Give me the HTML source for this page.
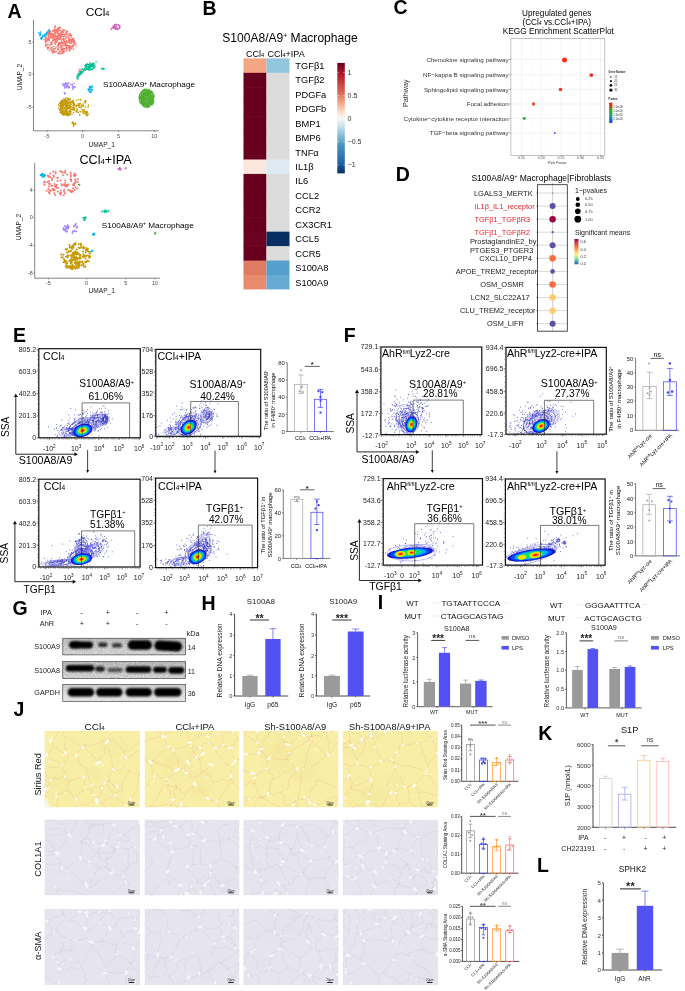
<!DOCTYPE html>
<html><head><meta charset="utf-8"><title>Figure</title>
<style>html,body{margin:0;padding:0;background:#fff;}svg{display:block;}
text{font-family:"Liberation Sans",Arial,"DejaVu Sans",sans-serif;}</style></head>
<body><svg width="685" height="991" viewBox="0 0 685 991">
<rect width="685" height="991" fill="#fff"/>
<text x="7.6" y="17.6" font-size="19.5" font-weight="bold">A</text>
<text x="97.5" y="15.5" font-size="11.8" text-anchor="middle">CCl<tspan font-size="0.62em">4</tspan></text>
<g stroke="#333" stroke-width="0.6">
<line x1="33.5" y1="19.9" x2="33.5" y2="130.8" stroke="#333" stroke-width="0.6"/>
<line x1="33.5" y1="130.8" x2="158.8" y2="130.8" stroke="#333" stroke-width="0.6"/>
<line x1="32.2" y1="42.2" x2="33.5" y2="42.2" stroke="#333" stroke-width="0.5"/>
<line x1="32.2" y1="74" x2="33.5" y2="74" stroke="#333" stroke-width="0.5"/>
<line x1="32.2" y1="107.2" x2="33.5" y2="107.2" stroke="#333" stroke-width="0.5"/>
<line x1="47.1" y1="130.8" x2="47.1" y2="132.1" stroke="#333" stroke-width="0.5"/>
<line x1="82.6" y1="130.8" x2="82.6" y2="132.1" stroke="#333" stroke-width="0.5"/>
<line x1="118.6" y1="130.8" x2="118.6" y2="132.1" stroke="#333" stroke-width="0.5"/>
<line x1="154.3" y1="130.8" x2="154.3" y2="132.1" stroke="#333" stroke-width="0.5"/>
</g>
<text x="31.5" y="44.1" font-size="5.4" text-anchor="end" fill="#4d4d4d">5</text>
<text x="31.5" y="75.9" font-size="5.4" text-anchor="end" fill="#4d4d4d">0</text>
<text x="31.5" y="109.1" font-size="5.4" text-anchor="end" fill="#4d4d4d">-5</text>
<text x="47.1" y="138" font-size="5.4" text-anchor="middle" fill="#4d4d4d">-5</text>
<text x="82.6" y="138" font-size="5.4" text-anchor="middle" fill="#4d4d4d">0</text>
<text x="118.6" y="138" font-size="5.4" text-anchor="middle" fill="#4d4d4d">5</text>
<text x="154.3" y="138" font-size="5.4" text-anchor="middle" fill="#4d4d4d">10</text>
<text x="101.7" y="147.3" font-size="6.6" text-anchor="middle" fill="#222">UMAP_1</text>
<text x="21.7" y="77" font-size="6.6" text-anchor="middle" fill="#222" transform="rotate(-90 21.7 77)">UMAP_2</text>
<path d="M47.9 44.3h0M68.4 37.6h0M47.1 41h0M63.4 49.7h0M49.5 33.4h0M66.1 45.3h0M70.7 47.6h0M57.9 39.1h0M74.1 40.1h0M52.1 33.4h0M60 42.8h0M55.3 41h0M61.8 47.2h0M69.4 43.1h0M45.8 45.7h0M46.7 40.3h0M46.4 41.5h0M51.1 43.2h0M74.5 41.3h0M66 32.6h0M56 47h0M58 44.7h0M60 33.6h0M64.5 35.1h0M72.8 38.5h0M66.1 41.5h0M68 36.9h0M68.7 40.5h0M70 45.9h0M60.4 35.1h0M66.6 45.3h0M72.2 39.1h0M64.7 45.7h0M62.1 43.3h0M60.9 36.5h0M49.3 38.5h0M63.8 51.5h0M67.5 48.9h0M66.5 46.9h0M60.9 47.8h0M72.7 39.5h0M54.1 52.6h0M61.4 49.1h0M66.6 33.6h0M71.5 48.8h0M60.8 47.7h0M60.3 34.4h0M57.8 44.7h0M69 46.6h0M59.5 51.2h0M51.8 47.6h0M69.4 39.3h0M46.1 36.2h0M61.5 46h0M70.8 35.3h0M59 46.9h0M58 29.4h0M64 53h0M67.9 35h0M54.6 43.4h0M73.8 44.5h0M59.9 52h0M58.4 52.8h0M52.1 37.6h0M64.9 51h0M65.7 44h0M45.7 37.3h0M52.8 37.1h0M65.1 38.7h0M67 42.2h0M55.4 42.5h0M63.2 48.3h0M53.9 39.5h0M49.5 50.5h0M71.5 40.3h0M54.7 32.6h0M60.8 43.3h0M73.7 42.8h0M54.4 29.8h0M71.3 42.8h0M45.8 42.7h0M52.5 52.8h0M69.2 45.7h0M57.8 29.7h0M57.9 31h0M63 30h0M51.3 49.8h0M70.7 34.7h0M47 47h0M66.7 34.3h0M52.2 36h0M48.5 36.7h0M69.9 46.3h0M73.5 41h0M57.7 33.8h0M57.9 32h0M45.8 45.7h0M70.6 46.9h0M70.8 43.3h0M51.6 42.2h0M55.5 33.1h0M47.8 33.6h0M58.9 42.8h0M55 51.3h0M60.9 46.4h0M69.4 35.8h0M45.3 45.7h0M53.1 50.5h0M62.2 49.3h0M64.1 30.3h0M66 36.2h0M51.4 38h0M66.2 48.1h0M66.4 31.7h0M55.4 29.7h0M57.9 46.6h0M51.3 43.5h0M61.2 49.3h0M51.3 35.3h0M53.3 52h0M69.4 40.6h0M61.5 42.5h0M61.2 39.7h0M56 32.4h0M54 51.9h0M64.7 42.1h0M56.7 42.1h0M62.6 36.2h0M61.1 43.6h0M51.9 35.4h0M50.4 34.1h0M64.4 30h0M56.2 36.4h0M52.5 42.3h0M69.6 42.1h0M57.5 36.3h0M57.7 48.8h0M55.4 33h0M48.9 34.3h0M48.2 48.4h0M62.8 39.4h0M71 37.1h0M66.1 47.6h0M48.6 33h0M50.6 48.1h0M69 33.8h0M68.9 38.6h0M54.9 36.9h0M56.5 30.4h0M50.7 33.3h0M62.4 53h0M74.2 40h0M45.6 38.9h0M52.7 52.3h0M64.6 35.7h0M67.9 45.6h0M46.1 38.1h0M56.4 41.7h0M60.4 38.6h0M61 36.6h0M52 51.1h0M62.8 45.2h0M45.9 40.4h0M65.9 32.7h0M69.3 38.6h0M63.3 40.3h0M61 50.4h0M55.7 51.8h0M51.8 34.6h0M65.4 33.7h0M55.4 48.6h0M67.3 31.7h0M62.7 52.6h0M70 39.7h0M52.8 39h0M48.3 39.5h0M57 40.2h0M69.9 39.8h0M47.7 48h0M49 38.1h0M57.6 38.5h0M49.3 39.6h0M73.4 38.3h0M57.7 50h0M66.1 47.4h0M64.9 30.6h0M50.4 42.5h0M63.4 50.7h0M64 39.5h0M59.4 39.6h0M61.5 47.1h0M55.6 35h0M51.5 49.3h0M69.5 48h0M66.9 47.7h0M59 47.1h0M48.9 39.9h0M51.9 47.2h0M52.9 40.6h0M62.5 51h0M51.7 34.5h0M66.2 33.6h0M63.6 36.8h0M58.2 30.3h0M66.1 37.5h0M53.1 52.5h0M62.1 53.7h0M63.3 38.5h0M59.9 52.1h0M58.7 45.4h0M64 34.4h0M60.4 37.2h0M48.5 47.4h0M65.9 42.1h0M52.9 30.6h0M64.2 40.7h0M45.5 41.1h0M46.2 41.3h0M60.5 44.6h0M61.4 43h0M48.5 38.6h0M53.6 39.5h0M61.8 46.7h0M67.3 31h0M63.3 39.8h0M73 46.1h0M45.8 44.1h0M54.1 49.1h0M48.9 40.7h0M57.6 40.6h0M54.7 30.6h0M63.4 49.1h0M58.3 33.6h0M61.1 46.3h0M57.1 41.4h0M69.9 34.5h0M55 30.4h0M52.2 35.7h0M50.1 36.3h0M72.8 40.3h0M58.2 53.4h0M58.5 30.5h0M62.9 34.2h0M70.6 34.4h0M54.4 31.2h0M59.9 33.6h0M58.3 38.2h0M53.2 48.7h0M68.2 42h0M51.1 33.9h0M60.7 53.6h0M54.5 35.2h0M52.7 33.5h0M49.5 39.9h0M71.4 41.5h0M54.9 31.1h0M61.3 41.3h0M49 34.4h0M58.6 49.4h0M65.5 43.2h0M55.5 44.3h0M58.9 53.4h0M48.5 38.7h0M70.4 39.6h0M71.4 41.2h0M60.6 38.3h0M48 35.2h0M73.4 44.9h0M64.7 48.7h0M64.3 49.2h0M56.1 39.6h0M68.5 38.8h0M47.2 39.9h0M53.5 46.5h0M52.5 33.8h0M56.3 51.8h0M58.5 42.9h0M59.1 44.1h0M66.5 50.5h0M47.7 49.1h0M59 38.7h0M74 40.6h0M72.2 46.8h0M49.3 45.2h0M66.5 40.5h0M44.2 39.7h0M57.2 33.1h0M72.9 40h0M54.8 38.9h0M51.6 35.6h0M60 44.2h0M53.6 40.7h0M47.1 45.1h0M51.4 43.3h0M50.3 37.5h0M61 32.5h0M74.1 41.3h0M58.3 35.4h0M70.1 49.2h0M61.6 31.8h0M53.9 46.5h0M54.4 32.9h0M48.7 36.1h0M59.1 36.1h0M59.1 53.9h0M71.5 35.6h0M62.7 42.3h0M57.7 49.6h0M55.5 38.7h0M55 40.6h0M69.9 46.8h0M47.3 38.4h0M51.5 47.7h0M61.2 48.6h0M58.5 30.1h0M63.8 43.4h0M63.4 32.3h0M59.8 35.8h0M52 44.4h0M62.5 34.4h0M50.2 31.3h0M53.8 49.7h0M58.6 29.5h0M50.5 44.8h0M70.9 48.2h0M62.9 43.2h0M49.1 38.1h0M55.7 35.2h0M59.7 38.1h0M61.9 51.4h0" stroke="#F8766D" stroke-width="1.64" stroke-linecap="round" fill="none"/>
<path d="M59.8 34.9h0M55 27.2h0M55.4 35.6h0M51.7 37.6h0M54.2 34.8h0M54.5 27.9h0M62.8 29.7h0M60.5 30.6h0M57.4 29.3h0M53.9 37h0M62.9 30.4h0M56.1 37.2h0M52.8 36.2h0M52.1 35.7h0M58 37.9h0M57.7 28.1h0M59.1 28.5h0M59.1 38.5h0M59.1 30.5h0M61.7 33.7h0M50.2 31.6h0M62.3 31.8h0M56.7 31.3h0M49.2 31.2h0M58 34h0M55.4 26.4h0M61.5 35.8h0M60.3 37.8h0M53.7 30.2h0M57.3 39h0M49.1 32.2h0M52.3 35.5h0M62.4 31.9h0M50.1 33.2h0M54.8 27.2h0M60.4 30.7h0M59 27.9h0M60.3 28h0M59.8 27.3h0M62.2 31.5h0M49.3 32.1h0M57.7 28.7h0M53.3 34.3h0M55.6 26h0M53.7 35h0M57.5 37.4h0M53.9 39.7h0M60.1 34.4h0M60.8 36.7h0M56.5 30.1h0M61 34.8h0M49.4 29.6h0M58.6 33.5h0M57.5 36h0M56.6 38.9h0M52.9 31.1h0M57.7 36.4h0M59.3 38.4h0M53.8 37.8h0M58.3 28.6h0" stroke="#F8766D" stroke-width="1.64" stroke-linecap="round" fill="none"/>
<path d="M69.6 50.6h0M73.3 41.9h0M63.9 42h0M67 44.4h0M76 46.1h0M71.3 39.9h0M65.4 43.1h0M69 50.9h0M68.3 41.1h0M74.5 44.3h0M66 48.5h0M68.8 38.7h0M71.4 46.3h0M68.6 47.2h0M73.2 40.3h0M65.8 38.7h0M69.5 49.1h0M73.3 49h0M75.9 44.1h0M73.3 38.8h0M72.9 45.8h0M69.6 41.9h0M65.6 44.6h0M74.8 42.5h0M72.2 41h0M71 39.6h0M71.7 42.9h0M71.4 41.2h0M65.5 42.6h0M73.3 49.3h0M68.6 47.6h0M73.2 45.8h0M64.6 45.2h0M66.6 48.5h0M73.2 46.7h0M63.8 45.6h0M72.5 39h0M74 44.3h0M69.2 40.7h0M66 42.1h0" stroke="#F8766D" stroke-width="1.64" stroke-linecap="round" fill="none"/>
<path d="M40.8 32.1h0M40.3 35.1h0M41.2 38.3h0M40.7 38.4h0M41.4 37.4h0M42.4 37.3h0M44.9 35.7h0M40.3 33.8h0M44.9 34.8h0M42.4 38h0M40.1 33.9h0M40 34.3h0M47.2 32.4h0M44.8 34.4h0M41.5 39.2h0M38.7 32.9h0M49 30.2h0M44.9 36.3h0M41.4 37.6h0M40.6 38.4h0M46.5 33h0M46.7 33.5h0M41.3 38h0M46.3 34.7h0M45.7 34.3h0M48 31.4h0M40 34.3h0M44.5 36.4h0M41.3 38.2h0M49.7 32.5h0M42.7 36.8h0M42.9 35.3h0M46.4 33.1h0M46.4 34.7h0M39.8 35.5h0M40.4 35.1h0M40.6 34.4h0M47.9 31.3h0M44.9 34.6h0M44.1 36.3h0" stroke="#00B6EB" stroke-width="1.64" stroke-linecap="round" fill="none"/>
<path d="M117.3 29.2h0M118 28.7h0M115.1 26.7h0M114.6 27h0M114.5 26.5h0M116 26.7h0M115.8 26.2h0M119.3 26.6h0M114.1 27.6h0M114.3 25.5h0M116.7 24.6h0M112.7 27.5h0M118.3 24.8h0M114.4 28.3h0M113.2 26.1h0M113.8 26.8h0M113.2 28.4h0M116.1 27.8h0M115.9 24.4h0M116.2 24.9h0M116.5 25.5h0M115.7 26.8h0M118.3 28.6h0M114.1 27.2h0M119.5 28h0M114.7 27h0M115.7 29h0M116.6 28h0M119.7 25.6h0M114.7 24.8h0M113.5 28.5h0M117.1 29.8h0M113.2 26h0M119.3 28.8h0M118.5 28.7h0M116.6 27.2h0M116.6 28.8h0M116.1 27.9h0M119.2 25.5h0M114.7 28.3h0M115.8 26.9h0M120 27.8h0M115.5 29.2h0M119.9 26h0M114.8 27.4h0" stroke="#D068C0" stroke-width="1.64" stroke-linecap="round" fill="none"/>
<path d="M110.9 29.5h0M111.4 28.4h0" stroke="#F8766D" stroke-width="1.64" stroke-linecap="round" fill="none"/>
<path d="M91.4 65.4h0M82.2 71.7h0M79.5 73h0M93.7 64.4h0M88.7 67.6h0M92.8 63.7h0M90 65.2h0M78.5 77h0M89.5 66.2h0M79.6 71.3h0M81.9 68.9h0M87 68.1h0M93.8 63.2h0M90.4 67.9h0M83 69.5h0M77.2 76.2h0M81 72.3h0M81.5 71.4h0M80.7 72.1h0M93.9 64.1h0M84.7 68.3h0M93.6 63.9h0M85.7 66.9h0M88.3 64.7h0M86.4 67.2h0M86.3 68.1h0M91.6 66.2h0M78.8 73.7h0M91.2 64.1h0M85.4 70.3h0M86.8 69h0M87.3 64.5h0M79.8 74.2h0M84.2 69.2h0M81.2 72.2h0M92.6 63.5h0M91.2 65.5h0M82.9 72.1h0M86.6 66.5h0M88.6 68.2h0M79.5 74.8h0M89.7 64h0M77.2 77h0M80.5 73.3h0M85.4 65.6h0M77.5 75.2h0M78 79.2h0M78.4 75.4h0M84.3 70.1h0M96.1 61.7h0M80.4 74.5h0M78.2 73.5h0M81.3 73.6h0M88.3 67h0M88.8 66.5h0M89.9 64.6h0M92.2 64.4h0M90.9 65.7h0M79.8 73.9h0M86.6 68.5h0M79.2 73.5h0M86.1 69.5h0M93.1 65.3h0M77.9 75.2h0M82 72.5h0M79.1 74.1h0M89.2 66.5h0M80.3 74.2h0M90.1 62.7h0M77.1 78.3h0M79.1 75.3h0M90.3 65h0M83.5 70.8h0M79.1 74.5h0M80.7 72.4h0M78.9 74.1h0M89.3 64.9h0M79.7 75.2h0M82 71.7h0M80.1 74.1h0" stroke="#00C094" stroke-width="1.64" stroke-linecap="round" fill="none"/>
<path d="M90.3 67.7h0M94.7 67.4h0M85.1 65.7h0M93.2 66.7h0M87.2 64.1h0M91 69.8h0M87.1 64h0M92 65.8h0M88.8 66.2h0M86.6 68h0M93.5 67.8h0M88 69.2h0M89.6 68.4h0M86.6 68.4h0M92.4 69.5h0M90.1 68.1h0M87.9 68.9h0M92.7 69.2h0M88.7 64.5h0M89.7 66.5h0M87.2 68.3h0M93.5 67.9h0M94 67.8h0M86.5 65.8h0M88.6 68.6h0M93.5 67.3h0M93.5 65.3h0M89.6 69.9h0M91.6 69.2h0M85.6 64.7h0M87 69h0M94.9 65.9h0M86.7 65h0M86.7 68.2h0M89.1 70.1h0M92.7 65.5h0M91 66.6h0M92.8 68.9h0M88.7 69h0M92.3 66.8h0" stroke="#00C094" stroke-width="1.64" stroke-linecap="round" fill="none"/>
<path d="M103.3 69.1h0M102.7 68.5h0M104.2 68.8h0M102.4 69h0M101.7 68.8h0M101.8 68.6h0M101.6 68.6h0M103.9 68.7h0" stroke="#00C094" stroke-width="1.64" stroke-linecap="round" fill="none"/>
<path d="M79 71.8h0M79.3 71.6h0M79.4 69.3h0M80.8 70.1h0" stroke="#F8766D" stroke-width="1.64" stroke-linecap="round" fill="none"/>
<path d="M68.4 87.6h0M63.1 85.6h0M64.9 86.8h0M66.5 83.2h0M66.7 87.1h0M65.6 86.7h0M64.9 85.4h0M67.6 85.8h0M69.5 87.1h0M68.8 86.9h0M66.9 83.3h0M68.7 88h0M67.2 85h0M66.4 87.8h0M67.3 83.6h0M66 83.9h0M66 83.7h0M64.5 87.9h0M68.8 83.1h0M63.8 84.6h0M65.6 83.1h0M68.5 83h0M68.5 86.9h0M65.5 84.2h0M66.7 85.8h0M62.8 83.9h0M68.1 85.3h0M65.4 83.6h0M64.6 84h0M70.6 84.2h0" stroke="#A58AFF" stroke-width="1.64" stroke-linecap="round" fill="none"/>
<path d="M75.1 87.4h0M73.8 87h0M73.1 89.4h0M74.2 86.5h0M73.3 87h0M72.2 85.9h0M72.7 87.9h0M74.1 83.5h0M73.2 88.6h0M72.2 84.4h0" stroke="#A58AFF" stroke-width="1.64" stroke-linecap="round" fill="none"/>
<path d="M65.2 93.4h0M64.2 92.5h0M64.6 93h0M64.7 93.9h0M65 93.2h0" stroke="#A58AFF" stroke-width="1.64" stroke-linecap="round" fill="none"/>
<path d="M89.7 89h0M90.4 89.4h0M89.7 88.3h0M89.6 87.5h0M90.9 91.5h0M89.7 90.3h0M91.2 89.2h0M91.7 87.6h0M91.6 89.7h0M88 89.3h0M91.3 92.3h0M88.9 89.1h0M91.2 86.7h0M92.4 89.9h0M89.5 86.4h0M90.2 92.5h0M92.3 86.1h0M88.4 90.1h0M90.4 87.3h0M91.7 89.2h0M91.1 89.6h0M89.2 91.5h0" stroke="#00B6EB" stroke-width="1.64" stroke-linecap="round" fill="none"/>
<path d="M144.7 104.3h0M150.2 98.5h0M147.5 98h0M140 96.8h0M148.4 90.6h0M141.2 103.1h0M149.8 91.1h0M149.1 97.9h0M151.3 96.4h0M145.6 93.8h0M147.7 97.4h0M143.5 96.2h0M143.2 101.8h0M142.9 91.3h0M142.7 103.7h0M144.3 102.1h0M150.3 95.3h0M150.4 101.2h0M146.5 94h0M146.5 91.4h0M145.3 94.7h0M149 100.3h0M143.8 103.1h0M152.1 98.6h0M143.2 101.2h0M139.5 96.1h0M148.7 106.5h0M143.9 105.4h0M152.6 104h0M140 102h0M147.6 104h0M145.8 94.5h0M145.8 105.7h0M150.8 96.5h0M148.5 103.2h0M149.6 98h0M143.6 94h0M144.5 94.9h0M141.4 92.4h0M150.4 92.5h0M141 98h0M151.9 103.7h0M144.8 92.4h0M144.2 93.1h0M144 101.1h0M142.1 94.1h0M145.3 98h0M143.2 93.8h0M141.8 94.3h0M149.4 96.7h0M139.3 100h0M146.4 93.1h0M146.1 89.1h0M140.9 103.1h0M152 104.7h0M143 98.4h0M150 91.9h0M153.1 95h0M148.3 91.9h0M148.6 98.1h0M151.1 92.5h0M146.7 106.5h0M141.4 100.1h0M148.9 95.2h0M145.6 105.5h0M151.8 101.3h0M147.9 91.9h0M147 106.4h0M150.8 91.8h0M139.8 95.5h0M147.6 94.8h0M145.1 100.4h0M151.1 99.4h0M151.3 91.9h0M149.1 100.8h0M141.3 103.7h0M141.3 92.3h0M153.5 102.2h0M148.3 105.2h0M151.3 92.7h0M148.7 105.3h0M145.8 98.7h0M144.4 102.6h0M143.9 94.7h0M141.6 93.6h0M147.8 101.2h0M144.9 92.3h0M148.5 100.5h0M152.2 95.6h0M144.6 101.4h0M153 98h0M146.3 92.7h0M144.9 103.7h0M150.4 104h0M140.6 102h0M142.4 101.6h0M139.3 97.8h0M143.1 104.5h0M147.2 105.2h0M145.2 106.6h0M145.1 106.5h0M144.4 92.6h0M151 95.9h0M146.5 91.1h0M144.9 98.9h0M143.2 100.6h0M139.8 101.5h0M145 105.6h0M144.9 94.2h0M144.4 100h0M149.7 95.4h0M142.8 100.8h0M149.7 90.5h0M142 94.5h0M152.5 103.3h0M150.6 101.1h0M142.1 103.7h0M144.5 93.5h0M152.6 92.8h0M152.7 99.3h0M142.2 99.3h0M142.5 99.3h0M143.9 91.9h0M154.1 96.5h0M151.5 97.9h0M149.6 91.7h0M144.4 89.4h0M151.4 100.7h0M141.7 102.5h0M148.2 107.2h0M147.9 103.6h0M149.7 102.7h0M146.6 95.5h0M149.8 104.6h0M142 92.7h0M146.6 106.5h0M145.9 90.2h0M150.5 102.5h0M153.7 99h0M153.5 95.2h0M151.2 99h0M141.3 96.7h0M151.9 103.5h0M145 104.4h0M150.8 103.1h0M148.2 100.2h0M142.6 97.8h0M147.3 93.7h0M145.2 99.3h0M147.7 104.3h0M141.9 96h0M148.2 95.8h0M148.5 95.3h0M152.1 97h0M141.8 102.2h0M151.6 91.4h0M146 98.7h0M150.6 105h0M146.1 90.5h0M149.8 103.8h0M149.2 98.7h0M144.4 106.8h0M142.3 91.6h0M151.4 99.9h0M150.1 100.4h0M152.3 103.9h0M144.2 103.9h0M142.6 91.1h0M152.1 95.9h0M139.5 98.1h0M143.4 101.3h0M146.4 93.5h0M143.3 102.6h0M142.2 99h0M142.1 100.8h0M153.3 100.8h0M151.8 100.7h0M142.1 96.5h0M147.1 101.1h0M143.7 101.9h0M143.1 98.6h0M146.7 91.8h0M151.5 98.5h0M147.3 98h0M140.5 93.2h0M142.8 103.5h0M143.9 101.9h0M142.2 93.7h0M144.6 104.2h0M140.1 97.4h0M148.9 99.1h0M146.7 103h0M148.1 92.4h0M149.8 93.7h0M145.3 105.6h0M153.2 102.9h0M148.8 93.6h0M143.9 105.8h0M148.2 91h0M152.9 101h0M152.4 100.4h0M139.8 95.4h0M146 97.1h0M152.7 95h0M146.2 97.9h0M146.3 92.3h0M143.5 90h0M148.5 96.9h0M147.7 92.2h0M146.7 92.5h0M141.9 100.2h0M149.9 101.7h0M146.5 95.8h0M151.9 103.8h0M143.9 92.3h0M148.7 100.3h0M144 106.6h0M139.9 94.9h0M147.9 103.9h0M139.9 96.3h0M151.8 104.2h0M145.4 98.5h0M142.5 100.5h0M143.3 90.3h0M140.4 98.5h0M141.6 103.5h0M151.9 103.1h0M149.6 104.3h0M148 103.4h0M149 102.9h0M142.1 94.6h0M142.3 102.7h0M149.2 93.6h0M142.1 95h0M151 97.6h0M145.5 94h0M146.2 106h0M143.3 96.1h0M153 101.5h0M142.1 103.6h0M141.3 101.2h0M139.7 94.9h0M151 94.9h0M143.1 98.6h0M146.7 95.3h0M144.3 106.1h0M152.9 99.9h0M141.6 95.4h0M145.2 101.3h0M153 95.8h0M147.5 95.5h0M147.5 94h0M148.4 104.6h0M144.7 96.2h0M147.2 91.2h0M152.6 93h0M145 93h0M152.8 95.8h0M144.9 106.4h0M146.1 93.5h0M146.7 99.5h0M143 97.1h0M145.7 102.7h0M150.3 102.9h0M146.1 103.1h0M145.8 104.7h0M148.8 95.6h0M151.2 91.6h0M142.4 93.9h0M146.1 91.5h0M142.8 90.8h0M147.3 93.6h0M153.6 101.2h0M142.3 104.4h0M147.2 104.4h0M142.2 103.9h0M151.8 95.9h0M142.6 96h0M147.5 107.1h0M152.4 103.9h0M145.6 96.1h0M148.7 96.5h0M144.3 96.9h0M150.9 97.8h0M148 96.6h0M145.7 96.1h0M152.3 99.5h0M153 97.4h0M150.8 91.8h0M144.6 97.9h0M143.5 97.5h0M142.2 97.3h0M143.3 98.2h0M145.3 92.5h0M144.6 98.4h0M141 98.8h0M152.3 97h0M149.5 102h0M143.4 104.8h0M153.7 94.8h0M153.7 95.5h0M151.3 91.3h0M152 99h0M141.4 94.1h0M142.2 93.5h0M148.7 97.1h0M139.3 97.1h0M149.2 98.8h0M151.8 91.6h0M148 98.4h0M149.7 91.5h0M141 97.3h0M147 89.9h0M148.7 98.2h0M148.8 89.5h0M149.1 93.1h0M144.4 102.9h0M153.3 99h0M146.3 105.2h0M142.4 97.3h0M144.4 92.7h0M147.4 106.8h0M148 101.4h0M146.6 104.6h0M147.6 93h0M147.2 105.6h0M146.3 104.8h0M146.5 106.8h0M148.2 102.3h0M145.3 103.2h0M145.8 90.7h0M148.1 91.7h0M152.5 102h0M146.8 102.5h0M140.2 102.9h0M143.6 102.2h0M153.1 93.3h0M144.6 100.4h0M148.4 90.3h0M143.1 105.2h0M143.7 101.6h0M141.2 93.8h0M139.9 99.5h0M152 98.8h0M145.3 99.8h0M149.2 96.4h0M148.7 106.5h0M153.8 96h0M142.7 105.6h0M150.7 104.2h0M149.8 96.8h0M150.8 103.9h0M151.5 92.9h0M151.6 96.3h0M144.9 100.5h0M145.6 107h0M149.6 99.9h0M145.7 99.9h0M145.6 101.9h0M150.7 102.9h0M141.2 96.5h0M147.1 91.5h0M148.8 97.3h0M147.1 100.7h0M144.3 105.7h0M151.5 95.2h0M149 102.7h0M143 96.1h0M148.7 89.5h0M141 100h0M149.6 93h0M149.4 106.5h0M147.9 98h0M147.1 92.4h0M149.6 99.4h0M149.7 105.2h0M147 99.5h0M148 106.3h0M140.6 98.2h0M143.5 99.1h0M150.9 98.7h0M150.4 99.4h0M143.3 94.4h0M140.8 99.4h0M144.8 103.2h0M151 93.5h0M141.9 101.6h0M142.5 99.5h0M149.8 95.9h0M153.2 94.9h0M149 95.7h0M139.2 97.7h0M145.9 101.9h0M146.1 93.8h0M144.1 96.4h0M150.5 96.6h0M151.9 102.6h0M143.4 103.8h0M139.4 98.4h0M142 97.7h0M152.1 98.3h0M146 105.1h0M143.2 93.6h0M151.2 101.7h0M140.7 99h0M150.7 97.3h0M144.6 99.1h0M147.8 94h0M149.9 91h0M146.5 106.9h0M141.7 98.1h0M139.7 95.2h0M141.4 98.6h0M144.9 106.4h0M142.3 98.1h0M147.9 102.2h0M150.1 91.1h0M153.9 97h0M144 90.7h0M145.1 90.2h0" stroke="#52B030" stroke-width="1.64" stroke-linecap="round" fill="none"/>
<path d="M68.1 103.4h0M68.9 102.4h0M67.3 115.6h0M73 107.9h0M62.8 113.7h0M60.8 101.5h0M73.2 104h0M73.4 109.9h0M73.5 112.7h0M70.3 103.4h0M69.8 113.9h0M67.4 98.1h0M64.8 104.8h0M66.7 104.8h0M72 101.2h0M68.8 98.8h0M59.5 103.3h0M63.2 102.2h0M63.2 110.6h0M70.4 107.5h0M68.2 102.9h0M62.7 100.5h0M64.9 100.9h0M65.2 111.3h0M69.6 113.7h0M63.8 99h0M63 114.6h0M70.9 104.4h0M73.4 104.9h0M74.3 105.2h0M64.8 111.1h0M61.1 106.1h0M74.7 108.8h0M61.3 105.6h0M66.9 102.5h0M69 113.5h0M67.3 112.1h0M68.8 107.9h0M63.2 112.2h0M73.5 104.7h0M62.3 109.9h0M67.5 113.2h0M69.9 106.2h0M60.6 110h0M67.5 100.3h0M61.8 100.2h0M70.5 104.4h0M58.8 104.7h0M63.4 106.3h0M67.2 104.9h0M70.7 112.4h0M66 114.6h0M66.3 102h0M67.7 99.8h0M65.4 101.1h0M64.5 108.2h0M58.8 108.4h0M68.5 105.6h0M71 109h0M65.1 101.4h0M70.9 111.2h0M60.4 103.6h0M61.4 111.2h0M64.2 100.6h0M73.9 109.2h0M68.4 108.5h0M65.9 107.2h0M71.8 109.5h0M64.3 107.6h0M74.5 104.6h0M60.5 107.6h0M63.6 115.2h0M70.4 110.4h0M68.4 115.2h0M61.6 106.7h0M60.6 112h0M66.6 115h0M65.5 101.2h0M63.3 111.4h0M62.4 108.5h0M63.1 102.9h0M64.5 114.5h0M61.4 108.7h0M71.2 102.8h0M61.3 113h0M74.5 105.8h0M61.3 111.3h0M66.7 102.1h0M65.7 98.3h0M63.1 100.9h0M60.7 109.9h0M68.1 114.8h0M58.8 104.8h0M63.1 113.4h0M72.5 107.6h0M67.4 102.4h0M64 104.2h0M60.2 112.3h0M69.7 115.1h0M73 109.5h0M70.4 99.6h0M61.9 111.4h0M65.3 99.4h0M66.9 100.2h0M66.9 114.6h0M61.2 104.5h0M70.1 106.7h0M67.9 102h0M65.8 98.3h0M66 113.7h0M61.1 105.9h0M70.3 113.2h0M72.4 102.5h0M65.1 114.8h0M64.2 108.7h0M62.5 103.2h0M58.7 105.3h0M59.5 103.3h0M62.5 113.3h0M71.1 109.2h0M64.5 100h0M69.5 102.1h0M66.2 112.3h0M65.7 106.7h0M62.1 112.2h0M69.8 111h0M72.7 100.8h0M67 110.8h0M68.8 108.8h0M69 99.6h0M66.5 113.3h0M66.5 105.6h0M70.3 99.4h0M68.7 114.3h0M65.5 102h0M69.9 104.1h0M62.3 107.8h0M59.8 109.9h0M61 104h0M71 106.7h0M68.1 114h0M71.9 114.2h0M63.9 112h0M60 110.4h0M73 103.2h0M69.4 111.7h0M65.9 103h0M72.9 101.4h0M67.8 112.4h0M68 114.6h0M73.8 109.2h0M74.2 110.2h0M60.7 105.2h0M68.5 108.1h0M61.9 114.1h0M60.6 102.1h0M69.5 108.1h0M74 108h0M69 111.2h0M63.5 100.5h0M64.4 112.5h0M65.5 113.5h0M63.9 111.2h0M67 111.9h0M66.9 108.1h0M64.6 113.4h0M66.7 110h0M70.3 101.9h0M62.3 106.6h0M72.6 101.9h0M62 101.9h0M64.9 101h0M62.5 109.9h0M61.2 106.8h0M60.9 105.8h0M68.9 98.7h0M67.2 108.3h0M66.5 108.5h0M68.9 100.2h0M66.2 110.8h0M72.3 101h0M64.1 100.2h0M66.8 100.9h0M61.9 111h0M73.2 100.9h0M73.7 102.9h0M70.8 109h0M73.2 105.8h0M62.3 106.5h0M71 102.1h0" stroke="#C49A00" stroke-width="1.64" stroke-linecap="round" fill="none"/>
<path d="M66.4 105.9h0M65.6 106h0M66.9 109h0M63.9 104.5h0M60.5 103.8h0M61 108.1h0M61.8 103.5h0M66.6 109.6h0M68.3 103.1h0M65.7 109.9h0M62.2 105.1h0M61.5 103.8h0M67.3 106.3h0M63.7 103.7h0M68.9 108.3h0M62.5 111.1h0M63.5 105.3h0M63.3 103.7h0M66.7 101.3h0M65.1 104.6h0M69.4 107.1h0M66.4 108.1h0M67 106.5h0M60.2 107h0M63.9 108.8h0M66 103.7h0M62.4 102.5h0M66 105.5h0M62.1 104.6h0M66.1 103.3h0M64.5 103.5h0M60.1 106.2h0M65.2 109.2h0M68.6 103.6h0M67 107h0M65.2 109.2h0M67.3 101.8h0M69.1 105.4h0M62.9 103.3h0M64.3 101.9h0M68.3 107.5h0M62.3 108.9h0M65.8 106.3h0M68 105.6h0M64.1 108h0M61 102.8h0M66.5 109.8h0M60.6 106h0M62.8 104.8h0M66.6 110.7h0M69.1 108.6h0M67.1 106.5h0M60.5 107.1h0M61.8 102.5h0M65.3 100.9h0M69.3 107.7h0M66.2 107.9h0M65.8 106.2h0M67.2 103.4h0M65.9 106.7h0" stroke="#C49A00" stroke-width="1.64" stroke-linecap="round" fill="none"/>
<path d="M84.5 101.9h0M82.3 106.2h0M84.3 109.8h0M82 109.5h0M83 113.1h0M82.6 109.9h0M76.2 105.9h0M84.6 111.9h0M76 106.8h0M79.4 107.3h0M78.4 104.7h0M80.6 107.7h0M85.7 103h0M76.4 110.7h0M83.7 105.9h0M76 111.5h0M76.3 111.8h0M82.4 106.1h0M80.1 111.2h0M81 99.9h0M78.6 99.7h0M83 111.6h0M85.2 101.4h0M87 112.1h0M80.6 99.6h0M77 111.7h0M88.3 105.1h0M74.3 103.5h0M88.3 107h0M76.6 100.5h0M84.1 111h0M78.3 105.9h0M81.4 105h0M78.1 103.9h0M78.2 112.6h0M82.9 112h0M86 100.8h0M80.6 111.8h0M79.8 103.7h0M83.1 104.1h0M76.6 105.4h0M81.3 107h0M85.6 107.1h0M79.7 114.9h0M79.7 105.4h0M80.2 103.2h0M74.2 107.8h0M85.8 100.9h0M77 109.1h0M77.4 109.7h0" stroke="#C49A00" stroke-width="1.64" stroke-linecap="round" fill="none"/>
<path d="M86.4 112.3h0M86.1 113.1h0M87 111.6h0M87.1 115.9h0M86.7 114.4h0M85.6 114.6h0M86.3 112.1h0M85.4 111.8h0M87.2 114.3h0M88.2 114.4h0M87.4 112.2h0M84.3 113.3h0" stroke="#C49A00" stroke-width="1.64" stroke-linecap="round" fill="none"/>
<path d="M73.4 124.8h0M73.8 123.9h0M74.1 124.6h0M74.3 124.7h0M73.2 124h0M72.3 122.9h0M73.5 124.9h0M73 122.4h0M75.3 123h0M72.1 123.1h0M73 122.1h0M73.5 126.3h0M72.9 123h0M75.7 124.3h0" stroke="#C49A00" stroke-width="1.64" stroke-linecap="round" fill="none"/>
<text x="103" y="87.2" font-size="7.4" textLength="92" lengthAdjust="spacingAndGlyphs">S100A8/A9<tspan font-size="4.5" dy="-2.6">+</tspan><tspan dy="2.6"> Macrophage</tspan></text>
<text x="105.5" y="164.4" font-size="12.6" text-anchor="middle">CCl<tspan font-size="0.62em">4</tspan>+IPA</text>
<g stroke="#333" stroke-width="0.6">
<line x1="34.7" y1="162.9" x2="34.7" y2="278.2" stroke="#333" stroke-width="0.6"/>
<line x1="34.7" y1="278.2" x2="160" y2="278.2" stroke="#333" stroke-width="0.6"/>
<line x1="33.4" y1="190" x2="34.7" y2="190" stroke="#333" stroke-width="0.5"/>
<line x1="33.4" y1="217.5" x2="34.7" y2="217.5" stroke="#333" stroke-width="0.5"/>
<line x1="33.4" y1="245.2" x2="34.7" y2="245.2" stroke="#333" stroke-width="0.5"/>
<line x1="33.4" y1="272.8" x2="34.7" y2="272.8" stroke="#333" stroke-width="0.5"/>
<line x1="48.4" y1="278.2" x2="48.4" y2="279.5" stroke="#333" stroke-width="0.5"/>
<line x1="86.4" y1="278.2" x2="86.4" y2="279.5" stroke="#333" stroke-width="0.5"/>
<line x1="125.8" y1="278.2" x2="125.8" y2="279.5" stroke="#333" stroke-width="0.5"/>
<line x1="155" y1="278.2" x2="155" y2="279.5" stroke="#333" stroke-width="0.5"/>
</g>
<text x="32.7" y="191.9" font-size="5.4" text-anchor="end" fill="#4d4d4d">4</text>
<text x="32.7" y="219.4" font-size="5.4" text-anchor="end" fill="#4d4d4d">0</text>
<text x="32.7" y="247.1" font-size="5.4" text-anchor="end" fill="#4d4d4d">-4</text>
<text x="32.7" y="274.7" font-size="5.4" text-anchor="end" fill="#4d4d4d">-8</text>
<text x="48.4" y="285.4" font-size="5.4" text-anchor="middle" fill="#4d4d4d">-5</text>
<text x="86.4" y="285.4" font-size="5.4" text-anchor="middle" fill="#4d4d4d">0</text>
<text x="125.8" y="285.4" font-size="5.4" text-anchor="middle" fill="#4d4d4d">5</text>
<text x="155" y="285.4" font-size="5.4" text-anchor="middle" fill="#4d4d4d">10</text>
<text x="101.7" y="292.5" font-size="6.6" text-anchor="middle" fill="#222">UMAP_1</text>
<text x="20.9" y="227" font-size="6.6" text-anchor="middle" fill="#222" transform="rotate(-90 20.9 227)">UMAP_2</text>
<path d="M59.8 193.2h0M47.4 182.2h0M67.4 184.6h0M48.7 175.9h0M77.9 182.1h0M57.8 191.6h0M44 182.4h0M46.6 190.8h0M49.1 183.7h0M49.7 183.8h0M65.1 182.8h0M56.7 185h0M57.8 178.1h0M68.3 189.9h0M47.7 175.7h0M51.3 185.3h0M48.9 192.2h0M61.5 184.2h0M70.9 176.6h0M65.7 186.5h0M73.7 175.4h0M75.4 187.2h0M63.9 191.6h0M57.6 180.9h0M71.1 179.7h0M71.4 192.2h0M63.8 184.4h0M53.5 175.2h0M74.7 175.8h0M62.1 185.6h0M50.6 177.2h0M55.3 195.1h0M64.9 193.3h0M77.3 188.6h0M75.2 179.4h0M54.1 193.2h0M74.9 175.9h0M74.1 185.2h0M70 190.5h0M77.8 178.9h0M61.1 192.8h0M57.8 187.9h0M60.3 171h0M54.6 190.3h0M55.7 171.9h0M54.6 183.9h0M67.5 185.9h0M67.2 174.4h0M53.9 176.4h0M55.6 187h0M75.6 181.1h0M72 191h0M48.8 176.7h0M62.8 172.4h0M74.4 173.5h0M48.3 188.8h0M52.4 188.9h0M50.8 190.9h0M54.2 189.2h0M70.7 172.9h0M53.2 171.7h0M49.5 189.9h0M60.9 190.4h0M74.7 189.9h0M70.2 179.3h0M56.3 186h0M70.5 191.2h0M65.3 180.3h0M60.5 194.6h0M63.7 195.3h0M53.1 190.2h0M64.1 189.7h0M52.1 186.1h0M60.6 180.5h0M50.1 173.5h0M57.2 188h0M64.9 185.4h0M64.9 172.7h0M73.7 183.7h0M52.3 178.4h0M73 184.7h0M49.6 193.4h0M49.4 192.8h0M70.7 175.3h0M73 191.4h0M73 188.2h0M65.7 185.2h0M54.6 185.6h0M75.4 182.3h0M75.8 174.8h0M61.8 172h0M44.5 184.8h0M57.3 178.1h0M49 181.2h0M45 181.7h0M55.6 173.3h0M65.2 170.9h0M67.1 185.6h0M68.3 184.4h0M71.2 180.9h0M49 186.2h0M51.8 180h0M63 175.2h0M70.6 172.8h0M75.1 182.9h0" stroke="#F8766D" stroke-width="2.0" stroke-linecap="round" fill="none"/>
<path d="M44.5 176.1h0M43.7 175.6h0M42.7 174.1h0M41.7 174.4h0M41.4 175.2h0M41.3 175.5h0M42.1 174.8h0M43.2 175.8h0M40.6 175h0M45 175.3h0M43.3 174.5h0M43.7 176.5h0M43.5 175.2h0M42.6 173.9h0M43.6 175h0M43.2 175.7h0M42.8 176.8h0M44 174.7h0" stroke="#00B6EB" stroke-width="2.0" stroke-linecap="round" fill="none"/>
<path d="M120.8 169.2h0M120.1 169.7h0M119.7 167.7h0M118.8 169h0M118.8 168.8h0M118.4 169h0" stroke="#D068C0" stroke-width="2.0" stroke-linecap="round" fill="none"/>
<path d="M125.9 168.1h0M125.7 168.4h0" stroke="#D068C0" stroke-width="2.0" stroke-linecap="round" fill="none"/>
<path d="M79.4 184.8h0M78.9 184.8h0" stroke="#52B030" stroke-width="2.0" stroke-linecap="round" fill="none"/>
<path d="M155 233.7h0M155.3 232.8h0M154.9 233.4h0" stroke="#52B030" stroke-width="2.0" stroke-linecap="round" fill="none"/>
<path d="M102.1 211.5h0M106.5 211.7h0M105.6 210.4h0M104.7 211.3h0M108.4 211.1h0M104.5 212h0M104.4 210.7h0M105.1 211.6h0" stroke="#00C094" stroke-width="2.0" stroke-linecap="round" fill="none"/>
<path d="M85.2 217.6h0M84.6 220h0M84.2 219.9h0M85.3 218.2h0M85.7 217.6h0M83.4 218.1h0" stroke="#00C094" stroke-width="2.0" stroke-linecap="round" fill="none"/>
<path d="M67.5 227.4h0M67.8 227.9h0M66.5 226.7h0M65.1 230.5h0M67.8 225.2h0M67.1 231.6h0M67.9 225.9h0M68 228.7h0M65.3 230.5h0M68.9 226.9h0M66.5 227h0M66.1 231.4h0M65 229.6h0M66.8 228.3h0M63.5 229.5h0M63.6 229.8h0M65.9 228.5h0M64.9 225.9h0M63.5 228.1h0M65.9 228.9h0M65.4 230.1h0M66.5 228.5h0" stroke="#A58AFF" stroke-width="2.0" stroke-linecap="round" fill="none"/>
<path d="M74.5 231.1h0M76.5 227.7h0M72.6 233h0M76.1 231.4h0M75.6 225.2h0M72.9 231.2h0M75 225.3h0M75.8 223.9h0M77.3 226.8h0M73.9 226.2h0" stroke="#A58AFF" stroke-width="2.0" stroke-linecap="round" fill="none"/>
<path d="M93.2 234.7h0M93 234.7h0M94.4 234.6h0M94.2 233.4h0M93.2 233.9h0" stroke="#00B6EB" stroke-width="2.0" stroke-linecap="round" fill="none"/>
<path d="M92.5 250.7h0M91.1 251.5h0" stroke="#00B6EB" stroke-width="2.0" stroke-linecap="round" fill="none"/>
<path d="M81.3 265.2h0M83.5 265.7h0M62.7 257.3h0M70.6 268.4h0M82.6 256.8h0M74 243.9h0M76.8 249.5h0M86.5 262h0M75.1 253.2h0M85.5 252.6h0M85.7 258.5h0M73 260.2h0M86.4 247.9h0M82.6 262.8h0M73.7 267.4h0M82.2 261.5h0M66.8 261.5h0M64.9 260.6h0M89 251.7h0M86.9 249.7h0M76.5 263.1h0M63.9 259.2h0M68.5 251.6h0M83.9 256.1h0M80 257h0M78.7 267.7h0M77.2 254.2h0M76.1 263.1h0M78.7 244h0M75.1 260.8h0M90 253.7h0M73.4 247.4h0M75.2 244.7h0M67.7 256.1h0M63.4 254.8h0M70.1 266.1h0M84.4 267.1h0M77.2 262.7h0M89.7 253.3h0M87.8 250.9h0M83.4 246.5h0M71.8 255h0M73.9 244.2h0M77.1 254.1h0M87.4 260.8h0M61.4 257.5h0M85.5 256h0M70 246.7h0M72.3 248.8h0M73 253.8h0M85.8 249.8h0M78.8 247.8h0M78.3 265.2h0M70.8 247.4h0M76.2 257h0M69.6 260.5h0M76.5 262.8h0M64.7 262.2h0M86 250.7h0M89.4 258.1h0M65.6 249.2h0M68.8 251.2h0M73.4 259.6h0M73.7 253.8h0M69.5 244.8h0M69.7 247.4h0M80.7 244.1h0M81.2 244.1h0M73.7 256.9h0M66.5 249.4h0M83.2 248.5h0M74.8 257.2h0M81.3 247.2h0M87 255.5h0M83.4 247h0M85.7 256h0M83 251.4h0M84 257h0M66.6 267.3h0M69.3 260.8h0M73.8 252.6h0M72.3 264.5h0M83.7 263.9h0M63.6 262.1h0M67.6 267.8h0M79.2 265.8h0M75.8 258.1h0M71 268.6h0M72.8 265.6h0M67.9 255.5h0M71.8 255.8h0M70.8 262.3h0M80.8 245.6h0M72 246.6h0M84.1 247.9h0M80.6 258.2h0M75.3 244.1h0M88.7 255.7h0M81.7 265h0M67.2 249.1h0M85.3 266.4h0M67.7 256h0M84.7 255.5h0M86.6 261.2h0M75.1 262.8h0M71.7 266.5h0M70.3 266.5h0M87.9 249h0M86.5 248.2h0M75.2 268.8h0M85.2 262h0M79.7 258.4h0M80.6 255h0M73.3 246.9h0M88.9 256.6h0M88.6 261.2h0M79.9 247.9h0M73.1 257.2h0M74.6 254h0M61.3 254.4h0M73.3 252.4h0M73.2 245.4h0M69.2 266.9h0M67 252.4h0M67.7 255.4h0M72.2 268.9h0M67.8 266.1h0M71.1 260.9h0M90.2 256.6h0M75.7 243.1h0M72.3 254.7h0M77.2 259.1h0M66.5 249.6h0M83.3 254.5h0M76.2 262.8h0M77 258.3h0M65.8 256.8h0M65.6 266.2h0M70.2 267.8h0M70.8 255.6h0" stroke="#C49A00" stroke-width="2.0" stroke-linecap="round" fill="none"/>
<path d="M79.1 261.4h0M74.3 258.4h0M71.9 255.4h0M70.2 251.6h0M72.4 255.1h0M77.4 268.2h0M79.6 255.1h0M71.2 259.4h0M67.8 267h0M77 262.2h0M80.2 262.5h0M71.6 262.3h0M70.8 263.5h0M67.3 263.2h0M71.6 257.4h0M71.1 259.5h0M66.3 263.2h0M72.4 269h0M73.2 266.3h0M73.1 259.4h0M67.5 257.6h0M71.3 250.5h0M71.7 255.6h0M74.7 266.6h0M71.8 267.3h0M78.6 264.4h0M71.5 261.1h0M78.6 266.6h0M77.4 252.4h0M66.9 266.3h0M76.3 267.5h0M76.4 258.4h0M75.8 260.1h0M79.2 264.5h0M68.7 255.7h0M77.8 265.3h0M74.9 262.8h0M67.7 255.5h0M75.3 251.4h0M75.9 264.2h0M76.5 265.5h0M80.3 261.7h0M70 251.8h0M65.4 260.7h0M76.7 252.2h0M74.3 255.6h0M71.9 262h0M73.5 253.1h0M77.3 259.5h0M66.2 263.9h0M79.8 258.3h0M78.7 253.5h0M72.1 267.8h0M79.1 263.2h0M78.4 257.9h0M76.7 266h0M78 262.7h0M77.5 263.1h0M75.8 252.2h0M76.3 254.6h0" stroke="#C49A00" stroke-width="2.0" stroke-linecap="round" fill="none"/>
<text x="101.7" y="227.5" font-size="7.4" textLength="92" lengthAdjust="spacingAndGlyphs">S100A8/A9<tspan font-size="4.5" dy="-2.6">+</tspan><tspan dy="2.6"> Macrophage</tspan></text>
<text x="202.6" y="14.8" font-size="19.5" font-weight="bold">B</text>
<text x="222.3" y="42.2" font-size="12.4" textLength="135.3" lengthAdjust="spacingAndGlyphs">S100A8/A9<tspan font-size="7" dy="-4.2">+</tspan><tspan dy="4.2"> Macrophage</tspan></text>
<text x="255" y="57.2" font-size="9" text-anchor="middle">CCl<tspan font-size="0.62em">4</tspan></text>
<text x="267.5" y="57.2" font-size="9">CCl<tspan font-size="0.62em">4</tspan>+IPA</text>
<rect x="243.5" y="58.4" width="23" height="15.04" fill="#F4A582"/>
<rect x="266.5" y="58.4" width="23" height="15.04" fill="#92C5DE"/>
<text x="295.3" y="68.92" font-size="9.3">TGFβ1</text>
<rect x="243.5" y="72.84" width="23" height="15.04" fill="#67001F"/>
<rect x="266.5" y="72.84" width="23" height="15.04" fill="#DCDCDC"/>
<text x="295.3" y="83.36" font-size="9.3">TGFβ2</text>
<rect x="243.5" y="87.28" width="23" height="15.04" fill="#67001F"/>
<rect x="266.5" y="87.28" width="23" height="15.04" fill="#DCDCDC"/>
<text x="295.3" y="97.8" font-size="9.3">PDGFa</text>
<rect x="243.5" y="101.72" width="23" height="15.04" fill="#67001F"/>
<rect x="266.5" y="101.72" width="23" height="15.04" fill="#DCDCDC"/>
<text x="295.3" y="112.24" font-size="9.3">PDGFb</text>
<rect x="243.5" y="116.16" width="23" height="15.04" fill="#67001F"/>
<rect x="266.5" y="116.16" width="23" height="15.04" fill="#DCDCDC"/>
<text x="295.3" y="126.68" font-size="9.3">BMP1</text>
<rect x="243.5" y="130.6" width="23" height="15.04" fill="#67001F"/>
<rect x="266.5" y="130.6" width="23" height="15.04" fill="#DCDCDC"/>
<text x="295.3" y="141.12" font-size="9.3">BMP6</text>
<rect x="243.5" y="145.04" width="23" height="15.04" fill="#67001F"/>
<rect x="266.5" y="145.04" width="23" height="15.04" fill="#DCDCDC"/>
<text x="295.3" y="155.56" font-size="9.3">TNFα</text>
<rect x="243.5" y="159.48" width="23" height="15.04" fill="#FBE7DC"/>
<rect x="266.5" y="159.48" width="23" height="15.04" fill="#DDEAF3"/>
<text x="295.3" y="170" font-size="9.3">IL1β</text>
<rect x="243.5" y="173.92" width="23" height="15.04" fill="#67001F"/>
<rect x="266.5" y="173.92" width="23" height="15.04" fill="#DCDCDC"/>
<text x="295.3" y="184.44" font-size="9.3">IL6</text>
<rect x="243.5" y="188.36" width="23" height="15.04" fill="#67001F"/>
<rect x="266.5" y="188.36" width="23" height="15.04" fill="#DCDCDC"/>
<text x="295.3" y="198.88" font-size="9.3">CCL2</text>
<rect x="243.5" y="202.8" width="23" height="15.04" fill="#67001F"/>
<rect x="266.5" y="202.8" width="23" height="15.04" fill="#DCDCDC"/>
<text x="295.3" y="213.32" font-size="9.3">CCR2</text>
<rect x="243.5" y="217.24" width="23" height="15.04" fill="#67001F"/>
<rect x="266.5" y="217.24" width="23" height="15.04" fill="#DCDCDC"/>
<text x="295.3" y="227.76" font-size="9.3">CX3CR1</text>
<rect x="243.5" y="231.68" width="23" height="15.04" fill="#6D0322"/>
<rect x="266.5" y="231.68" width="23" height="15.04" fill="#072F62"/>
<text x="295.3" y="242.2" font-size="9.3">CCL5</text>
<rect x="243.5" y="246.12" width="23" height="15.04" fill="#67001F"/>
<rect x="266.5" y="246.12" width="23" height="15.04" fill="#DCDCDC"/>
<text x="295.3" y="256.64" font-size="9.3">CCR5</text>
<rect x="243.5" y="260.56" width="23" height="15.04" fill="#E07B63"/>
<rect x="266.5" y="260.56" width="23" height="15.04" fill="#559FCC"/>
<text x="295.3" y="271.08" font-size="9.3">S100A8</text>
<rect x="243.5" y="275" width="23" height="14.44" fill="#E98B6F"/>
<rect x="266.5" y="275" width="23" height="14.44" fill="#67AAD4"/>
<text x="295.3" y="285.52" font-size="9.3">S100A9</text>
<defs><linearGradient id="rdbu" x1="0" y1="0" x2="0" y2="1"><stop offset="0" stop-color="#67001F"/><stop offset="0.1" stop-color="#B2182B"/><stop offset="0.25" stop-color="#D6604D"/><stop offset="0.36" stop-color="#F4A582"/><stop offset="0.44" stop-color="#FDDBC7"/><stop offset="0.5" stop-color="#F7F7F7"/><stop offset="0.56" stop-color="#D1E5F0"/><stop offset="0.64" stop-color="#92C5DE"/><stop offset="0.75" stop-color="#4393C3"/><stop offset="0.9" stop-color="#2166AC"/><stop offset="1" stop-color="#053061"/></linearGradient></defs>
<rect x="337.3" y="62.9" width="7.5" height="110.5" fill="url(#rdbu)"/>
<line x1="337.3" y1="72.6" x2="338.8" y2="72.6" stroke="#fff" stroke-width="0.5"/>
<line x1="343.3" y1="72.6" x2="344.8" y2="72.6" stroke="#fff" stroke-width="0.5"/>
<text x="347.6" y="75" font-size="7" fill="#333">1</text>
<line x1="337.3" y1="95.6" x2="338.8" y2="95.6" stroke="#fff" stroke-width="0.5"/>
<line x1="343.3" y1="95.6" x2="344.8" y2="95.6" stroke="#fff" stroke-width="0.5"/>
<text x="347.6" y="98" font-size="7" fill="#333">0.5</text>
<line x1="337.3" y1="118.6" x2="338.8" y2="118.6" stroke="#fff" stroke-width="0.5"/>
<line x1="343.3" y1="118.6" x2="344.8" y2="118.6" stroke="#fff" stroke-width="0.5"/>
<text x="347.6" y="121" font-size="7" fill="#333">0</text>
<line x1="337.3" y1="141.6" x2="338.8" y2="141.6" stroke="#fff" stroke-width="0.5"/>
<line x1="343.3" y1="141.6" x2="344.8" y2="141.6" stroke="#fff" stroke-width="0.5"/>
<text x="347.6" y="144" font-size="7" fill="#333">−0.5</text>
<line x1="337.3" y1="164.9" x2="338.8" y2="164.9" stroke="#fff" stroke-width="0.5"/>
<line x1="343.3" y1="164.9" x2="344.8" y2="164.9" stroke="#fff" stroke-width="0.5"/>
<text x="347.6" y="167.3" font-size="7" fill="#333">−1</text>
<text x="393.6" y="14.2" font-size="19.5" font-weight="bold">C</text>
<text x="556.7" y="15.6" font-size="8.2" text-anchor="middle">Upregulated genes</text>
<text x="556.7" y="25.1" font-size="8.2" text-anchor="middle">(CCl<tspan font-size="0.62em">4</tspan> vs.CCl<tspan font-size="0.62em">4</tspan>+IPA)</text>
<text x="558.3" y="34.2" font-size="8.2" text-anchor="middle" textLength="111.3" lengthAdjust="spacingAndGlyphs">KEGG Enrichment ScatterPlot</text>
<rect x="510.9" y="38.3" width="93.9" height="117" fill="#fff"/>
<g stroke="#F0F0F0" stroke-width="0.4">
<line x1="531.45" y1="38.3" x2="531.45" y2="155.3" stroke="#F3F3F3" stroke-width="0.35"/>
<line x1="551.15" y1="38.3" x2="551.15" y2="155.3" stroke="#F3F3F3" stroke-width="0.35"/>
<line x1="570.75" y1="38.3" x2="570.75" y2="155.3" stroke="#F3F3F3" stroke-width="0.35"/>
<line x1="590.5" y1="38.3" x2="590.5" y2="155.3" stroke="#F3F3F3" stroke-width="0.35"/>
</g>
<line x1="521.6" y1="38.3" x2="521.6" y2="155.3" stroke="#E6E6E6" stroke-width="0.5"/>
<line x1="541.3" y1="38.3" x2="541.3" y2="155.3" stroke="#E6E6E6" stroke-width="0.5"/>
<line x1="561" y1="38.3" x2="561" y2="155.3" stroke="#E6E6E6" stroke-width="0.5"/>
<line x1="580.5" y1="38.3" x2="580.5" y2="155.3" stroke="#E6E6E6" stroke-width="0.5"/>
<line x1="600.5" y1="38.3" x2="600.5" y2="155.3" stroke="#E6E6E6" stroke-width="0.5"/>
<line x1="510.9" y1="59.4" x2="604.8" y2="59.4" stroke="#E6E6E6" stroke-width="0.5"/>
<line x1="510.9" y1="74.9" x2="604.8" y2="74.9" stroke="#E6E6E6" stroke-width="0.5"/>
<line x1="510.9" y1="89.4" x2="604.8" y2="89.4" stroke="#E6E6E6" stroke-width="0.5"/>
<line x1="510.9" y1="104" x2="604.8" y2="104" stroke="#E6E6E6" stroke-width="0.5"/>
<line x1="510.9" y1="118.4" x2="604.8" y2="118.4" stroke="#E6E6E6" stroke-width="0.5"/>
<line x1="510.9" y1="133.1" x2="604.8" y2="133.1" stroke="#E6E6E6" stroke-width="0.5"/>
<rect x="510.9" y="38.3" width="93.9" height="117" fill="none" stroke="#9a9a9a" stroke-width="0.6"/>
<text x="508.6" y="61.6" font-size="6.2" text-anchor="end" fill="#333">Chemokine signaling pathway</text>
<line x1="509.3" y1="59.4" x2="510.9" y2="59.4" stroke="#333" stroke-width="0.4"/>
<text x="508.6" y="77.1" font-size="6.2" text-anchor="end" fill="#333">NF−kappa B signaling pathway</text>
<line x1="509.3" y1="74.9" x2="510.9" y2="74.9" stroke="#333" stroke-width="0.4"/>
<text x="508.6" y="91.6" font-size="6.2" text-anchor="end" fill="#333">Sphingolipid signaling pathway</text>
<line x1="509.3" y1="89.4" x2="510.9" y2="89.4" stroke="#333" stroke-width="0.4"/>
<text x="508.6" y="106.2" font-size="6.2" text-anchor="end" fill="#333">Focal adhesion</text>
<line x1="509.3" y1="104" x2="510.9" y2="104" stroke="#333" stroke-width="0.4"/>
<text x="508.6" y="120.6" font-size="6.2" text-anchor="end" fill="#333">Cytokine−cytokine receptor interaction</text>
<line x1="509.3" y1="118.4" x2="510.9" y2="118.4" stroke="#333" stroke-width="0.4"/>
<text x="508.6" y="135.3" font-size="6.2" text-anchor="end" fill="#333">TGF−beta signaling pathway</text>
<line x1="509.3" y1="133.1" x2="510.9" y2="133.1" stroke="#333" stroke-width="0.4"/>
<text x="521.6" y="159.4" font-size="3.6" text-anchor="middle" fill="#4d4d4d">0.15</text>
<line x1="521.6" y1="155.3" x2="521.6" y2="156.3" stroke="#333" stroke-width="0.4"/>
<text x="541.3" y="159.4" font-size="3.6" text-anchor="middle" fill="#4d4d4d">0.20</text>
<line x1="541.3" y1="155.3" x2="541.3" y2="156.3" stroke="#333" stroke-width="0.4"/>
<text x="561" y="159.4" font-size="3.6" text-anchor="middle" fill="#4d4d4d">0.25</text>
<line x1="561" y1="155.3" x2="561" y2="156.3" stroke="#333" stroke-width="0.4"/>
<text x="580.5" y="159.4" font-size="3.6" text-anchor="middle" fill="#4d4d4d">0.30</text>
<line x1="580.5" y1="155.3" x2="580.5" y2="156.3" stroke="#333" stroke-width="0.4"/>
<text x="600.5" y="159.4" font-size="3.6" text-anchor="middle" fill="#4d4d4d">0.35</text>
<line x1="600.5" y1="155.3" x2="600.5" y2="156.3" stroke="#333" stroke-width="0.4"/>
<text x="557.3" y="164.3" font-size="3.6" text-anchor="middle" fill="#333">Rich Factor</text>
<text x="408.4" y="93.3" font-size="7.2" text-anchor="middle" fill="#333" transform="rotate(-90 408.4 93.3)">Pathway</text>
<circle cx="564.5" cy="60" r="2.5" fill="#FF2A1A"/>
<circle cx="591.3" cy="75.1" r="1.9" fill="#FA2A1A"/>
<circle cx="560.5" cy="89.4" r="1.75" fill="#F5311C"/>
<circle cx="533.5" cy="104" r="1.65" fill="#E4511E"/>
<circle cx="524.3" cy="118.3" r="1.6" fill="#2FB44E"/>
<circle cx="554.8" cy="133.1" r="0.9" fill="#1F2FF0"/>
<text x="608.6" y="72.5" font-size="2.6" fill="#222" font-weight="bold">Gene Number</text>
<circle cx="610.9" cy="77" r="0.8" fill="#111"/>
<text x="614.2" y="78" font-size="2.8" fill="#333">15</text>
<circle cx="610.9" cy="81.1" r="1.05" fill="#111"/>
<text x="614.2" y="82.1" font-size="2.8" fill="#333">20</text>
<circle cx="610.9" cy="85.4" r="1.35" fill="#111"/>
<text x="614.2" y="86.4" font-size="2.8" fill="#333">25</text>
<circle cx="610.9" cy="90.1" r="1.7" fill="#111"/>
<text x="614.2" y="91.1" font-size="2.8" fill="#333">30</text>
<text x="608.6" y="99.8" font-size="2.6" fill="#222" font-weight="bold">P.value</text>
<defs><linearGradient id="pv" x1="0" y1="0" x2="0" y2="1"><stop offset="0" stop-color="#FF1010"/><stop offset="0.18" stop-color="#D04010"/><stop offset="0.4" stop-color="#20B020"/><stop offset="0.7" stop-color="#10A0A0"/><stop offset="1" stop-color="#1030FF"/></linearGradient></defs>
<rect x="609.2" y="102.6" width="3.2" height="20.3" fill="url(#pv)"/>
<text x="613.3" y="107.6" font-size="2.8" fill="#333">5.0e-06</text>
<text x="613.3" y="111.8" font-size="2.8" fill="#333">1.0e-05</text>
<text x="613.3" y="116" font-size="2.8" fill="#333">1.5e-05</text>
<text x="613.3" y="120.3" font-size="2.8" fill="#333">2.0e-05</text>
<text x="395.8" y="180.6" font-size="19.5" font-weight="bold">D</text>
<text x="471.4" y="180.7" font-size="8.6" textLength="139.6" lengthAdjust="spacingAndGlyphs">S100A8/A9<tspan font-size="5" dy="-3">+</tspan><tspan dy="3"> Macrophage|Fibroblasts</tspan></text>
<rect x="537.5" y="184.7" width="29.8" height="146.5" fill="#fff"/>
<line x1="552.6" y1="184.7" x2="552.6" y2="331.2" stroke="#BDBDBD" stroke-width="0.7"/>
<line x1="537.5" y1="193" x2="567.3" y2="193" stroke="#C8C8C8" stroke-width="0.7"/>
<line x1="536.2" y1="193" x2="537.5" y2="193" stroke="#333" stroke-width="0.5"/>
<line x1="537.5" y1="206.07" x2="567.3" y2="206.07" stroke="#C8C8C8" stroke-width="0.7"/>
<line x1="536.2" y1="206.07" x2="537.5" y2="206.07" stroke="#333" stroke-width="0.5"/>
<line x1="537.5" y1="219.14" x2="567.3" y2="219.14" stroke="#C8C8C8" stroke-width="0.7"/>
<line x1="536.2" y1="219.14" x2="537.5" y2="219.14" stroke="#333" stroke-width="0.5"/>
<line x1="537.5" y1="232.21" x2="567.3" y2="232.21" stroke="#C8C8C8" stroke-width="0.7"/>
<line x1="536.2" y1="232.21" x2="537.5" y2="232.21" stroke="#333" stroke-width="0.5"/>
<line x1="537.5" y1="245.28" x2="567.3" y2="245.28" stroke="#C8C8C8" stroke-width="0.7"/>
<line x1="536.2" y1="245.28" x2="537.5" y2="245.28" stroke="#333" stroke-width="0.5"/>
<line x1="537.5" y1="258.35" x2="567.3" y2="258.35" stroke="#C8C8C8" stroke-width="0.7"/>
<line x1="536.2" y1="258.35" x2="537.5" y2="258.35" stroke="#333" stroke-width="0.5"/>
<line x1="537.5" y1="271.42" x2="567.3" y2="271.42" stroke="#C8C8C8" stroke-width="0.7"/>
<line x1="536.2" y1="271.42" x2="537.5" y2="271.42" stroke="#333" stroke-width="0.5"/>
<line x1="537.5" y1="284.49" x2="567.3" y2="284.49" stroke="#C8C8C8" stroke-width="0.7"/>
<line x1="536.2" y1="284.49" x2="537.5" y2="284.49" stroke="#333" stroke-width="0.5"/>
<line x1="537.5" y1="297.56" x2="567.3" y2="297.56" stroke="#C8C8C8" stroke-width="0.7"/>
<line x1="536.2" y1="297.56" x2="537.5" y2="297.56" stroke="#333" stroke-width="0.5"/>
<line x1="537.5" y1="310.63" x2="567.3" y2="310.63" stroke="#C8C8C8" stroke-width="0.7"/>
<line x1="536.2" y1="310.63" x2="537.5" y2="310.63" stroke="#333" stroke-width="0.5"/>
<line x1="537.5" y1="323.7" x2="567.3" y2="323.7" stroke="#C8C8C8" stroke-width="0.7"/>
<line x1="536.2" y1="323.7" x2="537.5" y2="323.7" stroke="#333" stroke-width="0.5"/>
<line x1="552.6" y1="183.4" x2="552.6" y2="184.7" stroke="#333" stroke-width="0.5"/>
<text x="503.3" y="195.7" font-size="7.6" text-anchor="middle" fill="#1a1a1a" textLength="58.8" lengthAdjust="spacingAndGlyphs">LGALS3_MERTK</text>
<text x="504.5" y="208.77" font-size="7.6" text-anchor="middle" fill="#E8262B" textLength="60.3" lengthAdjust="spacingAndGlyphs">IL1β_IL1_receptor</text>
<text x="502.3" y="221.84" font-size="7.6" text-anchor="middle" fill="#E8262B" textLength="55.8" lengthAdjust="spacingAndGlyphs">TGFβ1_TGFβR3</text>
<text x="502.3" y="234.91" font-size="7.6" text-anchor="middle" fill="#E8262B" textLength="55.8" lengthAdjust="spacingAndGlyphs">TGFβ1_TGFβR2</text>
<text x="505.6" y="261.05" font-size="7.6" text-anchor="middle" fill="#1a1a1a" textLength="52.7" lengthAdjust="spacingAndGlyphs">CXCL10_DPP4</text>
<text x="496.4" y="274.12" font-size="7.6" text-anchor="middle" fill="#1a1a1a" textLength="81.2" lengthAdjust="spacingAndGlyphs">APOE_TREM2_receptor</text>
<text x="502" y="287.19" font-size="7.6" text-anchor="middle" fill="#1a1a1a" textLength="43.6" lengthAdjust="spacingAndGlyphs">OSM_OSMR</text>
<text x="500.2" y="300.26" font-size="7.6" text-anchor="middle" fill="#1a1a1a" textLength="59" lengthAdjust="spacingAndGlyphs">LCN2_SLC22A17</text>
<text x="497.8" y="313.33" font-size="7.6" text-anchor="middle" fill="#1a1a1a" textLength="75.6" lengthAdjust="spacingAndGlyphs">CLU_TREM2_receptor</text>
<text x="505.4" y="326.4" font-size="7.6" text-anchor="middle" fill="#1a1a1a" textLength="36.8" lengthAdjust="spacingAndGlyphs">OSM_LIFR</text>
<text x="469.9" y="243.6" font-size="7.6" fill="#1a1a1a" textLength="66.5" lengthAdjust="spacingAndGlyphs">ProstaglandinE2_by</text>
<text x="469.9" y="252.7" font-size="7.6" fill="#1a1a1a" textLength="63.5" lengthAdjust="spacingAndGlyphs">PTGES3_PTGER3</text>
<rect x="537.5" y="184.7" width="29.8" height="146.5" fill="none" stroke="#222" stroke-width="0.8"/>
<circle cx="552.6" cy="193" r="0.6" fill="#5E4FA2"/>
<circle cx="552.6" cy="206.07" r="3" fill="#5E4FA2"/>
<circle cx="552.6" cy="219.14" r="3.25" fill="#9E0142"/>
<circle cx="552.6" cy="232.21" r="1.1" fill="#5E4FA2"/>
<circle cx="552.6" cy="245.28" r="3" fill="#5E4FA2"/>
<circle cx="552.6" cy="258.35" r="3.3" fill="#F46D43"/>
<circle cx="552.6" cy="271.42" r="2.3" fill="#5E4FA2"/>
<circle cx="552.6" cy="284.49" r="3.3" fill="#F46D43"/>
<circle cx="552.6" cy="297.56" r="3.3" fill="#FDCB76"/>
<circle cx="552.6" cy="310.63" r="3.1" fill="#FDCB76"/>
<circle cx="552.6" cy="323.7" r="3" fill="#5E4FA2"/>
<text x="574.9" y="193.3" font-size="7" fill="#1a1a1a">1−pvalues</text>
<circle cx="577.8" cy="199" r="1.9" fill="#000"/>
<text x="585" y="200.3" font-size="3.9" fill="#333">0.25</text>
<circle cx="577.8" cy="204.8" r="2.3" fill="#000"/>
<text x="585" y="206.1" font-size="3.9" fill="#333">0.50</text>
<circle cx="577.8" cy="211.3" r="2.8" fill="#000"/>
<text x="585" y="212.6" font-size="3.9" fill="#333">0.75</text>
<circle cx="577.8" cy="219.2" r="3.4" fill="#000"/>
<text x="585" y="220.5" font-size="3.9" fill="#333">1.00</text>
<text x="574.9" y="235.2" font-size="7" fill="#1a1a1a">Significant means</text>
<defs><linearGradient id="spec" x1="0" y1="0" x2="0" y2="1"><stop offset="0" stop-color="#9E0142"/><stop offset="0.15" stop-color="#D53E4F"/><stop offset="0.3" stop-color="#F46D43"/><stop offset="0.45" stop-color="#FDAE61"/><stop offset="0.55" stop-color="#FEE08B"/><stop offset="0.65" stop-color="#E6F598"/><stop offset="0.75" stop-color="#ABDDA4"/><stop offset="0.85" stop-color="#66C2A5"/><stop offset="0.93" stop-color="#3288BD"/><stop offset="1" stop-color="#5E4FA2"/></linearGradient></defs>
<rect x="574.4" y="239" width="4.1" height="25.3" fill="url(#spec)"/>
<text x="580.6" y="243.2" font-size="3.9" fill="#333">0.6</text>
<text x="580.6" y="250.7" font-size="3.9" fill="#333">0.4</text>
<text x="580.6" y="258.1" font-size="3.9" fill="#333">0.2</text>
<text x="580.6" y="265.3" font-size="3.9" fill="#333">0.0</text>
<text x="13" y="341.6" font-size="19.5" font-weight="bold">E</text>
<defs><clipPath id="e1"><rect x="38.8" y="348.7" width="101.5" height="89.1"/></clipPath></defs>
<g clip-path="url(#e1)">
<path d="M94.6 430.1h0.75M73.9 422.6h0.75M91.4 434.2h0.75M85.5 416.6h0.75M76 427.6h0.75M93.6 421.5h0.75M79.8 425h0.75M84.1 420h0.75M84.6 426.7h0.75M100.5 418.7h0.75M91.6 415.3h0.75M93.1 422.9h0.75M78.5 426.9h0.75M92.5 419.8h0.75M97.7 430.4h0.75M104 428.8h0.75M71.9 431.8h0.75M79.2 433.3h0.75M85.3 426.2h0.75M87.4 419.8h0.75M83.5 420.4h0.75M104.2 414.7h0.75M80.4 414.5h0.75M67.3 425.5h0.75M93.8 426.8h0.75M85.5 420.2h0.75M100.6 412.1h0.75M76.5 431.2h0.75M74.6 430.4h0.75M93.8 421.1h0.75M88.3 423.8h0.75M70.3 408.5h0.75M71.7 429.6h0.75M66.2 427.8h0.75M89.1 432.3h0.75M69 427h0.75M87.5 427.4h0.75M74.1 441.4h0.75M78.1 434.7h0.75M82.9 428.3h0.75M102.6 423.2h0.75M83.2 418.5h0.75M74.3 418.9h0.75M101.2 408.2h0.75M61.4 444.6h0.75M96.3 418.2h0.75M90.8 417h0.75M79.3 430.3h0.75M87.1 420.9h0.75M102.3 423.5h0.75M82.9 417.4h0.75M84.8 422.7h0.75M85 430.2h0.75M78.8 428.8h0.75M93 424.2h0.75M103.7 406h0.75M80.8 418.1h0.75M88.9 440.6h0.75M66.6 429.4h0.75M90.9 423.2h0.75M90 412.2h0.75M91.9 415.6h0.75M72.7 433h0.75M87.3 418.9h0.75M75.1 426.9h0.75M83.5 424.1h0.75M68.4 414.8h0.75M97.8 421.2h0.75M67.7 420.2h0.75M75.9 425.1h0.75M65.1 441.5h0.75M87.5 421.5h0.75M88 425.1h0.75M95.1 422h0.75M100.2 429.7h0.75M79.7 423.5h0.75M74.3 426.9h0.75M76.4 427.8h0.75M88.2 427.2h0.75M74.4 435.9h0.75M80.4 425.5h0.75M74.1 414.8h0.75M82.5 413.3h0.75M95.3 421.1h0.75M101.3 423.1h0.75M94.1 430.9h0.75M86.8 434.5h0.75M83 427.1h0.75M78 430.9h0.75M89.6 419.5h0.75M70.5 429.6h0.75M87.8 422.5h0.75M72.1 424.3h0.75M75.2 410.1h0.75M80.9 436h0.75M70.1 428.5h0.75M102.7 423h0.75M92.9 420.7h0.75M76.5 447.5h0.75M87.4 425.4h0.75M102.4 423.8h0.75M81.9 418.1h0.75M81.8 424.7h0.75M74.9 422.3h0.75M73.2 428.1h0.75M78.5 429.7h0.75M94.9 423.1h0.75M87.4 434.4h0.75M87.2 413.6h0.75M76.8 428.9h0.75M76.3 432.9h0.75M61.5 420h0.75M95.1 424.9h0.75M67.4 431.5h0.75M95.1 413.2h0.75M68.8 422.1h0.75M69.7 418.1h0.75M75.5 418h0.75M89.3 438.4h0.75M74.9 434.5h0.75M90.6 406.6h0.75M84.8 424.5h0.75M82 431.1h0.75M79.9 428.8h0.75M79.4 425.6h0.75M80.6 441.8h0.75M80.6 418.4h0.75M107.2 427.3h0.75M80.2 421.8h0.75M78.8 435.3h0.75M78.7 421.9h0.75M91.7 420.2h0.75M87.4 437h0.75M95.3 429.3h0.75M90.8 431.3h0.75M84 431.5h0.75M93.5 418.6h0.75M71.6 433.1h0.75M83.8 429.2h0.75M78.6 430.5h0.75M98.8 435.8h0.75M102.9 420.7h0.75M97 415.8h0.75M96 421.5h0.75M98.1 422h0.75M79.7 421.5h0.75M96.7 420.7h0.75M92.1 425.3h0.75M64 436.3h0.75M80.7 428.8h0.75M84.6 412.2h0.75M80.3 425.8h0.75M89.7 429.3h0.75M76.1 426.1h0.75M86 411.5h0.75M100.6 412.3h0.75M97.5 421h0.75M105.3 424.3h0.75M79.5 414.8h0.75M85.7 426.5h0.75M86.5 415.3h0.75M73.4 423.4h0.75M84.6 418.7h0.75M84.5 431.1h0.75M82.3 434.8h0.75M86.1 422.4h0.75M96 423.9h0.75M79.4 422.5h0.75M83.9 427.3h0.75M96 422.4h0.75M74.4 419.2h0.75M87.1 426.4h0.75M94.1 417.6h0.75M72.2 434.9h0.75M79.2 418.3h0.75M102.7 424.2h0.75M84.9 426.5h0.75M78.2 433.8h0.75M78.2 423.9h0.75M78.1 419.2h0.75M97.9 431.3h0.75M86.9 409.7h0.75M79.1 422.3h0.75M82.8 410.6h0.75M60.5 430.3h0.75M93.3 420.2h0.75M104.4 411.6h0.75M83.7 424h0.75M77.6 434.9h0.75M67.7 423.5h0.75M78.9 423.5h0.75M94.1 417.6h0.75M87.8 420.3h0.75M96.7 420.1h0.75M82.7 414.1h0.75M89.5 418.5h0.75M93.9 424.8h0.75M91.7 429.8h0.75M85.6 418.3h0.75M85.7 425.4h0.75M72.9 433.1h0.75M99.3 421h0.75M85.8 427.4h0.75M93.7 417.6h0.75M91.8 416.9h0.75M90.3 426.2h0.75M71.9 433.8h0.75M82.2 414.1h0.75M77.6 422.9h0.75M75.4 430.8h0.75M75.6 428.3h0.75M71.9 427.5h0.75M103.3 420.7h0.75M65.6 425.1h0.75M78.6 415.7h0.75M93.6 421.1h0.75M83 425.6h0.75M74.1 420.6h0.75M48.2 426.8h0.75M87.6 428.3h0.75M77.7 414.6h0.75M80.3 426.5h0.75M73.4 438.1h0.75M72.1 429.2h0.75M74.5 434.6h0.75M68.7 424.3h0.75M92.3 413.2h0.75M79.3 430.3h0.75M83.4 413h0.75M89.2 421h0.75M102.6 405.9h0.75M105.6 416.5h0.75M97.6 416.3h0.75M100.9 412.9h0.75M96.9 414.7h0.75M103 419.5h0.75M92.5 421.8h0.75M105.9 422.5h0.75M99.9 424.6h0.75M99.5 420.4h0.75M102.4 417.5h0.75M96.4 413.8h0.75M111.9 418.8h0.75M99.6 416.6h0.75M96.2 411.9h0.75M95.9 422.1h0.75M104.9 413.2h0.75M93.1 415.1h0.75M99.2 421.8h0.75M97.3 410.7h0.75M95.4 421.9h0.75M106.5 423.7h0.75M108.5 413.5h0.75M97.6 419.9h0.75M93 417.4h0.75M107.3 416.6h0.75M109.2 420.9h0.75M100.4 421.7h0.75M101.7 418.1h0.75M103.1 418.6h0.75M90.1 415.2h0.75M102.3 418.8h0.75M97.8 418h0.75M95.7 425.3h0.75M106.7 422.1h0.75M98.2 417.8h0.75M104.3 422.7h0.75M104.5 417h0.75M90 418.2h0.75M92.5 420.6h0.75M105.2 414.7h0.75M100.9 428.5h0.75M98.3 426.2h0.75M107.2 414.6h0.75M104.8 408.3h0.75M97 417.4h0.75M102.1 415.1h0.75M108.4 410.3h0.75M96.4 412.5h0.75M105 419h0.75M93.6 413.8h0.75M96.3 426.1h0.75M105.3 415.8h0.75M105.7 416.8h0.75M98.9 408.7h0.75M105 418.5h0.75M108.8 417.8h0.75M97.7 420.1h0.75M96.9 427.4h0.75M95.3 424.1h0.75M94.5 415.8h0.75M95.2 418.2h0.75M105.3 420.7h0.75M101.2 421.6h0.75M110.2 423.3h0.75M98.3 420.1h0.75M104.5 415.6h0.75M102.1 412.3h0.75M97.2 415.4h0.75M95.1 415.1h0.75M64.2 426.9h0.75M62 433.7h0.75M54.2 429.3h0.75M62.1 427.8h0.75M59.9 438.6h0.75M67.5 429h0.75M59.6 426.5h0.75M56.2 424.5h0.75M69.1 428.6h0.75M71.8 429.9h0.75M53 439.9h0.75M69.6 433.4h0.75M61.4 429.7h0.75M65.4 437.3h0.75M56.3 428.8h0.75M67.9 423.6h0.75M75 425.2h0.75M73.6 429h0.75M62.4 427.5h0.75M75.3 428.3h0.75M56.8 434.8h0.75M64.9 432.9h0.75M63 432.7h0.75M68.7 430.5h0.75M54.7 434.6h0.75M75.2 430.8h0.75M72.4 432.5h0.75M64.1 435h0.75M63.3 427.8h0.75M57.6 436h0.75M70.8 432.3h0.75M60.6 425.4h0.75M70.8 429.7h0.75M61 429.6h0.75M60.5 425.3h0.75M70.2 432.6h0.75M71.3 428.7h0.75M56.2 427.8h0.75M64.5 437.3h0.75M71.9 430h0.75M69.3 433.2h0.75M66.1 431.7h0.75M66.7 428.7h0.75M57.4 430.4h0.75M72.5 424.2h0.75M62.3 430.1h0.75M65.6 429.4h0.75M70.7 428.8h0.75M66 433.4h0.75M56.6 436.4h0.75" stroke="#1E1EB4" stroke-width="0.75" fill="none"/>
<g fill="none" stroke="#2A2AD2" stroke-width="0.32"><ellipse cx="82.91" cy="426.83" rx="15" ry="8.5" transform="rotate(-20.39 82.91 426.83)" fill="none"/><ellipse cx="81.33" cy="427.31" rx="13.5" ry="7.65" transform="rotate(-16.93 81.33 427.31)" fill="none"/><ellipse cx="80.32" cy="427.92" rx="12" ry="6.8" transform="rotate(-18.33 80.32 427.92)" fill="none"/><ellipse cx="81.99" cy="428.61" rx="10.5" ry="5.95" transform="rotate(-21.98 81.99 428.61)" fill="none"/><ellipse cx="80.66" cy="427.69" rx="9" ry="5.1" transform="rotate(-19.45 80.66 427.69)" fill="none"/><ellipse cx="81.43" cy="426.42" rx="7.5" ry="4.25" transform="rotate(-27.53 81.43 426.42)" fill="none"/><ellipse cx="83.45" cy="426.73" rx="6" ry="3.4" transform="rotate(-14.54 83.45 426.73)" fill="none"/><ellipse cx="82.72" cy="426.39" rx="4.5" ry="2.55" transform="rotate(-19.26 82.72 426.39)" fill="none"/><ellipse cx="96.42" cy="421.43" rx="11" ry="6.5" transform="rotate(-22.75 96.42 421.43)" fill="none"/><ellipse cx="96.82" cy="420.98" rx="9.53" ry="5.63" transform="rotate(-28.99 96.82 420.98)" fill="none"/><ellipse cx="95.87" cy="421.2" rx="8.07" ry="4.77" transform="rotate(-31.72 95.87 421.2)" fill="none"/><ellipse cx="95.3" cy="421.88" rx="6.6" ry="3.9" transform="rotate(-24.23 95.3 421.88)" fill="none"/><ellipse cx="96.69" cy="420.91" rx="5.13" ry="3.03" transform="rotate(-31.4 96.69 420.91)" fill="none"/><ellipse cx="95.72" cy="420.69" rx="3.67" ry="2.17" transform="rotate(-30.49 95.72 420.69)" fill="none"/><ellipse cx="104.11" cy="419.71" rx="4.2" ry="5.8" transform="rotate(11.31 104.11 419.71)" fill="none"/><ellipse cx="104.7" cy="419.52" rx="3.36" ry="4.64" transform="rotate(7.15 104.7 419.52)" fill="none"/><ellipse cx="105" cy="419.82" rx="2.52" ry="3.48" transform="rotate(12.22 105 419.82)" fill="none"/><ellipse cx="104.72" cy="419.39" rx="1.68" ry="2.32" transform="rotate(12.87 104.72 419.39)" fill="none"/><ellipse cx="67.6" cy="432.27" rx="9" ry="4.5" transform="rotate(-4.32 67.6 432.27)" fill="none"/><ellipse cx="68.44" cy="432.1" rx="7.2" ry="3.6" transform="rotate(-7.49 68.44 432.1)" fill="none"/><ellipse cx="68.12" cy="432.19" rx="5.4" ry="2.7" transform="rotate(-9.81 68.12 432.19)" fill="none"/><ellipse cx="68.38" cy="432.21" rx="3.6" ry="1.8" transform="rotate(-13.01 68.38 432.21)" fill="none"/></g>
<g fill="none" stroke="#1E1EB4" stroke-width="0.45"><ellipse cx="105" cy="419.3" rx="2.6" ry="3.6" transform="rotate(10 105 419.3)" fill="none"/><ellipse cx="105" cy="419.3" rx="1.95" ry="2.7" transform="rotate(10 105 419.3)" fill="none"/><ellipse cx="105" cy="419.3" rx="1.3" ry="1.8" transform="rotate(10 105 419.3)" fill="none"/></g>
<ellipse cx="82.6" cy="430.5" rx="9.8" ry="6.4" transform="rotate(-18 82.6 430.5)" fill="#1414C8"/><ellipse cx="82.6" cy="430.5" rx="8.43" ry="5.5" transform="rotate(-18 82.6 430.5)" fill="#0050FF"/><ellipse cx="82.6" cy="430.5" rx="7.06" ry="4.61" transform="rotate(-18 82.6 430.5)" fill="#00B4FF"/><ellipse cx="82.6" cy="430.5" rx="5.68" ry="3.71" transform="rotate(-18 82.6 430.5)" fill="#10E070"/><ellipse cx="82.6" cy="430.5" rx="4.51" ry="2.94" transform="rotate(-18 82.6 430.5)" fill="#B8F000"/><ellipse cx="82.6" cy="430.5" rx="3.53" ry="2.3" transform="rotate(-18 82.6 430.5)" fill="#FFE000"/><ellipse cx="82.6" cy="430.5" rx="2.65" ry="1.73" transform="rotate(-18 82.6 430.5)" fill="#FF8C00"/><ellipse cx="82.6" cy="430.5" rx="1.67" ry="1.09" transform="rotate(-18 82.6 430.5)" fill="#FF1A00"/>
</g>
<polyline points="82.1,437.8 82.1,402.9 129.6,402.9 129.6,437.8" fill="none" stroke="#222" stroke-width="0.6"/>
<rect x="38.8" y="348.7" width="101.5" height="89.1" fill="none" stroke="#111" stroke-width="1.2"/>
<path d="M40.8 438.4v1.1 M43.8 438.4v1.1 M46 438.4v1.1 M47.6 438.4v1.1 M49.8 438.4v1.1 M52 438.4v1.1 M55 438.4v1.1 M58 438.4v1.1 M59.6 438.4v1.1 M61.8 438.4v1.1 M63.4 438.4v1.1 M65 438.4v1.1 M66.6 438.4v1.1 M67.8 438.4v1.1 M69.4 438.4v1.1 M71.6 438.4v1.1 M74.6 438.4v1.1 M77.6 438.4v1.1 M79.8 438.4v1.1 M81.4 438.4v1.1 M83.6 438.4v1.1 M84.8 438.4v1.1 M86 438.4v1.1 M88.2 438.4v1.1 M89.4 438.4v1.1 M91 438.4v1.1 M92.6 438.4v1.1 M93.8 438.4v1.1 M95.4 438.4v1.1 M98.4 438.4v1.1 M101.4 438.4v1.1 M104.4 438.4v1.1 M106.6 438.4v1.1 M108.2 438.4v1.1 M111.2 438.4v1.1 M112.8 438.4v1.1 M114 438.4v1.1 M116.2 438.4v1.1 M119.2 438.4v1.1 M122.2 438.4v1.1 M123.8 438.4v1.1 M126 438.4v1.1 M129 438.4v1.1 M132 438.4v1.1 M134.2 438.4v1.1 M135.8 438.4v1.1 M137 438.4v1.1 M139.2 438.4v1.1" stroke="#222" stroke-width="0.45"/>
<path d="M38.2 350.7h-1.0 M38.2 355.1h-1.0 M38.2 359.5h-1.0 M38.2 365h-1.0 M38.2 369.4h-1.0 M38.2 374.9h-1.0 M38.2 377.9h-1.0 M38.2 382.3h-1.0 M38.2 387.8h-1.0 M38.2 390.8h-1.0 M38.2 393.8h-1.0 M38.2 396.8h-1.0 M38.2 399.8h-1.0 M38.2 404.2h-1.0 M38.2 409.7h-1.0 M38.2 412.7h-1.0 M38.2 415.7h-1.0 M38.2 421.2h-1.0 M38.2 424.2h-1.0 M38.2 428.6h-1.0 M38.2 434.1h-1.0" stroke="#222" stroke-width="0.4"/>
<line x1="36.6" y1="349.7" x2="38.2" y2="349.7" stroke="#222" stroke-width="0.5"/>
<text x="36.2" y="352.1" font-size="7" text-anchor="end" fill="#222">805.2</text>
<line x1="36.6" y1="371.6" x2="38.2" y2="371.6" stroke="#222" stroke-width="0.5"/>
<text x="36.2" y="374" font-size="7" text-anchor="end" fill="#222">603.9</text>
<line x1="36.6" y1="393.5" x2="38.2" y2="393.5" stroke="#222" stroke-width="0.5"/>
<text x="36.2" y="395.9" font-size="7" text-anchor="end" fill="#222">402.6</text>
<line x1="36.6" y1="416" x2="38.2" y2="416" stroke="#222" stroke-width="0.5"/>
<text x="36.2" y="418.4" font-size="7" text-anchor="end" fill="#222">201.3</text>
<line x1="36.6" y1="437.8" x2="38.2" y2="437.8" stroke="#222" stroke-width="0.5"/>
<text x="36.2" y="440.2" font-size="7" text-anchor="end" fill="#222">0</text>
<line x1="49.3" y1="438.4" x2="49.3" y2="440" stroke="#222" stroke-width="0.5"/>
<text x="49.3" y="451.1" font-size="7" text-anchor="middle" fill="#222">-10<tspan font-size="4.7" dy="-3.4">2</tspan><tspan dy="3.4"></tspan></text>
<line x1="76.1" y1="438.4" x2="76.1" y2="440" stroke="#222" stroke-width="0.5"/>
<text x="76.1" y="451.1" font-size="7" text-anchor="middle" fill="#222">10<tspan font-size="4.7" dy="-3.4">3</tspan><tspan dy="3.4"></tspan></text>
<line x1="99.1" y1="438.4" x2="99.1" y2="440" stroke="#222" stroke-width="0.5"/>
<text x="99.1" y="451.1" font-size="7" text-anchor="middle" fill="#222">10<tspan font-size="4.7" dy="-3.4">4</tspan><tspan dy="3.4"></tspan></text>
<line x1="119" y1="438.4" x2="119" y2="440" stroke="#222" stroke-width="0.5"/>
<text x="119" y="451.1" font-size="7" text-anchor="middle" fill="#222">10<tspan font-size="4.7" dy="-3.4">5</tspan><tspan dy="3.4"></tspan></text>
<line x1="139.2" y1="438.4" x2="139.2" y2="440" stroke="#222" stroke-width="0.5"/>
<text x="139.2" y="451.1" font-size="7" text-anchor="middle" fill="#222">10<tspan font-size="4.7" dy="-3.4">6</tspan><tspan dy="3.4"></tspan></text>
<text x="43.1" y="360" font-size="10.6">CCl<tspan font-size="0.62em">4</tspan></text>
<text x="79.3" y="387.4" font-size="10.2" textLength="54.7" lengthAdjust="spacingAndGlyphs">S100A8/A9<tspan font-size="5.6" dy="-3.8">+</tspan></text>
<text x="105.8" y="399.7" font-size="10.2" text-anchor="middle">61.06%</text>
<defs><clipPath id="e2"><rect x="155.8" y="349.4" width="104.9" height="86.9"/></clipPath></defs>
<g clip-path="url(#e2)">
<path d="M179.1 415.5h0.75M210.8 418.4h0.75M189 413.5h0.75M190.2 411.6h0.75M195.4 425.6h0.75M187.2 414.1h0.75M193.1 420.6h0.75M197.1 427.5h0.75M178.4 421.6h0.75M176.6 444.1h0.75M186.2 435.4h0.75M195.4 428.1h0.75M191.3 424.5h0.75M187.3 427.1h0.75M183.1 435.2h0.75M171.4 429.4h0.75M184.5 425.7h0.75M182.1 417.7h0.75M176.1 406.1h0.75M181 426.6h0.75M185.5 432.8h0.75M187.8 426.7h0.75M181.8 435.1h0.75M186.5 409.6h0.75M193.5 408h0.75M180.9 434.7h0.75M203.9 417h0.75M182.7 419.5h0.75M181.8 428.3h0.75M185.7 415.1h0.75M181.6 406.8h0.75M184.9 416.1h0.75M185.5 443h0.75M190.4 417.7h0.75M184 437.8h0.75M184.4 417.8h0.75M171.5 442h0.75M195 421.8h0.75M170.4 417.9h0.75M194.8 414.6h0.75M182 403.2h0.75M187.5 428.8h0.75M194.3 434.3h0.75M198.4 424.3h0.75M191.4 417.8h0.75M176.9 422.4h0.75M196.2 414.7h0.75M170.5 436.1h0.75M185.3 419.5h0.75M186.3 415.2h0.75M206.1 405.5h0.75M179.3 429.2h0.75M192 427.2h0.75M191.5 425.6h0.75M185.9 421.3h0.75M175.3 424.5h0.75M181.1 415.8h0.75M192.1 416.6h0.75M199.8 421.2h0.75M197.4 443.2h0.75M195.5 410.9h0.75M187.9 416.9h0.75M180 429.2h0.75M186.6 431h0.75M176.7 432.5h0.75M198.5 417.2h0.75M210.7 424.2h0.75M175.4 427.6h0.75M188.7 435.4h0.75M174 413.1h0.75M180.3 424.6h0.75M184.8 422.8h0.75M183.7 417.9h0.75M184.5 420.4h0.75M182 423.7h0.75M194.6 419.7h0.75M188.9 414.7h0.75M172.2 431.5h0.75M193.5 418h0.75M175.7 416.4h0.75M185.9 416.1h0.75M174.7 434.6h0.75M192.5 430.1h0.75M170.7 421.6h0.75M194.5 431.8h0.75M191.1 425.8h0.75M176.8 432.5h0.75M166.9 420.4h0.75M197.3 425.9h0.75M181.8 428h0.75M190.4 418.5h0.75M188.7 424.9h0.75M175.2 421.1h0.75M200.3 434.5h0.75M181.8 422.5h0.75M199.6 408.2h0.75M189.2 438.8h0.75M195.7 423.5h0.75M175 442.9h0.75M189.2 430.5h0.75M199.3 431.1h0.75M201.7 429.4h0.75M186.6 433.4h0.75M189.9 416.4h0.75M175.1 429.5h0.75M178.2 425.2h0.75M180.3 421.8h0.75M188.7 423.2h0.75M175.7 423.9h0.75M186.7 418.6h0.75M179.2 420h0.75M171.1 431.9h0.75M178.4 428.3h0.75M182.9 422.2h0.75M190.8 412.9h0.75M198 418.5h0.75M205 402.3h0.75M183.4 429.2h0.75M192.4 416.7h0.75M194.1 419.2h0.75M176.8 433.1h0.75M196 420.5h0.75M182.7 418.1h0.75M199.5 427.6h0.75M178.6 434.8h0.75M173.5 434.6h0.75M164.6 437.3h0.75M186.3 410.4h0.75M176.8 431.4h0.75M186.5 426.3h0.75M193.6 407.8h0.75M180.9 409.7h0.75M158.2 434.3h0.75M167 441.8h0.75M196.6 421h0.75M170.5 427.7h0.75M172.3 431.6h0.75M183.6 435.6h0.75M185.2 412.8h0.75M200.3 415.9h0.75M194.6 418.1h0.75M202.9 422.6h0.75M200 427h0.75M193.9 421.3h0.75M172.1 414.3h0.75M200.4 419.6h0.75M182.1 434.5h0.75M189.3 422.6h0.75M207.1 418.5h0.75M176.7 431.4h0.75M200.8 424.1h0.75M190.4 417.5h0.75M182.5 409.2h0.75M197.9 415.2h0.75M179.9 421.8h0.75M185.3 416.8h0.75M175.2 422.7h0.75M201.5 412.2h0.75M193.4 422.2h0.75M185.9 431.4h0.75M183 419.3h0.75M177.5 426.4h0.75M189.4 434.1h0.75M171.5 444.5h0.75M206.4 424.1h0.75M178.1 422h0.75M201 419.9h0.75M186.4 415.9h0.75M180.1 417.3h0.75M205.9 420h0.75M188.6 432h0.75M180.1 409.6h0.75M189.1 415h0.75M188.3 418.2h0.75M177.9 426.7h0.75M191.2 409.5h0.75M172.9 419.2h0.75M186.3 432h0.75M196.1 422.2h0.75M198.4 429.6h0.75M207.1 424.2h0.75M177.7 424.1h0.75M197.3 423h0.75M182.5 424.6h0.75M194.7 416.8h0.75M182.9 429.3h0.75M185.5 429.8h0.75M188.2 419.8h0.75M184.7 434.3h0.75M180.9 428.7h0.75M184.8 425.3h0.75M188.8 431.3h0.75M184 415.9h0.75M180.5 434.7h0.75M191.3 431.9h0.75M197.1 428.3h0.75M174.5 428.9h0.75M192.5 408h0.75M193.4 418.5h0.75M194.8 415.1h0.75M185.1 432.3h0.75M200.5 403.2h0.75M186.5 416.5h0.75M193.7 423h0.75M175.7 418.7h0.75M188.4 422.8h0.75M194.9 417.6h0.75M197.7 418.6h0.75M204.5 420.9h0.75M175.5 429.2h0.75M190.4 418.9h0.75M198.1 431.4h0.75M177.9 423.7h0.75M185.3 434.6h0.75M202.8 404.8h0.75M201.4 400.8h0.75M189.7 423.2h0.75M187.7 416.9h0.75M177.8 428.4h0.75M195.6 415.8h0.75M193.5 423.5h0.75M195.5 407.9h0.75M209.6 425.7h0.75M183.5 436.5h0.75M169.4 428.6h0.75M185.7 424.5h0.75M169.7 429.2h0.75M178.9 438.2h0.75M181.7 430h0.75M186.3 429h0.75M195.2 411.7h0.75M201.5 407.3h0.75M208.8 419.5h0.75M203.9 410.4h0.75M217.4 416.4h0.75M211.5 421.2h0.75M211.8 414.1h0.75M206.2 419.2h0.75M195.1 407.3h0.75M209.3 417.9h0.75M211.3 411.7h0.75M205.1 405.1h0.75M208.8 414.2h0.75M210.6 400.9h0.75M206.8 407.4h0.75M211.7 419.1h0.75M210.4 417.9h0.75M213.1 416.6h0.75M203.5 414.3h0.75M207.6 416.2h0.75M210.1 415h0.75M208.9 414.1h0.75M207.6 407.4h0.75M204.5 410.7h0.75M216.7 414.3h0.75M202.7 416.8h0.75M210.4 412.7h0.75M213.5 409h0.75M202.6 410h0.75M206.1 412.3h0.75M206.7 419.5h0.75M207.6 416.5h0.75M207.5 407.8h0.75M208.4 408.1h0.75M211.3 413h0.75M202.6 412.6h0.75M208.8 411.1h0.75M202.8 411.2h0.75M205.6 410.5h0.75M194.7 407h0.75M216.4 425.4h0.75M213.1 413.6h0.75M212.1 418.3h0.75M207.9 414h0.75M209.6 403.7h0.75M211.7 420.2h0.75M208.6 416.4h0.75M203.6 412.6h0.75M205.4 407.3h0.75M206.7 427.4h0.75M216.4 416h0.75M203.3 426h0.75M204.1 409.2h0.75M207.7 425.7h0.75M217.5 403.7h0.75M199.4 405.2h0.75M214.3 409.6h0.75M202.9 420.2h0.75M201 422.1h0.75M199 408.5h0.75M175.9 424.3h0.75M170 433.1h0.75M173.3 430.9h0.75M171.3 432.2h0.75M168.2 427.9h0.75M180.4 423.2h0.75M167.8 427h0.75M166.4 434.6h0.75M155 425.9h0.75M170.6 429.7h0.75M168.1 429.1h0.75M170.8 427.8h0.75M175.2 428h0.75M156.7 427.2h0.75M170.2 425.8h0.75M156.2 433.8h0.75M168 433.4h0.75M176.4 422.4h0.75M170 426.3h0.75M166.1 431.9h0.75M168.5 428.7h0.75M168.4 430.7h0.75M146.3 437.3h0.75M172.6 430.4h0.75M167.5 436.3h0.75M165.3 432.4h0.75M160.9 423h0.75M169.1 431h0.75M155.1 437.4h0.75M171.3 430.2h0.75M159.6 426h0.75M165.7 430.7h0.75M164.5 430h0.75M169.8 430.2h0.75M170.5 428.8h0.75M155.2 433.4h0.75M170.4 433.4h0.75M169.2 424.7h0.75M171.4 434.1h0.75M180.3 427.5h0.75" stroke="#1E1EB4" stroke-width="0.75" fill="none"/>
<g fill="none" stroke="#2A2AD2" stroke-width="0.32"><ellipse cx="189.18" cy="423.97" rx="14" ry="10" transform="rotate(-30.59 189.18 423.97)" fill="none"/><ellipse cx="189.36" cy="425.53" rx="12.6" ry="9" transform="rotate(-34.19 189.36 425.53)" fill="none"/><ellipse cx="188.72" cy="424.73" rx="11.2" ry="8" transform="rotate(-31.98 188.72 424.73)" fill="none"/><ellipse cx="188.38" cy="424.03" rx="9.8" ry="7" transform="rotate(-37.31 188.38 424.03)" fill="none"/><ellipse cx="187.73" cy="424.33" rx="8.4" ry="6" transform="rotate(-37.51 187.73 424.33)" fill="none"/><ellipse cx="189.11" cy="424.36" rx="7" ry="5" transform="rotate(-37.92 189.11 424.36)" fill="none"/><ellipse cx="189.62" cy="423.73" rx="5.6" ry="4" transform="rotate(-34.04 189.62 423.73)" fill="none"/><ellipse cx="188.62" cy="423.33" rx="4.2" ry="3" transform="rotate(-43.77 188.62 423.33)" fill="none"/><ellipse cx="206.74" cy="415.64" rx="6" ry="8" transform="rotate(25.34 206.74 415.64)" fill="none"/><ellipse cx="206.89" cy="416.15" rx="5.04" ry="6.72" transform="rotate(12.45 206.89 416.15)" fill="none"/><ellipse cx="207.42" cy="416.35" rx="4.08" ry="5.44" transform="rotate(15.94 207.42 416.35)" fill="none"/><ellipse cx="207.09" cy="414.92" rx="3.12" ry="4.16" transform="rotate(11.73 207.09 414.92)" fill="none"/><ellipse cx="206.91" cy="416.88" rx="2.16" ry="2.88" transform="rotate(24.25 206.91 416.88)" fill="none"/><ellipse cx="171.72" cy="431.11" rx="8" ry="4" transform="rotate(-8.95 171.72 431.11)" fill="none"/><ellipse cx="173.2" cy="430.83" rx="5.87" ry="2.93" transform="rotate(-8.8 173.2 430.83)" fill="none"/><ellipse cx="172.27" cy="430.97" rx="3.73" ry="1.87" transform="rotate(-11.76 172.27 430.97)" fill="none"/></g>
<g fill="none" stroke="#1E1EB4" stroke-width="0.45"><ellipse cx="207.7" cy="415.5" rx="2.4" ry="3.4" transform="rotate(10 207.7 415.5)" fill="none"/><ellipse cx="207.7" cy="415.5" rx="1.8" ry="2.55" transform="rotate(10 207.7 415.5)" fill="none"/><ellipse cx="207.7" cy="415.5" rx="1.2" ry="1.7" transform="rotate(10 207.7 415.5)" fill="none"/></g>
<ellipse cx="188.6" cy="427.3" rx="9" ry="6.4" transform="rotate(-40 188.6 427.3)" fill="#1414C8"/><ellipse cx="188.6" cy="427.3" rx="7.74" ry="5.5" transform="rotate(-40 188.6 427.3)" fill="#0050FF"/><ellipse cx="188.6" cy="427.3" rx="6.48" ry="4.61" transform="rotate(-40 188.6 427.3)" fill="#00B4FF"/><ellipse cx="188.6" cy="427.3" rx="5.22" ry="3.71" transform="rotate(-40 188.6 427.3)" fill="#10E070"/><ellipse cx="188.6" cy="427.3" rx="4.14" ry="2.94" transform="rotate(-40 188.6 427.3)" fill="#B8F000"/><ellipse cx="188.6" cy="427.3" rx="3.24" ry="2.3" transform="rotate(-40 188.6 427.3)" fill="#FFE000"/><ellipse cx="188.6" cy="427.3" rx="2.43" ry="1.73" transform="rotate(-40 188.6 427.3)" fill="#FF8C00"/><ellipse cx="188.6" cy="427.3" rx="1.53" ry="1.09" transform="rotate(-40 188.6 427.3)" fill="#FF1A00"/>
</g>
<polyline points="190.7,436.3 190.7,401.5 238.4,401.5 238.4,436.3" fill="none" stroke="#222" stroke-width="0.6"/>
<rect x="155.8" y="349.4" width="104.9" height="86.9" fill="none" stroke="#111" stroke-width="1.2"/>
<path d="M157.8 436.9v1.1 M159 436.9v1.1 M160.6 436.9v1.1 M162.8 436.9v1.1 M164 436.9v1.1 M165.6 436.9v1.1 M166.8 436.9v1.1 M168 436.9v1.1 M170.2 436.9v1.1 M172.4 436.9v1.1 M173.6 436.9v1.1 M176.6 436.9v1.1 M179.6 436.9v1.1 M181.8 436.9v1.1 M183 436.9v1.1 M184.6 436.9v1.1 M186.8 436.9v1.1 M188 436.9v1.1 M189.6 436.9v1.1 M190.8 436.9v1.1 M192.4 436.9v1.1 M194 436.9v1.1 M196.2 436.9v1.1 M199.2 436.9v1.1 M200.8 436.9v1.1 M203.8 436.9v1.1 M205.4 436.9v1.1 M207.6 436.9v1.1 M209.2 436.9v1.1 M212.2 436.9v1.1 M215.2 436.9v1.1 M217.4 436.9v1.1 M220.4 436.9v1.1 M222.6 436.9v1.1 M224.2 436.9v1.1 M227.2 436.9v1.1 M228.8 436.9v1.1 M231 436.9v1.1 M232.2 436.9v1.1 M234.4 436.9v1.1 M236.6 436.9v1.1 M239.6 436.9v1.1 M242.6 436.9v1.1 M245.6 436.9v1.1 M247.8 436.9v1.1 M249.4 436.9v1.1 M251 436.9v1.1 M252.6 436.9v1.1 M253.8 436.9v1.1 M256 436.9v1.1 M257.6 436.9v1.1 M258.8 436.9v1.1" stroke="#222" stroke-width="0.45"/>
<path d="M155.2 351.4h-1.0 M155.2 355.8h-1.0 M155.2 361.3h-1.0 M155.2 364.3h-1.0 M155.2 369.8h-1.0 M155.2 372.8h-1.0 M155.2 375.8h-1.0 M155.2 380.2h-1.0 M155.2 385.7h-1.0 M155.2 391.2h-1.0 M155.2 396.7h-1.0 M155.2 399.7h-1.0 M155.2 405.2h-1.0 M155.2 410.7h-1.0 M155.2 416.2h-1.0 M155.2 421.7h-1.0 M155.2 424.7h-1.0 M155.2 427.7h-1.0 M155.2 430.7h-1.0 M155.2 435.1h-1.0" stroke="#222" stroke-width="0.4"/>
<line x1="153.6" y1="349.4" x2="155.2" y2="349.4" stroke="#222" stroke-width="0.5"/>
<text x="153.2" y="351.8" font-size="7" text-anchor="end" fill="#222">704</text>
<line x1="153.6" y1="371.7" x2="155.2" y2="371.7" stroke="#222" stroke-width="0.5"/>
<text x="153.2" y="374.1" font-size="7" text-anchor="end" fill="#222">528</text>
<line x1="153.6" y1="393.2" x2="155.2" y2="393.2" stroke="#222" stroke-width="0.5"/>
<text x="153.2" y="395.6" font-size="7" text-anchor="end" fill="#222">352</text>
<line x1="153.6" y1="415.5" x2="155.2" y2="415.5" stroke="#222" stroke-width="0.5"/>
<text x="153.2" y="417.9" font-size="7" text-anchor="end" fill="#222">176</text>
<line x1="153.6" y1="436.3" x2="155.2" y2="436.3" stroke="#222" stroke-width="0.5"/>
<text x="153.2" y="438.7" font-size="7" text-anchor="end" fill="#222">0</text>
<line x1="156.7" y1="436.9" x2="156.7" y2="438.5" stroke="#222" stroke-width="0.5"/>
<text x="156.7" y="449.6" font-size="7" text-anchor="middle" fill="#222">-10<tspan font-size="4.7" dy="-3.4">2</tspan><tspan dy="3.4"></tspan></text>
<line x1="169.4" y1="436.9" x2="169.4" y2="438.5" stroke="#222" stroke-width="0.5"/>
<text x="169.4" y="449.6" font-size="7" text-anchor="middle" fill="#222">10<tspan font-size="4.7" dy="-3.4">2</tspan><tspan dy="3.4"></tspan></text>
<line x1="187.4" y1="436.9" x2="187.4" y2="438.5" stroke="#222" stroke-width="0.5"/>
<text x="187.4" y="449.6" font-size="7" text-anchor="middle" fill="#222">10<tspan font-size="4.7" dy="-3.4">3</tspan><tspan dy="3.4"></tspan></text>
<line x1="205.5" y1="436.9" x2="205.5" y2="438.5" stroke="#222" stroke-width="0.5"/>
<text x="205.5" y="449.6" font-size="7" text-anchor="middle" fill="#222">10<tspan font-size="4.7" dy="-3.4">4</tspan><tspan dy="3.4"></tspan></text>
<line x1="223" y1="436.9" x2="223" y2="438.5" stroke="#222" stroke-width="0.5"/>
<text x="223" y="449.6" font-size="7" text-anchor="middle" fill="#222">10<tspan font-size="4.7" dy="-3.4">5</tspan><tspan dy="3.4"></tspan></text>
<line x1="241.7" y1="436.9" x2="241.7" y2="438.5" stroke="#222" stroke-width="0.5"/>
<text x="241.7" y="449.6" font-size="7" text-anchor="middle" fill="#222">10<tspan font-size="4.7" dy="-3.4">6</tspan><tspan dy="3.4"></tspan></text>
<line x1="259.2" y1="436.9" x2="259.2" y2="438.5" stroke="#222" stroke-width="0.5"/>
<text x="259.2" y="449.6" font-size="7" text-anchor="middle" fill="#222">10<tspan font-size="4.7" dy="-3.4">7</tspan><tspan dy="3.4"></tspan></text>
<text x="157.4" y="359.7" font-size="10.6">CCl<tspan font-size="0.62em">4</tspan>+IPA</text>
<text x="189.6" y="387.8" font-size="10.2" textLength="56.4" lengthAdjust="spacingAndGlyphs">S100A8/A9<tspan font-size="5.6" dy="-3.8">+</tspan></text>
<text x="217.6" y="399.9" font-size="10.2" text-anchor="middle">40.24%</text>
<line x1="87.6" y1="449.9" x2="87.6" y2="470.5" stroke="#111" stroke-width="0.8"/>
<path d="M86.1 470L87.6 473L89.1 470z" fill="#111"/>
<line x1="215" y1="450.6" x2="215" y2="471.1" stroke="#111" stroke-width="0.8"/>
<path d="M213.5 470.6L215 473.6L216.5 470.6z" fill="#111"/>
<line x1="15.8" y1="396.5" x2="15.8" y2="454.2" stroke="#111" stroke-width="0.9"/>
<line x1="15.8" y1="454.2" x2="74.9" y2="454.2" stroke="#111" stroke-width="0.9"/>
<path d="M13.8 397L15.8 393.5L17.8 397z" fill="#111"/>
<path d="M74.4 452.2L77.9 454.2L74.4 456.2z" fill="#111"/>
<text x="9.2" y="426.9" font-size="10.2" text-anchor="middle" transform="rotate(-90 9.2 426.9)">SSA</text>
<text x="18.7" y="464.2" font-size="10.2" textLength="53.6" lengthAdjust="spacingAndGlyphs">S100A8/A9</text>
<defs><clipPath id="e3"><rect x="38.8" y="479.2" width="101.3" height="87.8"/></clipPath></defs>
<g clip-path="url(#e3)">
<path d="M87.7 553.7h0.75M84.6 546.5h0.75M81.9 554h0.75M88 547.7h0.75M69 549.9h0.75M75.3 549.2h0.75M84.4 560.9h0.75M83.5 565.6h0.75M81.3 548.6h0.75M66 565.1h0.75M104.5 553.5h0.75M86 536h0.75M93.7 557.7h0.75M80.3 554.6h0.75M84 550.3h0.75M70.7 553.9h0.75M87 561.5h0.75M60.4 564.5h0.75M89.7 548.5h0.75M90.4 543.9h0.75M80.4 559.6h0.75M67 557.3h0.75M69.7 541h0.75M77.3 550.1h0.75M78.6 541.9h0.75M75.4 551.4h0.75M82.8 552.5h0.75M70.9 557.6h0.75M85.4 549.2h0.75M76.3 544h0.75M90.6 539.7h0.75M81.4 543.8h0.75M76 557.7h0.75M85.6 561.9h0.75M74.2 547.9h0.75M107.8 556.8h0.75M76 543.4h0.75M67 557.6h0.75M81.9 537.6h0.75M75.1 561.2h0.75M81.5 555.5h0.75M89.5 549.1h0.75M88.1 555.9h0.75M87.9 545.8h0.75M82.2 545.4h0.75M74.7 546.8h0.75M88.6 546.5h0.75M106.7 550.6h0.75M69.9 557h0.75M64.1 558.8h0.75M89.2 554h0.75M83.7 545.9h0.75M111.8 551.8h0.75M80.2 562.8h0.75M91.1 550.5h0.75M90.2 545.8h0.75M75.3 552.5h0.75M85 562.2h0.75M81.5 549h0.75M90.4 556.5h0.75M89.3 553.7h0.75M93.1 548h0.75M81.3 542.8h0.75M84.4 549.2h0.75M80.5 545.1h0.75M76.4 554.1h0.75M86.9 566.5h0.75M78.4 553.8h0.75M76.8 554.5h0.75M82.1 559.1h0.75M85.9 546.6h0.75M80.2 549.6h0.75M85.5 555.5h0.75M75.4 558.7h0.75M88.7 555.4h0.75M86.2 552.3h0.75M67.9 553.5h0.75M78.5 539.9h0.75M84 557.2h0.75M62.2 544.1h0.75M77.7 548.4h0.75M99.1 556h0.75M74.3 557.8h0.75M91.8 553.3h0.75M79 558.5h0.75M91.2 554.6h0.75M72.7 565.2h0.75M74.9 561.8h0.75M75.2 541.2h0.75M72.7 563.7h0.75M79.1 539.6h0.75M51.5 545.4h0.75M80.2 547.4h0.75M79 552.2h0.75M82.4 568.7h0.75M77.1 564.3h0.75M79.8 563.2h0.75M85 548.7h0.75M83.2 554.5h0.75M76.8 555.4h0.75M65.8 559.6h0.75M93.4 530.9h0.75M100.4 547.6h0.75M76.1 552.2h0.75M88.1 538.9h0.75M83 553.8h0.75M89.7 547.1h0.75M84.8 554.7h0.75M95.9 537.9h0.75M93 553.2h0.75M79.6 557.8h0.75M80.8 548.5h0.75M100.2 552.6h0.75M89.3 545.2h0.75M95.9 543.1h0.75M87.7 545.7h0.75M81.7 544.5h0.75M80.8 537h0.75M92 551.6h0.75M80.3 563.2h0.75M104.1 536.4h0.75M83.4 544.6h0.75M103.3 556.7h0.75M94.3 548.5h0.75M68.5 553.9h0.75M103.8 540h0.75M80 553.5h0.75M88.3 560.3h0.75M86.2 546.8h0.75M83.2 554.7h0.75M72.2 567.3h0.75M84.4 560.8h0.75M97.9 549.3h0.75M77.8 555.2h0.75M73.2 553h0.75M71.2 552.8h0.75M86.8 564.3h0.75M92.6 548.6h0.75M92 547.5h0.75M94.6 547.6h0.75M71.8 550.1h0.75M94.1 543.8h0.75M96.7 557h0.75M89.7 551.2h0.75M79.7 555.2h0.75M91.1 545.7h0.75M75.8 552h0.75M84.7 552h0.75M75.2 541.7h0.75M83.6 537.2h0.75M83.7 553.4h0.75M96.1 569.5h0.75M90.1 544.3h0.75M80.9 552.4h0.75M75.7 551.2h0.75M79 548.6h0.75M74.3 566.4h0.75M99 550.6h0.75M75.1 553.7h0.75M65.9 551.4h0.75M76.3 560.2h0.75M82.3 551.1h0.75M71.4 552.7h0.75M88.5 553.7h0.75M86.5 568.7h0.75M76.6 541.1h0.75M76.9 553.9h0.75M70.2 554.7h0.75M88.7 555.7h0.75M68.8 555.9h0.75M90.2 561.2h0.75M74.8 553.9h0.75M62.6 560.3h0.75M71.8 553.6h0.75M84.7 546.5h0.75M74.8 541.4h0.75M95 541.7h0.75M78 545.6h0.75M70.6 555.6h0.75M77.6 560h0.75M77.7 561h0.75M89.8 546.4h0.75M84.5 537.7h0.75M86.1 557h0.75M84.9 556.9h0.75M74 549.8h0.75M69 562.1h0.75M80.8 546h0.75M90 551.3h0.75M77.3 546.7h0.75M92.1 558h0.75M89.3 562.3h0.75M80.9 544.5h0.75M81.2 567.9h0.75M89.1 555.3h0.75M77.4 550.7h0.75M89.5 565.2h0.75M70.7 565.6h0.75M83.4 542.4h0.75M82.8 540.7h0.75M57.2 562.2h0.75M60.4 568.2h0.75M71.7 560.2h0.75M51.4 558.7h0.75M44.1 558.4h0.75M29 565.3h0.75M48.9 562.8h0.75M54.3 563.7h0.75M41.5 562.2h0.75M58.6 562.1h0.75M69.8 562.9h0.75M55.9 562.9h0.75M45.2 569.1h0.75M45.3 564.7h0.75M59.5 562.9h0.75M66.1 560.7h0.75M62.7 566.9h0.75M62.8 562.1h0.75M70 559.6h0.75M26.6 564.5h0.75M66.5 560.9h0.75M52.8 564.5h0.75M52 562.6h0.75M70.6 564.8h0.75M71.3 560.8h0.75M71.3 557.6h0.75M64 561.8h0.75M50.6 563.1h0.75M49.8 560.3h0.75M57.3 560.9h0.75M68 561.5h0.75M32 560.9h0.75M39.4 565h0.75M37.3 563.5h0.75M55.5 561.7h0.75M59.6 561.3h0.75M74.7 561h0.75M52.8 562.2h0.75M60.7 560.9h0.75M50.6 565h0.75M72.4 561.1h0.75M82.7 562.9h0.75M50.6 560.6h0.75M67.1 565.6h0.75M52.4 564.9h0.75M60.6 561.8h0.75M49.7 562.6h0.75M74.3 563.9h0.75M64.7 561.5h0.75M62 559.7h0.75M47.4 560.1h0.75M72 559.5h0.75M68.6 564.8h0.75M52 562.5h0.75M75.2 560.7h0.75M59.2 558.1h0.75M54.5 567.2h0.75M63.7 562.4h0.75M59.9 564h0.75M58.8 563.8h0.75M62.1 561.3h0.75M60.8 561.7h0.75M61.3 559.5h0.75M51.4 563.1h0.75M57.8 563.7h0.75M62.3 562h0.75M75.1 559.2h0.75M54.2 561h0.75M74.4 561.3h0.75M68.2 562.5h0.75M54.6 563.2h0.75M40.6 563.3h0.75M63.2 562.9h0.75M57.8 560h0.75M61.5 562.1h0.75M63.3 567.3h0.75M60.5 561.4h0.75M45.6 563.8h0.75M59.6 561.2h0.75M61.1 562.8h0.75M33.1 563.9h0.75M66.3 560.6h0.75M32.8 565.6h0.75M74.3 559.8h0.75M57 562h0.75M33.2 566.1h0.75M61.1 563.5h0.75M67.3 559.3h0.75M46.9 562.6h0.75M48.4 563.9h0.75M101.9 541.5h0.75M108.1 546.2h0.75M96.3 551.5h0.75M101.1 546h0.75M100.2 535h0.75M104.4 544.6h0.75M96.8 556.3h0.75M98 548.5h0.75M96.6 539.3h0.75M97.8 539.9h0.75M103.4 540.8h0.75M98 546.8h0.75M102.6 556.6h0.75M87.3 545h0.75M106.8 547.2h0.75M101.7 537.1h0.75M99.6 538.4h0.75M103.4 539.3h0.75M106.6 543.4h0.75M91 539.5h0.75M102.9 540.1h0.75M91 542.8h0.75M100.8 544.3h0.75M105.9 541.4h0.75M98.3 545.7h0.75M95.1 538.4h0.75M104.9 541.2h0.75M99.9 544.2h0.75M86.6 548.2h0.75M88.9 552.7h0.75M111.4 540.3h0.75M103.5 548.2h0.75M98.4 548.6h0.75M106.4 544.6h0.75M82.1 548.2h0.75M100.4 542.9h0.75M90.3 542.9h0.75M98.5 551.2h0.75M95.4 535.8h0.75M92.2 546.3h0.75M93.8 541.7h0.75M94.9 547.3h0.75M107.5 542.5h0.75M92.5 541.1h0.75M86.7 538.1h0.75M98.7 548.2h0.75M93.8 547.8h0.75M101.2 546.6h0.75M96.6 544.5h0.75M95.6 539.6h0.75M95.5 548.4h0.75M91.3 544.6h0.75M96.6 543.7h0.75M102.7 540.4h0.75M105.4 541.6h0.75M106 552h0.75M80.5 545.3h0.75M102.5 541.8h0.75M92.1 550.3h0.75M97.2 543h0.75M93.5 532.5h0.75M92 544.7h0.75M102 540.7h0.75M106.2 538.4h0.75M94.7 551.1h0.75M100.9 534.4h0.75M105.2 540.1h0.75M97.7 542h0.75M96.8 546.2h0.75M95 550.8h0.75M86.7 548h0.75M80.2 548.5h0.75M86.8 546.9h0.75M88.2 546.3h0.75M79.5 545.4h0.75M83.3 538h0.75M76 541.2h0.75M80.2 544.5h0.75M81.6 536.8h0.75M81.9 549.3h0.75M79.7 540.4h0.75M84.5 542.3h0.75M79.4 540h0.75M76.6 540.7h0.75M77.6 534h0.75M79 534h0.75M83.1 545.3h0.75M81.9 538.3h0.75M85.7 545.5h0.75M79.2 533.5h0.75M82.7 541.3h0.75M85 553.6h0.75M79.9 542.6h0.75M81.1 537.2h0.75M81.6 549.8h0.75M78.4 543.6h0.75M82.9 535.1h0.75M85 543.8h0.75M83.4 538.9h0.75M79 541.4h0.75" stroke="#1E1EB4" stroke-width="0.75" fill="none"/>
<g fill="none" stroke="#2A2AD2" stroke-width="0.32"><ellipse cx="80.86" cy="556.49" rx="13" ry="7.5" transform="rotate(-16.18 80.86 556.49)" fill="none"/><ellipse cx="80.55" cy="556.32" rx="11.7" ry="6.75" transform="rotate(-20.13 80.55 556.32)" fill="none"/><ellipse cx="81.67" cy="556.83" rx="10.4" ry="6" transform="rotate(-18.9 81.67 556.83)" fill="none"/><ellipse cx="78.64" cy="556" rx="9.1" ry="5.25" transform="rotate(-15.27 78.64 556)" fill="none"/><ellipse cx="81.35" cy="556.26" rx="7.8" ry="4.5" transform="rotate(-22.89 81.35 556.26)" fill="none"/><ellipse cx="80.81" cy="555.81" rx="6.5" ry="3.75" transform="rotate(-21.77 80.81 555.81)" fill="none"/><ellipse cx="81.49" cy="556.46" rx="5.2" ry="3" transform="rotate(-25.27 81.49 556.46)" fill="none"/><ellipse cx="79.28" cy="555.31" rx="3.9" ry="2.25" transform="rotate(-12.76 79.28 555.31)" fill="none"/><ellipse cx="81.7" cy="547.31" rx="6" ry="9" transform="rotate(5.23 81.7 547.31)" fill="none"/><ellipse cx="82.26" cy="546.08" rx="5.2" ry="7.8" transform="rotate(15.57 82.26 546.08)" fill="none"/><ellipse cx="81.66" cy="546.45" rx="4.4" ry="6.6" transform="rotate(8.73 81.66 546.45)" fill="none"/><ellipse cx="82.21" cy="546.91" rx="3.6" ry="5.4" transform="rotate(11.19 82.21 546.91)" fill="none"/><ellipse cx="81.55" cy="546.36" rx="2.8" ry="4.2" transform="rotate(11.56 81.55 546.36)" fill="none"/><ellipse cx="81.26" cy="547.06" rx="2" ry="3" transform="rotate(5.95 81.26 547.06)" fill="none"/><ellipse cx="94.96" cy="549.66" rx="9" ry="6" transform="rotate(-29.76 94.96 549.66)" fill="none"/><ellipse cx="94.78" cy="549.93" rx="7.56" ry="5.04" transform="rotate(-30.72 94.78 549.93)" fill="none"/><ellipse cx="94.08" cy="549.84" rx="6.12" ry="4.08" transform="rotate(-29.78 94.08 549.84)" fill="none"/><ellipse cx="95.14" cy="549.9" rx="4.68" ry="3.12" transform="rotate(-26.5 95.14 549.9)" fill="none"/><ellipse cx="93.92" cy="549.98" rx="3.24" ry="2.16" transform="rotate(-32.97 93.92 549.98)" fill="none"/><ellipse cx="58.1" cy="562.94" rx="16" ry="3" transform="rotate(-6.77 58.1 562.94)" fill="none"/><ellipse cx="58.29" cy="563.01" rx="13.44" ry="2.52" transform="rotate(-5.08 58.29 563.01)" fill="none"/><ellipse cx="59.52" cy="563.07" rx="10.88" ry="2.04" transform="rotate(-4.56 59.52 563.07)" fill="none"/><ellipse cx="57.04" cy="562.9" rx="8.32" ry="1.56" transform="rotate(-9.46 57.04 562.9)" fill="none"/><ellipse cx="58.03" cy="563.03" rx="5.76" ry="1.08" transform="rotate(-3.82 58.03 563.03)" fill="none"/></g>
<g fill="none" stroke="#1E1EB4" stroke-width="0.45"></g>
<ellipse cx="81.4" cy="559.2" rx="10.8" ry="5.6" transform="rotate(-10 81.4 559.2)" fill="#1414C8"/><ellipse cx="81.4" cy="559.2" rx="9.29" ry="4.82" transform="rotate(-10 81.4 559.2)" fill="#0050FF"/><ellipse cx="81.4" cy="559.2" rx="7.78" ry="4.03" transform="rotate(-10 81.4 559.2)" fill="#00B4FF"/><ellipse cx="81.4" cy="559.2" rx="6.26" ry="3.25" transform="rotate(-10 81.4 559.2)" fill="#10E070"/><ellipse cx="81.4" cy="559.2" rx="4.97" ry="2.58" transform="rotate(-10 81.4 559.2)" fill="#B8F000"/><ellipse cx="81.4" cy="559.2" rx="3.89" ry="2.02" transform="rotate(-10 81.4 559.2)" fill="#FFE000"/><ellipse cx="81.4" cy="559.2" rx="2.92" ry="1.51" transform="rotate(-10 81.4 559.2)" fill="#FF8C00"/><ellipse cx="81.4" cy="559.2" rx="1.84" ry="0.95" transform="rotate(-10 81.4 559.2)" fill="#FF1A00"/>
</g>
<polyline points="81.5,567 81.5,530.9 134.7,530.9 134.7,567" fill="none" stroke="#222" stroke-width="0.6"/>
<rect x="38.8" y="479.2" width="101.3" height="87.8" fill="none" stroke="#111" stroke-width="1.2"/>
<path d="M40.8 567.6v1.1 M43.8 567.6v1.1 M45.4 567.6v1.1 M48.4 567.6v1.1 M50.6 567.6v1.1 M53.6 567.6v1.1 M55.2 567.6v1.1 M58.2 567.6v1.1 M59.8 567.6v1.1 M61.4 567.6v1.1 M63 567.6v1.1 M64.2 567.6v1.1 M65.8 567.6v1.1 M67 567.6v1.1 M70 567.6v1.1 M71.6 567.6v1.1 M74.6 567.6v1.1 M76.2 567.6v1.1 M78.4 567.6v1.1 M79.6 567.6v1.1 M81.2 567.6v1.1 M84.2 567.6v1.1 M85.8 567.6v1.1 M87 567.6v1.1 M90 567.6v1.1 M91.2 567.6v1.1 M92.4 567.6v1.1 M95.4 567.6v1.1 M97.6 567.6v1.1 M99.8 567.6v1.1 M102.8 567.6v1.1 M105 567.6v1.1 M106.6 567.6v1.1 M108.2 567.6v1.1 M111.2 567.6v1.1 M113.4 567.6v1.1 M116.4 567.6v1.1 M119.4 567.6v1.1 M122.4 567.6v1.1 M125.4 567.6v1.1 M127.6 567.6v1.1 M130.6 567.6v1.1 M132.8 567.6v1.1 M135 567.6v1.1 M136.2 567.6v1.1 M137.8 567.6v1.1" stroke="#222" stroke-width="0.45"/>
<path d="M38.2 481.2h-1.0 M38.2 485.6h-1.0 M38.2 490h-1.0 M38.2 495.5h-1.0 M38.2 499.9h-1.0 M38.2 502.9h-1.0 M38.2 507.3h-1.0 M38.2 510.3h-1.0 M38.2 515.8h-1.0 M38.2 518.8h-1.0 M38.2 521.8h-1.0 M38.2 526.2h-1.0 M38.2 530.6h-1.0 M38.2 536.1h-1.0 M38.2 539.1h-1.0 M38.2 544.6h-1.0 M38.2 549h-1.0 M38.2 554.5h-1.0 M38.2 557.5h-1.0 M38.2 561.9h-1.0" stroke="#222" stroke-width="0.4"/>
<line x1="36.6" y1="479.2" x2="38.2" y2="479.2" stroke="#222" stroke-width="0.5"/>
<text x="36.2" y="481.6" font-size="7" text-anchor="end" fill="#222">805.2</text>
<line x1="36.6" y1="501.3" x2="38.2" y2="501.3" stroke="#222" stroke-width="0.5"/>
<text x="36.2" y="503.7" font-size="7" text-anchor="end" fill="#222">603.9</text>
<line x1="36.6" y1="523.2" x2="38.2" y2="523.2" stroke="#222" stroke-width="0.5"/>
<text x="36.2" y="525.6" font-size="7" text-anchor="end" fill="#222">402.6</text>
<line x1="36.6" y1="545.5" x2="38.2" y2="545.5" stroke="#222" stroke-width="0.5"/>
<text x="36.2" y="547.9" font-size="7" text-anchor="end" fill="#222">201.3</text>
<line x1="36.6" y1="567" x2="38.2" y2="567" stroke="#222" stroke-width="0.5"/>
<text x="36.2" y="569.4" font-size="7" text-anchor="end" fill="#222">0</text>
<line x1="46" y1="567.6" x2="46" y2="569.2" stroke="#222" stroke-width="0.5"/>
<text x="46" y="580.3" font-size="7" text-anchor="middle" fill="#222">-10<tspan font-size="4.7" dy="-3.4">2</tspan><tspan dy="3.4"></tspan></text>
<line x1="68.5" y1="567.6" x2="68.5" y2="569.2" stroke="#222" stroke-width="0.5"/>
<text x="68.5" y="580.3" font-size="7" text-anchor="middle" fill="#222">10<tspan font-size="4.7" dy="-3.4">3</tspan><tspan dy="3.4"></tspan></text>
<line x1="86.9" y1="567.6" x2="86.9" y2="569.2" stroke="#222" stroke-width="0.5"/>
<text x="86.9" y="580.3" font-size="7" text-anchor="middle" fill="#222">10<tspan font-size="4.7" dy="-3.4">4</tspan><tspan dy="3.4"></tspan></text>
<line x1="104.7" y1="567.6" x2="104.7" y2="569.2" stroke="#222" stroke-width="0.5"/>
<text x="104.7" y="580.3" font-size="7" text-anchor="middle" fill="#222">10<tspan font-size="4.7" dy="-3.4">5</tspan><tspan dy="3.4"></tspan></text>
<line x1="122" y1="567.6" x2="122" y2="569.2" stroke="#222" stroke-width="0.5"/>
<text x="122" y="580.3" font-size="7" text-anchor="middle" fill="#222">10<tspan font-size="4.7" dy="-3.4">6</tspan><tspan dy="3.4"></tspan></text>
<line x1="139" y1="567.6" x2="139" y2="569.2" stroke="#222" stroke-width="0.5"/>
<text x="139" y="580.3" font-size="7" text-anchor="middle" fill="#222">10<tspan font-size="4.7" dy="-3.4">7</tspan><tspan dy="3.4"></tspan></text>
<text x="43.8" y="490.3" font-size="10.6">CCl<tspan font-size="0.62em">4</tspan></text>
<text x="90.1" y="518.2" font-size="10.2" textLength="35.4" lengthAdjust="spacingAndGlyphs">TGFβ1<tspan font-size="5.6" dy="-3.8">+</tspan></text>
<text x="107.3" y="528.2" font-size="10.2" text-anchor="middle">51.38%</text>
<defs><clipPath id="e4"><rect x="155.6" y="478.1" width="102" height="89.5"/></clipPath></defs>
<g clip-path="url(#e4)">
<path d="M199.1 543.7h0.75M185.1 556.9h0.75M201.4 534.6h0.75M195.6 543.8h0.75M186.3 538.3h0.75M213.9 546.8h0.75M190 558.5h0.75M180.9 548.9h0.75M206.3 535.1h0.75M210.2 534.2h0.75M183.4 560h0.75M204.8 539.3h0.75M207.8 548.1h0.75M196 550.3h0.75M216.6 549.8h0.75M196.1 550.3h0.75M193.8 540.5h0.75M192.6 564.1h0.75M203.1 550.1h0.75M185.9 545.6h0.75M187.2 551.3h0.75M201.5 553.2h0.75M203 544.1h0.75M191 561.5h0.75M205.6 545.6h0.75M201 553h0.75M201.5 545.7h0.75M199.2 557.4h0.75M192.7 535.3h0.75M184.4 549.8h0.75M195.2 551.3h0.75M176.4 545h0.75M205.3 530.9h0.75M212.8 551.5h0.75M204.2 546h0.75M203.8 572.8h0.75M200.5 554.6h0.75M190.5 548.2h0.75M190.2 551h0.75M205.2 558.6h0.75M188.1 563.5h0.75M190.2 553.7h0.75M200.4 552.9h0.75M213.6 547.1h0.75M197.6 551.7h0.75M216.8 541.3h0.75M191 550.8h0.75M192.9 534.3h0.75M204 548.6h0.75M183.5 545.9h0.75M201.8 559.2h0.75M197 559.7h0.75M198.5 539.4h0.75M177 549.6h0.75M205.7 538h0.75M207 546.4h0.75M206.7 542.6h0.75M212.1 543.7h0.75M181.5 557h0.75M189.4 554h0.75M195.9 555.8h0.75M191 561.4h0.75M200.7 551.2h0.75M184.1 550.2h0.75M194 542.7h0.75M209.9 548.6h0.75M201.6 568.6h0.75M209.2 560.3h0.75M189.9 550h0.75M193.9 551.5h0.75M202.8 562.5h0.75M210.2 545.3h0.75M210.1 528.1h0.75M191.2 537.3h0.75M198.2 559.1h0.75M199.1 553.5h0.75M201 550.3h0.75M203.3 555.6h0.75M193.9 561.4h0.75M198.2 542.5h0.75M183.3 564.5h0.75M186.3 563.9h0.75M214.6 535.1h0.75M203.2 565.5h0.75M202 544.7h0.75M212.4 553.2h0.75M191.8 549.4h0.75M207 543.1h0.75M207.5 542.7h0.75M194.3 548.1h0.75M196.6 541.9h0.75M204.2 556.5h0.75M179.4 546.5h0.75M188.9 535.4h0.75M193.8 544.3h0.75M215.7 557.2h0.75M181.4 572h0.75M183.1 545.8h0.75M190.9 552.4h0.75M184.9 561.1h0.75M207.1 550.4h0.75M196.4 545.3h0.75M204.3 546.9h0.75M192.4 557.8h0.75M190 555.2h0.75M183.4 569.9h0.75M198.3 536.2h0.75M189.1 561.5h0.75M196.6 545.4h0.75M196.5 555.9h0.75M191.3 557.8h0.75M189.8 548.3h0.75M185.9 548.8h0.75M187 552.9h0.75M194.7 555.5h0.75M189.6 549.8h0.75M203.1 567.5h0.75M195 555.2h0.75M187.9 551h0.75M192.5 563.3h0.75M178.2 564.2h0.75M200.6 566h0.75M198.6 544.1h0.75M203.1 547.7h0.75M178.1 560.9h0.75M191.8 556.6h0.75M179.8 554.3h0.75M205.2 540.1h0.75M207.2 555.9h0.75M191.4 555.3h0.75M218 548.4h0.75M203 566.6h0.75M196.9 551.2h0.75M211.1 525.9h0.75M209.8 556.2h0.75M218.6 541.8h0.75M210.5 552.5h0.75M191.4 542.4h0.75M199.9 545.3h0.75M209.4 540.4h0.75M200.4 550.8h0.75M201 553.4h0.75M195.8 555.7h0.75M201.4 566.8h0.75M191.8 547.5h0.75M201.9 550.9h0.75M197.9 554.1h0.75M226.8 554.2h0.75M197.4 567.5h0.75M203.5 548.9h0.75M210 546.2h0.75M203.6 533.2h0.75M193.1 567.2h0.75M192.7 562h0.75M199.8 558h0.75M188.5 549.9h0.75M204.2 554.8h0.75M207.2 546.6h0.75M204.8 539.9h0.75M201.6 559.2h0.75M192.2 553.7h0.75M189.7 554.4h0.75M204.7 550.5h0.75M196.1 565.2h0.75M209.1 546.4h0.75M178 555.7h0.75M213.7 552.9h0.75M197.2 555.6h0.75M184.5 546.5h0.75M204.4 545.9h0.75M181.1 540.4h0.75M182.7 558.5h0.75M205.6 551.1h0.75M194.8 556.8h0.75M207 550.8h0.75M186.7 549.7h0.75M186.2 557.6h0.75M190.1 540.3h0.75M197.4 555.1h0.75M206.4 551.8h0.75M188.9 564.5h0.75M204.6 550.1h0.75M187.9 538.8h0.75M202.4 560h0.75M189.9 554h0.75M194.6 553.2h0.75M202.6 544.8h0.75M208 532.3h0.75M194.5 556.3h0.75M203 569h0.75M205.5 548.1h0.75M201.1 557.7h0.75M206.7 543.5h0.75M205.7 538.3h0.75M206.3 545.4h0.75M197.3 556.7h0.75M201.5 555.1h0.75M202.5 539.4h0.75M191.8 557.8h0.75M188.8 550.7h0.75M203.4 547.9h0.75M196 538.2h0.75M189.8 546.7h0.75M195.6 551h0.75M179.6 549.8h0.75M185.8 551.3h0.75M184.6 544.2h0.75M195.1 555.3h0.75M184.1 549.9h0.75M199.2 549.1h0.75M175.6 556.6h0.75M212.6 544.6h0.75M180.5 548.5h0.75M182.7 557.7h0.75M196 545.5h0.75M212.3 541.9h0.75M201.9 552.2h0.75M218.5 549.5h0.75M201.8 540.7h0.75M192.9 546.3h0.75M211.1 550.6h0.75M198.6 553.4h0.75M197.1 550.6h0.75M192 549.7h0.75M199.9 558.4h0.75M190.5 542h0.75M206.4 548.9h0.75M172.7 562.2h0.75M185.7 566.3h0.75M197.1 536.5h0.75M175.9 563.7h0.75M177.3 559.8h0.75M165.2 563h0.75M156.6 559.1h0.75M176.4 563.1h0.75M176.5 559.8h0.75M168.2 561.8h0.75M184.5 558h0.75M179.2 559.1h0.75M180.5 565.8h0.75M177.1 562.9h0.75M194.9 559.9h0.75M184.3 563h0.75M178.8 562.2h0.75M160.8 560.2h0.75M196.3 558.6h0.75M173.7 562.7h0.75M169.4 559.6h0.75M181 563.1h0.75M188 566.9h0.75M164.4 570.4h0.75M161.1 561.2h0.75M176.6 559.8h0.75M188.2 555.2h0.75M183 562.8h0.75M174.8 566.1h0.75M179.4 555.7h0.75M145.1 565.9h0.75M165.5 559.1h0.75M162.7 564.6h0.75M160.1 560.5h0.75M166.8 562.5h0.75M174.3 564.9h0.75M174.3 565.9h0.75M206.7 558.5h0.75M175.1 565.1h0.75M167.3 561.6h0.75M181.9 562.3h0.75M182.8 558.9h0.75M188.5 562.1h0.75M177.2 568.3h0.75M175.3 561.3h0.75M174 563.4h0.75M171.1 567.6h0.75M185.2 555.7h0.75M162.9 563.9h0.75M168.5 561.6h0.75M181.5 561h0.75M181.9 560.6h0.75M177.5 558.4h0.75M192.5 562.1h0.75M171.2 561.8h0.75M195.4 560.3h0.75M172.6 561.3h0.75M177.7 561.2h0.75M192 559.1h0.75M180.7 555.1h0.75M169.6 560.2h0.75M166.6 564.1h0.75M160.5 562.9h0.75M168 560h0.75M175.7 561.4h0.75M181.8 560.2h0.75M170.4 567h0.75M166.3 562.9h0.75M189.1 563.4h0.75M167.2 563.2h0.75M165 565.1h0.75M189.4 560h0.75M173.5 563.6h0.75M203.2 544.2h0.75M205.6 551.2h0.75M200.7 543.5h0.75M207.1 550.3h0.75M211.8 534.5h0.75M203 547.5h0.75M207 544.3h0.75M207.6 546.5h0.75M203.2 532h0.75M207.4 526.5h0.75M206.9 533.1h0.75M201.6 532.1h0.75M203.7 528.4h0.75M208.6 534h0.75M207.3 533h0.75M208.8 534.4h0.75M206.7 537.4h0.75M206.3 539.5h0.75M212.9 540.6h0.75M207.4 543.9h0.75M202.7 547.2h0.75M204.3 544.2h0.75M197 537.2h0.75M203.3 541.9h0.75M205.4 540.5h0.75M212.4 539.8h0.75M203 554.7h0.75M216.3 543.5h0.75M207.7 541.3h0.75M211.4 546.4h0.75M204.4 547h0.75M198.9 545.6h0.75M208.8 532.1h0.75M205.5 542.1h0.75M203.5 532.9h0.75M202.2 539.6h0.75M202.1 555.3h0.75M209.2 539.3h0.75M194.2 545.2h0.75M206.8 534.3h0.75" stroke="#1E1EB4" stroke-width="0.75" fill="none"/>
<g fill="none" stroke="#2A2AD2" stroke-width="0.32"><ellipse cx="197.82" cy="552.52" rx="14" ry="10" transform="rotate(-34.04 197.82 552.52)" fill="none"/><ellipse cx="199.36" cy="551.91" rx="12.76" ry="9.11" transform="rotate(-32.74 199.36 551.91)" fill="none"/><ellipse cx="198.73" cy="552.46" rx="11.51" ry="8.22" transform="rotate(-36.4 198.73 552.46)" fill="none"/><ellipse cx="197.56" cy="552.65" rx="10.27" ry="7.33" transform="rotate(-40.03 197.56 552.65)" fill="none"/><ellipse cx="198.88" cy="553.03" rx="9.02" ry="6.44" transform="rotate(-37.49 198.88 553.03)" fill="none"/><ellipse cx="198.62" cy="552.45" rx="7.78" ry="5.56" transform="rotate(-39.68 198.62 552.45)" fill="none"/><ellipse cx="198.06" cy="551.95" rx="6.53" ry="4.67" transform="rotate(-44.94 198.06 551.95)" fill="none"/><ellipse cx="198.13" cy="553.7" rx="5.29" ry="3.78" transform="rotate(-40.41 198.13 553.7)" fill="none"/><ellipse cx="196.71" cy="553.27" rx="4.04" ry="2.89" transform="rotate(-36.92 196.71 553.27)" fill="none"/><ellipse cx="203.07" cy="543.22" rx="7" ry="10" transform="rotate(19.54 203.07 543.22)" fill="none"/><ellipse cx="203.71" cy="543.14" rx="5.88" ry="8.4" transform="rotate(15.45 203.71 543.14)" fill="none"/><ellipse cx="202.53" cy="543.59" rx="4.76" ry="6.8" transform="rotate(12.65 202.53 543.59)" fill="none"/><ellipse cx="202.86" cy="543.19" rx="3.64" ry="5.2" transform="rotate(11.88 202.86 543.19)" fill="none"/><ellipse cx="203.22" cy="542.77" rx="2.52" ry="3.6" transform="rotate(7.65 203.22 542.77)" fill="none"/><ellipse cx="180.68" cy="562.2" rx="12" ry="4.5" transform="rotate(-13.92 180.68 562.2)" fill="none"/><ellipse cx="179.86" cy="561.33" rx="9.6" ry="3.6" transform="rotate(-6.77 179.86 561.33)" fill="none"/><ellipse cx="179.42" cy="562.17" rx="7.2" ry="2.7" transform="rotate(-17.92 179.42 562.17)" fill="none"/><ellipse cx="179.41" cy="561.43" rx="4.8" ry="1.8" transform="rotate(-17.43 179.41 561.43)" fill="none"/></g>
<g fill="none" stroke="#1E1EB4" stroke-width="0.45"></g>
<ellipse cx="197.6" cy="556.8" rx="9.5" ry="6.6" transform="rotate(-30 197.6 556.8)" fill="#1414C8"/><ellipse cx="197.6" cy="556.8" rx="8.17" ry="5.68" transform="rotate(-30 197.6 556.8)" fill="#0050FF"/><ellipse cx="197.6" cy="556.8" rx="6.84" ry="4.75" transform="rotate(-30 197.6 556.8)" fill="#00B4FF"/><ellipse cx="197.6" cy="556.8" rx="5.51" ry="3.83" transform="rotate(-30 197.6 556.8)" fill="#10E070"/><ellipse cx="197.6" cy="556.8" rx="4.37" ry="3.04" transform="rotate(-30 197.6 556.8)" fill="#B8F000"/><ellipse cx="197.6" cy="556.8" rx="3.42" ry="2.38" transform="rotate(-30 197.6 556.8)" fill="#FFE000"/><ellipse cx="197.6" cy="556.8" rx="2.57" ry="1.78" transform="rotate(-30 197.6 556.8)" fill="#FF8C00"/><ellipse cx="197.6" cy="556.8" rx="1.62" ry="1.12" transform="rotate(-30 197.6 556.8)" fill="#FF1A00"/>
</g>
<polyline points="198.4,567.6 198.4,525.1 252.2,525.1 252.2,567.6" fill="none" stroke="#222" stroke-width="0.6"/>
<rect x="155.6" y="478.1" width="102" height="89.5" fill="none" stroke="#111" stroke-width="1.2"/>
<path d="M157.6 568.2v1.1 M159.8 568.2v1.1 M161.4 568.2v1.1 M163.6 568.2v1.1 M165.8 568.2v1.1 M168.8 568.2v1.1 M171.8 568.2v1.1 M173 568.2v1.1 M176 568.2v1.1 M178.2 568.2v1.1 M180.4 568.2v1.1 M182.6 568.2v1.1 M183.8 568.2v1.1 M185.4 568.2v1.1 M187 568.2v1.1 M189.2 568.2v1.1 M192.2 568.2v1.1 M194.4 568.2v1.1 M196 568.2v1.1 M197.6 568.2v1.1 M199.8 568.2v1.1 M201 568.2v1.1 M202.2 568.2v1.1 M203.4 568.2v1.1 M205.6 568.2v1.1 M206.8 568.2v1.1 M208 568.2v1.1 M209.6 568.2v1.1 M211.8 568.2v1.1 M213 568.2v1.1 M214.2 568.2v1.1 M217.2 568.2v1.1 M220.2 568.2v1.1 M223.2 568.2v1.1 M224.4 568.2v1.1 M226.6 568.2v1.1 M228.2 568.2v1.1 M230.4 568.2v1.1 M231.6 568.2v1.1 M233.8 568.2v1.1 M236.8 568.2v1.1 M239.8 568.2v1.1 M241.4 568.2v1.1 M243.6 568.2v1.1 M245.2 568.2v1.1 M247.4 568.2v1.1 M249 568.2v1.1 M251.2 568.2v1.1 M252.4 568.2v1.1 M254 568.2v1.1" stroke="#222" stroke-width="0.45"/>
<path d="M155 480.1h-1.0 M155 483.1h-1.0 M155 486.1h-1.0 M155 491.6h-1.0 M155 494.6h-1.0 M155 497.6h-1.0 M155 500.6h-1.0 M155 505h-1.0 M155 509.4h-1.0 M155 512.4h-1.0 M155 515.4h-1.0 M155 520.9h-1.0 M155 523.9h-1.0 M155 529.4h-1.0 M155 532.4h-1.0 M155 535.4h-1.0 M155 539.8h-1.0 M155 545.3h-1.0 M155 548.3h-1.0 M155 552.7h-1.0 M155 555.7h-1.0 M155 561.2h-1.0" stroke="#222" stroke-width="0.4"/>
<line x1="153.4" y1="478.1" x2="155" y2="478.1" stroke="#222" stroke-width="0.5"/>
<text x="153" y="480.5" font-size="7" text-anchor="end" fill="#222">704</text>
<line x1="153.4" y1="500.2" x2="155" y2="500.2" stroke="#222" stroke-width="0.5"/>
<text x="153" y="502.6" font-size="7" text-anchor="end" fill="#222">528</text>
<line x1="153.4" y1="523" x2="155" y2="523" stroke="#222" stroke-width="0.5"/>
<text x="153" y="525.4" font-size="7" text-anchor="end" fill="#222">352</text>
<line x1="153.4" y1="545.7" x2="155" y2="545.7" stroke="#222" stroke-width="0.5"/>
<text x="153" y="548.1" font-size="7" text-anchor="end" fill="#222">176</text>
<line x1="153.4" y1="567.6" x2="155" y2="567.6" stroke="#222" stroke-width="0.5"/>
<text x="153" y="570" font-size="7" text-anchor="end" fill="#222">0</text>
<line x1="166.3" y1="568.2" x2="166.3" y2="569.8" stroke="#222" stroke-width="0.5"/>
<text x="166.3" y="580.9" font-size="7" text-anchor="middle" fill="#222">-10<tspan font-size="4.7" dy="-3.4">2</tspan><tspan dy="3.4"></tspan></text>
<line x1="184.3" y1="568.2" x2="184.3" y2="569.8" stroke="#222" stroke-width="0.5"/>
<text x="184.3" y="580.9" font-size="7" text-anchor="middle" fill="#222">10<tspan font-size="4.7" dy="-3.4">3</tspan><tspan dy="3.4"></tspan></text>
<line x1="203.5" y1="568.2" x2="203.5" y2="569.8" stroke="#222" stroke-width="0.5"/>
<text x="203.5" y="580.9" font-size="7" text-anchor="middle" fill="#222">10<tspan font-size="4.7" dy="-3.4">4</tspan><tspan dy="3.4"></tspan></text>
<line x1="222.3" y1="568.2" x2="222.3" y2="569.8" stroke="#222" stroke-width="0.5"/>
<text x="222.3" y="580.9" font-size="7" text-anchor="middle" fill="#222">10<tspan font-size="4.7" dy="-3.4">5</tspan><tspan dy="3.4"></tspan></text>
<line x1="240.3" y1="568.2" x2="240.3" y2="569.8" stroke="#222" stroke-width="0.5"/>
<text x="240.3" y="580.9" font-size="7" text-anchor="middle" fill="#222">10<tspan font-size="4.7" dy="-3.4">6</tspan><tspan dy="3.4"></tspan></text>
<line x1="257.6" y1="568.2" x2="257.6" y2="569.8" stroke="#222" stroke-width="0.5"/>
<text x="257.6" y="580.9" font-size="7" text-anchor="middle" fill="#222">10<tspan font-size="4.7" dy="-3.4">7</tspan><tspan dy="3.4"></tspan></text>
<text x="158" y="490" font-size="10.6">CCl<tspan font-size="0.62em">4</tspan>+IPA</text>
<text x="205.8" y="512.3" font-size="10.2" textLength="37.5" lengthAdjust="spacingAndGlyphs">TGFβ1<tspan font-size="5.6" dy="-3.8">+</tspan></text>
<text x="226.2" y="522.8" font-size="10.2" text-anchor="middle">42.07%</text>
<line x1="14.9" y1="523.8" x2="14.9" y2="581.7" stroke="#111" stroke-width="0.9"/>
<line x1="14.9" y1="581.7" x2="73.2" y2="581.7" stroke="#111" stroke-width="0.9"/>
<path d="M12.9 524.3L14.9 520.8L16.9 524.3z" fill="#111"/>
<path d="M72.7 579.7L76.2 581.7L72.7 583.7z" fill="#111"/>
<text x="8.4" y="553.2" font-size="10.2" text-anchor="middle" transform="rotate(-90 8.4 553.2)">SSA</text>
<text x="23.6" y="592.9" font-size="10.2" textLength="32.2" lengthAdjust="spacingAndGlyphs">TGFβ1</text>
<line x1="287.2" y1="362.7" x2="287.2" y2="431.5" stroke="#222" stroke-width="0.6"/>
<line x1="287.2" y1="431.5" x2="333.8" y2="431.5" stroke="#222" stroke-width="0.6"/>
<line x1="285.9" y1="362.7" x2="287.2" y2="362.7" stroke="#222" stroke-width="0.54"/>
<text x="284.9" y="364.82" font-size="5.9" text-anchor="end" fill="#222">80</text>
<line x1="285.9" y1="380.2" x2="287.2" y2="380.2" stroke="#222" stroke-width="0.54"/>
<text x="284.9" y="382.32" font-size="5.9" text-anchor="end" fill="#222">60</text>
<line x1="285.9" y1="397.3" x2="287.2" y2="397.3" stroke="#222" stroke-width="0.54"/>
<text x="284.9" y="399.42" font-size="5.9" text-anchor="end" fill="#222">40</text>
<line x1="285.9" y1="414.4" x2="287.2" y2="414.4" stroke="#222" stroke-width="0.54"/>
<text x="284.9" y="416.52" font-size="5.9" text-anchor="end" fill="#222">20</text>
<line x1="285.9" y1="431.5" x2="287.2" y2="431.5" stroke="#222" stroke-width="0.54"/>
<text x="284.9" y="433.62" font-size="5.9" text-anchor="end" fill="#222">0</text>
<rect x="294.55" y="384.55" width="12.7" height="46.95" fill="none" stroke="#A6A6A6" stroke-width="0.7"/>
<line x1="300.9" y1="375" x2="300.9" y2="393.4" stroke="#A6A6A6" stroke-width="0.7"/>
<line x1="297.95" y1="375" x2="303.85" y2="375" stroke="#A6A6A6" stroke-width="0.7"/>
<line x1="297.95" y1="393.4" x2="303.85" y2="393.4" stroke="#A6A6A6" stroke-width="0.7"/>
<circle cx="300.9" cy="370.3" r="1" fill="#A6A6A6"/>
<circle cx="302.2" cy="386.6" r="1" fill="#A6A6A6"/>
<circle cx="300.9" cy="387.5" r="1" fill="#A6A6A6"/>
<circle cx="299.7" cy="391.2" r="1" fill="#A6A6A6"/>
<circle cx="302.9" cy="392" r="1" fill="#A6A6A6"/>
<rect x="314.45" y="399.25" width="12.1" height="32.25" fill="none" stroke="#3F3FF5" stroke-width="0.7"/>
<line x1="320.5" y1="389.4" x2="320.5" y2="407.4" stroke="#3F3FF5" stroke-width="0.7"/>
<line x1="317.68" y1="389.4" x2="323.32" y2="389.4" stroke="#3F3FF5" stroke-width="0.7"/>
<line x1="317.68" y1="407.4" x2="323.32" y2="407.4" stroke="#3F3FF5" stroke-width="0.7"/>
<rect x="317.5" y="390.2" width="2" height="2" fill="#3F3FF5"/>
<rect x="321.3" y="391.2" width="2" height="2" fill="#3F3FF5"/>
<rect x="319.5" y="395.9" width="2" height="2" fill="#3F3FF5"/>
<rect x="319.5" y="399.5" width="2" height="2" fill="#3F3FF5"/>
<rect x="319.5" y="411.6" width="2" height="2" fill="#3F3FF5"/>
<line x1="300.9" y1="431.5" x2="300.9" y2="433" stroke="#222" stroke-width="0.5"/>
<line x1="320.5" y1="431.5" x2="320.5" y2="433" stroke="#222" stroke-width="0.5"/>
<line x1="304.7" y1="366.4" x2="319.8" y2="366.4" stroke="#222" stroke-width="0.7"/>
<text x="312.25" y="367.4" font-size="7.5" text-anchor="middle" fill="#222" font-weight="bold">*</text>
<text x="300.3" y="440" font-size="5.3" text-anchor="middle">CCl<tspan font-size="0.62em">4</tspan></text>
<text x="320.2" y="440" font-size="5.3" text-anchor="middle">CCl<tspan font-size="0.62em">4</tspan>+IPA</text>
<text x="267.5" y="400" font-size="5.6" text-anchor="middle" transform="rotate(-90 267.5 400)">The ratio of S100A8/A9<tspan font-size="3.4" dy="-1.9">+</tspan><tspan dy="1.9"></tspan></text>
<text x="274.7" y="400" font-size="5.6" text-anchor="middle" transform="rotate(-90 274.7 400)">in F4/80<tspan font-size="3.4" dy="-1.9">+</tspan><tspan dy="1.9"> macrophage</tspan></text>
<line x1="283.3" y1="489.8" x2="283.3" y2="558.4" stroke="#222" stroke-width="0.6"/>
<line x1="283.3" y1="558.4" x2="330.5" y2="558.4" stroke="#222" stroke-width="0.6"/>
<line x1="282" y1="490" x2="283.3" y2="490" stroke="#222" stroke-width="0.54"/>
<text x="281" y="492.12" font-size="5.9" text-anchor="end" fill="#222">60</text>
<line x1="282" y1="512.8" x2="283.3" y2="512.8" stroke="#222" stroke-width="0.54"/>
<text x="281" y="514.92" font-size="5.9" text-anchor="end" fill="#222">40</text>
<line x1="282" y1="535.8" x2="283.3" y2="535.8" stroke="#222" stroke-width="0.54"/>
<text x="281" y="537.92" font-size="5.9" text-anchor="end" fill="#222">20</text>
<line x1="282" y1="558.6" x2="283.3" y2="558.6" stroke="#222" stroke-width="0.54"/>
<text x="281" y="560.72" font-size="5.9" text-anchor="end" fill="#222">0</text>
<rect x="290.85" y="499.35" width="11.9" height="59.25" fill="none" stroke="#A6A6A6" stroke-width="0.7"/>
<line x1="296.8" y1="496.5" x2="296.8" y2="501.5" stroke="#A6A6A6" stroke-width="0.7"/>
<line x1="294.03" y1="496.5" x2="299.57" y2="496.5" stroke="#A6A6A6" stroke-width="0.7"/>
<line x1="294.03" y1="501.5" x2="299.57" y2="501.5" stroke="#A6A6A6" stroke-width="0.7"/>
<circle cx="294.8" cy="497.2" r="1" fill="#A6A6A6"/>
<circle cx="298.8" cy="497.8" r="1" fill="#A6A6A6"/>
<circle cx="296.8" cy="500" r="1" fill="#A6A6A6"/>
<circle cx="296.8" cy="501.3" r="1" fill="#A6A6A6"/>
<rect x="310.95" y="512.25" width="11.9" height="46.35" fill="none" stroke="#3F3FF5" stroke-width="0.7"/>
<line x1="316.9" y1="499.2" x2="316.9" y2="524.5" stroke="#3F3FF5" stroke-width="0.7"/>
<line x1="314.13" y1="499.2" x2="319.67" y2="499.2" stroke="#3F3FF5" stroke-width="0.7"/>
<line x1="314.13" y1="524.5" x2="319.67" y2="524.5" stroke="#3F3FF5" stroke-width="0.7"/>
<circle cx="316.9" cy="501.5" r="1.1" fill="#3F3FF5"/>
<circle cx="315.4" cy="508.6" r="1.1" fill="#3F3FF5"/>
<circle cx="318.7" cy="505.2" r="1.1" fill="#3F3FF5"/>
<circle cx="316.9" cy="530.2" r="1.1" fill="#3F3FF5"/>
<line x1="296.8" y1="558.6" x2="296.8" y2="560" stroke="#222" stroke-width="0.5"/>
<line x1="316.9" y1="558.6" x2="316.9" y2="560" stroke="#222" stroke-width="0.5"/>
<line x1="300" y1="489.8" x2="314.5" y2="489.8" stroke="#222" stroke-width="0.7"/>
<text x="307.25" y="491.2" font-size="7.5" text-anchor="middle" fill="#222" font-weight="bold">*</text>
<text x="296" y="567.6" font-size="5.3" text-anchor="middle">CCl<tspan font-size="0.62em">4</tspan></text>
<text x="316.1" y="567.6" font-size="5.3" text-anchor="middle">CCl<tspan font-size="0.62em">4</tspan>+IPA</text>
<text x="264.9" y="525" font-size="5.8" text-anchor="middle" transform="rotate(-90 264.9 525)">The ratio of TGFβ1<tspan font-size="3.4" dy="-1.9">+</tspan><tspan dy="1.9"> in</tspan></text>
<text x="272.1" y="525" font-size="5.8" text-anchor="middle" transform="rotate(-90 272.1 525)">S100A8/A9<tspan font-size="3.4" dy="-1.9">+</tspan><tspan dy="1.9"> macrophage</tspan></text>
<text x="343.8" y="341.8" font-size="19.5" font-weight="bold">F</text>
<defs><clipPath id="f1"><rect x="380.9" y="347" width="100.9" height="87.6"/></clipPath></defs>
<g clip-path="url(#f1)">
<path d="M394.3 410h0.75M408.8 411.3h0.75M396.8 399.2h0.75M410 415.4h0.75M399.5 405.6h0.75M381.7 413.4h0.75M395.5 414.4h0.75M417.3 415.2h0.75M400.8 425.6h0.75M401.7 417.6h0.75M395.1 406h0.75M387.8 423.8h0.75M415.7 414.3h0.75M403.6 413.2h0.75M426.2 431.6h0.75M402.1 424.4h0.75M418.1 410.2h0.75M409.1 425h0.75M403.6 425.9h0.75M415.3 420.4h0.75M400 426.8h0.75M405.5 422.7h0.75M421.5 425.2h0.75M406.7 405.4h0.75M407.5 422.6h0.75M409.2 424.9h0.75M410.8 422h0.75M405.2 424.5h0.75M400.6 408.1h0.75M396.1 418.1h0.75M390.3 411.1h0.75M402.8 421.3h0.75M395.8 417.6h0.75M406.3 413.5h0.75M405.9 417h0.75M395.9 413.6h0.75M393.9 435.6h0.75M404 412.1h0.75M392.4 416.3h0.75M408.2 419.5h0.75M394.8 406.5h0.75M395.2 418.8h0.75M397.8 416.5h0.75M423.9 403.2h0.75M402.8 417.9h0.75M390 426.4h0.75M402 421.8h0.75M407.6 433.2h0.75M400.4 411.5h0.75M396 404.4h0.75M421.7 417h0.75M388.6 422.6h0.75M422.1 411.8h0.75M407 404.9h0.75M387.6 413.6h0.75M396.6 405.1h0.75M404.4 422.4h0.75M400.8 430.7h0.75M399.8 414.2h0.75M408.9 441.8h0.75M421.1 431h0.75M408.5 405.5h0.75M418.1 419.9h0.75M425.4 422.7h0.75M385.7 426.4h0.75M407.4 413.4h0.75M406.3 418.8h0.75M410.6 401.4h0.75M404.4 422.9h0.75M391.7 429.3h0.75M407.1 398.1h0.75M419.8 417.3h0.75M405.7 416.6h0.75M422.1 421.9h0.75M399.9 411h0.75M409 425.4h0.75M397.4 426.8h0.75M398.6 419.1h0.75M409.2 422.2h0.75M406.9 421.8h0.75M400.1 420h0.75M410.1 406.9h0.75M391.8 419.3h0.75M404.4 420.2h0.75M411 423.5h0.75M399.3 423h0.75M395.7 434.5h0.75M414.2 420.3h0.75M398.3 422.4h0.75M404.9 410.9h0.75M409.4 420.4h0.75M412.9 418.2h0.75M419 438.7h0.75M394.5 396.1h0.75M394 432.3h0.75M410.6 421h0.75M409.6 407.1h0.75M408.4 409h0.75M407.7 415.7h0.75M401.3 412.8h0.75M406.9 438.4h0.75M388.6 423.1h0.75M398.8 433h0.75M416.4 412.2h0.75M403.3 432.8h0.75M420.8 415.3h0.75M395.6 419.9h0.75M415.2 430h0.75M407 424.4h0.75M409.6 420.1h0.75M395.8 424.2h0.75M407.2 428h0.75M405.6 413.6h0.75M410.1 428.3h0.75M423.1 408.4h0.75M401.4 415.6h0.75M428 399.4h0.75M414.7 412.4h0.75M394.3 425.3h0.75M417.2 388.6h0.75M394 416.6h0.75M398.5 428.7h0.75M398 414.6h0.75M384.6 420.3h0.75M403.9 425.6h0.75M395.5 435.3h0.75M396.1 434.5h0.75M422.5 412.2h0.75M407.7 412.2h0.75M387.9 420.9h0.75M402.6 431.4h0.75M421.8 403.9h0.75M401.3 421.5h0.75M411.9 421h0.75M398.2 414.5h0.75M412.6 406.3h0.75M394.9 403.2h0.75M396.3 429.5h0.75M399.1 423.8h0.75M414.3 431.5h0.75M406.7 416.9h0.75M404.6 414.4h0.75M397.2 421.1h0.75M413.4 413.3h0.75M396.4 415.9h0.75M403.1 425.3h0.75M405.9 418.9h0.75M391.7 410.6h0.75M402.5 410.7h0.75M408.3 418.3h0.75M396.7 420.4h0.75M410.3 442.4h0.75M404.5 412.7h0.75M408.9 435.4h0.75M398.3 423.1h0.75M400.9 426h0.75M398.9 412.3h0.75M402.3 415.6h0.75M393.7 413.1h0.75M393.9 434.6h0.75M417.4 413.8h0.75M399.5 420.3h0.75M400.5 411.3h0.75M408.3 429.4h0.75M406.2 432.1h0.75M405 416.5h0.75M401.6 412.6h0.75M394.9 430.2h0.75M412.5 417.5h0.75M406.5 409h0.75M410.1 416.7h0.75M403.4 414.1h0.75M392.1 409.6h0.75M419.1 411.6h0.75M396.6 413.4h0.75M397.7 406.1h0.75M395.7 406.1h0.75M408.1 394.7h0.75M393.9 401.8h0.75M405.8 408.3h0.75M408.9 409.6h0.75M416.4 401.7h0.75M422.4 407.7h0.75M402.8 406.5h0.75M399.2 431.1h0.75M412.2 413.4h0.75M405.5 434.7h0.75M410.3 415.3h0.75M406.8 422.2h0.75M389.8 409.2h0.75M401.8 435.5h0.75M410.1 421h0.75M391.2 410.7h0.75M391 416.2h0.75M397.8 424.4h0.75M404.1 417.8h0.75M405.6 427.2h0.75M402.3 412h0.75M400.4 448.2h0.75M400.8 408.8h0.75M410.2 403.2h0.75M411.3 407.3h0.75M402.1 414.5h0.75M395.9 420.9h0.75M402.7 427.3h0.75M410.2 414.2h0.75M409.6 424.9h0.75M405.2 420h0.75M415.3 413.2h0.75M415 421.9h0.75M407.5 428.9h0.75M429.3 412.8h0.75M390.4 426.1h0.75M401 417.5h0.75M389.7 426.2h0.75M409.8 402.9h0.75M413.4 418.8h0.75M402.9 399.8h0.75M422.2 411.7h0.75M411.4 412.6h0.75M394.1 425.9h0.75M409.2 424.8h0.75M399.6 422.1h0.75M407.4 432.1h0.75M403 420.9h0.75M415 396.4h0.75M404.2 433.2h0.75M409.4 422.4h0.75M409 431.3h0.75M390.4 408.7h0.75M399.1 402.7h0.75M414.5 410.2h0.75M404.4 423.9h0.75M417.3 405.5h0.75M394.7 396.4h0.75M409.5 409.3h0.75M406.6 428.2h0.75M422.6 410.6h0.75M405.7 418.2h0.75M385 421.9h0.75M419.1 407.2h0.75M409.6 421.8h0.75M407.9 407.8h0.75M391.1 439h0.75M414.6 421.1h0.75M416.6 409.5h0.75M410.9 413.9h0.75M383.6 403.8h0.75M409.6 426.8h0.75M409.9 418.6h0.75M409.7 402.2h0.75M398.1 447.6h0.75M406.4 413h0.75M423.2 419.9h0.75M402.4 417.9h0.75M409.4 405.7h0.75M405.2 414h0.75M388.3 417.5h0.75M404.9 411.9h0.75M398.3 426.7h0.75M377.4 421h0.75M405.1 417.9h0.75M401.7 413.8h0.75M413.4 410.2h0.75M422.4 407.8h0.75M410 416.5h0.75M417.5 427.1h0.75M389 419h0.75M395.4 420.1h0.75M405.4 408.5h0.75M395.7 416.7h0.75M403.7 414.4h0.75M392.7 419h0.75M400.5 397.2h0.75M385.8 433.4h0.75M403.7 408.3h0.75M397.5 413.1h0.75M403.8 416h0.75M412.3 413.6h0.75M408.3 419h0.75M399.8 423.9h0.75M410.6 410.6h0.75M411.5 415.1h0.75M388.8 435.9h0.75M420.9 402.4h0.75M406.7 420.9h0.75M403.4 409.1h0.75M407.2 421.2h0.75M399.9 425h0.75M395.4 390.1h0.75M409.6 434.6h0.75M391.8 404.4h0.75M424.5 420.4h0.75M412.3 431.6h0.75M407.6 408.7h0.75M418.7 423.9h0.75M396.3 404.2h0.75M408 402.1h0.75M423.8 427.9h0.75M413 416.9h0.75M413.3 396.2h0.75M396.7 420.4h0.75M394.1 405.6h0.75M391.5 423.9h0.75M413.3 416.8h0.75M409.2 415.8h0.75M392.5 405.2h0.75M397.8 421.5h0.75M401.5 427h0.75M396.4 423.2h0.75M402.7 431.3h0.75M404.5 425.8h0.75M384.8 419.3h0.75M402.7 424h0.75M408.7 405.4h0.75M418.7 439.2h0.75M406.1 432h0.75M402.6 436.6h0.75M394.3 426.6h0.75M411.1 404h0.75M415.7 417.1h0.75M411.3 404.5h0.75M417.1 406.7h0.75M418 410.3h0.75M418.9 404.8h0.75M417.7 400.1h0.75M425.8 406.4h0.75M419.2 406.6h0.75M422.2 404.5h0.75M429.1 414.7h0.75M418.5 423h0.75M424 411h0.75M411.2 412.1h0.75M419.9 403.4h0.75M420.6 407.2h0.75M422.4 408.5h0.75M411.6 391.3h0.75M412.6 394h0.75M431 422.3h0.75M426.3 413.4h0.75M422.2 396.3h0.75M416.5 397.8h0.75M421.9 409.5h0.75M426.8 401.3h0.75M420 419.4h0.75M414.5 412h0.75M424.7 395.9h0.75M417.6 407.6h0.75M415.9 389.5h0.75M414.9 389.6h0.75M426.7 406.5h0.75M417.4 402.4h0.75M418.3 402.3h0.75M417.1 418h0.75M417 412.3h0.75M420.5 415.9h0.75M417.9 411.8h0.75M416.6 393.3h0.75M412.9 422.4h0.75M418.6 408.4h0.75M410.4 404.7h0.75M423.7 427.1h0.75M420.1 399.5h0.75M406.6 406.1h0.75M429.1 416.4h0.75M412.6 408.8h0.75M417.2 421.2h0.75M426.7 420h0.75M406.9 420.4h0.75M427.8 405.3h0.75M421.1 414.2h0.75M407.9 394.4h0.75M413.6 404h0.75M420 400.6h0.75M412 404.7h0.75M425.5 406.2h0.75M424.3 418.1h0.75M414.6 413.1h0.75M412.9 410.2h0.75M421.6 408h0.75" stroke="#1E1EB4" stroke-width="0.75" fill="none"/>
<g fill="none" stroke="#2A2AD2" stroke-width="0.32"><ellipse cx="409.95" cy="422.98" rx="9" ry="11" transform="rotate(18.08 409.95 422.98)" fill="none"/><ellipse cx="410.74" cy="422.03" rx="7.97" ry="9.74" transform="rotate(20 410.74 422.03)" fill="none"/><ellipse cx="409.33" cy="422.59" rx="6.94" ry="8.49" transform="rotate(19.62 409.33 422.59)" fill="none"/><ellipse cx="411.22" cy="422.91" rx="5.91" ry="7.23" transform="rotate(19.23 411.22 422.91)" fill="none"/><ellipse cx="410.17" cy="422.65" rx="4.89" ry="5.97" transform="rotate(15 410.17 422.65)" fill="none"/><ellipse cx="410.39" cy="423.32" rx="3.86" ry="4.71" transform="rotate(18.53 410.39 423.32)" fill="none"/><ellipse cx="409.81" cy="423.76" rx="2.83" ry="3.46" transform="rotate(18.14 409.81 423.76)" fill="none"/><ellipse cx="404.51" cy="417.36" rx="8" ry="13" transform="rotate(-1.78 404.51 417.36)" fill="none"/><ellipse cx="405.45" cy="418.32" rx="6.4" ry="10.4" transform="rotate(11.94 405.45 418.32)" fill="none"/><ellipse cx="404.16" cy="418.68" rx="4.8" ry="7.8" transform="rotate(8.99 404.16 418.68)" fill="none"/><ellipse cx="405" cy="419.16" rx="3.2" ry="5.2" transform="rotate(13.37 405 419.16)" fill="none"/></g>
<g fill="none" stroke="#1E1EB4" stroke-width="0.45"></g>
<ellipse cx="411.3" cy="424.5" rx="5.8" ry="8.2" transform="rotate(15 411.3 424.5)" fill="#1414C8"/><ellipse cx="411.3" cy="424.5" rx="4.99" ry="7.05" transform="rotate(15 411.3 424.5)" fill="#0050FF"/><ellipse cx="411.3" cy="424.5" rx="4.18" ry="5.9" transform="rotate(15 411.3 424.5)" fill="#00B4FF"/><ellipse cx="411.3" cy="424.5" rx="3.36" ry="4.76" transform="rotate(15 411.3 424.5)" fill="#10E070"/><ellipse cx="411.3" cy="424.5" rx="2.67" ry="3.77" transform="rotate(15 411.3 424.5)" fill="#B8F000"/><ellipse cx="411.3" cy="424.5" rx="2.09" ry="2.95" transform="rotate(15 411.3 424.5)" fill="#FFE000"/><ellipse cx="411.3" cy="424.5" rx="1.57" ry="2.21" transform="rotate(15 411.3 424.5)" fill="#FF8C00"/><ellipse cx="411.3" cy="424.5" rx="0.99" ry="1.39" transform="rotate(15 411.3 424.5)" fill="#FF1A00"/>
</g>
<polyline points="413.1,434.6 413.1,400.1 463.3,400.1 463.3,434.6" fill="none" stroke="#222" stroke-width="0.6"/>
<rect x="380.9" y="347" width="100.9" height="87.6" fill="none" stroke="#111" stroke-width="1.2"/>
<path d="M382.9 435.2v1.1 M385.1 435.2v1.1 M386.7 435.2v1.1 M388.9 435.2v1.1 M391.1 435.2v1.1 M392.3 435.2v1.1 M393.5 435.2v1.1 M395.1 435.2v1.1 M396.3 435.2v1.1 M398.5 435.2v1.1 M399.7 435.2v1.1 M401.9 435.2v1.1 M404.9 435.2v1.1 M407.9 435.2v1.1 M409.5 435.2v1.1 M411.1 435.2v1.1 M414.1 435.2v1.1 M416.3 435.2v1.1 M419.3 435.2v1.1 M420.9 435.2v1.1 M423.1 435.2v1.1 M425.3 435.2v1.1 M426.9 435.2v1.1 M429.1 435.2v1.1 M430.7 435.2v1.1 M433.7 435.2v1.1 M435.3 435.2v1.1 M437.5 435.2v1.1 M438.7 435.2v1.1 M440.3 435.2v1.1 M442.5 435.2v1.1 M445.5 435.2v1.1 M447.7 435.2v1.1 M448.9 435.2v1.1 M451.1 435.2v1.1 M452.3 435.2v1.1 M453.9 435.2v1.1 M455.5 435.2v1.1 M456.7 435.2v1.1 M458.3 435.2v1.1 M459.9 435.2v1.1 M462.9 435.2v1.1 M465.1 435.2v1.1 M468.1 435.2v1.1 M470.3 435.2v1.1 M472.5 435.2v1.1 M474.7 435.2v1.1 M477.7 435.2v1.1 M479.9 435.2v1.1" stroke="#222" stroke-width="0.45"/>
<path d="M380.3 349h-1.0 M380.3 352h-1.0 M380.3 357.5h-1.0 M380.3 363h-1.0 M380.3 366h-1.0 M380.3 369h-1.0 M380.3 373.4h-1.0 M380.3 378.9h-1.0 M380.3 383.3h-1.0 M380.3 386.3h-1.0 M380.3 391.8h-1.0 M380.3 397.3h-1.0 M380.3 401.7h-1.0 M380.3 407.2h-1.0 M380.3 411.6h-1.0 M380.3 417.1h-1.0 M380.3 420.1h-1.0 M380.3 425.6h-1.0 M380.3 430h-1.0" stroke="#222" stroke-width="0.4"/>
<line x1="378.7" y1="347" x2="380.3" y2="347" stroke="#222" stroke-width="0.5"/>
<text x="378.3" y="349.4" font-size="7" text-anchor="end" fill="#222">729.1</text>
<line x1="378.7" y1="369.7" x2="380.3" y2="369.7" stroke="#222" stroke-width="0.5"/>
<text x="378.3" y="372.1" font-size="7" text-anchor="end" fill="#222">543.6</text>
<line x1="378.7" y1="391.9" x2="380.3" y2="391.9" stroke="#222" stroke-width="0.5"/>
<text x="378.3" y="394.3" font-size="7" text-anchor="end" fill="#222">358.2</text>
<line x1="378.7" y1="413.6" x2="380.3" y2="413.6" stroke="#222" stroke-width="0.5"/>
<text x="378.3" y="416" font-size="7" text-anchor="end" fill="#222">172.7</text>
<line x1="378.7" y1="435.6" x2="380.3" y2="435.6" stroke="#222" stroke-width="0.5"/>
<text x="378.3" y="438" font-size="7" text-anchor="end" fill="#222">-12.7</text>
<line x1="381.6" y1="435.2" x2="381.6" y2="436.8" stroke="#222" stroke-width="0.5"/>
<text x="381.6" y="447.9" font-size="7" text-anchor="middle" fill="#222">-10<tspan font-size="4.7" dy="-3.4">2</tspan><tspan dy="3.4"></tspan></text>
<line x1="411.2" y1="435.2" x2="411.2" y2="436.8" stroke="#222" stroke-width="0.5"/>
<text x="411.2" y="447.9" font-size="7" text-anchor="middle" fill="#222">10<tspan font-size="4.7" dy="-3.4">3</tspan><tspan dy="3.4"></tspan></text>
<line x1="429.2" y1="435.2" x2="429.2" y2="436.8" stroke="#222" stroke-width="0.5"/>
<text x="429.2" y="447.9" font-size="7" text-anchor="middle" fill="#222">10<tspan font-size="4.7" dy="-3.4">4</tspan><tspan dy="3.4"></tspan></text>
<line x1="446.3" y1="435.2" x2="446.3" y2="436.8" stroke="#222" stroke-width="0.5"/>
<text x="446.3" y="447.9" font-size="7" text-anchor="middle" fill="#222">10<tspan font-size="4.7" dy="-3.4">5</tspan><tspan dy="3.4"></tspan></text>
<line x1="463.3" y1="435.2" x2="463.3" y2="436.8" stroke="#222" stroke-width="0.5"/>
<text x="463.3" y="447.9" font-size="7" text-anchor="middle" fill="#222">10<tspan font-size="4.7" dy="-3.4">6</tspan><tspan dy="3.4"></tspan></text>
<line x1="480.2" y1="435.2" x2="480.2" y2="436.8" stroke="#222" stroke-width="0.5"/>
<text x="480.2" y="447.9" font-size="7" text-anchor="middle" fill="#222">10<tspan font-size="4.7" dy="-3.4">7</tspan><tspan dy="3.4"></tspan></text>
<text x="382" y="357.3" font-size="10.6">AhR<tspan font-size="5.6" dy="-3.6">fl/fl</tspan><tspan dy="3.6">Lyz2-cre</tspan></text>
<text x="408.9" y="387.8" font-size="10.2" textLength="57.2" lengthAdjust="spacingAndGlyphs">S100A8/A9<tspan font-size="5.6" dy="-3.8">+</tspan></text>
<text x="440.4" y="396.9" font-size="10.2" text-anchor="middle">28.81%</text>
<defs><clipPath id="f2"><rect x="506" y="347.4" width="100.3" height="86.8"/></clipPath></defs>
<g clip-path="url(#f2)">
<path d="M514 429.1h0.75M525.1 406h0.75M520.8 437.9h0.75M533.6 424h0.75M542.8 429.4h0.75M529.5 408h0.75M515.1 431h0.75M546.9 407.4h0.75M530.5 423.6h0.75M547.8 418.7h0.75M518.4 424.4h0.75M557.9 402.2h0.75M521.7 433.5h0.75M535.9 413.7h0.75M566 397.4h0.75M525.2 430.5h0.75M540.5 414.6h0.75M520.7 432.7h0.75M530.7 435.8h0.75M522.7 410.8h0.75M525.9 420.4h0.75M510.6 422.8h0.75M535.3 426.6h0.75M521.1 432.1h0.75M513.8 421.3h0.75M570.5 402.4h0.75M565 412.4h0.75M522.8 437.3h0.75M540 417.3h0.75M535.4 425.7h0.75M524.5 432.7h0.75M532.5 435.3h0.75M543.6 413.8h0.75M532.6 433.6h0.75M532.8 432.7h0.75M562.4 414.4h0.75M543.2 428.3h0.75M533.7 411.4h0.75M540 421.5h0.75M533.1 407.2h0.75M525.9 431.7h0.75M546.9 427.2h0.75M540 415.8h0.75M553.4 411h0.75M544.3 429.4h0.75M554.9 398.5h0.75M506.6 429.6h0.75M536 425.8h0.75M542 426h0.75M528.8 433.5h0.75M517.4 437h0.75M527.2 416.7h0.75M543.7 412.7h0.75M518.9 410.2h0.75M536.4 431.4h0.75M553.5 405.3h0.75M535.1 420.9h0.75M532.3 423h0.75M524.1 422.8h0.75M516.6 425.4h0.75M528 426.2h0.75M533.3 416.1h0.75M551.1 426.9h0.75M533.5 434.4h0.75M530.6 407.5h0.75M529.6 433h0.75M549.3 401.4h0.75M537.8 427.4h0.75M531.4 422.3h0.75M525.2 417.8h0.75M523.7 428.2h0.75M494.8 436.6h0.75M522.5 430.8h0.75M541.8 411.7h0.75M552.6 420.1h0.75M553.8 413.1h0.75M551.1 419.3h0.75M565.4 431.2h0.75M551.1 416.6h0.75M532.5 414.6h0.75M536.2 415.7h0.75M532.4 417.8h0.75M536.1 426h0.75M532.4 421.5h0.75M545.2 427.7h0.75M523.1 428.6h0.75M521.9 441.8h0.75M531.5 427.4h0.75M540.6 416.5h0.75M530.9 428.3h0.75M538.4 419.7h0.75M554.8 404.6h0.75M538 430.8h0.75M517.3 420.6h0.75M537 412.2h0.75M524.3 430.5h0.75M528.7 436.7h0.75M543.9 411.7h0.75M543.7 410.9h0.75M527.9 402.2h0.75M534.9 427.1h0.75M538 423.6h0.75M527.7 426.9h0.75M531.8 420h0.75M535.7 410.7h0.75M513.1 414.5h0.75M517.4 417.3h0.75M537.4 416.7h0.75M530.1 431.7h0.75M546.6 428.3h0.75M524.2 437.1h0.75M547.8 434.6h0.75M538.2 414.8h0.75M553 407.3h0.75M523.1 428.9h0.75M522.3 412.1h0.75M536.5 413.3h0.75M537.7 428.9h0.75M540.7 436.5h0.75M536.2 428h0.75M529.2 414.3h0.75M562.8 406.5h0.75M537.7 424.4h0.75M534 424.4h0.75M555 423.7h0.75M535.9 410.6h0.75M526.9 427.3h0.75M522.7 420.8h0.75M531.8 440.2h0.75M541.3 408h0.75M535.3 415.1h0.75M548.6 418.4h0.75M549 408.2h0.75M539.9 396.4h0.75M538 423.8h0.75M510.5 447h0.75M550.1 405.2h0.75M520.6 412.4h0.75M543.8 410.6h0.75M543.9 426.4h0.75M511.2 429.4h0.75M536.4 417h0.75M549.4 424.1h0.75M546.9 407.4h0.75M535.5 422.4h0.75M517.8 435.3h0.75M523.9 427h0.75M543.6 424.8h0.75M529.6 420.6h0.75M531.9 421.2h0.75M549.9 415.8h0.75M516.8 433.3h0.75M543.1 412h0.75M539 424.3h0.75M556 405.7h0.75M509.9 423.1h0.75M536.8 411.1h0.75M532.3 414.7h0.75M525.4 412.4h0.75M535.5 411.4h0.75M545.9 426.8h0.75M546.9 401h0.75M554.8 426.7h0.75M527.8 420.6h0.75M543.1 420.3h0.75M530.5 424.2h0.75M546 416.8h0.75M540.7 428.1h0.75M555.7 415.8h0.75M532.2 433.7h0.75M520 436.5h0.75M516 437.3h0.75M535.4 416.6h0.75M540.9 421.4h0.75M538.2 438.4h0.75M506.2 424.3h0.75M541.4 420.4h0.75M547.6 416.5h0.75M548.1 410.1h0.75M542.4 394h0.75M530.7 418.7h0.75M532.1 416.3h0.75M529.6 434.7h0.75M533.7 440h0.75M539.8 414.6h0.75M530.9 418.3h0.75M544.8 409.7h0.75M531 436.1h0.75M522.6 433.9h0.75M519.4 427.8h0.75M521 425.6h0.75M536.6 434.4h0.75M547.7 417.9h0.75M542.9 427.1h0.75M521.4 434.3h0.75M528.8 425.1h0.75M540.3 426.4h0.75M523.6 421.5h0.75M526.6 424h0.75M546.9 411.4h0.75M544 432.9h0.75M531.6 427.2h0.75M529.9 438.8h0.75M539.3 410.5h0.75M514.5 415.6h0.75M524.4 445.1h0.75M549.6 429.1h0.75M548 411.3h0.75M572.5 416.2h0.75M531.6 431.8h0.75M527 419.9h0.75M548.7 421.3h0.75M537 412.4h0.75M523.5 421.7h0.75M547.1 425.6h0.75M549 412.9h0.75M536.7 431.3h0.75M549.2 424.8h0.75M547.9 438.9h0.75M534.5 417.9h0.75M532.7 418.6h0.75M532.2 420.6h0.75M530.6 423.2h0.75M529.3 422.5h0.75M524 414.4h0.75M534.6 422.4h0.75M544.9 417.9h0.75M529.2 422.4h0.75M532.7 423.5h0.75M543.9 420h0.75M539.2 432.1h0.75M537 410.3h0.75M561.1 406.2h0.75M532.4 414.8h0.75M520.3 419.4h0.75M521.8 429.8h0.75M530.1 415.7h0.75M520.4 420.8h0.75M539.3 434h0.75M534.3 419.9h0.75M534.3 434.3h0.75M518.5 431.7h0.75M548.5 416h0.75M544.8 429.9h0.75M530.2 429h0.75M511.1 436.8h0.75M514.9 428.1h0.75M529.2 420.5h0.75M540.8 420.7h0.75M515.7 421.2h0.75M546.7 405.4h0.75M529.4 414.2h0.75M558.6 410.8h0.75M534.9 416.5h0.75M542 408.7h0.75M538.3 422.2h0.75M513.8 433.2h0.75M510 425.2h0.75M513.4 439.1h0.75M532 414h0.75M531.8 432.6h0.75M529.3 436.1h0.75M530 408.2h0.75M509.1 441h0.75M531.5 405.9h0.75M524.9 437.9h0.75M575.2 414.1h0.75M524 421.8h0.75M520.1 432.5h0.75M532.1 415.2h0.75M529 423.5h0.75M550 424.5h0.75M533.1 424.9h0.75M525.4 417.6h0.75M548.6 407.8h0.75M555.1 416.6h0.75M530.2 418.9h0.75M527.7 415h0.75M521.4 442.4h0.75M530.5 427.8h0.75M510.4 427.4h0.75M525.7 424.2h0.75M541.8 419.7h0.75M525.7 418.7h0.75M525.4 419.9h0.75M534.3 411.7h0.75M544.6 421.4h0.75M565.8 427.8h0.75M538 431.3h0.75M552.1 407.2h0.75M536.9 404.7h0.75M537.4 428.5h0.75M530.4 413.2h0.75M506.9 435.9h0.75M546.3 415.7h0.75M537.1 438.9h0.75M534.8 427.5h0.75M529.1 412.3h0.75M518 426.2h0.75M553.1 422.9h0.75M534.4 418.6h0.75M535.4 414.6h0.75M534.3 415.8h0.75M533.5 430.2h0.75M543.2 436.3h0.75M525.6 419.9h0.75M562.1 409.5h0.75M520.7 417.6h0.75M532.1 427.9h0.75M538.8 413.7h0.75M528.2 408.3h0.75M546.4 419.7h0.75M540.7 406.3h0.75M535.8 405.3h0.75M520.2 427.4h0.75M523.4 428.6h0.75M538.8 410.4h0.75M534.4 422.3h0.75M526.9 423h0.75M546.9 413.9h0.75M531 435.4h0.75M523.8 420.2h0.75M557.4 435h0.75M533 430h0.75M544.1 423.3h0.75M525.9 432.2h0.75M525.4 419.6h0.75M533.5 426h0.75M548.7 409h0.75M526.6 432.5h0.75M542.3 414.3h0.75M539.2 421.2h0.75M523.5 428.6h0.75M529.7 419.7h0.75M547.1 417.9h0.75M561.4 418.4h0.75M531.6 417.2h0.75M540.5 418.8h0.75M540.4 428.2h0.75M518.6 422.1h0.75M551.7 409.4h0.75M499.5 438.9h0.75M551.4 421h0.75M543.6 433h0.75M535.3 423h0.75M533.7 413h0.75M560.1 419.7h0.75M528.7 431.9h0.75M526.9 402.4h0.75M542.9 425.4h0.75M509.7 431.8h0.75M565 424.7h0.75M550.8 410.6h0.75M528.7 423.7h0.75M517.6 433.5h0.75M536.5 433.5h0.75M541 436.5h0.75M550.6 418.2h0.75M523.2 426.3h0.75M531.2 427.6h0.75M520.1 407.2h0.75M516.9 425.7h0.75M521.4 428.4h0.75M522.2 414.4h0.75M541.3 421.3h0.75M527 414.7h0.75M551.5 417.1h0.75M535.8 415.9h0.75M509.3 426.1h0.75M534.7 424.5h0.75M522.6 417.5h0.75M532.2 428.5h0.75M537.8 420.2h0.75M524.3 430.7h0.75M550.1 426.5h0.75M535.7 433.5h0.75M524.2 436.3h0.75M523.1 418.7h0.75M539.4 418.3h0.75M538.1 413.2h0.75" stroke="#1E1EB4" stroke-width="0.75" fill="none"/>
<g fill="none" stroke="#2A2AD2" stroke-width="0.32"><ellipse cx="539.21" cy="421.78" rx="17" ry="10" transform="rotate(-24.23 539.21 421.78)" fill="none"/><ellipse cx="537.58" cy="422.8" rx="15.3" ry="9" transform="rotate(-26.32 537.58 422.8)" fill="none"/><ellipse cx="538.07" cy="422.07" rx="13.6" ry="8" transform="rotate(-29.96 538.07 422.07)" fill="none"/><ellipse cx="537.81" cy="422.14" rx="11.9" ry="7" transform="rotate(-23.67 537.81 422.14)" fill="none"/><ellipse cx="538.15" cy="421.53" rx="10.2" ry="6" transform="rotate(-26.94 538.15 421.53)" fill="none"/><ellipse cx="537.46" cy="421.4" rx="8.5" ry="5" transform="rotate(-28.76 537.46 421.4)" fill="none"/><ellipse cx="538.55" cy="422.01" rx="6.8" ry="4" transform="rotate(-27.84 538.55 422.01)" fill="none"/><ellipse cx="537.33" cy="422.85" rx="5.1" ry="3" transform="rotate(-19.56 537.33 422.85)" fill="none"/><ellipse cx="550.49" cy="416.94" rx="9" ry="8" transform="rotate(-27.52 550.49 416.94)" fill="none"/><ellipse cx="550.82" cy="416.9" rx="7.2" ry="6.4" transform="rotate(-24.42 550.82 416.9)" fill="none"/><ellipse cx="549.97" cy="416.75" rx="5.4" ry="4.8" transform="rotate(-22.24 549.97 416.75)" fill="none"/><ellipse cx="549.49" cy="417.3" rx="3.6" ry="3.2" transform="rotate(-27.96 549.49 417.3)" fill="none"/></g>
<g fill="none" stroke="#1E1EB4" stroke-width="0.45"></g>
<ellipse cx="541" cy="426" rx="9.2" ry="6.3" transform="rotate(-25 541 426)" fill="#1414C8"/><ellipse cx="541" cy="426" rx="7.91" ry="5.42" transform="rotate(-25 541 426)" fill="#0050FF"/><ellipse cx="541" cy="426" rx="6.62" ry="4.54" transform="rotate(-25 541 426)" fill="#00B4FF"/><ellipse cx="541" cy="426" rx="5.34" ry="3.65" transform="rotate(-25 541 426)" fill="#10E070"/><ellipse cx="541" cy="426" rx="4.23" ry="2.9" transform="rotate(-25 541 426)" fill="#B8F000"/><ellipse cx="541" cy="426" rx="3.31" ry="2.27" transform="rotate(-25 541 426)" fill="#FFE000"/><ellipse cx="541" cy="426" rx="2.48" ry="1.7" transform="rotate(-25 541 426)" fill="#FF8C00"/><ellipse cx="541" cy="426" rx="1.56" ry="1.07" transform="rotate(-25 541 426)" fill="#FF1A00"/>
</g>
<polyline points="544.4,434.2 544.4,400.3 593.7,400.3 593.7,434.2" fill="none" stroke="#222" stroke-width="0.6"/>
<rect x="506" y="347.4" width="100.3" height="86.8" fill="none" stroke="#111" stroke-width="1.2"/>
<path d="M508 434.8v1.1 M510.2 434.8v1.1 M512.4 434.8v1.1 M514.6 434.8v1.1 M516.2 434.8v1.1 M518.4 434.8v1.1 M521.4 434.8v1.1 M523.6 434.8v1.1 M525.2 434.8v1.1 M528.2 434.8v1.1 M530.4 434.8v1.1 M532 434.8v1.1 M533.2 434.8v1.1 M536.2 434.8v1.1 M538.4 434.8v1.1 M541.4 434.8v1.1 M543.6 434.8v1.1 M544.8 434.8v1.1 M547 434.8v1.1 M549.2 434.8v1.1 M550.8 434.8v1.1 M553 434.8v1.1 M556 434.8v1.1 M558.2 434.8v1.1 M560.4 434.8v1.1 M562.6 434.8v1.1 M563.8 434.8v1.1 M565 434.8v1.1 M566.2 434.8v1.1 M569.2 434.8v1.1 M571.4 434.8v1.1 M572.6 434.8v1.1 M575.6 434.8v1.1 M577.8 434.8v1.1 M579 434.8v1.1 M580.2 434.8v1.1 M583.2 434.8v1.1 M584.8 434.8v1.1 M586.4 434.8v1.1 M588.6 434.8v1.1 M590.8 434.8v1.1 M593 434.8v1.1 M594.2 434.8v1.1 M596.4 434.8v1.1 M598 434.8v1.1 M599.6 434.8v1.1 M602.6 434.8v1.1 M604.2 434.8v1.1" stroke="#222" stroke-width="0.45"/>
<path d="M505.4 349.4h-1.0 M505.4 353.8h-1.0 M505.4 359.3h-1.0 M505.4 364.8h-1.0 M505.4 369.2h-1.0 M505.4 372.2h-1.0 M505.4 376.6h-1.0 M505.4 382.1h-1.0 M505.4 386.5h-1.0 M505.4 392h-1.0 M505.4 397.5h-1.0 M505.4 401.9h-1.0 M505.4 406.3h-1.0 M505.4 411.8h-1.0 M505.4 414.8h-1.0 M505.4 417.8h-1.0 M505.4 423.3h-1.0 M505.4 426.3h-1.0 M505.4 430.7h-1.0" stroke="#222" stroke-width="0.4"/>
<line x1="503.8" y1="347.4" x2="505.4" y2="347.4" stroke="#222" stroke-width="0.5"/>
<text x="503.4" y="349.8" font-size="7" text-anchor="end" fill="#222">934.4</text>
<line x1="503.8" y1="368.9" x2="505.4" y2="368.9" stroke="#222" stroke-width="0.5"/>
<text x="503.4" y="371.3" font-size="7" text-anchor="end" fill="#222">696.5</text>
<line x1="503.8" y1="391.4" x2="505.4" y2="391.4" stroke="#222" stroke-width="0.5"/>
<text x="503.4" y="393.8" font-size="7" text-anchor="end" fill="#222">458.5</text>
<line x1="503.8" y1="413.2" x2="505.4" y2="413.2" stroke="#222" stroke-width="0.5"/>
<text x="503.4" y="415.6" font-size="7" text-anchor="end" fill="#222">220.6</text>
<line x1="503.8" y1="434.8" x2="505.4" y2="434.8" stroke="#222" stroke-width="0.5"/>
<text x="503.4" y="437.2" font-size="7" text-anchor="end" fill="#222">-17.3</text>
<line x1="515.3" y1="434.8" x2="515.3" y2="436.4" stroke="#222" stroke-width="0.5"/>
<text x="515.3" y="447.5" font-size="7" text-anchor="middle" fill="#222">-10<tspan font-size="4.7" dy="-3.4">2</tspan><tspan dy="3.4"></tspan></text>
<line x1="541.4" y1="434.8" x2="541.4" y2="436.4" stroke="#222" stroke-width="0.5"/>
<text x="541.4" y="447.5" font-size="7" text-anchor="middle" fill="#222">10<tspan font-size="4.7" dy="-3.4">3</tspan><tspan dy="3.4"></tspan></text>
<line x1="562.3" y1="434.8" x2="562.3" y2="436.4" stroke="#222" stroke-width="0.5"/>
<text x="562.3" y="447.5" font-size="7" text-anchor="middle" fill="#222">10<tspan font-size="4.7" dy="-3.4">4</tspan><tspan dy="3.4"></tspan></text>
<line x1="581.8" y1="434.8" x2="581.8" y2="436.4" stroke="#222" stroke-width="0.5"/>
<text x="581.8" y="447.5" font-size="7" text-anchor="middle" fill="#222">10<tspan font-size="4.7" dy="-3.4">5</tspan><tspan dy="3.4"></tspan></text>
<line x1="602.1" y1="434.8" x2="602.1" y2="436.4" stroke="#222" stroke-width="0.5"/>
<text x="602.1" y="447.5" font-size="7" text-anchor="middle" fill="#222">10<tspan font-size="4.7" dy="-3.4">6</tspan><tspan dy="3.4"></tspan></text>
<text x="506.9" y="356.9" font-size="10.6">AhR<tspan font-size="5.6" dy="-3.6">fl/fl</tspan><tspan dy="3.6">Lyz2-cre+IPA</tspan></text>
<text x="540.8" y="387.3" font-size="10.2" textLength="56.8" lengthAdjust="spacingAndGlyphs">S100A8/A9<tspan font-size="5.6" dy="-3.8">+</tspan></text>
<text x="572.2" y="397.2" font-size="10.2" text-anchor="middle">27.37%</text>
<line x1="432.3" y1="450.3" x2="432.3" y2="470.5" stroke="#111" stroke-width="0.8"/>
<path d="M430.8 470L432.3 473L433.8 470z" fill="#111"/>
<line x1="556.9" y1="451.2" x2="556.9" y2="471.5" stroke="#111" stroke-width="0.8"/>
<path d="M555.4 471L556.9 474L558.4 471z" fill="#111"/>
<line x1="357" y1="392.6" x2="357" y2="451.9" stroke="#111" stroke-width="0.9"/>
<line x1="357" y1="451.9" x2="416.4" y2="451.9" stroke="#111" stroke-width="0.9"/>
<path d="M355 393.1L357 389.6L359 393.1z" fill="#111"/>
<path d="M415.9 449.9L419.4 451.9L415.9 453.9z" fill="#111"/>
<text x="354.1" y="423.4" font-size="10.2" text-anchor="middle" transform="rotate(-90 354.1 423.4)">SSA</text>
<text x="361.5" y="462.5" font-size="10.2" textLength="53.2" lengthAdjust="spacingAndGlyphs">S100A8/A9</text>
<defs><clipPath id="f3"><rect x="383.2" y="478.6" width="99.3" height="86.5"/></clipPath></defs>
<g clip-path="url(#f3)">
<path d="M425.1 554.3h0.75M422.3 555.3h0.75M416.9 544.5h0.75M414.2 550.2h0.75M413.3 556.3h0.75M400.6 553.4h0.75M413.4 554.4h0.75M406.7 558.5h0.75M413.7 552.4h0.75M431.6 551.7h0.75M416 549.1h0.75M428.7 549.2h0.75M389.1 556.4h0.75M404.9 543.4h0.75M411.5 554.3h0.75M446 549.7h0.75M400.6 562.9h0.75M393 556.2h0.75M401.9 561.2h0.75M403.8 550.1h0.75M416.2 546.6h0.75M412.5 546.6h0.75M418.7 549h0.75M399.9 561.8h0.75M411.7 549.1h0.75M399.3 544.9h0.75M415 554.7h0.75M421.2 553.3h0.75M391.9 557.2h0.75M385 553h0.75M389.8 551h0.75M403.1 552.7h0.75M438.7 552h0.75M389.4 557h0.75M396.7 553.9h0.75M397.9 547.6h0.75M427.6 542.2h0.75M434.7 548.6h0.75M419.3 548.5h0.75M395.2 558h0.75M427.2 548.9h0.75M416.1 550.9h0.75M399.4 553h0.75M425.8 543.3h0.75M405.3 543.4h0.75M414.2 550.7h0.75M423.7 547.9h0.75M412.8 554.6h0.75M406.5 557.7h0.75M407.6 556.6h0.75M423.1 547.9h0.75M405.7 551.9h0.75M399 556.3h0.75M402.9 539.1h0.75M418.3 547.8h0.75M382.6 552.2h0.75M404.8 551.9h0.75M422.3 550.9h0.75M414.2 553.7h0.75M409.7 551.6h0.75M388.9 556.2h0.75M403.9 553.9h0.75M404.4 547h0.75M428.4 548.7h0.75M402.8 554.2h0.75M422.9 552.4h0.75M396.4 557.3h0.75M399.3 551.8h0.75M408.5 556.1h0.75M406.1 540.2h0.75M405 550.3h0.75M407.7 552.2h0.75M406.4 548.2h0.75M423.9 546.7h0.75M410.7 545.8h0.75M422.8 551.2h0.75M389.2 549.7h0.75M414.6 554.5h0.75M420 538.2h0.75M399 548.3h0.75M414 553h0.75M389.6 548.8h0.75M396.1 556h0.75M407.6 550.6h0.75M396.8 548.3h0.75M413.7 549.2h0.75M433 533.8h0.75M423.4 553h0.75M393 554.9h0.75M395 545.6h0.75M415.1 560.7h0.75M380.5 546.9h0.75M413 550.1h0.75M434.5 555h0.75M399.8 553.3h0.75M415.2 551.1h0.75M426.5 550.3h0.75M419.3 555.8h0.75M422.1 550.1h0.75M400.1 549.4h0.75M405.8 545.8h0.75M414.5 552.8h0.75M409.5 548.1h0.75M398 558.8h0.75M396.3 556.6h0.75M408.3 550.8h0.75M426.5 543.9h0.75M414.1 548.9h0.75M411.4 554.3h0.75M410.2 549.7h0.75M425.1 541.2h0.75M420.1 538.7h0.75M439.1 523.1h0.75M443.6 542.3h0.75M435.3 537.9h0.75M434.6 531.4h0.75M431.3 529.8h0.75M443.2 541.9h0.75M430.4 535.5h0.75M426 536.7h0.75M431.1 540.8h0.75M417.1 554.1h0.75M433.2 538.2h0.75M437.1 539.4h0.75M422.9 563.8h0.75M440.3 532.6h0.75M425.6 526.8h0.75M433.2 516.8h0.75M421.3 529.4h0.75M433.1 542.1h0.75M429.7 530.1h0.75M416.7 545.8h0.75M429.4 536.6h0.75M432.5 543.8h0.75M417.3 531.8h0.75M429.2 547.8h0.75M428.9 538h0.75M430.8 523.6h0.75M415.4 533.3h0.75M429.4 557.7h0.75M431.5 558.9h0.75M452.6 545.9h0.75M447.9 523.5h0.75M430.1 550.1h0.75M436.1 550.8h0.75M427.5 524.9h0.75M419.8 538.2h0.75M434.3 555h0.75M436.1 543.1h0.75M432.1 545.5h0.75M424.4 535h0.75M431 538h0.75M429.8 544.6h0.75M452.7 536.5h0.75M433.1 549.4h0.75M425.4 533.2h0.75M414 552.4h0.75M437.3 528.8h0.75M432.8 550.7h0.75M445.4 552.9h0.75M423.2 554.7h0.75M443.5 543.3h0.75M434.2 515.8h0.75M432.7 531.8h0.75M431.1 535h0.75M437.3 546h0.75M435 543.8h0.75M430.1 539.5h0.75M418 542.5h0.75M417.3 534.5h0.75" stroke="#1E1EB4" stroke-width="0.75" fill="none"/>
<g fill="none" stroke="#2A2AD2" stroke-width="0.32"><ellipse cx="411.05" cy="552.89" rx="24" ry="8" transform="rotate(-0.51 411.05 552.89)" fill="none"/><ellipse cx="412.69" cy="551.77" rx="19.2" ry="6.4" transform="rotate(-11.85 412.69 551.77)" fill="none"/><ellipse cx="412.02" cy="551.88" rx="14.4" ry="4.8" transform="rotate(-12.84 412.02 551.88)" fill="none"/><ellipse cx="413.53" cy="552.62" rx="9.6" ry="3.2" transform="rotate(-9.91 413.53 552.62)" fill="none"/><ellipse cx="429.93" cy="549.9" rx="4" ry="3" transform="rotate(-4.49 429.93 549.9)" fill="none"/><ellipse cx="429.96" cy="550.14" rx="2.93" ry="2.2" transform="rotate(-0.46 429.96 550.14)" fill="none"/><ellipse cx="429.59" cy="550.02" rx="1.87" ry="1.4" transform="rotate(1.59 429.59 550.02)" fill="none"/></g>
<g fill="none" stroke="#1E1EB4" stroke-width="0.45"></g>
<ellipse cx="410" cy="553" rx="23" ry="5.2" transform="rotate(-6 410 553)" fill="#1414C8"/><ellipse cx="410" cy="553" rx="19.78" ry="4.47" transform="rotate(-6 410 553)" fill="#0050FF"/><ellipse cx="410" cy="553" rx="16.1" ry="3.64" transform="rotate(-6 410 553)" fill="#00B4FF"/><ellipse cx="410" cy="553" rx="11.96" ry="2.7" transform="rotate(-6 410 553)" fill="#10E070"/>
<ellipse cx="400.5" cy="554" rx="5.5" ry="2.9" transform="rotate(-6 400.5 554)" fill="#B8F000"/><ellipse cx="400.5" cy="554" rx="4.29" ry="2.26" transform="rotate(-6 400.5 554)" fill="#FFE000"/><ellipse cx="400.5" cy="554" rx="3.03" ry="1.59" transform="rotate(-6 400.5 554)" fill="#FF8C00"/><ellipse cx="400.5" cy="554" rx="1.76" ry="0.93" transform="rotate(-6 400.5 554)" fill="#FF1A00"/>
<ellipse cx="411.5" cy="552.6" rx="4.5" ry="2.6" transform="rotate(-6 411.5 552.6)" fill="#B8F000"/><ellipse cx="411.5" cy="552.6" rx="3.51" ry="2.03" transform="rotate(-6 411.5 552.6)" fill="#FFE000"/><ellipse cx="411.5" cy="552.6" rx="2.48" ry="1.43" transform="rotate(-6 411.5 552.6)" fill="#FF8C00"/><ellipse cx="411.5" cy="552.6" rx="1.44" ry="0.83" transform="rotate(-6 411.5 552.6)" fill="#FF1A00"/>
</g>
<polyline points="414.7,565.1 414.7,523.7 473.8,523.7 473.8,565.1" fill="none" stroke="#222" stroke-width="0.6"/>
<rect x="383.2" y="478.6" width="99.3" height="86.5" fill="none" stroke="#111" stroke-width="1.2"/>
<path d="M385.2 565.7v1.1 M387.4 565.7v1.1 M389.6 565.7v1.1 M392.6 565.7v1.1 M394.8 565.7v1.1 M397 565.7v1.1 M399.2 565.7v1.1 M400.8 565.7v1.1 M402.4 565.7v1.1 M405.4 565.7v1.1 M407.6 565.7v1.1 M408.8 565.7v1.1 M411.8 565.7v1.1 M414 565.7v1.1 M415.6 565.7v1.1 M416.8 565.7v1.1 M418 565.7v1.1 M419.2 565.7v1.1 M422.2 565.7v1.1 M423.4 565.7v1.1 M424.6 565.7v1.1 M426.2 565.7v1.1 M427.4 565.7v1.1 M428.6 565.7v1.1 M429.8 565.7v1.1 M432.8 565.7v1.1 M435.8 565.7v1.1 M438 565.7v1.1 M439.6 565.7v1.1 M440.8 565.7v1.1 M443 565.7v1.1 M444.2 565.7v1.1 M446.4 565.7v1.1 M447.6 565.7v1.1 M449.8 565.7v1.1 M451 565.7v1.1 M453.2 565.7v1.1 M454.4 565.7v1.1 M456 565.7v1.1 M458.2 565.7v1.1 M459.4 565.7v1.1 M461.6 565.7v1.1 M464.6 565.7v1.1 M466.8 565.7v1.1 M469.8 565.7v1.1 M472.8 565.7v1.1 M474 565.7v1.1 M477 565.7v1.1 M478.6 565.7v1.1" stroke="#222" stroke-width="0.45"/>
<path d="M382.6 480.6h-1.0 M382.6 485h-1.0 M382.6 490.5h-1.0 M382.6 496h-1.0 M382.6 500.4h-1.0 M382.6 504.8h-1.0 M382.6 509.2h-1.0 M382.6 513.6h-1.0 M382.6 516.6h-1.0 M382.6 522.1h-1.0 M382.6 527.6h-1.0 M382.6 533.1h-1.0 M382.6 537.5h-1.0 M382.6 543h-1.0 M382.6 547.4h-1.0 M382.6 552.9h-1.0 M382.6 555.9h-1.0 M382.6 558.9h-1.0 M382.6 563.3h-1.0" stroke="#222" stroke-width="0.4"/>
<line x1="381" y1="478.6" x2="382.6" y2="478.6" stroke="#222" stroke-width="0.5"/>
<text x="380.6" y="481" font-size="7" text-anchor="end" fill="#222">729.1</text>
<line x1="381" y1="500.4" x2="382.6" y2="500.4" stroke="#222" stroke-width="0.5"/>
<text x="380.6" y="502.8" font-size="7" text-anchor="end" fill="#222">543.6</text>
<line x1="381" y1="522.6" x2="382.6" y2="522.6" stroke="#222" stroke-width="0.5"/>
<text x="380.6" y="525" font-size="7" text-anchor="end" fill="#222">358.2</text>
<line x1="381" y1="543.6" x2="382.6" y2="543.6" stroke="#222" stroke-width="0.5"/>
<text x="380.6" y="546" font-size="7" text-anchor="end" fill="#222">172.7</text>
<line x1="381" y1="565.1" x2="382.6" y2="565.1" stroke="#222" stroke-width="0.5"/>
<text x="380.6" y="567.5" font-size="7" text-anchor="end" fill="#222">-12.7</text>
<line x1="390.2" y1="565.7" x2="390.2" y2="567.3" stroke="#222" stroke-width="0.5"/>
<text x="390.2" y="578.4" font-size="7" text-anchor="middle" fill="#222">-10<tspan font-size="4.7" dy="-3.4">3</tspan><tspan dy="3.4"></tspan></text>
<line x1="401.9" y1="565.7" x2="401.9" y2="567.3" stroke="#222" stroke-width="0.5"/>
<text x="401.9" y="578.4" font-size="7" text-anchor="middle" fill="#222">0</text>
<line x1="414.3" y1="565.7" x2="414.3" y2="567.3" stroke="#222" stroke-width="0.5"/>
<text x="414.3" y="578.4" font-size="7" text-anchor="middle" fill="#222">10<tspan font-size="4.7" dy="-3.4">3</tspan><tspan dy="3.4"></tspan></text>
<line x1="436.9" y1="565.7" x2="436.9" y2="567.3" stroke="#222" stroke-width="0.5"/>
<text x="436.9" y="578.4" font-size="7" text-anchor="middle" fill="#222">10<tspan font-size="4.7" dy="-3.4">4</tspan><tspan dy="3.4"></tspan></text>
<line x1="457.5" y1="565.7" x2="457.5" y2="567.3" stroke="#222" stroke-width="0.5"/>
<text x="457.5" y="578.4" font-size="7" text-anchor="middle" fill="#222">10<tspan font-size="4.7" dy="-3.4">5</tspan><tspan dy="3.4"></tspan></text>
<line x1="476.7" y1="565.7" x2="476.7" y2="567.3" stroke="#222" stroke-width="0.5"/>
<text x="476.7" y="578.4" font-size="7" text-anchor="middle" fill="#222">10<tspan font-size="4.7" dy="-3.4">6</tspan><tspan dy="3.4"></tspan></text>
<text x="386.7" y="489.8" font-size="10.6">AhR<tspan font-size="5.6" dy="-3.6">fl/fl</tspan><tspan dy="3.6">Lyz2-cre</tspan></text>
<text x="426.4" y="512" font-size="10.2" textLength="36.2" lengthAdjust="spacingAndGlyphs">TGFβ1<tspan font-size="5.6" dy="-3.8">+</tspan></text>
<text x="444.6" y="522.1" font-size="10.2" text-anchor="middle">36.66%</text>
<defs><clipPath id="f4"><rect x="505.4" y="479" width="99.7" height="86.2"/></clipPath></defs>
<g clip-path="url(#f4)">
<path d="M519 549.8h0.75M537.9 548.9h0.75M513.1 545.9h0.75M516.4 556.7h0.75M503.2 563.6h0.75M505.3 553.2h0.75M516.4 552.4h0.75M545.2 540h0.75M547 550.1h0.75M514.9 551.2h0.75M534.7 544.3h0.75M514.2 560.7h0.75M543.1 552.8h0.75M517.6 551.3h0.75M545.3 544.1h0.75M561.4 543.1h0.75M535.2 551.7h0.75M533.8 556.7h0.75M542.1 552.1h0.75M539 546.4h0.75M551.1 554h0.75M518.4 549h0.75M540.5 547h0.75M546.5 549.8h0.75M552.1 547.6h0.75M544.2 548h0.75M572.6 535.7h0.75M519.9 555.9h0.75M517.8 553.1h0.75M510.7 552h0.75M522 548.1h0.75M510.1 559.3h0.75M529.7 557.5h0.75M552.5 552.2h0.75M525.6 557.4h0.75M550 549.5h0.75M515.8 561.2h0.75M540 542.6h0.75M536 554.9h0.75M540.3 549.9h0.75M529.1 559.1h0.75M536.1 550.6h0.75M559.8 546.8h0.75M565.7 546.2h0.75M545 556h0.75M529.1 549.6h0.75M539.2 549.4h0.75M526 551.9h0.75M543 540.8h0.75M522.4 560h0.75M542.3 555.1h0.75M533.9 547.8h0.75M518.1 554.6h0.75M513.4 552.6h0.75M553.2 550.7h0.75M516.3 554h0.75M512 551.7h0.75M513.5 557.2h0.75M548.5 543.8h0.75M527.4 550.9h0.75M521.6 559h0.75M524.1 552.6h0.75M502.6 562.9h0.75M522.3 557.4h0.75M525.3 558.1h0.75M538.2 552.1h0.75M524.6 559.2h0.75M506.1 557h0.75M551 553h0.75M538.8 548.1h0.75M540.9 547.9h0.75M525.3 558.3h0.75M577.3 533.7h0.75M523 552.3h0.75M553.7 560.9h0.75M525.7 555h0.75M565.8 537.5h0.75M552.5 540.5h0.75M510.1 547.7h0.75M540.3 543.4h0.75M530.1 545.2h0.75M546.4 551.4h0.75M539.6 551.4h0.75M539.4 549.7h0.75M511.4 554.2h0.75M545.8 551.4h0.75M544.4 549.2h0.75M525.1 564.4h0.75M534.7 552.7h0.75M509.4 559.1h0.75M539.6 549.2h0.75M502.9 571.7h0.75M539.7 551.3h0.75M530.2 561.1h0.75M522.3 559.1h0.75M524.1 559.6h0.75M538.3 557h0.75M517.9 559.1h0.75M515.8 559.2h0.75M541.7 550.3h0.75M533 548h0.75M549.3 544.3h0.75M521.4 559.3h0.75M527.1 547h0.75M555.1 552.2h0.75M544.5 547.9h0.75M534.4 543.9h0.75M532 560.1h0.75M515.9 554.9h0.75M559.1 544.9h0.75M537.5 553.2h0.75M535.7 538.5h0.75M526.9 558.3h0.75M534.5 551.2h0.75M536.4 554.2h0.75M542.1 553.4h0.75M517.8 547.3h0.75M524.6 563.6h0.75M535.2 553.5h0.75M520.8 554h0.75M501.8 552.8h0.75M566 547h0.75M545.2 549.4h0.75M541.5 543.7h0.75M537.3 542.7h0.75M531.3 552.4h0.75M515.5 560.7h0.75M539.3 550.1h0.75M527.3 538.1h0.75M523 558.1h0.75M518.8 553.6h0.75M536.2 549h0.75M513 548.4h0.75M523.4 554.7h0.75M526.7 545.1h0.75M521.4 550.8h0.75M560.3 551.6h0.75M525.7 556.2h0.75M516.1 560.1h0.75M546.3 552.4h0.75M533 555.1h0.75M564.2 542.9h0.75M512 559.2h0.75M517.6 560.2h0.75M531.8 544.2h0.75M515.8 547.3h0.75M535.1 550.9h0.75M530.1 559.7h0.75M550.3 544.7h0.75M514.7 560h0.75M541.6 544.2h0.75M551.3 539.7h0.75M556.3 537.7h0.75M548.8 544.1h0.75M539.1 551.9h0.75M549.8 543.9h0.75M546.1 548.2h0.75M547.8 534.8h0.75M549.9 546.4h0.75M548.6 548.3h0.75M555.1 543.4h0.75M538.3 555.1h0.75M547.2 550.3h0.75M553.1 541.7h0.75M560.6 535h0.75M548.4 546.4h0.75M542.6 548.3h0.75M548.6 543.3h0.75M558.7 539.7h0.75M548.9 549h0.75M550.5 548.5h0.75M562.9 548.1h0.75M540.8 544.3h0.75M558.6 537.8h0.75M545 551.8h0.75M547.6 547.2h0.75M553.3 552.4h0.75M544.5 531.3h0.75M549.4 550.6h0.75M554.4 539h0.75M556.2 542h0.75M543.6 547h0.75M556 539.7h0.75M550.7 541h0.75M553.1 539.7h0.75M551.3 544.1h0.75M552.3 542.5h0.75M543.5 546.6h0.75M540.7 547.7h0.75M554.5 546.9h0.75" stroke="#1E1EB4" stroke-width="0.75" fill="none"/>
<g fill="none" stroke="#2A2AD2" stroke-width="0.32"><ellipse cx="530.22" cy="554.79" rx="27" ry="8" transform="rotate(-14.97 530.22 554.79)" fill="none"/><ellipse cx="532.3" cy="554" rx="21.6" ry="6.4" transform="rotate(-10.66 532.3 554)" fill="none"/><ellipse cx="531.34" cy="553.66" rx="16.2" ry="4.8" transform="rotate(-5.1 531.34 553.66)" fill="none"/><ellipse cx="527.89" cy="553.98" rx="10.8" ry="3.2" transform="rotate(-19.13 527.89 553.98)" fill="none"/><ellipse cx="552.13" cy="546.93" rx="8" ry="4" transform="rotate(-23.34 552.13 546.93)" fill="none"/><ellipse cx="551.77" cy="546.85" rx="5.87" ry="2.93" transform="rotate(-24.43 551.77 546.85)" fill="none"/><ellipse cx="551.9" cy="546.91" rx="3.73" ry="1.87" transform="rotate(-21.95 551.9 546.91)" fill="none"/></g>
<g fill="none" stroke="#1E1EB4" stroke-width="0.45"><ellipse cx="558.4" cy="540.3" rx="1.6" ry="1.6" transform="rotate(0 558.4 540.3)" fill="none"/><ellipse cx="558.4" cy="540.3" rx="1.2" ry="1.2" transform="rotate(0 558.4 540.3)" fill="none"/><ellipse cx="558.4" cy="540.3" rx="0.8" ry="0.8" transform="rotate(0 558.4 540.3)" fill="none"/><ellipse cx="564.4" cy="542.7" rx="1.6" ry="1.6" transform="rotate(0 564.4 542.7)" fill="none"/><ellipse cx="564.4" cy="542.7" rx="1.2" ry="1.2" transform="rotate(0 564.4 542.7)" fill="none"/><ellipse cx="564.4" cy="542.7" rx="0.8" ry="0.8" transform="rotate(0 564.4 542.7)" fill="none"/></g>
<ellipse cx="531.5" cy="555" rx="24.5" ry="5.4" transform="rotate(-9 531.5 555)" fill="#1414C8"/><ellipse cx="531.5" cy="555" rx="21.07" ry="4.64" transform="rotate(-9 531.5 555)" fill="#0050FF"/><ellipse cx="531.5" cy="555" rx="17.15" ry="3.78" transform="rotate(-9 531.5 555)" fill="#00B4FF"/><ellipse cx="531.5" cy="555" rx="12.74" ry="2.81" transform="rotate(-9 531.5 555)" fill="#10E070"/>
<ellipse cx="535.5" cy="555" rx="6.5" ry="3.1" transform="rotate(-9 535.5 555)" fill="#B8F000"/><ellipse cx="535.5" cy="555" rx="5.07" ry="2.42" transform="rotate(-9 535.5 555)" fill="#FFE000"/><ellipse cx="535.5" cy="555" rx="3.58" ry="1.71" transform="rotate(-9 535.5 555)" fill="#FF8C00"/><ellipse cx="535.5" cy="555" rx="2.08" ry="0.99" transform="rotate(-9 535.5 555)" fill="#FF1A00"/>
<ellipse cx="522" cy="557.3" rx="4.5" ry="2.4" transform="rotate(-9 522 557.3)" fill="#B8F000"/><ellipse cx="522" cy="557.3" rx="3.51" ry="1.87" transform="rotate(-9 522 557.3)" fill="#FFE000"/>
</g>
<polyline points="540.5,565.2 540.5,525.4 598.8,525.4 598.8,565.2" fill="none" stroke="#222" stroke-width="0.6"/>
<rect x="505.4" y="479" width="99.7" height="86.2" fill="none" stroke="#111" stroke-width="1.2"/>
<path d="M507.4 565.8v1.1 M508.6 565.8v1.1 M511.6 565.8v1.1 M513.2 565.8v1.1 M515.4 565.8v1.1 M517 565.8v1.1 M520 565.8v1.1 M521.6 565.8v1.1 M522.8 565.8v1.1 M524.4 565.8v1.1 M526.6 565.8v1.1 M528.2 565.8v1.1 M531.2 565.8v1.1 M533.4 565.8v1.1 M536.4 565.8v1.1 M537.6 565.8v1.1 M539.2 565.8v1.1 M541.4 565.8v1.1 M543 565.8v1.1 M544.2 565.8v1.1 M545.8 565.8v1.1 M547 565.8v1.1 M550 565.8v1.1 M551.6 565.8v1.1 M553.8 565.8v1.1 M555 565.8v1.1 M556.6 565.8v1.1 M559.6 565.8v1.1 M560.8 565.8v1.1 M563.8 565.8v1.1 M565 565.8v1.1 M567.2 565.8v1.1 M570.2 565.8v1.1 M572.4 565.8v1.1 M574 565.8v1.1 M576.2 565.8v1.1 M578.4 565.8v1.1 M580 565.8v1.1 M581.2 565.8v1.1 M583.4 565.8v1.1 M586.4 565.8v1.1 M589.4 565.8v1.1 M591.6 565.8v1.1 M594.6 565.8v1.1 M596.2 565.8v1.1 M597.4 565.8v1.1 M598.6 565.8v1.1 M600.8 565.8v1.1 M603.8 565.8v1.1" stroke="#222" stroke-width="0.45"/>
<path d="M504.8 481h-1.0 M504.8 485.4h-1.0 M504.8 489.8h-1.0 M504.8 494.2h-1.0 M504.8 498.6h-1.0 M504.8 503h-1.0 M504.8 508.5h-1.0 M504.8 512.9h-1.0 M504.8 515.9h-1.0 M504.8 518.9h-1.0 M504.8 524.4h-1.0 M504.8 528.8h-1.0 M504.8 533.2h-1.0 M504.8 537.6h-1.0 M504.8 540.6h-1.0 M504.8 546.1h-1.0 M504.8 551.6h-1.0 M504.8 554.6h-1.0 M504.8 560.1h-1.0" stroke="#222" stroke-width="0.4"/>
<line x1="503.2" y1="479" x2="504.8" y2="479" stroke="#222" stroke-width="0.5"/>
<text x="502.8" y="481.4" font-size="7" text-anchor="end" fill="#222">934.4</text>
<line x1="503.2" y1="500.5" x2="504.8" y2="500.5" stroke="#222" stroke-width="0.5"/>
<text x="502.8" y="502.9" font-size="7" text-anchor="end" fill="#222">696.5</text>
<line x1="503.2" y1="522.4" x2="504.8" y2="522.4" stroke="#222" stroke-width="0.5"/>
<text x="502.8" y="524.8" font-size="7" text-anchor="end" fill="#222">458.5</text>
<line x1="503.2" y1="544.2" x2="504.8" y2="544.2" stroke="#222" stroke-width="0.5"/>
<text x="502.8" y="546.6" font-size="7" text-anchor="end" fill="#222">220.6</text>
<line x1="503.2" y1="565.8" x2="504.8" y2="565.8" stroke="#222" stroke-width="0.5"/>
<text x="502.8" y="568.2" font-size="7" text-anchor="end" fill="#222">-17.3</text>
<line x1="520.4" y1="565.8" x2="520.4" y2="567.4" stroke="#222" stroke-width="0.5"/>
<text x="520.4" y="578.5" font-size="7" text-anchor="middle" fill="#222">-10<tspan font-size="4.7" dy="-3.4">2</tspan><tspan dy="3.4"></tspan></text>
<line x1="539.9" y1="565.8" x2="539.9" y2="567.4" stroke="#222" stroke-width="0.5"/>
<text x="539.9" y="578.5" font-size="7" text-anchor="middle" fill="#222">10<tspan font-size="4.7" dy="-3.4">3</tspan><tspan dy="3.4"></tspan></text>
<line x1="561.4" y1="565.8" x2="561.4" y2="567.4" stroke="#222" stroke-width="0.5"/>
<text x="561.4" y="578.5" font-size="7" text-anchor="middle" fill="#222">10<tspan font-size="4.7" dy="-3.4">4</tspan><tspan dy="3.4"></tspan></text>
<line x1="581.8" y1="565.8" x2="581.8" y2="567.4" stroke="#222" stroke-width="0.5"/>
<text x="581.8" y="578.5" font-size="7" text-anchor="middle" fill="#222">10<tspan font-size="4.7" dy="-3.4">5</tspan><tspan dy="3.4"></tspan></text>
<line x1="601.2" y1="565.8" x2="601.2" y2="567.4" stroke="#222" stroke-width="0.5"/>
<text x="601.2" y="578.5" font-size="7" text-anchor="middle" fill="#222">10<tspan font-size="4.7" dy="-3.4">6</tspan><tspan dy="3.4"></tspan></text>
<text x="506.9" y="490" font-size="10.6">AhR<tspan font-size="5.6" dy="-3.6">fl/fl</tspan><tspan dy="3.6">Lyz2-cre+IPA</tspan></text>
<text x="549.4" y="515.3" font-size="10.2" textLength="36.9" lengthAdjust="spacingAndGlyphs">TGFβ1<tspan font-size="5.6" dy="-3.8">+</tspan></text>
<text x="569.2" y="524.3" font-size="10.2" text-anchor="middle">38.01%</text>
<line x1="359.4" y1="522" x2="359.4" y2="580.5" stroke="#111" stroke-width="0.9"/>
<line x1="359.4" y1="580.5" x2="418.8" y2="580.5" stroke="#111" stroke-width="0.9"/>
<path d="M357.4 522.5L359.4 519L361.4 522.5z" fill="#111"/>
<path d="M418.3 578.5L421.8 580.5L418.3 582.5z" fill="#111"/>
<text x="357.6" y="550.6" font-size="10.2" text-anchor="middle" transform="rotate(-90 357.6 550.6)">SSA</text>
<text x="369.2" y="589.9" font-size="10.2" textLength="32.7" lengthAdjust="spacingAndGlyphs">TGFβ1</text>
<line x1="635.6" y1="358.4" x2="635.6" y2="430.3" stroke="#222" stroke-width="0.6"/>
<line x1="635.6" y1="430.3" x2="679" y2="430.3" stroke="#222" stroke-width="0.6"/>
<line x1="634.3" y1="358.4" x2="635.6" y2="358.4" stroke="#222" stroke-width="0.54"/>
<text x="633.3" y="360.52" font-size="5.9" text-anchor="end" fill="#222">50</text>
<line x1="634.3" y1="372.8" x2="635.6" y2="372.8" stroke="#222" stroke-width="0.54"/>
<text x="633.3" y="374.92" font-size="5.9" text-anchor="end" fill="#222">40</text>
<line x1="634.3" y1="386.9" x2="635.6" y2="386.9" stroke="#222" stroke-width="0.54"/>
<text x="633.3" y="389.02" font-size="5.9" text-anchor="end" fill="#222">30</text>
<line x1="634.3" y1="401.2" x2="635.6" y2="401.2" stroke="#222" stroke-width="0.54"/>
<text x="633.3" y="403.32" font-size="5.9" text-anchor="end" fill="#222">20</text>
<line x1="634.3" y1="415.9" x2="635.6" y2="415.9" stroke="#222" stroke-width="0.54"/>
<text x="633.3" y="418.02" font-size="5.9" text-anchor="end" fill="#222">10</text>
<line x1="634.3" y1="430.3" x2="635.6" y2="430.3" stroke="#222" stroke-width="0.54"/>
<text x="633.3" y="432.42" font-size="5.9" text-anchor="end" fill="#222">0</text>
<rect x="642.85" y="386.35" width="13.4" height="43.95" fill="none" stroke="#A6A6A6" stroke-width="0.7"/>
<line x1="649.55" y1="372.2" x2="649.55" y2="398.6" stroke="#A6A6A6" stroke-width="0.7"/>
<line x1="646.45" y1="372.2" x2="652.65" y2="372.2" stroke="#A6A6A6" stroke-width="0.7"/>
<line x1="646.45" y1="398.6" x2="652.65" y2="398.6" stroke="#A6A6A6" stroke-width="0.7"/>
<circle cx="649.05" cy="363.6" r="1" fill="#A6A6A6"/>
<circle cx="647.55" cy="393.2" r="1" fill="#A6A6A6"/>
<circle cx="651.05" cy="391.5" r="1" fill="#A6A6A6"/>
<circle cx="649.55" cy="394.8" r="1" fill="#A6A6A6"/>
<circle cx="649.55" cy="388" r="1" fill="#A6A6A6"/>
<rect x="663.55" y="381.85" width="12.7" height="48.45" fill="none" stroke="#3F3FF5" stroke-width="0.7"/>
<line x1="669.9" y1="368.4" x2="669.9" y2="395.4" stroke="#3F3FF5" stroke-width="0.7"/>
<line x1="666.95" y1="368.4" x2="672.85" y2="368.4" stroke="#3F3FF5" stroke-width="0.7"/>
<line x1="666.95" y1="395.4" x2="672.85" y2="395.4" stroke="#3F3FF5" stroke-width="0.7"/>
<rect x="668.8" y="362.3" width="2.2" height="2.2" fill="#3F3FF5"/>
<rect x="666.8" y="391.4" width="2.2" height="2.2" fill="#3F3FF5"/>
<rect x="671.1" y="390.5" width="2.2" height="2.2" fill="#3F3FF5"/>
<rect x="668.8" y="378.9" width="2.2" height="2.2" fill="#3F3FF5"/>
<line x1="650.6" y1="358.4" x2="664" y2="358.4" stroke="#222" stroke-width="0.7"/>
<text x="657.3" y="356.6" font-size="7" text-anchor="middle" fill="#222">ns</text>
<text x="613.1" y="399" font-size="6.1" text-anchor="middle" transform="rotate(-90 613.1 399)">The ratio of S100A8/A9<tspan font-size="3.6" dy="-2">+</tspan><tspan dy="2"></tspan></text>
<text x="621" y="399" font-size="6.1" text-anchor="middle" transform="rotate(-90 621 399)">in F4/80<tspan font-size="3.6" dy="-2">+</tspan><tspan dy="2"> macrophage</tspan></text>
<text x="652.5" y="436" font-size="5.4" text-anchor="end" transform="rotate(-45 652.5 436)">AhR<tspan font-size="3.3" dy="-1.8">fl/fl</tspan><tspan dy="1.8">Lyz-cre</tspan></text>
<text x="672.5" y="436" font-size="5.4" text-anchor="end" transform="rotate(-45 672.5 436)">AhR<tspan font-size="3.3" dy="-1.8">fl/fl</tspan><tspan dy="1.8">Lyz-cre+IPA</tspan></text>
<line x1="635.6" y1="483.5" x2="635.6" y2="555.9" stroke="#222" stroke-width="0.6"/>
<line x1="635.6" y1="555.9" x2="680" y2="555.9" stroke="#222" stroke-width="0.6"/>
<line x1="634.3" y1="483.5" x2="635.6" y2="483.5" stroke="#222" stroke-width="0.54"/>
<text x="633.3" y="485.62" font-size="5.9" text-anchor="end" fill="#222">50</text>
<line x1="634.3" y1="498.4" x2="635.6" y2="498.4" stroke="#222" stroke-width="0.54"/>
<text x="633.3" y="500.52" font-size="5.9" text-anchor="end" fill="#222">40</text>
<line x1="634.3" y1="512.8" x2="635.6" y2="512.8" stroke="#222" stroke-width="0.54"/>
<text x="633.3" y="514.92" font-size="5.9" text-anchor="end" fill="#222">30</text>
<line x1="634.3" y1="526.9" x2="635.6" y2="526.9" stroke="#222" stroke-width="0.54"/>
<text x="633.3" y="529.02" font-size="5.9" text-anchor="end" fill="#222">20</text>
<line x1="634.3" y1="541.8" x2="635.6" y2="541.8" stroke="#222" stroke-width="0.54"/>
<text x="633.3" y="543.92" font-size="5.9" text-anchor="end" fill="#222">10</text>
<line x1="634.3" y1="555.9" x2="635.6" y2="555.9" stroke="#222" stroke-width="0.54"/>
<text x="633.3" y="558.02" font-size="5.9" text-anchor="end" fill="#222">0</text>
<rect x="642.85" y="504.75" width="12.8" height="51.15" fill="none" stroke="#A6A6A6" stroke-width="0.7"/>
<line x1="649.25" y1="494.3" x2="649.25" y2="514.6" stroke="#A6A6A6" stroke-width="0.7"/>
<line x1="646.28" y1="494.3" x2="652.22" y2="494.3" stroke="#A6A6A6" stroke-width="0.7"/>
<line x1="646.28" y1="514.6" x2="652.22" y2="514.6" stroke="#A6A6A6" stroke-width="0.7"/>
<circle cx="647.25" cy="500.5" r="1" fill="#A6A6A6"/>
<circle cx="651.75" cy="501.2" r="1" fill="#A6A6A6"/>
<circle cx="649.25" cy="520.5" r="1" fill="#A6A6A6"/>
<circle cx="649.25" cy="510" r="1" fill="#A6A6A6"/>
<rect x="663.55" y="508.65" width="12.7" height="47.25" fill="none" stroke="#3F3FF5" stroke-width="0.7"/>
<line x1="669.9" y1="496.3" x2="669.9" y2="521" stroke="#3F3FF5" stroke-width="0.7"/>
<line x1="666.95" y1="496.3" x2="672.85" y2="496.3" stroke="#3F3FF5" stroke-width="0.7"/>
<line x1="666.95" y1="521" x2="672.85" y2="521" stroke="#3F3FF5" stroke-width="0.7"/>
<circle cx="668.4" cy="500.2" r="1.1" fill="#3F3FF5"/>
<circle cx="671.4" cy="501.5" r="1.1" fill="#3F3FF5"/>
<circle cx="669.9" cy="508.5" r="1.1" fill="#3F3FF5"/>
<circle cx="669.9" cy="522.4" r="1.1" fill="#3F3FF5"/>
<line x1="652.7" y1="488.6" x2="665.6" y2="488.6" stroke="#222" stroke-width="0.7"/>
<text x="659.15" y="487" font-size="7" text-anchor="middle" fill="#222">ns</text>
<text x="612.7" y="520.5" font-size="6.2" text-anchor="middle" transform="rotate(-90 612.7 520.5)">The ratio of TGFβ1<tspan font-size="3.6" dy="-2">+</tspan><tspan dy="2"> in</tspan></text>
<text x="620" y="520.5" font-size="6.2" text-anchor="middle" transform="rotate(-90 620 520.5)">S100A8/A9<tspan font-size="3.6" dy="-2">+</tspan><tspan dy="2"> macrophage</tspan></text>
<text x="652.5" y="561.5" font-size="5.4" text-anchor="end" transform="rotate(-45 652.5 561.5)">AhR<tspan font-size="3.3" dy="-1.8">fl/fl</tspan><tspan dy="1.8">Lyz-cre</tspan></text>
<text x="672.5" y="561.5" font-size="5.4" text-anchor="end" transform="rotate(-45 672.5 561.5)">AhR<tspan font-size="3.3" dy="-1.8">fl/fl</tspan><tspan dy="1.8">Lyz-cre+IPA</tspan></text>
<text x="12.6" y="615.4" font-size="19.5" font-weight="bold">G</text>
<text x="40.6" y="614.9" font-size="7.3" fill="#222">IPA</text>
<text x="39.8" y="626.1" font-size="7.3" fill="#222">AhR</text>
<text x="81.8" y="614.9" font-size="7.3" text-anchor="middle" fill="#222">-</text>
<text x="81.8" y="626.1" font-size="7.3" text-anchor="middle" fill="#222">+</text>
<text x="108" y="614.9" font-size="7.3" text-anchor="middle" fill="#222">+</text>
<text x="108" y="626.1" font-size="7.3" text-anchor="middle" fill="#222">+</text>
<text x="137.2" y="614.9" font-size="7.3" text-anchor="middle" fill="#222">-</text>
<text x="137.2" y="626.1" font-size="7.3" text-anchor="middle" fill="#222">-</text>
<text x="166.4" y="614.9" font-size="7.3" text-anchor="middle" fill="#222">+</text>
<text x="166.4" y="626.1" font-size="7.3" text-anchor="middle" fill="#222">-</text>
<text x="186.6" y="635.5" font-size="7.3" fill="#222">kDa</text>
<defs><filter id="bl" x="-30%" y="-80%" width="160%" height="260%"><feGaussianBlur stdDeviation="1.1"/></filter><filter id="noise" x="0" y="0" width="100%" height="100%"><feTurbulence type="fractalNoise" baseFrequency="0.9" numOctaves="2" seed="3"/><feColorMatrix type="matrix" values="0 0 0 0 0  0 0 0 0 0  0 0 0 0 0  0 0 0 -1.6 1.05"/></filter><linearGradient id="blotbg" x1="0" y1="0" x2="0" y2="1"><stop offset="0" stop-color="#C4C4C4"/><stop offset="0.5" stop-color="#D6D6D6"/><stop offset="1" stop-color="#E0E0E0"/></linearGradient><linearGradient id="blotbg3" x1="0" y1="0" x2="0" y2="1"><stop offset="0" stop-color="#D0D0D0"/><stop offset="0.5" stop-color="#E4E4E4"/><stop offset="1" stop-color="#EAEAEA"/></linearGradient></defs>
<rect x="62.8" y="638.2" width="122.8" height="16.7" fill="url(#blotbg)"/>
<rect x="62.8" y="638.2" width="122.8" height="16.7" fill="#000" filter="url(#noise)" opacity="0.25"/>
<text x="59.9" y="649.15" font-size="7.2" text-anchor="end" fill="#222">S100A9</text>
<text x="187.7" y="649.95" font-size="7" fill="#222">14</text>
<rect x="62.8" y="661.6" width="122.8" height="17.1" fill="url(#blotbg)"/>
<rect x="62.8" y="661.6" width="122.8" height="17.1" fill="#000" filter="url(#noise)" opacity="0.25"/>
<text x="59.9" y="672.75" font-size="7.2" text-anchor="end" fill="#222">S100A8</text>
<text x="187.7" y="673.55" font-size="7" fill="#222">11</text>
<rect x="62.8" y="684.3" width="122.8" height="17.1" fill="url(#blotbg3)"/>
<rect x="62.8" y="684.3" width="122.8" height="17.1" fill="#000" filter="url(#noise)" opacity="0.1"/>
<text x="59.9" y="695.45" font-size="7.2" text-anchor="end" fill="#222">GAPDH</text>
<text x="187.7" y="696.25" font-size="7" fill="#222">36</text>
<g filter="url(#bl)">
<rect x="69" y="641.6" width="24" height="6.8" rx="3.4" fill="#050505" opacity="1.0" transform="rotate(0 81 645)"/>
<rect x="70" y="641.1" width="11" height="7.4" rx="3.7" fill="#050505" opacity="1.0" transform="rotate(0 75.5 644.8)"/>
<rect x="98" y="642.6" width="9.5" height="4.4" rx="2.2" fill="#050505" opacity="0.8" transform="rotate(0 102.75 644.8)"/>
<rect x="112" y="643.2" width="10" height="4.4" rx="2.2" fill="#050505" opacity="0.75" transform="rotate(0 117 645.4)"/>
<rect x="127.6" y="640.3" width="24.4" height="9.4" rx="4.7" fill="#050505" opacity="1.0" transform="rotate(0 139.8 645)"/>
<rect x="154.3" y="641" width="27.9" height="10" rx="5" fill="#050505" opacity="1" transform="rotate(3 168.25 646)"/>
<rect x="65.8" y="665" width="28.4" height="6.6" rx="3.3" fill="#050505" opacity="1.0" transform="rotate(0 80 668.3)"/>
<rect x="95.3" y="666.2" width="9.5" height="5.6" rx="2.8" fill="#050505" opacity="0.85" transform="rotate(0 100.05 669)"/>
<rect x="107.4" y="667.8" width="15.2" height="4.4" rx="2.2" fill="#050505" opacity="0.6" transform="rotate(0 115 670)"/>
<rect x="125.6" y="666.2" width="25.6" height="6.6" rx="3.3" fill="#050505" opacity="1.0" transform="rotate(0 138.4 669.5)"/>
<rect x="153.2" y="666.8" width="13.6" height="6" rx="3" fill="#050505" opacity="1.0" transform="rotate(0 160 669.8)"/>
<rect x="168.3" y="666.9" width="15.9" height="6.8" rx="3.4" fill="#050505" opacity="1.0" transform="rotate(0 176.25 670.3)"/>
<rect x="67.6" y="687.9" width="26.6" height="8.6" rx="4.3" fill="#050505" opacity="1.0" transform="rotate(0 80.9 692.2)"/>
<rect x="96" y="687.9" width="26.6" height="8.6" rx="4.3" fill="#050505" opacity="1.0" transform="rotate(0 109.3 692.2)"/>
<rect x="125.5" y="687.9" width="26.5" height="8.6" rx="4.3" fill="#050505" opacity="1.0" transform="rotate(0 138.75 692.2)"/>
<rect x="154" y="688" width="27.5" height="8.4" rx="4.2" fill="#050505" opacity="1.0" transform="rotate(0 167.75 692.2)"/>
</g>
<rect x="62.8" y="638.2" width="122.8" height="16.7" fill="none" stroke="#333" stroke-width="0.6"/>
<rect x="62.8" y="661.6" width="122.8" height="17.1" fill="none" stroke="#333" stroke-width="0.6"/>
<rect x="62.8" y="684.3" width="122.8" height="17.1" fill="none" stroke="#333" stroke-width="0.6"/>
<text x="201.6" y="610.4" font-size="19.5" font-weight="bold">H</text>
<text x="260.9" y="604.2" font-size="7.9" text-anchor="middle" fill="#222">S100A8</text>
<line x1="234.6" y1="614.2" x2="234.6" y2="696" stroke="#333" stroke-width="0.9"/>
<line x1="234.6" y1="696" x2="288.3" y2="696" stroke="#333" stroke-width="0.9"/>
<line x1="233.3" y1="614.2" x2="234.6" y2="614.2" stroke="#333" stroke-width="0.81"/>
<text x="232.3" y="616.22" font-size="5.6" text-anchor="end" fill="#333">4</text>
<line x1="233.3" y1="635.1" x2="234.6" y2="635.1" stroke="#333" stroke-width="0.81"/>
<text x="232.3" y="637.12" font-size="5.6" text-anchor="end" fill="#333">3</text>
<line x1="233.3" y1="655.6" x2="234.6" y2="655.6" stroke="#333" stroke-width="0.81"/>
<text x="232.3" y="657.62" font-size="5.6" text-anchor="end" fill="#333">2</text>
<line x1="233.3" y1="675.7" x2="234.6" y2="675.7" stroke="#333" stroke-width="0.81"/>
<text x="232.3" y="677.72" font-size="5.6" text-anchor="end" fill="#333">1</text>
<line x1="233.3" y1="696" x2="234.6" y2="696" stroke="#333" stroke-width="0.81"/>
<text x="232.3" y="698.02" font-size="5.6" text-anchor="end" fill="#333">0</text>
<rect x="242.3" y="676" width="15.3" height="20" fill="#9A9A9A"/>
<line x1="249.95" y1="675.2" x2="249.95" y2="676" stroke="#9A9A9A" stroke-width="0.7"/>
<line x1="246.58" y1="675.2" x2="253.32" y2="675.2" stroke="#9A9A9A" stroke-width="0.7"/>
<rect x="265.3" y="639" width="15.3" height="57" fill="#5252F2"/>
<line x1="272.95" y1="628.7" x2="272.95" y2="639" stroke="#5252F2" stroke-width="0.7"/>
<line x1="269.58" y1="628.7" x2="276.32" y2="628.7" stroke="#5252F2" stroke-width="0.7"/>
<line x1="249.95" y1="696" x2="249.95" y2="697.6" stroke="#222" stroke-width="0.5"/>
<line x1="272.95" y1="696" x2="272.95" y2="697.6" stroke="#222" stroke-width="0.5"/>
<line x1="249.9" y1="620" x2="269.1" y2="620" stroke="#222" stroke-width="0.9"/>
<text x="259.5" y="621.6" font-size="10.5" text-anchor="middle" fill="#222" font-weight="bold">**</text>
<text x="249.95" y="706.6" font-size="6.7" text-anchor="middle" fill="#222">IgG</text>
<text x="272.95" y="706.6" font-size="6.7" text-anchor="middle" fill="#222">p65</text>
<text x="222.2" y="660.4" font-size="6.7" text-anchor="middle" fill="#222" transform="rotate(-90 222.2 660.4)">Relative DNA expression</text>
<text x="343.2" y="604.2" font-size="7.9" text-anchor="middle" fill="#222">S100A9</text>
<line x1="316.4" y1="614.2" x2="316.4" y2="696" stroke="#333" stroke-width="0.9"/>
<line x1="316.4" y1="696" x2="370.1" y2="696" stroke="#333" stroke-width="0.9"/>
<line x1="315.1" y1="614.2" x2="316.4" y2="614.2" stroke="#333" stroke-width="0.81"/>
<text x="314.1" y="616.22" font-size="5.6" text-anchor="end" fill="#333">4</text>
<line x1="315.1" y1="635.1" x2="316.4" y2="635.1" stroke="#333" stroke-width="0.81"/>
<text x="314.1" y="637.12" font-size="5.6" text-anchor="end" fill="#333">3</text>
<line x1="315.1" y1="655.6" x2="316.4" y2="655.6" stroke="#333" stroke-width="0.81"/>
<text x="314.1" y="657.62" font-size="5.6" text-anchor="end" fill="#333">2</text>
<line x1="315.1" y1="675.7" x2="316.4" y2="675.7" stroke="#333" stroke-width="0.81"/>
<text x="314.1" y="677.72" font-size="5.6" text-anchor="end" fill="#333">1</text>
<line x1="315.1" y1="696" x2="316.4" y2="696" stroke="#333" stroke-width="0.81"/>
<text x="314.1" y="698.02" font-size="5.6" text-anchor="end" fill="#333">0</text>
<rect x="324" y="676" width="15.9" height="20" fill="#9A9A9A"/>
<line x1="331.95" y1="675.2" x2="331.95" y2="676" stroke="#9A9A9A" stroke-width="0.7"/>
<line x1="328.45" y1="675.2" x2="335.45" y2="675.2" stroke="#9A9A9A" stroke-width="0.7"/>
<rect x="347.8" y="631.5" width="15.8" height="64.5" fill="#5252F2"/>
<line x1="355.7" y1="629" x2="355.7" y2="631.5" stroke="#5252F2" stroke-width="0.7"/>
<line x1="352.22" y1="629" x2="359.18" y2="629" stroke="#5252F2" stroke-width="0.7"/>
<line x1="331.95" y1="696" x2="331.95" y2="697.6" stroke="#222" stroke-width="0.5"/>
<line x1="355.7" y1="696" x2="355.7" y2="697.6" stroke="#222" stroke-width="0.5"/>
<line x1="332.2" y1="620" x2="351.6" y2="620" stroke="#222" stroke-width="0.9"/>
<text x="341.9" y="621.6" font-size="10.5" text-anchor="middle" fill="#222" font-weight="bold">***</text>
<text x="331.95" y="706.6" font-size="6.7" text-anchor="middle" fill="#222">IgG</text>
<text x="355.7" y="706.6" font-size="6.7" text-anchor="middle" fill="#222">p65</text>
<text x="304.2" y="660.4" font-size="6.7" text-anchor="middle" fill="#222" transform="rotate(-90 304.2 660.4)">Relative DNA expression</text>
<text x="377.8" y="608.7" font-size="19.5" font-weight="bold">I</text>
<text x="406.3" y="605.6" font-size="8" fill="#111">WT</text>
<text x="404.2" y="618.8" font-size="8" fill="#111">MUT</text>
<text x="441.4" y="605.6" font-size="8" fill="#111" textLength="58.8" lengthAdjust="spacingAndGlyphs">TGTAATTCCCA</text>
<text x="440.7" y="618.8" font-size="8" fill="#111" textLength="62.8" lengthAdjust="spacingAndGlyphs">CTAGGCAGTAG</text>
<line x1="432" y1="602.8" x2="440.4" y2="602.8" stroke="#BBBBBB" stroke-width="0.4" stroke-dasharray="0.8 0.6"/>
<line x1="501.2" y1="602.8" x2="508.9" y2="602.8" stroke="#BBBBBB" stroke-width="0.4" stroke-dasharray="0.8 0.6"/>
<line x1="432" y1="616" x2="440.4" y2="616" stroke="#BBBBBB" stroke-width="0.4" stroke-dasharray="0.8 0.6"/>
<line x1="505.2" y1="616" x2="508.9" y2="616" stroke="#BBBBBB" stroke-width="0.4" stroke-dasharray="0.8 0.6"/>
<text x="550.1" y="607.6" font-size="8" fill="#111">WT</text>
<text x="548" y="620.5" font-size="8" fill="#111">MUT</text>
<text x="585" y="607.6" font-size="8" fill="#111" textLength="55.3" lengthAdjust="spacingAndGlyphs">GGGAATTTCA</text>
<text x="584.3" y="620.5" font-size="8" fill="#111" textLength="57.6" lengthAdjust="spacingAndGlyphs">ACTGCAGCTG</text>
<line x1="576" y1="604.8" x2="584" y2="604.8" stroke="#BBBBBB" stroke-width="0.4" stroke-dasharray="0.8 0.6"/>
<line x1="641.3" y1="604.8" x2="648" y2="604.8" stroke="#BBBBBB" stroke-width="0.4" stroke-dasharray="0.8 0.6"/>
<line x1="576" y1="617.7" x2="584" y2="617.7" stroke="#BBBBBB" stroke-width="0.4" stroke-dasharray="0.8 0.6"/>
<line x1="643.6" y1="617.7" x2="648" y2="617.7" stroke="#BBBBBB" stroke-width="0.4" stroke-dasharray="0.8 0.6"/>
<text x="456.8" y="630.5" font-size="7.2" text-anchor="middle" fill="#222">S100A8</text>
<line x1="417.6" y1="632.7" x2="417.6" y2="706.7" stroke="#333" stroke-width="0.8"/>
<line x1="417.6" y1="706.7" x2="492.5" y2="706.7" stroke="#333" stroke-width="0.8"/>
<line x1="416.3" y1="632.7" x2="417.6" y2="632.7" stroke="#333" stroke-width="0.72"/>
<text x="415.3" y="634.72" font-size="5.6" text-anchor="end" fill="#333">3</text>
<line x1="416.3" y1="657.5" x2="417.6" y2="657.5" stroke="#333" stroke-width="0.72"/>
<text x="415.3" y="659.52" font-size="5.6" text-anchor="end" fill="#333">2</text>
<line x1="416.3" y1="681.9" x2="417.6" y2="681.9" stroke="#333" stroke-width="0.72"/>
<text x="415.3" y="683.92" font-size="5.6" text-anchor="end" fill="#333">1</text>
<line x1="416.3" y1="706.7" x2="417.6" y2="706.7" stroke="#333" stroke-width="0.72"/>
<text x="415.3" y="708.72" font-size="5.6" text-anchor="end" fill="#333">0</text>
<rect x="423.8" y="681.9" width="11.2" height="24.8" fill="#9A9A9A"/>
<line x1="429.4" y1="679.3" x2="429.4" y2="681.9" stroke="#9A9A9A" stroke-width="0.7"/>
<line x1="426.94" y1="679.3" x2="431.86" y2="679.3" stroke="#9A9A9A" stroke-width="0.7"/>
<rect x="438.9" y="652.8" width="11.2" height="53.9" fill="#5252F2"/>
<line x1="444.5" y1="647.6" x2="444.5" y2="652.8" stroke="#5252F2" stroke-width="0.7"/>
<line x1="442.04" y1="647.6" x2="446.96" y2="647.6" stroke="#5252F2" stroke-width="0.7"/>
<rect x="460" y="683.6" width="11.2" height="23.1" fill="#9A9A9A"/>
<line x1="465.6" y1="680.1" x2="465.6" y2="683.6" stroke="#9A9A9A" stroke-width="0.7"/>
<line x1="463.14" y1="680.1" x2="468.06" y2="680.1" stroke="#9A9A9A" stroke-width="0.7"/>
<rect x="475.2" y="680.9" width="11.4" height="25.8" fill="#5252F2"/>
<line x1="480.9" y1="680" x2="480.9" y2="680.9" stroke="#5252F2" stroke-width="0.7"/>
<line x1="478.39" y1="680" x2="483.41" y2="680" stroke="#5252F2" stroke-width="0.7"/>
<line x1="437" y1="706.7" x2="437" y2="708.3" stroke="#222" stroke-width="0.5"/>
<line x1="473.4" y1="706.7" x2="473.4" y2="708.3" stroke="#222" stroke-width="0.5"/>
<line x1="431.2" y1="640.4" x2="445.1" y2="640.4" stroke="#222" stroke-width="0.9"/>
<text x="438.15" y="642" font-size="10" text-anchor="middle" fill="#222" font-weight="bold">***</text>
<line x1="465.5" y1="640.4" x2="479.1" y2="640.4" stroke="#444" stroke-width="0.9"/>
<text x="472.3" y="638.3" font-size="6.2" text-anchor="middle" fill="#444">ns</text>
<text x="434.2" y="714.4" font-size="5.4" text-anchor="middle" fill="#222">WT</text>
<text x="471.9" y="714.4" font-size="5.4" text-anchor="middle" fill="#222">MUT</text>
<text x="407.6" y="671.3" font-size="6.3" text-anchor="middle" fill="#222" transform="rotate(-90 407.6 671.3)">Relative luciferase activity</text>
<rect x="501.5" y="636" width="7.4" height="3.7" fill="#9A9A9A"/>
<text x="511.9" y="639.8" font-size="5.8" fill="#222">DMSO</text>
<rect x="501.5" y="645.9" width="7.4" height="3.7" fill="#5252F2"/>
<text x="511.9" y="649.7" font-size="5.8" fill="#222">LPS</text>
<text x="603.9" y="629.8" font-size="7.2" text-anchor="middle" fill="#222">S100A9</text>
<line x1="566.4" y1="632.7" x2="566.4" y2="707.9" stroke="#333" stroke-width="0.8"/>
<line x1="566.4" y1="707.9" x2="641.6" y2="707.9" stroke="#333" stroke-width="0.8"/>
<line x1="565.1" y1="632.7" x2="566.4" y2="632.7" stroke="#333" stroke-width="0.72"/>
<text x="564.1" y="634.72" font-size="5.6" text-anchor="end" fill="#333">2.0</text>
<line x1="565.1" y1="651.6" x2="566.4" y2="651.6" stroke="#333" stroke-width="0.72"/>
<text x="564.1" y="653.62" font-size="5.6" text-anchor="end" fill="#333">1.5</text>
<line x1="565.1" y1="670.2" x2="566.4" y2="670.2" stroke="#333" stroke-width="0.72"/>
<text x="564.1" y="672.22" font-size="5.6" text-anchor="end" fill="#333">1.0</text>
<line x1="565.1" y1="689.3" x2="566.4" y2="689.3" stroke="#333" stroke-width="0.72"/>
<text x="564.1" y="691.32" font-size="5.6" text-anchor="end" fill="#333">0.5</text>
<line x1="565.1" y1="707.9" x2="566.4" y2="707.9" stroke="#333" stroke-width="0.72"/>
<text x="564.1" y="709.92" font-size="5.6" text-anchor="end" fill="#333">0.0</text>
<rect x="572.1" y="670" width="10.7" height="37.9" fill="#9A9A9A"/>
<line x1="577.45" y1="666.5" x2="577.45" y2="670" stroke="#9A9A9A" stroke-width="0.7"/>
<line x1="575.1" y1="666.5" x2="579.8" y2="666.5" stroke="#9A9A9A" stroke-width="0.7"/>
<rect x="587.5" y="649.1" width="10.6" height="58.8" fill="#5252F2"/>
<line x1="592.8" y1="648.5" x2="592.8" y2="649.1" stroke="#5252F2" stroke-width="0.7"/>
<line x1="590.47" y1="648.5" x2="595.13" y2="648.5" stroke="#5252F2" stroke-width="0.7"/>
<rect x="609.3" y="669" width="10.7" height="38.9" fill="#9A9A9A"/>
<line x1="614.65" y1="667.5" x2="614.65" y2="669" stroke="#9A9A9A" stroke-width="0.7"/>
<line x1="612.3" y1="667.5" x2="617" y2="667.5" stroke="#9A9A9A" stroke-width="0.7"/>
<rect x="624.7" y="667" width="10.7" height="40.9" fill="#5252F2"/>
<line x1="630.05" y1="666" x2="630.05" y2="667" stroke="#5252F2" stroke-width="0.7"/>
<line x1="627.7" y1="666" x2="632.4" y2="666" stroke="#5252F2" stroke-width="0.7"/>
<line x1="584.9" y1="707.9" x2="584.9" y2="709.5" stroke="#222" stroke-width="0.5"/>
<line x1="622.3" y1="707.9" x2="622.3" y2="709.5" stroke="#222" stroke-width="0.5"/>
<line x1="579.5" y1="640.9" x2="593.2" y2="640.9" stroke="#222" stroke-width="0.9"/>
<text x="586.35" y="642.4" font-size="10" text-anchor="middle" fill="#222" font-weight="bold">***</text>
<line x1="614.3" y1="640.9" x2="627.9" y2="640.9" stroke="#777" stroke-width="0.9"/>
<text x="621.1" y="638.7" font-size="6.2" text-anchor="middle" fill="#777">ns</text>
<text x="584.5" y="717.2" font-size="5.4" text-anchor="middle" fill="#222">WT</text>
<text x="622.2" y="717.2" font-size="5.4" text-anchor="middle" fill="#222">MUT</text>
<text x="549.5" y="671.3" font-size="6.3" text-anchor="middle" fill="#222" transform="rotate(-90 549.5 671.3)">Relative luciferase activity</text>
<rect x="651" y="636" width="7.9" height="3.7" fill="#9A9A9A"/>
<text x="662.7" y="639.8" font-size="5.8" fill="#222">DMSO</text>
<rect x="651" y="645.9" width="7.9" height="3.7" fill="#5252F2"/>
<text x="662.7" y="649.7" font-size="5.8" fill="#222">LPS</text>
<text x="13.4" y="716" font-size="19.5" font-weight="bold">J</text>
<text x="94.6" y="729.5" font-size="9.2" text-anchor="middle" fill="#111" textLength="20" lengthAdjust="spacingAndGlyphs">CCl<tspan font-size="0.62em">4</tspan></text>
<text x="194.9" y="729.5" font-size="9.2" text-anchor="middle" fill="#111" textLength="39" lengthAdjust="spacingAndGlyphs">CCl<tspan font-size="0.62em">4</tspan>+IPA</text>
<text x="295.2" y="729.5" font-size="9.2" text-anchor="middle" fill="#111" textLength="62" lengthAdjust="spacingAndGlyphs">Sh-S100A8/A9</text>
<text x="389.7" y="729.5" font-size="9.2" text-anchor="middle" fill="#111" textLength="81.3" lengthAdjust="spacingAndGlyphs">Sh-S100A8/A9+IPA</text>
<text x="40.7" y="774.4" font-size="9.2" text-anchor="middle" fill="#111" transform="rotate(-90 40.7 774.4)">Sirius Red</text>
<text x="40.7" y="859" font-size="9.2" text-anchor="middle" fill="#111" transform="rotate(-90 40.7 859)">COL1A1</text>
<text x="40.7" y="945.8" font-size="9.2" text-anchor="middle" fill="#111" transform="rotate(-90 40.7 945.8)">α-SMA</text>
<defs><clipPath id="tj101"><rect x="44.4" y="730.8" width="95.6" height="76.7"/></clipPath></defs>
<g clip-path="url(#tj101)">
<rect x="44.4" y="730.8" width="95.6" height="76.7" fill="#F8EEA6"/>
<ellipse cx="93.8" cy="774.6" rx="8.4" ry="7.7" fill="#F5E596" opacity="0.18"/>
<ellipse cx="109.9" cy="794.8" rx="12.3" ry="14.9" fill="#F5E596" opacity="0.18"/>
<ellipse cx="113.4" cy="745.4" rx="15.8" ry="9.5" fill="#F5E596" opacity="0.18"/>
<ellipse cx="61.8" cy="791.1" rx="21.5" ry="8.3" fill="#F5E596" opacity="0.18"/>
<ellipse cx="52.4" cy="777.1" rx="18.2" ry="8.8" fill="#F5E596" opacity="0.18"/>
<path d="M46.3 789.7L46.1 790.6L46.7 791L48.2 790.9L47.8 791.9M47.8 791.9L46.7 796.2L42.2 797.9L41 802.2L37.6 804.6M46.3 789.7L45.2 789.6L47.6 789.5L45.3 789.4L46.3 789.3M46.3 789.3L43 785.4L40.6 780.9L37.3 776.9L34.7 772.5M46.3 789.3L47.7 787.2L47.9 784.5L49.9 782.7L50.8 780.3M50.8 780.3L48.4 778L46 775.7L45.5 772L42.8 769.8M34.7 772.5L36.1 770.2L38.8 772L40.3 770L42.3 769.7M42.3 769.7L42.3 770.3L42.4 770.3L43 768.4L42.8 769.8M64.8 776.7L64.1 773.8L64.1 770.7L62.8 768L62 765.1M64.8 776.7L61.2 777L57.9 779L53.8 777.6L50.8 780.3M42.8 769.8L47.3 767.3L52.4 767.5L57.4 767L62 765.1M170.7 767L162.5 768.2L154.5 769.7L147 773.6L138.7 773.9M138.7 773.9L138.1 778L137.8 782.1L137.4 786.2L137.3 790.3M160.4 802.1L154.9 798.6L148.4 797.1L143 793.5L137.3 790.3M42.3 769.7L43 766.2L43.2 762.5L42.6 758.8L43.9 755.3M62 765.1L64 765.6L63.4 765.4L61 764.7L62.1 764.9M62.1 764.9L58.4 762.1L54.1 760.4L49.9 758.4L46.7 754.9M43.9 755.3L44.5 755L45 753.1L46.1 755.4L46.7 754.9M43.9 755.3L38.6 751.8L32.8 749L27.1 746L23.5 740.3M23.5 740.3L27.1 741.2L30.3 739L34 740.5L37.2 738.4M75.9 799.3L73.3 797.4L71.9 794.5L70 791.9L67.2 790.2M78.6 804L74.5 812.3L72.6 821.7L68.5 830L63.2 837.8M56.5 796.3L57.2 801.2L57.1 806L54.4 810.6L54.6 815.5M56.5 796.3L58.5 793.4L62 793.5L64.2 791.2L67.2 790.2M54.6 815.5L57 821L56.8 827.5L61.5 832.1L63.2 837.8M68.5 781.4L72.4 780.8L75.8 778.6L79.6 777.6L83.6 777.2M68.5 781.4L68.2 783.6L67.2 785.7L67.4 788L67.2 790.2M85.6 787.5L84.7 785L84.2 782.5L84.1 779.8L83.6 777.2M85.6 787.5L83.4 790.6L80 792.8L77.1 795.3L75.9 799.3M96.9 802.1L97.3 801.7L97.2 801.8L97.3 801.7L96.8 802.1M96.8 802.1L92.2 801.7L87.8 803.5L83.3 804.9L78.6 804M37.6 804.6L41.7 807.7L45.5 811L50.6 812.5L54.6 815.5M64.8 776.7L65.2 778.3L65.8 779.7L67.3 780.4L68.5 781.4M138.9 804.1L136.5 804L134.4 802.9L132.3 801.9L130.1 801.2M126 805.4L125.6 809.2L122.7 811.9L121.7 815.5L120.1 818.7M120.1 818.7L120.7 824.3L122.3 829.7L121.5 835.4L123.4 840.7M123.4 840.7L127.2 833.9L133 828.6L137.7 822.4L141 815.2M130.4 799.2L131.5 796.5L134 794.9L134.9 792L137.3 790.3M130.4 799.2L129.7 799.6L130.3 800.2L128.3 800.4L130.1 801.2M160.4 802.1L155.1 803.4L149.5 801.7L144.2 802.8L138.9 804.1M165.3 802.9L159.7 806.9L153.5 809.8L147.2 812.5L141 815.2M96.9 802.1L98.7 801L99.8 802.3L100.9 803.2L102.2 803.8M102.2 803.8L105.6 808.7L111 811.4L114.8 816L120.1 818.7M46.7 754.9L49.3 753.7L49.3 750.2L52.1 749.2L53.7 747.2M50.9 740.2L52.3 741.8L52.9 743.5L53.3 745.4L53.7 747.2M62.1 764.9L65.1 763.9L64.9 760.8L67.7 759.7L67.8 756.6M65.3 752.9L62.3 751.7L59 751.2L57 747.8L53.7 747.2M88.3 771.2L85.5 767.1L80.3 764.8L78.6 759.9L76.3 755.4M67.8 756.6L69.8 755.3L71.7 753.7L74.3 756.3L76.3 755.4M96.9 799.5L97.9 796.5L100.4 794.3L100.6 790.9L102.1 788.2M96.9 799.5L96.3 798.2L95.7 796.9L93 797.2L93.7 795M93.7 795L93.2 792.5L93.1 790L91.1 787.8L92.3 785.1M102.1 788.2L100 786.3L96.8 787.9L94.8 785.7L92.3 785.1M85.6 787.5L87.8 789.2L90.5 790.3L91.5 793.3L93.7 795M87.8 773.6L88.6 776.6L89.5 779.6L90 782.6L92.3 785.1M105.1 782.4L104.1 782.4L105.8 782.9L105.2 783L104.9 783.1M104.9 783.1L105.4 785.1L102.7 785.2L101.4 786.1L102.1 788.2M117.1 786.3L118.4 786.8L119.6 786.8L120.9 786.9L122.1 786.4M122.4 787.9L122.3 791.4L118.8 791.7L116.1 792.7L115.2 795.5M115.2 795.5L114.8 795.3L114.3 795.8L113.8 796.8L113.6 795.2M113.6 795.2L114.7 794.2L113.4 794L113.5 793.3L112.9 792.9M105.7 781.9L109.3 781.2L111.7 783.5L113.9 786.2L117.1 786.3M105.7 781.9L106.2 783L104.7 781.2L104.9 781.8L105.1 782.4M104.9 783.1L107.1 785.4L108.8 788.1L110.9 790.5L112.9 792.9M129 770.9L127.1 774.6L125.2 778.4L123.1 782.1L122.1 786.4M129 770.9L128.8 769.7L127.5 769.7L126.4 769.5L126.2 768.3M105.7 781.9L109.7 780.3L109.4 775.7L110.6 772.1L114 770M126.2 768.3L122.9 767.5L120.2 770.1L117.1 770.3L114 770M138.7 773.9L136.8 771.6L133.5 773.5L131.5 771.6L129 770.9M126 805.4L123.2 803.1L120.1 801L117.6 798.3L115.2 795.5M102.2 803.8L104.2 800.6L107.3 798.6L111.1 797.8L113.6 795.2M114 770L113.8 769.9L114 769.5L112.7 771L113.5 769.7M98.5 762.6L98.9 763.2L98.3 760.8L98.9 761.8L99.3 762.3M113.5 769.7L112 762.7L111 755.7L108 749.1L107 742.1M99.3 762.3L100.4 756.9L105.1 752.9L104.7 747L107 742.1M125.9 757.3L124.5 756.1L124.3 754.4L124.2 752.7L123.6 751.2M125.9 757.3L131.3 756L135.7 752L141.2 750.9L146.5 749.4M123.6 751.2L129.2 750.5L133.1 747L137.2 743.7L141.5 740.8M146.5 749.4L144.5 747.7L143.2 745.6L143.5 742.6L141.5 740.8M170.7 767L164.6 762.7L160.1 756.1L152.7 753.6L146.5 749.4M113 738.6L111.9 740.1L109.7 739.6L109 741.9L107 741.8M118.8 723.8L111.7 725.3L104.6 726.3L97.2 725.2L90.1 726.6M106.4 741.8L106.5 742.5L106.7 742.2L106.8 742.9L107 741.8M107 742.1L108.9 742.5L106.5 741.8L108.3 742.2L107 741.8M123.6 751.2L121.5 747.7L117.3 745.8L115.5 742L113 738.6M136.6 689.4L130.4 697.1L126.9 706.2L122.7 714.9L118.8 723.8M85.3 744.5L85.7 745.5L84 745.1L85.1 746.5L84 746.5M82.6 747.7L77.8 745.5L74 741.8L69.7 738.9L65.1 736.4M82.6 747.7L82.8 747.2L83.5 747.3L83.1 746.1L84 746.5M65.1 736.4L63.6 734.8L64 732.7L62.2 731.2L63.2 728.9M74.6 715.8L74.1 718.1L76.6 718.4L76.3 720.6L78.3 721.2M74.6 715.8L72.8 719.9L69 722.4L65.9 725.4L63.2 728.9M98.5 762.6L95.1 758.3L91.2 754.5L87.6 750.6L84 746.5M106.4 741.8L101 741.9L95.9 743.9L90.9 746.3L85.3 744.5M90.1 726.6L87.5 724.5L84.3 723.7L81.2 722.6L78.3 721.2M76.3 755.4L78.1 753.6L78.8 751L81.5 750L82.6 747.7M65.3 752.9L65.1 748.8L64.5 744.6L65.7 740.5L65.1 736.4M50.9 740.2L54.7 738.1L57.3 734.8L59.4 730.9L63.2 728.9M49.9 725.9L53.4 725.8L56.9 726L60.3 726.2L63.2 728.9" fill="none" stroke="#EC8C80" stroke-width="0.45" stroke-opacity="0.6" stroke-dasharray="1.1 0.5 0.5 0.5"/>
<g fill="#FFFCF2"><ellipse cx="64.8" cy="776.7" rx="1.7" ry="1" transform="rotate(63 64.8 776.7)"/><ellipse cx="46.3" cy="789.7" rx="1.8" ry="1" transform="rotate(78 46.3 789.7)"/><ellipse cx="46.3" cy="789.3" rx="2.9" ry="1.5" transform="rotate(151 46.3 789.3)"/><ellipse cx="50.8" cy="780.3" rx="1.5" ry="0.8" transform="rotate(115 50.8 780.3)"/><ellipse cx="62" cy="765.1" rx="1.6" ry="0.9" transform="rotate(143 62 765.1)"/><ellipse cx="96.9" cy="802.1" rx="2.5" ry="1.3" transform="rotate(66 96.9 802.1)"/><ellipse cx="96.8" cy="802.1" rx="1.5" ry="0.8" transform="rotate(137 96.8 802.1)"/><ellipse cx="76.3" cy="755.4" rx="2.2" ry="1.2" transform="rotate(139 76.3 755.4)"/><ellipse cx="130.4" cy="799.2" rx="2.1" ry="1.2" transform="rotate(95 130.4 799.2)"/><ellipse cx="137.3" cy="790.3" rx="0.7" ry="0.5" transform="rotate(113 137.3 790.3)"/><ellipse cx="46.7" cy="754.9" rx="2.4" ry="1.3" transform="rotate(69 46.7 754.9)"/><ellipse cx="85.6" cy="787.5" rx="1.3" ry="0.8" transform="rotate(155 85.6 787.5)"/><ellipse cx="83.6" cy="777.2" rx="2.1" ry="1.2" transform="rotate(48 83.6 777.2)"/><ellipse cx="75.9" cy="799.3" rx="1.9" ry="1.1" transform="rotate(102 75.9 799.3)"/><ellipse cx="78.6" cy="804" rx="0.9" ry="0.6" transform="rotate(21 78.6 804)"/><ellipse cx="56.5" cy="796.3" rx="2" ry="1.1" transform="rotate(71 56.5 796.3)"/><ellipse cx="126.2" cy="768.3" rx="1" ry="0.7" transform="rotate(91 126.2 768.3)"/><ellipse cx="113.5" cy="769.7" rx="2" ry="1.1" transform="rotate(41 113.5 769.7)"/><ellipse cx="138.9" cy="804.1" rx="1.1" ry="0.7" transform="rotate(47 138.9 804.1)"/><ellipse cx="130.1" cy="801.2" rx="1.2" ry="0.7" transform="rotate(109 130.1 801.2)"/><ellipse cx="126" cy="805.4" rx="1.5" ry="0.9" transform="rotate(32 126 805.4)"/><ellipse cx="50.9" cy="740.2" rx="2.8" ry="1.5" transform="rotate(114 50.9 740.2)"/><ellipse cx="65.3" cy="752.9" rx="2.2" ry="1.2" transform="rotate(69 65.3 752.9)"/><ellipse cx="104.9" cy="783.1" rx="2.3" ry="1.2" transform="rotate(125 104.9 783.1)"/><ellipse cx="96.9" cy="799.5" rx="2.3" ry="1.2" transform="rotate(49 96.9 799.5)"/><ellipse cx="93.7" cy="795" rx="1.5" ry="0.9" transform="rotate(43 93.7 795)"/><ellipse cx="102.1" cy="788.2" rx="2" ry="1.1" transform="rotate(74 102.1 788.2)"/><ellipse cx="92.3" cy="785.1" rx="1.7" ry="0.9" transform="rotate(93 92.3 785.1)"/><ellipse cx="117.1" cy="786.3" rx="2.2" ry="1.2" transform="rotate(53 117.1 786.3)"/><ellipse cx="115.2" cy="795.5" rx="1.8" ry="1" transform="rotate(157 115.2 795.5)"/><ellipse cx="98.5" cy="762.6" rx="2.9" ry="1.5" transform="rotate(158 98.5 762.6)"/><ellipse cx="99.3" cy="762.3" rx="1.4" ry="0.8" transform="rotate(143 99.3 762.3)"/><ellipse cx="107" cy="742.1" rx="2.8" ry="1.5" transform="rotate(130 107 742.1)"/><ellipse cx="125.9" cy="757.3" rx="2" ry="1.1" transform="rotate(30 125.9 757.3)"/><ellipse cx="107" cy="741.8" rx="1.2" ry="0.7" transform="rotate(7 107 741.8)"/><ellipse cx="82.6" cy="747.7" rx="2.1" ry="1.1" transform="rotate(99 82.6 747.7)"/><ellipse cx="84" cy="746.5" rx="0.8" ry="0.5" transform="rotate(111 84 746.5)"/><circle cx="63.4" cy="755.3" r="0.8"/><circle cx="102.9" cy="764.7" r="0.9"/><circle cx="120.6" cy="758.3" r="0.5"/><circle cx="95.2" cy="764.2" r="0.7"/><circle cx="59.1" cy="734.2" r="0.8"/><circle cx="135.9" cy="754.5" r="0.5"/><circle cx="65.3" cy="793.4" r="0.8"/><circle cx="49.8" cy="767.6" r="0.4"/><circle cx="47.7" cy="794.1" r="0.5"/><circle cx="48.7" cy="761.7" r="0.8"/><circle cx="127.7" cy="743.4" r="0.7"/><circle cx="107.3" cy="746.7" r="0.5"/><circle cx="119.3" cy="747.5" r="0.5"/><circle cx="51.7" cy="783.4" r="0.6"/><circle cx="89" cy="754.4" r="0.8"/><circle cx="56.2" cy="792.1" r="0.8"/><circle cx="133.5" cy="771" r="0.5"/><circle cx="128.8" cy="778" r="0.5"/></g>
</g>
<text x="131.5" y="803.9" font-size="2.9" text-anchor="middle" fill="#222">20μm</text>
<rect x="128.7" y="804.5" width="5.6" height="0.9" fill="#111"/>
<defs><clipPath id="tj102"><rect x="144.5" y="730.8" width="95" height="76.7"/></clipPath></defs>
<g clip-path="url(#tj102)">
<rect x="144.5" y="730.8" width="95" height="76.7" fill="#F8EEA6"/>
<ellipse cx="201.3" cy="782.6" rx="12.2" ry="13.3" fill="#F5E596" opacity="0.18"/>
<ellipse cx="199.5" cy="792.9" rx="10.3" ry="9.1" fill="#F5E596" opacity="0.18"/>
<ellipse cx="178.5" cy="768.5" rx="14.9" ry="14.9" fill="#F5E596" opacity="0.18"/>
<ellipse cx="161.8" cy="758.5" rx="19.3" ry="9.3" fill="#F5E596" opacity="0.18"/>
<ellipse cx="193.8" cy="750.9" rx="9.8" ry="7.2" fill="#F5E596" opacity="0.18"/>
<path d="M194.9 784.6L192.7 787.1L189.2 788.4L187.1 791L185.9 794.4M194.4 777.2L191.7 777.7L190.8 774.5L188.3 774.4L186.5 773.1M185.9 794.4L183.1 793.4L180.5 792.1L179.6 788.6L176.7 787.7M359.3 770.7L347.3 769.6L335.2 769L323.1 769.4L311.1 767.9M242.9 795.5L241.2 791.6L238.4 788.6L236.2 785.1L233.4 782M207.6 798.5L204.7 794.7L201.7 791.1L198.4 787.7L194.9 784.6M185.9 794.4L185 796.9L182.6 798.7L180.9 800.8L181.3 804M181.3 804L183.5 805.3L186.4 805.7L187.6 808.3L189.4 810.1M207.6 798.5L209.8 799.4L211.7 801.1L214.3 800.8L216.6 801.6M230.4 833.2L224.2 826.5L223.6 817.4L220.6 809.2L216.6 801.6M230.4 833.2L234.8 824.2L237.6 814.7L241.3 805.4L242.9 795.5M168.3 784.6L167.4 789L170.9 792.1L170.2 796.4L172.7 799.8M168.3 784.6L170 786.2L172 786.9L174.9 785.5L176.3 787.8M176.3 787.8L174.4 790.4L173.7 793.5L175.2 797.3L172.7 799.8M167 783.2L167.6 781.9L165.5 781.1L165.2 780L166.4 778.7M167 783.2L166.7 784L167.9 783.7L167.7 784.6L168.3 784.6M186.5 773.1L185.7 772.3L185.2 771.1L183.1 772L183 770.4M176.7 787.7L176.7 787.9L176.5 787.2L176.1 784.8L176.3 787.8M183 770.4L181.8 770.3L181.2 768.8L180.1 768.6L178.8 768.9M178.8 768.9L177.8 768.7L177.8 770.7L176.5 769.9L175.8 770.4M166.4 778.7L168.7 776.6L172.1 775.7L174 773.1L175.8 770.4M166.4 778.7L163.5 777.7L160.2 778.1L157.6 775.5L154.3 776.3M175.8 770.4L170.3 767.6L164.8 765L158.6 763.9L153.2 760.8M154.3 776.3L151.9 773.1L152.2 769.2L151 765.7L150.3 762.1M153.2 760.8L152.2 760.4L151.9 761.7L151 761.6L150.3 762.1M233.7 732.2L235.2 733.9L236 735.9L237.4 737.6L237.5 740M237.5 740L238.7 741.1L239.7 739.2L240.8 739.8L241.9 739.7M260.1 719.9L256.2 725.4L249.7 728.6L246.6 734.8L241.9 739.7M232.9 731.6L233 731.9L233.5 731.6L233.5 732.1L233.7 732.2M255.3 758.3L250.2 757.6L245.4 759.7L240.3 758.9L235.4 760.7M255.3 758.3L252 753.6L248.5 749.1L244.9 744.6L241.9 739.7M235.4 760.7L233.5 757.8L232.5 754.4L231.9 750.9L230 748M230 748L231 745.2L234.6 744.9L234.9 741.4L237.5 740M311.1 767.9L297.1 766.2L283.4 761.8L268.9 762.8L255.3 758.3M216.6 801.6L216.9 801.6L215.8 801L216.7 801.3L216.7 801.2M233.4 782L233.2 782.1L233 782L232.7 782.1L232.7 781.7M232.7 781.7L228.1 786L225 791.7L220.6 796.2L216.7 801.2M232.9 731.6L230.3 731.6L227.8 733L225.1 732.4L222.5 732.9M217.5 726.8L219.5 727.7L219.6 730.2L221.4 731.2L222.5 732.9M230 748L227.8 748.3L226.6 746.5L224.6 746.4L223.2 745M222.5 732.9L222.2 735.9L222.2 739L223.1 742L223.2 745M175.7 855L177.2 842.4L176.5 829.7L175.5 817L177.5 804.4M175.7 855L175.6 842.3L173.9 829.7L173.1 817L171.2 804.5M177.5 804.4L176.4 804.4L175.2 804.6L174.1 805.1L173.1 803.9M181.3 804L180.4 804.4L179.4 804L178.4 804L177.5 804.4M171 804.5L171.2 805.3L171.1 804.4L171.3 805L171.2 804.5M172.7 799.8L173 800.8L172.2 801.9L173.3 802.8L173.1 803.9M171 804.5L165.9 804.5L160.9 805.7L155.9 806.1L150.8 806.2M167 783.2L161.3 787.7L159.2 794.9L155.1 800.6L150.8 806.2M196.3 757L193.7 757.6L192 759.5L190 760.9L187.9 762.3M196.3 757L196.4 754.4L194.4 753.3L194.5 750.7L191.7 750M191.7 750L192.2 753.5L189 755.9L188.8 759.2L187.9 762.3M194.4 777.2L196.8 776.8L198.4 775.1L200.3 773.9L202.1 772.5M183 770.4L184.5 768.6L185.2 766.2L186 763.9L187.9 762.3M199.2 758.8L200 762.2L200.9 765.6L200.8 769.2L202.1 772.5M199.2 758.8L198.5 758.3L198.2 757.2L197.3 757L196.3 757M178.8 768.9L178.3 763.8L178 758.8L174.3 754.7L173.2 749.9M191.2 745.9L190.8 747L192.5 747.8L192 748.9L191.7 750M189.5 744.2L185.6 746.2L181.5 747.5L177.3 748.5L173.2 749.9M153.2 760.8L156.6 756.8L160.5 753.4L164.5 750.1L168.6 747M173.2 749.9L171.9 749.4L171.3 747.9L169.3 748.5L168.6 747M121.7 816L125.3 811.2L128.5 806L132.6 801.5L136.5 796.8M150.8 806.2L143.7 809.3L135.9 810.1L129.1 814L121.7 816M154.3 776.3L149.4 780.9L146.1 787.1L140.3 791.1L136.5 796.8M147.3 760.9L147.9 761.4L148.8 761.6L149.6 761.7L150.3 762.1M147.3 760.9L142.8 757.1L138.2 753.4L135.4 747.8L130.1 745M129.5 744.8L129.4 745.6L129.8 744.7L129.9 745L130.1 745M230.8 775.9L231.1 776.8L231.9 777.5L230.4 778.8L231.7 779.3M231.7 779.3L227.3 781L222.4 779.3L218.2 781.5L213.6 782.1M213.6 782.1L212.1 779.3L210.8 776.3L207.2 774.8L206.1 771.7M206.1 771.7L206 771.3L206.8 772.2L207.2 772.4L206.8 771.3M233.1 763.7L232.9 766.8L231 769.6L230.8 772.8L230.8 775.9M232.7 781.7L231.3 781.6L230.4 781.3L232.6 779.6L231.7 779.3M202.1 772.5L203 771.8L204.2 772.7L204.8 770.7L206.1 771.7M233.1 763.7L230.5 763.9L227.8 764.8L225.6 762.6L223.1 762M206.8 771.3L206.3 768.6L208.8 767.9L210.2 766.4L211 764.6M211.8 730.6L209.4 731L210.5 734.2L208.3 734.8L207.3 736.3M211.8 730.6L208.2 727.1L203.4 725.4L198.7 723.6L195 720.1M207.3 736.3L205.6 735.9L204 735.3L202.1 735.6L200.5 734.7M195 720.1L195.7 724L198 727.3L199.2 731L200.5 734.7M191.8 715L192.6 716.3L193.4 717.6L195 718.3L195 720.1M217.5 726.8L216 727.6L214.7 728.8L212.8 729.1L211.8 730.6M191.8 715L190.5 718.4L187.4 720.7L186.4 724.2L184.7 727.3M184.7 727.3L186.3 731L187.8 734.7L188.6 738.7L189.8 742.5M189.8 742.5L192.6 740.6L195.5 739L197.7 736.4L200.5 734.7M209.1 743.3L211.6 743.1L212.9 744.6L213.6 746.8L215.2 747.9M209.1 743.3L205.9 742.6L203.7 743.8L202 745.9L200.1 747.8M200.1 747.8L201.1 749.3L202.5 750.5L201.5 752.6L202.5 754M215.2 747.9L215.6 748.3L213.5 748L214.1 748.5L214.9 749M223.2 745L221.4 746.1L219.1 746.2L217.6 748.4L215.2 747.9M191.2 745.9L193.3 746.7L195.4 747.9L197.7 748.4L200.1 747.8M189.8 742.5L189.6 742.9L189.4 743.3L189.2 743.7L189.5 744.2M199.2 758.8L201.9 758.9L201 756.5L201.9 755.4L202.5 754M211 764.6L210.1 762.4L209.9 760.2L210 757.9L211 755.7M223.1 762L222 758.2L218.1 756.1L217.1 752.2L214.9 749M145.9 719.5L149.9 723.7L154.4 727.4L157.6 732.4L161.9 736.5M166.2 733L165.6 733.9L164.4 734.4L164.3 735.6L164 736.7M184.7 727.3L180.1 728.8L175.3 729.5L170.9 731.8L166.2 733M130.1 745L138.3 744.1L145.9 740.7L153.8 738.1L161.9 736.5M168.6 747L168.2 744.1L165.5 742.2L165.1 739.3L164 736.7" fill="none" stroke="#EC8C80" stroke-width="0.45" stroke-opacity="0.6" stroke-dasharray="1.1 0.5 0.5 0.5"/>
<g fill="#FFFCF2"><ellipse cx="207.6" cy="798.5" rx="2.4" ry="1.3" transform="rotate(33 207.6 798.5)"/><ellipse cx="167" cy="783.2" rx="1" ry="0.6" transform="rotate(6 167 783.2)"/><ellipse cx="194.9" cy="784.6" rx="2.7" ry="1.4" transform="rotate(48 194.9 784.6)"/><ellipse cx="186.5" cy="773.1" rx="2.1" ry="1.1" transform="rotate(14 186.5 773.1)"/><ellipse cx="216.6" cy="801.6" rx="1" ry="0.6" transform="rotate(131 216.6 801.6)"/><ellipse cx="235.4" cy="760.7" rx="1.8" ry="1" transform="rotate(29 235.4 760.7)"/><ellipse cx="230" cy="748" rx="2.3" ry="1.2" transform="rotate(169 230 748)"/><ellipse cx="233.1" cy="763.7" rx="2.4" ry="1.3" transform="rotate(134 233.1 763.7)"/><ellipse cx="181.3" cy="804" rx="2.4" ry="1.3" transform="rotate(75 181.3 804)"/><ellipse cx="172.7" cy="799.8" rx="2.3" ry="1.2" transform="rotate(170 172.7 799.8)"/><ellipse cx="183" cy="770.4" rx="1.4" ry="0.8" transform="rotate(47 183 770.4)"/><ellipse cx="178.8" cy="768.9" rx="1.7" ry="1" transform="rotate(131 178.8 768.9)"/><ellipse cx="191.2" cy="745.9" rx="1.3" ry="0.8" transform="rotate(52 191.2 745.9)"/><ellipse cx="166.4" cy="778.7" rx="1.5" ry="0.8" transform="rotate(141 166.4 778.7)"/><ellipse cx="175.8" cy="770.4" rx="2.4" ry="1.3" transform="rotate(139 175.8 770.4)"/><ellipse cx="154.3" cy="776.3" rx="1.9" ry="1" transform="rotate(121 154.3 776.3)"/><ellipse cx="150.3" cy="762.1" rx="2.7" ry="1.4" transform="rotate(51 150.3 762.1)"/><ellipse cx="232.9" cy="731.6" rx="1.6" ry="0.9" transform="rotate(86 232.9 731.6)"/><ellipse cx="233.7" cy="732.2" rx="0.7" ry="0.5" transform="rotate(153 233.7 732.2)"/><ellipse cx="216.7" cy="801.2" rx="1.6" ry="0.9" transform="rotate(48 216.7 801.2)"/><ellipse cx="222.5" cy="732.9" rx="0.9" ry="0.6" transform="rotate(36 222.5 732.9)"/><ellipse cx="223.2" cy="745" rx="1.5" ry="0.9" transform="rotate(123 223.2 745)"/><ellipse cx="177.5" cy="804.4" rx="0.7" ry="0.5" transform="rotate(83 177.5 804.4)"/><ellipse cx="173.1" cy="803.9" rx="0.8" ry="0.5" transform="rotate(43 173.1 803.9)"/><ellipse cx="196.3" cy="757" rx="2.2" ry="1.2" transform="rotate(116 196.3 757)"/><ellipse cx="191.7" cy="750" rx="0.9" ry="0.6" transform="rotate(59 191.7 750)"/><ellipse cx="187.9" cy="762.3" rx="2.8" ry="1.4" transform="rotate(75 187.9 762.3)"/><ellipse cx="189.8" cy="742.5" rx="2.4" ry="1.3" transform="rotate(0 189.8 742.5)"/><ellipse cx="173.2" cy="749.9" rx="2" ry="1.1" transform="rotate(78 173.2 749.9)"/><ellipse cx="168.6" cy="747" rx="1.9" ry="1.1" transform="rotate(113 168.6 747)"/><ellipse cx="230.8" cy="775.9" rx="2.4" ry="1.3" transform="rotate(71 230.8 775.9)"/><ellipse cx="206.8" cy="771.3" rx="0.7" ry="0.5" transform="rotate(142 206.8 771.3)"/><ellipse cx="223.1" cy="762" rx="0.8" ry="0.6" transform="rotate(163 223.1 762)"/><ellipse cx="211" cy="764.6" rx="2.6" ry="1.4" transform="rotate(24 211 764.6)"/><ellipse cx="207.3" cy="736.3" rx="2" ry="1.1" transform="rotate(25 207.3 736.3)"/><ellipse cx="209.1" cy="743.3" rx="1" ry="0.6" transform="rotate(36 209.1 743.3)"/><ellipse cx="200.1" cy="747.8" rx="2.2" ry="1.2" transform="rotate(41 200.1 747.8)"/><ellipse cx="202.5" cy="754" rx="2.8" ry="1.5" transform="rotate(139 202.5 754)"/><ellipse cx="215.2" cy="747.9" rx="2.4" ry="1.3" transform="rotate(163 215.2 747.9)"/><ellipse cx="164" cy="736.7" rx="2.8" ry="1.5" transform="rotate(15 164 736.7)"/><ellipse cx="161.9" cy="736.5" rx="0.7" ry="0.5" transform="rotate(42 161.9 736.5)"/><circle cx="218.1" cy="734.4" r="0.8"/><circle cx="181.9" cy="779.6" r="0.6"/><circle cx="209.4" cy="756.9" r="0.6"/><circle cx="216.4" cy="799.9" r="0.6"/><circle cx="164.4" cy="791.3" r="0.6"/><circle cx="170.8" cy="800" r="0.4"/><circle cx="234.1" cy="754" r="0.8"/><circle cx="208.3" cy="798.7" r="0.7"/><circle cx="144.7" cy="755.7" r="0.6"/><circle cx="153.6" cy="780.9" r="0.8"/><circle cx="231.9" cy="769.3" r="0.6"/><circle cx="217.8" cy="766.8" r="0.6"/><circle cx="184.7" cy="777.5" r="0.6"/><circle cx="193.2" cy="768.9" r="0.6"/><circle cx="159.5" cy="748.7" r="0.5"/><circle cx="232.5" cy="748.4" r="0.6"/><circle cx="226.4" cy="736.6" r="0.5"/><circle cx="206.2" cy="777" r="0.8"/></g>
</g>
<text x="231" y="803.9" font-size="2.9" text-anchor="middle" fill="#222">20μm</text>
<rect x="228.2" y="804.5" width="5.6" height="0.9" fill="#111"/>
<defs><clipPath id="tj103"><rect x="243.3" y="730.8" width="95.2" height="76.7"/></clipPath></defs>
<g clip-path="url(#tj103)">
<rect x="243.3" y="730.8" width="95.2" height="76.7" fill="#F8EEA6"/>
<ellipse cx="284.4" cy="744.2" rx="10.4" ry="14.3" fill="#F5E596" opacity="0.18"/>
<ellipse cx="299.2" cy="766" rx="19.5" ry="14.2" fill="#F5E596" opacity="0.18"/>
<ellipse cx="272.5" cy="746.2" rx="13.6" ry="15.5" fill="#F5E596" opacity="0.18"/>
<ellipse cx="307.8" cy="777.5" rx="17.4" ry="6.1" fill="#F5E596" opacity="0.18"/>
<ellipse cx="275.3" cy="758.2" rx="14.8" ry="14.8" fill="#F5E596" opacity="0.18"/>
<path d="M259.1 797.6L256.5 797.7L253.8 796.9L251.4 798.3L248.9 799.1M259.1 797.6L255.1 803.3L254 810.2L251.4 816.6L248.1 822.6M248.9 799.1L246.8 801.2L244.8 803.5L242.8 805.7L240.7 807.8M248.1 822.6L246.8 818.6L244.2 815.3L241.1 812.2L240.7 807.8M248.9 799.1L243.2 796.7L238 793.1L231.5 792.4L226.1 789.4M235 772L236.6 768.5L238.4 765.2L239.7 761.5L241.3 758.1M361.8 717.8L353.1 720.4L345.3 725.4L337.1 729.3L328.4 732.2M293.5 665.2L296 672.4L297.4 680L299.3 687.5L302.6 694.5M328.4 732.2L321.7 723L315.2 713.5L310 703.2L302.6 694.5M339.9 796.4L333.2 797.2L326.9 799.3L321.5 804L314.7 804.6M339.9 796.4L335.5 801.1L330.8 805.8L327 811.2L321.4 814.9M314.7 804.6L316.4 807.1L316.6 810.7L318.5 813.2L321.4 814.9M339.9 796.4L341.8 794.5L343.7 792.6L347.5 793.6L348.6 790.5M308.1 799.6L309.7 794.5L310.8 789.3L315.7 785.7L316.8 780.4M316.8 780.4L324.9 782.3L332.5 786L340.7 787.8L348.6 790.5M314.7 804.6L313.5 803.7L312 803.8L310.5 804L309.6 802.7M396.7 790L384.7 790.8L372.7 789.5L360.6 790.2L348.6 790.5M318.9 825.9L318.8 823L320.4 820.5L319.8 817.4L321.4 814.9M234.8 784.1L235 781.4L237 780.1L238.1 778.1L240.3 776.9M234.8 784.1L239.8 783.7L244.8 785L249.8 782.8L254.7 784.4M240.3 776.9L243.6 779.3L246.9 781.7L251.8 780.9L254.7 784.2M254.7 784.4L254.7 784.4L256.4 784L254.5 784.3L254.7 784.2M226.1 789.4L227.6 787L229.6 785.4L232.5 785.3L234.8 784.1M235 772L236.3 772.6L238.4 771.7L239.1 773.5L240.3 774.4M240.3 774.4L239.6 775L240.6 775.6L241.3 776.3L240.3 776.9M260.3 797L259 793.8L257.2 790.8L256.6 787.4L254.7 784.4M288.1 759.7L283.3 759.8L278.6 759.2L273.9 758.1L269.1 758.4M288.1 759.7L289.8 761.4L290.8 763.7L293.2 764.9L294.5 767M294.5 767L289.2 770.2L283.4 772.4L278.8 776.8L272.9 778.8M272.9 778.8L272.8 775.3L269.3 773.8L268.4 770.8L266.4 768.4M266.4 768.4L266.1 765.6L268.1 763.5L267.2 760.6L269.1 758.4M269.5 732.3L267.8 736.6L264.1 740L263 744.7L261.2 749M261.4 751.9L261.6 751.2L261.1 750.5L263 749.6L261.2 749M287.4 744.5L287.1 742.2L283 741.9L284 738.9L283.6 736.8M287.4 744.5L291.5 742.3L295.1 739.4L298.6 736.2L303.3 735.1M303.3 735.1L299.1 732.4L294.6 730.3L289.6 728.8L286.3 724.6M286.3 724.6L286.1 726.8L283.5 727.7L283.3 729.9L282.6 731.7M293.5 665.2L291.1 680L289.9 694.9L287.8 709.7L286.3 724.6M261.8 724.3L264.5 725.6L266 728L266.7 731.2L269.5 732.3M288.1 759.7L285.9 757.7L287.6 756.1L288.8 754.5L288.7 752.8M269.1 758.4L266.7 757.4L264.9 755.6L264 752.8L261.4 752M261.4 752L261.1 751.9L261.6 752L260.9 751.9L261.4 751.9M289.6 821.8L292.5 819.3L295.2 816.6L296.8 812.9L300.1 810.8M300.1 810.8L300 808L296.4 806.8L297.8 803.2L295.5 801.4M293.2 804.7L292.7 803.1L294.5 803.1L293.9 801.5L295.5 801.4M309.6 802.7L308.4 804.3L308.1 806.2L307.8 808.1L307.3 810M318.9 825.9L314.5 823.4L313.8 818L308.2 816.4L307.6 810.9M307.6 810.9L307.1 810.8L307.9 810.3L307.5 810.2L307.3 810M285.3 791.2L288.9 785.9L288.5 778.6L294 774.4L297.1 768.8M302.2 769.5L301 776.9L300.2 784.3L299.3 791.8L298.1 799.2M298.1 799.2L297.8 799.8L297 798.9L296.9 800.7L296.2 799.6M308.1 799.6L305.6 799.7L303.1 799.4L300.6 799.6L298.1 799.2M303.5 769.5L304.4 771L306.1 769.9L307.4 770.1L308.4 771.2M303.5 769.5L303.2 769L302.9 769.4L302.6 769.3L302.2 769.5M300.1 810.8L301.7 809.3L303.8 811L305.5 810L307.3 810M295.5 801.4L296.4 801.2L295.1 800.3L297.1 800.5L296.2 799.6M307.3 810L307.6 811.2L307.2 809.5L307.4 810.4L307.3 810M272.9 778.8L270.8 782.3L270 786.3L269.2 790.3L268.2 794.2M285.3 791.2L284.1 791.3L283.1 792.1L281.6 791.7L280.8 792.9M268.2 794.2L271.3 793.4L274.6 794.9L277.6 792.9L280.8 792.9M266.4 768.4L266.6 768.7L266.3 768.5L265.8 768L266.3 768.6M268.2 794.2L267.7 795.4L266.7 795.7L265.6 795.9L264.6 796.2M293.2 804.7L291.3 806.2L289.1 803.9L287.2 805.8L285.1 805.3M280.8 792.9L283.4 795.5L284.3 798.6L284.1 802.2L285.1 805.3M260.3 797L260.8 797.2L261.6 796L261.7 798.7L262.5 797.4M254.7 784.2L255.1 782.5L255.1 780.9L256.1 779.3L255 777.6M266.3 768.6L263.7 771.1L260 772.2L256.9 774.2L255 777.6M262.5 797.4L263.2 797.4L264.2 797.9L264.4 797L264.6 796.2M245.8 754.3L244.9 755.3L244.2 756.6L242.1 756.4L241.7 758M245.8 754.3L249.1 754.7L252.3 753.6L255.6 754.4L258.8 752.9M245.2 769.2L246.2 771.7L248.3 772.2L250.4 772.7L252.4 773.4M241.3 758.1L241.4 757.9L241.8 759.8L241.6 757.7L241.7 758M235.6 731.1L238.3 736.8L239.8 743.1L242.1 749L245.8 754.3M261.4 752L260.6 751.9L260.1 752.6L259.5 752.8L258.8 752.9M255 777.6L253.9 776.8L253.8 775.4L253.8 774L252.4 773.4M240.3 774.4L241.1 772.8L241.8 770.9L244.2 770.6L245.2 769.2M257.5 742.8L257.6 739.9L256.4 737L258.5 734L256.9 731.2M257.5 742.8L253.8 740.4L250.1 738L247.1 734.6L242.8 733.1M242.8 733.1L246.1 731.1L250 732.9L253.3 731.1L256.9 731.2M261.8 724.3L260.6 726.1L259 727.5L258.3 729.5L256.9 731.2M261.2 749L260 747.6L259.2 746L258.5 744.3L257.5 742.8M235.6 731.1L237.7 730.5L238.8 733.6L241.2 731.9L242.8 733.1M325.7 755.5L322.7 750.9L318.9 746.9L313.8 744L311.5 738.8M325.7 755.5L326.3 755.2L327.3 756.3L327.8 755.8L328.3 754.8M328.3 754.8L328.7 749.1L329.6 743.5L327 737.8L328.4 732.2M328.3 754.8L328.7 754.9L328.5 754.9L329.2 755.1L328.3 754.8M328.4 732.2L324.3 732.6L320.8 736.2L316.4 735.5L312.2 735.2M312.2 735.2L311.6 735.2L311 735.2L312.6 736.7L311.4 736.2M311.4 736.2L312.6 736.7L312.7 737L310.9 737.2L311.3 737.5M303.5 769.5L305.8 761.9L306.8 754L309.5 746.5L311.5 738.8M308.4 771.2L311.9 766.3L317.4 763.7L321.5 759.5L325.7 755.5M361.8 717.8L352.8 726.4L344.8 736.1L335.8 744.8L328.3 754.8M328.4 732.2L328.1 731.7L329.2 733.3L328 731.6L328.4 732.2M302.6 694.5L304 704.9L308.1 714.7L309.6 725.1L312.2 735.2M303.3 735.1L305.2 736L307.3 736.3L309.3 736.8L311.4 736.2M288.7 752.8L294.1 748.5L300.2 745.5L305.8 741.5L311.3 737.5M262.6 797.7L267.7 800.9L272.9 803.8L278.9 805.5L283 810.1M283 810.1L284 813.8L285.5 817.4L286.5 821.1L288.4 824.5M281.7 865.1L282.8 861.6L282.2 857.7L284.2 854.4L284.6 850.7M284.6 850.7L284.8 844.6L285.9 838.7L289.2 833.1L288.1 826.8M288.4 824.5L288.3 825.1L289.3 825.8L288.1 826.2L288.1 826.8M262.5 797.4L261.8 797.9L261.3 798.2L262.2 797.8L262.6 797.7M289.6 821.8L288.6 822.2L288.7 823L289.1 824L288.4 824.5M307.6 810.9L300.6 820.1L296.2 830.9L290.1 840.6L284.6 850.7M307.3 810L301.8 813.4L297.6 818.3L292.7 822.4L288.1 826.8" fill="none" stroke="#EC8C80" stroke-width="0.45" stroke-opacity="0.6" stroke-dasharray="1.1 0.5 0.5 0.5"/>
<g fill="#FFFCF2"><ellipse cx="288.7" cy="752.8" rx="1" ry="0.7" transform="rotate(144 288.7 752.8)"/><ellipse cx="308.1" cy="799.6" rx="1.2" ry="0.7" transform="rotate(7 308.1 799.6)"/><ellipse cx="248.9" cy="799.1" rx="1.4" ry="0.8" transform="rotate(114 248.9 799.1)"/><ellipse cx="328.4" cy="732.2" rx="1.3" ry="0.8" transform="rotate(44 328.4 732.2)"/><ellipse cx="287.4" cy="744.5" rx="2.2" ry="1.2" transform="rotate(11 287.4 744.5)"/><ellipse cx="303.3" cy="735.1" rx="2.7" ry="1.4" transform="rotate(44 303.3 735.1)"/><ellipse cx="314.7" cy="804.6" rx="2.1" ry="1.1" transform="rotate(19 314.7 804.6)"/><ellipse cx="309.6" cy="802.7" rx="2.3" ry="1.2" transform="rotate(60 309.6 802.7)"/><ellipse cx="254.7" cy="784.4" rx="0.7" ry="0.5" transform="rotate(160 254.7 784.4)"/><ellipse cx="266.3" cy="768.6" rx="1.9" ry="1" transform="rotate(6 266.3 768.6)"/><ellipse cx="269.1" cy="758.4" rx="2" ry="1.1" transform="rotate(138 269.1 758.4)"/><ellipse cx="255" cy="777.6" rx="1.8" ry="1" transform="rotate(151 255 777.6)"/><ellipse cx="303.5" cy="769.5" rx="1.2" ry="0.7" transform="rotate(30 303.5 769.5)"/><ellipse cx="282.6" cy="731.7" rx="0.9" ry="0.6" transform="rotate(93 282.6 731.7)"/><ellipse cx="283.6" cy="736.8" rx="1.7" ry="0.9" transform="rotate(64 283.6 736.8)"/><ellipse cx="261.2" cy="749" rx="2.5" ry="1.3" transform="rotate(177 261.2 749)"/><ellipse cx="293.2" cy="804.7" rx="1.9" ry="1" transform="rotate(171 293.2 804.7)"/><ellipse cx="285.3" cy="791.2" rx="0.9" ry="0.6" transform="rotate(144 285.3 791.2)"/><ellipse cx="297.1" cy="768.8" rx="2.2" ry="1.2" transform="rotate(72 297.1 768.8)"/><ellipse cx="296.2" cy="799.6" rx="1.4" ry="0.8" transform="rotate(36 296.2 799.6)"/><ellipse cx="268.2" cy="794.2" rx="2.5" ry="1.3" transform="rotate(71 268.2 794.2)"/><ellipse cx="245.8" cy="754.3" rx="2.3" ry="1.2" transform="rotate(179 245.8 754.3)"/><ellipse cx="258.8" cy="752.9" rx="2.4" ry="1.3" transform="rotate(152 258.8 752.9)"/><ellipse cx="252.4" cy="773.4" rx="2.7" ry="1.4" transform="rotate(14 252.4 773.4)"/><ellipse cx="257.5" cy="742.8" rx="1.6" ry="0.9" transform="rotate(174 257.5 742.8)"/><ellipse cx="256.9" cy="731.2" rx="2.3" ry="1.2" transform="rotate(50 256.9 731.2)"/><ellipse cx="328.3" cy="754.8" rx="1.2" ry="0.7" transform="rotate(55 328.3 754.8)"/><ellipse cx="328.3" cy="754.8" rx="2.2" ry="1.2" transform="rotate(67 328.3 754.8)"/><ellipse cx="311.5" cy="738.8" rx="1.2" ry="0.7" transform="rotate(105 311.5 738.8)"/><circle cx="320.6" cy="786.3" r="0.6"/><circle cx="315.8" cy="749.9" r="0.9"/><circle cx="321.9" cy="742" r="0.5"/><circle cx="282.6" cy="734" r="0.4"/><circle cx="333.2" cy="754.1" r="0.9"/><circle cx="291.6" cy="762.1" r="0.8"/><circle cx="309.1" cy="743.1" r="0.6"/><circle cx="334.5" cy="757.7" r="0.4"/><circle cx="276.9" cy="755.4" r="0.5"/><circle cx="252.9" cy="736.2" r="0.6"/><circle cx="243.6" cy="774.2" r="0.5"/><circle cx="264.5" cy="788.9" r="0.7"/><circle cx="300.5" cy="790.6" r="0.5"/><circle cx="330.5" cy="783.5" r="0.5"/><circle cx="275.2" cy="772.1" r="0.7"/><circle cx="277" cy="776.1" r="0.5"/><circle cx="304.6" cy="797.4" r="0.9"/><circle cx="299.5" cy="737.6" r="0.8"/></g>
</g>
<text x="330" y="803.9" font-size="2.9" text-anchor="middle" fill="#222">20μm</text>
<rect x="327.2" y="804.5" width="5.6" height="0.9" fill="#111"/>
<defs><clipPath id="tj104"><rect x="342.5" y="730.8" width="95.7" height="76.7"/></clipPath></defs>
<g clip-path="url(#tj104)">
<rect x="342.5" y="730.8" width="95.7" height="76.7" fill="#F8EEA6"/>
<ellipse cx="356.7" cy="748.3" rx="19.3" ry="9" fill="#F5E596" opacity="0.18"/>
<ellipse cx="360.3" cy="790" rx="13.7" ry="16" fill="#F5E596" opacity="0.18"/>
<ellipse cx="389" cy="780.8" rx="16.4" ry="6.2" fill="#F5E596" opacity="0.18"/>
<ellipse cx="373.9" cy="793.7" rx="14.2" ry="8.4" fill="#F5E596" opacity="0.18"/>
<ellipse cx="382.5" cy="802.2" rx="10.3" ry="13.6" fill="#F5E596" opacity="0.18"/>
<path d="M367 802.8L363.8 804.6L360.6 806.2L356.4 804.5L353.5 807.1M353.5 807.1L350.8 815L347.3 822.5L344.8 830.4L342.5 838.4M443.4 795.8L439.7 789.8L434.4 785L431.7 778.2L426.1 773.6M426.1 773.6L426.6 772.9L426.4 772.2L425.8 771.5L426 770.8M426 770.8L425.3 769.7L426.7 769.7L426.9 769.1L427.4 768.6M432.1 738.3L433.6 742L435.7 745.5L434.9 749.9L437 753.4M427.4 768.6L427.4 767.9L427.4 767.3L428.5 766.7L427.6 765.9M427.6 765.9L429 762L432.9 760.1L434.3 756.3L437 753.4M425 713L424.4 716.8L424.4 720.7L424.7 724.6L424 728.4M424 728.4L425.8 730L426.5 732.3L426.9 734.6L428 736.6M428 736.6L428.8 737.6L429.9 737.7L431.6 736.7L432.1 738.3M345.6 798.5L346 797.5L344.5 798L344.7 797.1L344.3 796.9M344.3 796.9L340.6 796.7L337.2 795.6L334.1 793.6L330.6 793M329.3 792.9L329.6 794L329.9 793L330.2 793.6L330.6 793M353.5 807.1L351.3 805.2L348.5 803.8L346.7 801.4L345.6 798.5M342.5 838.4L342.2 831.6L338.1 825.7L339.1 818.6L336.1 812.5M208.9 766.8L218.3 766.7L227.7 767.6L237 768.7L246.2 770.7M348.6 775.8L344.3 780.3L340.3 785.1L336 789.6L330.6 793M348.6 775.8L349.8 773.4L348.4 770.6L350.2 768.4L350.3 765.8M350.3 765.8L348.1 765L345.9 764.2L343.5 764.1L341.3 763.7M389.4 822.7L391.7 817.8L395.5 813.7L397.3 808.6L399.3 803.5M389.4 822.7L386.3 819.8L385.2 815.6L381.4 813.1L380.6 808.7M380.6 808.7L383.2 804.8L385.1 800.3L388 796.6L391 792.9M399.3 803.5L397.7 801.1L396.3 798.6L397.3 795.3L395.7 792.9M391 792.9L392.2 793.6L393.3 791.8L394.5 792L395.7 792.9M367 802.8L366.4 800.7L368.5 803.8L368.2 802.1L368.6 802M368.6 802L371.4 804L374.9 804.7L377.6 807L380.6 808.7M403 872.1L399 859.9L395.9 847.5L392.1 835.2L389.4 822.7M395.1 767.1L393.3 772.6L391.2 778L387.7 782.9L387 788.7M395.1 767.1L396.4 772.5L399.9 776.9L401.9 782L404.4 786.8M387 788.7L388.3 789.5L388.8 791L390.4 791.5L391 792.9M404.4 786.8L401.6 787.5L399.7 789.4L397.5 790.8L395.7 792.9M370.8 780.2L371.1 781.3L372.8 782L371.6 783.4L371.8 784.5M370.8 780.2L365.7 780.9L361.4 783.9L356.4 784.8L351.5 786.2M371.8 784.5L372.5 787.3L370.5 789.3L369.8 791.8L369 794.1M369 794.1L364.2 793.5L360.2 790.7L355.4 790.2L350.9 788.6M351.5 786.2L350.2 786.5L351.8 787.6L351.8 788.1L350.9 788.6M392.2 760.1L389.3 760.9L386.1 758.8L383.5 761.8L380.5 761.4M392.2 760.1L392.4 760.9L394.1 760.5L392.7 762.5L394.1 762.4M395.1 767.1L394.9 765.9L393.4 765L394.4 763.5L394.1 762.4M370.6 767.3L373.1 765.8L375.6 764.5L378.9 764.4L380.5 761.4M370.6 767.3L369.4 770.6L370.5 773.8L370.4 777L370.8 780.2M348.6 775.8L350.3 778.1L350.2 781L352.5 783.2L351.5 786.2M350.3 765.8L352.3 766.1L354 765.2L355.7 764.3L357.5 763.7M370.6 767.3L367.2 766.8L363.9 766L360.7 764.9L357.5 763.7M368.6 802L369.5 800.1L368.4 798L368.8 796.1L369 794.1M344.3 796.9L346.1 794.9L347.9 792.9L348.2 789.8L350.9 788.6M425 713L419 716.5L413 719.9L406.7 723L401.1 727.1M416.5 730.6L412.8 729.1L409.3 726.6L404.9 728.5L401.1 727.1M443.4 795.8L443.3 796.1L442.5 795.8L443.3 797.4L442.4 796.7M442.4 796.7L441.1 796.4L441.6 797.7L440.1 797.1L440.7 798.6M414.2 785.6L412.5 785.8L410.7 785.7L408.9 785.9L407.8 787.8M414.2 785.6L415.7 787.1L416.7 788.9L417.6 790.8L419 792.2M407.8 787.8L408.6 791.4L408.6 795.2L409.6 798.8L410.5 802.4M419 792.2L418.8 796.5L419.8 800.7L421.5 804.8L420.5 809.1M410.5 802.4L412.1 804.9L415 806.2L415.9 809.3L418.6 810.8M418.6 810.8L419.6 811L419.1 809.5L420.2 809.7L420.5 809.1M394.1 762.4L401.8 765.4L410.1 766.2L418.1 768.4L426 770.8M404.4 786.8L405.1 787.3L406.1 787.3L406.8 787.9L407.8 787.8M426.1 773.6L422.7 776.2L419.8 779.2L416.9 782.4L414.2 785.6M442.4 796.7L436.7 794.7L430.7 794.2L425.1 791.9L419 792.2M399.3 803.5L402.1 803.3L405 804L407.7 803.1L410.5 802.4M440.7 798.6L436.1 801.9L430.5 803.7L425.4 806.2L420.5 809.1M421.6 754.5L423.4 751.9L422.1 749.2L420.6 746.4L422 743.8M422 743.8L417.2 742.3L412.5 743.9L407.8 745.2L403 744.5M396.7 752.1L397.7 749.9L399.7 748.5L399.2 745.2L402.3 744.7M403 744.5L403.2 745.7L402.8 745L402.3 743.9L402.3 744.7M427.6 765.9L426.4 762.9L425.6 759.7L425.4 756.2L421.6 754.5M428 736.6L426.3 738.3L425.5 740.6L423.6 742.1L422 743.8M392.2 760.1L393.7 758.5L393.7 756.1L395.2 754.6L396.1 752.6M396.1 752.6L396.6 752.9L396.4 752.4L396.5 752.1L396.7 752.1M401.1 727.1L401 726L401 726.9L401 727L401 727.2M401 727.2L400.6 731.6L402.6 735.9L401.9 740.3L402.3 744.7M401 727.2L398.4 725.1L396.6 722.1L394.2 719.8L391.2 718.2M341.3 763.7L340.6 760.6L342.5 757.6L342 754.6L341.9 751.5M334.3 739.5L334.3 741.6L336.6 741L336.7 743L338.3 743.3M341.9 751.5L341 749.5L341.5 746.8L338.8 745.5L338.3 743.3M351.7 713.8L350.6 715.1L351.8 716.4L352.3 717.7L351.8 719M351.8 719L352 722L348.5 723.2L348.3 726L347.3 728.4M380.5 761.4L380.1 757.4L377.8 754.3L376.9 750.5L374.7 747.4M374.7 747.4L373.6 745.4L374.6 743.6L374.9 741.7L375.1 739.8M375.1 739.8L377.3 737.6L380 736L382 733.6L384.6 731.9M345.5 747.2L345.4 745.7L344.4 745.2L342.6 745.4L342.3 744.1M345.5 747.2L347.3 747.7L348.9 747.4L350.1 746.2L351.3 745.1M342.3 744.1L344.3 743.9L346.3 743.6L347.7 741.5L349.8 741.6M351.3 745.1L350.4 744.5L351.2 743.1L351 742.1L349.8 741.6M341.9 751.5L343 750.6L343.5 749.1L345.3 748.8L345.5 747.2M338.3 743.3L339.5 742.7L340.3 743.9L341.4 743.7L342.3 744.1M347.3 728.4L347.9 731.7L349.5 734.9L350 738.2L349.8 741.6M357.3 762.2L358.1 756.9L362.4 753.2L363.9 748.2L365.4 743.3M357.3 762.2L357.1 758.5L355.1 755.2L352.3 752.1L354.4 748M354.4 748L356.2 745.8L358.4 744L360.3 741.9L362 739.6M365.4 743.3L364.3 742.5L364.6 740.6L362.6 740.7L362 739.6M357.5 763.7L357.8 763.3L358.4 762.8L358.8 762.4L357.3 762.2M351.3 745.1L352.7 745.2L352.9 746.6L352.8 748.2L354.4 748M351.8 719L350.7 720L352.1 719.2L352.3 719.2L352.2 719.5M362 739.6L361.6 739.4L362.3 739.2L361.9 739L362 738.8M352.2 719.5L354.3 724.5L357.4 729L360 733.7L362 738.8M375.1 739.8L373.9 739.1L373.1 738L371.9 737.5L371.2 736.2M362 738.8L364.3 738L366.8 738.2L368.9 736.7L371.2 736.2M370.7 733L369.6 733.7L369 734.4L371 734.5L371.1 735M370.7 733L372.9 732L372.5 728.8L375.1 728.1L376.2 726.2M371.1 735L375.3 734.3L377.8 730.8L381.6 729.4L384.8 727M376.2 726.2L378.4 725.8L380.5 725.8L382.6 727.2L384.8 726.7M384.8 726.7L386.2 726.9L387 727.1L385 727L384.8 727M371.2 736.2L371.9 735.9L371.2 735.6L370.8 735.3L371.1 735M351.7 713.8L357.6 717.3L364.6 718.6L370.8 721.5L376.2 726.2M384.6 731.9L385.7 730.7L384 729.4L384.7 728.3L384.8 727M391.2 718.2L389.7 720.4L388.5 722.8L385.8 724.1L384.8 726.7" fill="none" stroke="#EC8C80" stroke-width="0.45" stroke-opacity="0.6" stroke-dasharray="1.1 0.5 0.5 0.5"/>
<g fill="#FFFCF2"><ellipse cx="392.2" cy="760.1" rx="1.4" ry="0.8" transform="rotate(28 392.2 760.1)"/><ellipse cx="395.1" cy="767.1" rx="1.6" ry="0.9" transform="rotate(149 395.1 767.1)"/><ellipse cx="367" cy="802.8" rx="2.7" ry="1.4" transform="rotate(96 367 802.8)"/><ellipse cx="348.6" cy="775.8" rx="2.6" ry="1.4" transform="rotate(138 348.6 775.8)"/><ellipse cx="387" cy="788.7" rx="0.8" ry="0.5" transform="rotate(149 387 788.7)"/><ellipse cx="368.6" cy="802" rx="2.4" ry="1.3" transform="rotate(127 368.6 802)"/><ellipse cx="396.1" cy="752.6" rx="1.2" ry="0.7" transform="rotate(36 396.1 752.6)"/><ellipse cx="404.4" cy="786.8" rx="1.7" ry="0.9" transform="rotate(39 404.4 786.8)"/><ellipse cx="426.1" cy="773.6" rx="1.5" ry="0.8" transform="rotate(177 426.1 773.6)"/><ellipse cx="426" cy="770.8" rx="1.7" ry="0.9" transform="rotate(26 426 770.8)"/><ellipse cx="427.4" cy="768.6" rx="1.1" ry="0.7" transform="rotate(134 427.4 768.6)"/><ellipse cx="437" cy="753.4" rx="1.6" ry="0.9" transform="rotate(96 437 753.4)"/><ellipse cx="370.6" cy="767.3" rx="1.6" ry="0.9" transform="rotate(102 370.6 767.3)"/><ellipse cx="380.5" cy="761.4" rx="2.1" ry="1.1" transform="rotate(80 380.5 761.4)"/><ellipse cx="357.5" cy="763.7" rx="1.4" ry="0.8" transform="rotate(47 357.5 763.7)"/><ellipse cx="345.6" cy="798.5" rx="1.3" ry="0.8" transform="rotate(146 345.6 798.5)"/><ellipse cx="344.3" cy="796.9" rx="1.2" ry="0.7" transform="rotate(17 344.3 796.9)"/><ellipse cx="391" cy="792.9" rx="2.2" ry="1.2" transform="rotate(139 391 792.9)"/><ellipse cx="395.7" cy="792.9" rx="1.6" ry="0.9" transform="rotate(172 395.7 792.9)"/><ellipse cx="370.8" cy="780.2" rx="2.7" ry="1.4" transform="rotate(88 370.8 780.2)"/><ellipse cx="369" cy="794.1" rx="2.1" ry="1.1" transform="rotate(26 369 794.1)"/><ellipse cx="414.2" cy="785.6" rx="2.7" ry="1.4" transform="rotate(127 414.2 785.6)"/><ellipse cx="422" cy="743.8" rx="0.9" ry="0.6" transform="rotate(153 422 743.8)"/><ellipse cx="396.7" cy="752.1" rx="1.4" ry="0.8" transform="rotate(86 396.7 752.1)"/><ellipse cx="403" cy="744.5" rx="1.8" ry="1" transform="rotate(166 403 744.5)"/><ellipse cx="402.3" cy="744.7" rx="0.9" ry="0.6" transform="rotate(175 402.3 744.7)"/><ellipse cx="374.7" cy="747.4" rx="1.3" ry="0.8" transform="rotate(133 374.7 747.4)"/><ellipse cx="375.1" cy="739.8" rx="0.7" ry="0.5" transform="rotate(157 375.1 739.8)"/><ellipse cx="384.6" cy="731.9" rx="2" ry="1.1" transform="rotate(153 384.6 731.9)"/><ellipse cx="351.3" cy="745.1" rx="2.1" ry="1.1" transform="rotate(150 351.3 745.1)"/><ellipse cx="357.3" cy="762.2" rx="1.6" ry="0.9" transform="rotate(72 357.3 762.2)"/><ellipse cx="354.4" cy="748" rx="2.5" ry="1.3" transform="rotate(34 354.4 748)"/><ellipse cx="362" cy="739.6" rx="2.5" ry="1.3" transform="rotate(99 362 739.6)"/><ellipse cx="362" cy="738.8" rx="1.7" ry="0.9" transform="rotate(146 362 738.8)"/><ellipse cx="371.2" cy="736.2" rx="1.2" ry="0.7" transform="rotate(37 371.2 736.2)"/><ellipse cx="370.7" cy="733" rx="1.7" ry="1" transform="rotate(9 370.7 733)"/><ellipse cx="371.1" cy="735" rx="2.8" ry="1.4" transform="rotate(90 371.1 735)"/><circle cx="357" cy="783.3" r="0.8"/><circle cx="344" cy="741.3" r="0.7"/><circle cx="431.9" cy="738.6" r="0.6"/><circle cx="404.2" cy="730.8" r="0.5"/><circle cx="358.3" cy="746.6" r="0.8"/><circle cx="390.5" cy="785.5" r="0.6"/><circle cx="417.2" cy="743.2" r="0.9"/><circle cx="413.2" cy="795.7" r="0.8"/><circle cx="398.1" cy="755.4" r="0.6"/><circle cx="384.9" cy="783.1" r="0.7"/><circle cx="431.6" cy="774.2" r="0.8"/><circle cx="427.6" cy="737.9" r="0.6"/><circle cx="367.2" cy="803" r="0.8"/><circle cx="432.7" cy="739" r="0.8"/><circle cx="361.5" cy="763.4" r="0.5"/><circle cx="397.2" cy="784.6" r="0.9"/><circle cx="391.9" cy="798.3" r="0.8"/><circle cx="418.5" cy="807.4" r="0.6"/></g>
</g>
<text x="429.7" y="803.9" font-size="2.9" text-anchor="middle" fill="#222">20μm</text>
<rect x="426.9" y="804.5" width="5.6" height="0.9" fill="#111"/>
<defs><clipPath id="tj105"><rect x="44.4" y="819.6" width="95.6" height="75.8"/></clipPath></defs>
<g clip-path="url(#tj105)">
<rect x="44.4" y="819.6" width="95.6" height="75.8" fill="#E6E4EF"/>
<ellipse cx="52.4" cy="844.9" rx="20" ry="7.1" fill="#E0DCEA" opacity="0.18"/>
<ellipse cx="95.6" cy="824.4" rx="12.2" ry="6" fill="#E0DCEA" opacity="0.18"/>
<ellipse cx="87.5" cy="886.6" rx="16.1" ry="8.5" fill="#E0DCEA" opacity="0.18"/>
<ellipse cx="77.1" cy="824.9" rx="15.5" ry="11.3" fill="#E0DCEA" opacity="0.18"/>
<ellipse cx="122.7" cy="871.6" rx="16.8" ry="9.7" fill="#E0DCEA" opacity="0.18"/>
<path d="M97.4 971.7L97.1 957.6L94.8 943.6L94.6 929.5L92.6 915.5M92.6 915.5L94.7 914.2L92.3 912.7L92 911.3L93 910M93 910L102 904L109.8 896.5L117.8 889.3L126 882.3M131.2 885.3L128.8 886.5L129.3 882.6L127.6 882.5L126 882.3M57 875.5L58.7 873.9L60.2 872.2L60 869.3L62 867.8M15.1 862.7L5.7 862.9L-3.7 865.1L-13.1 863.6L-22.5 864.3M15.1 862.7L26.3 862.3L37.4 864L48.6 864.3L59.8 863.9M59.8 863.9L61.3 864.4L60.6 866L60.8 867.2L62 867.8M-54 871.9L-45.8 871.1L-38.4 867.5L-30.4 866.2L-22.5 864.3M55.7 887.6L55.7 887.4L55.8 887.4L57 888.1L55.9 887.3M57.5 854.4L46.7 855.4L36.4 858.9L25.6 860.2L15.1 862.7M57.5 854.4L57 857.1L58.7 859.2L60.1 861.3L59.8 863.9M57.5 854.4L56.5 854.1L58.3 853.6L58.4 853.1L57.4 852.8M-22.5 864.3L-10 859.1L3.3 856.3L15.7 850.8L28.6 846.5M28.6 846.5L35.6 849.1L42.9 850.2L50.1 851.7L57.4 852.8M113.3 824.6L113.6 824.6L112.8 825.7L113.5 825.4L114 825.3M113.3 824.6L111.4 824.1L109.6 823L107.6 822.9L105.6 822.7M105.6 840.9L109 838.3L109.5 833.7L112.5 830.8L114.5 827.2M100.6 835.9L102.1 833.2L103.1 830.3L103.3 827.3L103.2 824.2M114.5 827.2L113.8 826.9L113.6 826.4L113.4 826L114 825.3M105.6 822.7L105.1 823.2L104.1 823L103.9 824L103.2 824.2M58.2 902.8L59.2 900.9L60.1 898.9L59.1 896.9L58.6 894.8M58.2 902.8L61.8 904.1L65.5 904.8L69.2 905.8L73.1 905.7M55.7 887.6L55.4 889.8L57.4 891.1L57.1 893.3L58.6 894.8M92.6 915.5L87.1 914.2L82.5 911.4L78.2 907.6L73.1 905.7M93 910L90.6 907L90 903.4L88.4 900.2L88.7 896.3M88.7 896.3L80.6 893.4L72.4 891.4L63.6 891.3L55.9 887.3M126 882.3L126.6 880.3L124.4 879.5L123.9 878L123.5 876.4M123.5 876.4L120.4 876.1L117.4 875.5L114.5 874.5L111.7 873.1M111.7 873.1L106.5 878L99.7 880.7L94 884.9L88.4 889.2M69.2 834.6L70.1 834.5L69.3 835.2L70.4 835L69.7 835.6M69.2 834.6L68.5 834.7L68.1 834.3L67.4 834.4L67.7 833.3M69.7 835.6L66.3 839.5L63.4 843.9L59.9 847.7L57.5 852.4M57.5 852.4L53.8 848.6L51.6 843.6L47.2 840.4L44.6 835.8M67.7 833.3L61.9 833.6L56.2 835.2L50.3 834.8L44.6 835.8M28.6 846.5L32 843.3L36.1 841L40.1 838.6L43.4 835.2M57.4 852.8L57.9 852.9L55.3 852L57 852.3L57.5 852.4M43.4 835.2L43.2 836.4L44.3 834.7L44.7 834.8L44.6 835.8M90.5 826.5L90.8 825L93 826.3L93.8 825.5L94.3 824.1M90.5 826.5L87.6 824.4L85.6 821.3L83.1 818.8L80.3 816.6M94.3 824.1L89.7 813.4L87.9 801.9L84.9 790.8L82.6 779.4M80.3 816.6L80.8 807.3L80.7 798L81.6 788.7L82.6 779.4M103.2 824.2L101 824.9L98.8 825.3L96.5 825L94.3 824.1M107.2 859.7L106.1 857.2L103.7 860L102.1 859.6L100.6 858.3M107.2 859.7L108.4 857.9L111 857.1L111.9 855.1L112.3 852.7M112.3 852.7L108.6 852.8L104.8 852.8L101.1 852.9L97.4 853.4M100.6 858.3L98.4 858L99.2 855.7L99.2 853.9L97.4 853.4M123.5 876.4L124.4 874.8L124.9 873.1L123.9 871L125.5 869.6M114.6 850.5L115.2 852.3L113.3 851.4L112.3 851.5L112.3 852.7M111.7 873.1L110.7 871.8L110 870.3L108.8 869.2L107.3 868.3M107.3 868.3L106 866.2L107.7 864L105.3 861.9L107.2 859.7M80.4 857.8L82.1 860L84.4 860.7L86.1 862.7L89.2 861.8M80.4 857.8L81 854L80.9 850.2L81.9 846.4L81.7 842.6M89.2 861.8L91.7 860.1L92.9 857.5L94.9 855.4L96.2 852.8M96.2 852.8L93 849.5L89.9 846.3L86.4 843.6L81.7 842.6M80.4 857.8L77.4 860.8L73.7 862.8L70 864.9L67.4 868.2M67.4 868.2L66.1 867.3L64.7 868.2L63.5 866.7L62 867.8M81.7 842.6L82.2 841.9L79.8 841.9L81.8 840.9L81.1 840.4M69.2 834.6L72.3 830.3L74.9 825.7L76.8 820.7L80.3 816.6M90.5 826.5L88.8 829.2L88.8 832.6L87.4 835.4L85.5 838M81.1 840.4L82.4 840L83.1 838.9L84.8 839.4L85.5 838M86.1 838L86 837.5L85.8 838.4L85.6 838.3L85.5 838M139.9 820.3L138.2 820.7L138.5 821.5L141.1 822.6L139.4 823.1M139.4 823.1L138.7 827.7L140 832.1L142.2 836.3L141.8 840.9M164.7 852.7L158 853.6L152.3 857.1L145.9 858.9L139.9 861.8M125.5 869.6L127.4 869.8L126.8 867.4L128.3 867.3L128.9 866.2M128.9 866.2L130.6 864.6L132.5 863.4L134.9 862.9L136.8 861.5M136.8 861.5L137.6 861.2L138.3 861.5L139.2 861.1L139.9 861.8M114.9 849L115.2 849.5L113.4 849.5L114.9 850.2L114.6 850.5M114.9 849L115.5 848.3L116.2 847.8L117.1 847.6L117.8 846.9M128.9 866.2L127.7 862L128.9 857.6L128.6 853.3L127.9 849.1M117.8 846.9L120.3 847.2L122.7 848.6L125.3 848.5L127.9 849.1M136.8 861.5L136.8 858L137 854.4L135 851L135.3 847.4M127.9 849.1L129.6 848.1L131.3 846.9L133.4 847.7L135.3 847.4M141.8 840.9L141.5 841.3L141.3 841.7L140.8 841.9L140.3 841.9M89.6 862.4L91 863.8L93 863.3L94.6 864.2L96.3 864.5M86.2 884.4L87.1 884.5L86.9 885.5L87 886.1L87.5 886.5M87.5 886.5L90.8 882.1L93.6 877.4L95.6 872.1L99.3 867.9M96.3 864.5L95.9 866.3L98.4 865.7L98.3 867.2L99.3 867.9M89.2 861.8L89.3 861.9L90.2 861.6L88.3 863L89.6 862.4M97.4 853.4L97.4 852.9L97 853L95.7 854.2L96.6 852.7M67.4 868.2L71.8 872.6L77.3 875.7L81.2 880.7L86.2 884.4M88.4 889.2L88.4 888.5L89.3 887.4L87.3 887.4L87.5 886.5M107.3 868.3L105.4 866.9L103.4 866.6L101.2 869L99.3 867.9M62.1 823.8L56.6 822.2L51.4 819.8L45.1 821.6L40 818.5M62.1 823.8L61.7 824.6L62.9 824.7L63.1 825.3L62.8 826M62.8 826L58.5 829.4L53.2 828.2L48.5 829.5L43.5 829.7M40 818.5L41 821.3L40.7 824.4L43.9 826.5L43.5 829.7M67.7 833.3L66 831.8L64.1 830.4L64.8 827.3L62.8 826M43.4 835.2L43.2 833.8L43.6 832.4L42.4 831L43.5 829.7M102.9 845.3L101.2 845.8L100 846.8L100.4 849.4L98.5 849.7M102.9 845.3L100.9 843.6L98.4 843.4L96 842.9L93.6 842.3M106.4 843.6L105.1 843.1L104.8 844.7L103.6 844.4L102.9 845.3M106.4 843.6L108.7 844.7L110.4 846.7L113 847.4L114.9 849M96.6 852.7L96.2 851.4L98.5 851.8L97.8 850.3L98.5 849.7M105.6 840.9L105.4 841.7L106 842.2L107.3 842.5L106.4 843.6M86.1 838L87.7 839.6L90.3 839.4L91 842.5L93.6 842.3M119.2 842.6L122.3 841.2L125.7 841.3L129 840.6L132.2 839.8M119.2 842.6L118.4 840.6L121.4 839.2L119.9 837.1L120.2 835.3M132.2 839.8L130 838.7L127.2 838.4L125.2 837.1L124.2 834.2M120.2 835.3L121.1 834.6L122.3 835.2L123.4 835.4L124.2 834.2M114.5 827.2L115.7 829.4L117.2 831.3L119 833.1L120.2 835.3M139.4 823.1L135.9 826.3L131.3 828L128.4 832L124.2 834.2" fill="none" stroke="#B79BB8" stroke-width="0.45" stroke-opacity="0.5" stroke-dasharray="1.1 0.5 0.5 0.5"/>
<g fill="#F7F5F3"><ellipse cx="57.5" cy="854.4" rx="2.5" ry="1.3" transform="rotate(124 57.5 854.4)"/><ellipse cx="139.9" cy="820.3" rx="2.5" ry="1.3" transform="rotate(119 139.9 820.3)"/><ellipse cx="69.2" cy="834.6" rx="2.2" ry="1.2" transform="rotate(56 69.2 834.6)"/><ellipse cx="69.7" cy="835.6" rx="2.6" ry="1.4" transform="rotate(42 69.7 835.6)"/><ellipse cx="55.7" cy="887.6" rx="0.8" ry="0.5" transform="rotate(157 55.7 887.6)"/><ellipse cx="55.9" cy="887.3" rx="1.6" ry="0.9" transform="rotate(41 55.9 887.3)"/><ellipse cx="126" cy="882.3" rx="1.9" ry="1.1" transform="rotate(60 126 882.3)"/><ellipse cx="123.5" cy="876.4" rx="1.9" ry="1.1" transform="rotate(118 123.5 876.4)"/><ellipse cx="80.4" cy="857.8" rx="2.6" ry="1.4" transform="rotate(87 80.4 857.8)"/><ellipse cx="62" cy="867.8" rx="2.3" ry="1.2" transform="rotate(93 62 867.8)"/><ellipse cx="57.4" cy="852.8" rx="2.9" ry="1.5" transform="rotate(4 57.4 852.8)"/><ellipse cx="57.5" cy="852.4" rx="1.8" ry="1" transform="rotate(123 57.5 852.4)"/><ellipse cx="105.6" cy="840.9" rx="1.8" ry="1" transform="rotate(151 105.6 840.9)"/><ellipse cx="113.3" cy="824.6" rx="1.6" ry="0.9" transform="rotate(50 113.3 824.6)"/><ellipse cx="114.5" cy="827.2" rx="0.8" ry="0.5" transform="rotate(105 114.5 827.2)"/><ellipse cx="114" cy="825.3" rx="2.1" ry="1.1" transform="rotate(178 114 825.3)"/><ellipse cx="105.6" cy="822.7" rx="0.9" ry="0.6" transform="rotate(26 105.6 822.7)"/><ellipse cx="139.4" cy="823.1" rx="2.3" ry="1.2" transform="rotate(75 139.4 823.1)"/><ellipse cx="89.2" cy="861.8" rx="1.8" ry="1" transform="rotate(29 89.2 861.8)"/><ellipse cx="111.7" cy="873.1" rx="2.4" ry="1.3" transform="rotate(160 111.7 873.1)"/><ellipse cx="88.4" cy="889.2" rx="1" ry="0.6" transform="rotate(112 88.4 889.2)"/><ellipse cx="44.6" cy="835.8" rx="2.1" ry="1.1" transform="rotate(81 44.6 835.8)"/><ellipse cx="96.2" cy="852.8" rx="0.9" ry="0.6" transform="rotate(121 96.2 852.8)"/><ellipse cx="117.8" cy="846.9" rx="2" ry="1.1" transform="rotate(174 117.8 846.9)"/><ellipse cx="135.3" cy="847.4" rx="1.5" ry="0.8" transform="rotate(121 135.3 847.4)"/><ellipse cx="89.6" cy="862.4" rx="1" ry="0.6" transform="rotate(79 89.6 862.4)"/><ellipse cx="86.2" cy="884.4" rx="2.9" ry="1.5" transform="rotate(73 86.2 884.4)"/><ellipse cx="87.5" cy="886.5" rx="2.2" ry="1.2" transform="rotate(118 87.5 886.5)"/><ellipse cx="62.8" cy="826" rx="1.2" ry="0.7" transform="rotate(19 62.8 826)"/><ellipse cx="102.9" cy="845.3" rx="2.6" ry="1.4" transform="rotate(145 102.9 845.3)"/><ellipse cx="93.6" cy="842.3" rx="1.7" ry="1" transform="rotate(17 93.6 842.3)"/><ellipse cx="119.2" cy="842.6" rx="1.4" ry="0.8" transform="rotate(8 119.2 842.6)"/><ellipse cx="132.2" cy="839.8" rx="1.4" ry="0.8" transform="rotate(87 132.2 839.8)"/><ellipse cx="120.2" cy="835.3" rx="1.8" ry="1" transform="rotate(15 120.2 835.3)"/><circle cx="98.7" cy="846.4" r="0.6"/><circle cx="137.3" cy="885.6" r="0.8"/><circle cx="131.5" cy="890" r="0.6"/><circle cx="92.9" cy="876.8" r="0.8"/><circle cx="45.1" cy="882" r="0.7"/><circle cx="68.9" cy="871.3" r="0.7"/><circle cx="49.9" cy="837.5" r="0.6"/><circle cx="139.3" cy="848" r="0.7"/><circle cx="69.5" cy="878.6" r="0.6"/><circle cx="66.8" cy="876.7" r="0.8"/><circle cx="74.7" cy="843.1" r="0.5"/><circle cx="133.5" cy="825.2" r="0.6"/><circle cx="51.4" cy="826.5" r="0.8"/><circle cx="113.3" cy="869.2" r="0.9"/><circle cx="99.5" cy="875" r="0.5"/><circle cx="125.3" cy="860.4" r="0.6"/><circle cx="123.5" cy="849.6" r="0.7"/><circle cx="108.7" cy="872.6" r="0.5"/></g>
</g>
<text x="131.5" y="891.8" font-size="2.9" text-anchor="middle" fill="#222">20μm</text>
<rect x="128.7" y="892.4" width="5.6" height="0.9" fill="#111"/>
<defs><clipPath id="tj106"><rect x="144.5" y="819.6" width="95" height="75.8"/></clipPath></defs>
<g clip-path="url(#tj106)">
<rect x="144.5" y="819.6" width="95" height="75.8" fill="#E6E4EF"/>
<ellipse cx="145.3" cy="891.9" rx="14.3" ry="12.1" fill="#E0DCEA" opacity="0.18"/>
<ellipse cx="225.4" cy="875.6" rx="21.6" ry="14.6" fill="#E0DCEA" opacity="0.18"/>
<ellipse cx="225.8" cy="884.8" rx="12.9" ry="8.1" fill="#E0DCEA" opacity="0.18"/>
<ellipse cx="218.6" cy="887.8" rx="8.7" ry="7.4" fill="#E0DCEA" opacity="0.18"/>
<ellipse cx="161.3" cy="822.4" rx="15.1" ry="13.7" fill="#E0DCEA" opacity="0.18"/>
<path d="M143.1 825.7L140.5 829L137.2 831.7L133.5 833.8L130.9 837.1M138.7 878.6L142.1 882.2L144.2 886.9L147.6 890.4L151.5 893.6M151.8 896.1L152.5 895.4L150.4 895L151.8 894.2L151.5 893.6M138.7 878.6L142.3 874.5L145.6 870.1L148.8 865.5L153.7 862.6M166.3 878L162.3 881.6L158.7 885.6L155.7 890.2L151.5 893.6M166.3 878L167.6 876.7L167.8 875.1L168.1 873.6L167.8 871.9M168.2 864.1L168.6 866.1L168.2 868L166.8 869.9L167.8 871.9M160.6 831.1L153.2 831.5L146.2 833.7L139.6 837.6L132.1 837.9M160.6 831.1L159.6 833.2L158.1 835L156.9 837L155.6 838.9M155.6 838.9L154.3 837.3L155.2 840.4L154 838.9L153.8 839.7M153.8 839.7L149 839.5L144.1 839.8L139.2 838.2L134.3 839.4M134.3 839.4L134.3 838.3L133.5 838.3L132.2 839L132.1 837.9M162.6 829.9L162.1 831.7L161.9 833.5L161.7 835.4L163.3 837M163.3 837L161.1 836.2L158.9 835.7L157.7 839.3L155.6 838.9M153.7 862.6L148.6 857L144.5 850.6L139.5 844.9L134.3 839.4M130.9 837.1L131.1 837.4L131.3 837.8L132 837.4L132.1 837.9M143.1 825.7L143.9 826.2L143 824.2L143.7 824.6L144.3 824.9M163.3 828.1L158.6 826.7L154 825.4L148.9 826.3L144.3 824.9M236.2 866.6L236.6 868.9L236.2 871.3L237.2 873.5L236.9 875.9M236.2 866.6L237.8 868L238 866.8L238.6 866.1L239 865.3M241 821.6L235.2 823.4L229.1 824.3L222.9 824.6L217.6 828.3M228.2 838.9L229.1 838.5L229.5 837.3L230.8 837.8L231.6 837.3M228.2 838.9L232.2 840.1L235.4 842.5L237.6 845.9L240.4 848.7M231.6 837.3L236.2 837.2L240.5 838.6L244.4 841.8L249.1 841M240.4 848.7L242.3 846.6L243.6 843.6L247.2 843.3L249.1 841M241 821.6L238.5 825.4L235.6 829.1L234.7 833.9L231.6 837.3M217.6 828.3L217.3 831.8L218.7 834.9L218.6 838.3L220.6 841.2M220.6 841.2L222.1 839.2L224.7 840.8L226.5 840L228.2 838.9M236.2 866.6L232.5 864.5L229.5 860.9L224.5 861.2L220.8 858.9M220.8 858.9L221.9 854.6L219.9 850.3L220.2 846L220.4 841.7M220.6 841.2L221 841.6L220.9 841.7L221.3 842L220.4 841.7M166.3 878L167.5 880.2L169.7 882L169.7 884.7L170.5 887.2M151.8 896.1L157.2 895.7L162.6 896.7L167.8 898.8L173.3 897.8M173.3 897.8L172.9 898.7L173.5 898.2L174.2 897.7L174 898.3M236.9 875.9L234.1 879.4L229.3 880.1L226.3 883.4L222.5 885.6M220.8 858.9L218.4 860.9L215 861.6L212.8 864L210.4 866.1M222.5 885.6L219.6 882.3L215.8 879.8L214.8 874.7L210.4 872.9M210.4 866.1L210.6 867.8L210.5 869.5L212.1 871.2L210.4 872.9M204 840.5L208.1 840.2L212.2 841.1L216.3 841.7L220.4 841.7M204 840.5L202 841.2L201.1 842.7L200.5 844.5L199.5 846M210.4 866.1L208.1 865.9L206 865L203.9 864.1L201.5 864.3M199.5 846L200.9 850.4L200.9 855.1L199.9 859.8L201.5 864.3M199.5 846L197.6 845.9L195.5 845.1L194 847.1L192.1 847.4M201.5 864.3L199.3 862.8L197.3 864.8L195.2 865L193.1 864.6M193.1 864.6L193 860.3L193.5 856L192 851.7L192.1 847.4M174 898.3L175.2 896.4L177.4 896.2L178.2 893.7L180.8 894.2M180.8 894.2L180.1 892.1L180.6 889.9L180.3 887.8L180 885.7M167.8 871.9L171 875.1L173.8 878.5L177.6 881.1L180.2 884.8M207.8 898.1L209.7 897.1L211.6 896.3L213.2 894.7L215.6 894.9M207.8 898.1L211.5 905.3L213.4 913.2L216.6 920.6L221.1 927.4M215.6 894.9L217 895L218.2 896.7L219.8 894.9L221.1 895.3M221.1 927.4L220.8 919.7L221.1 912.1L221 904.4L222.8 896.9M222.8 896.9L222.5 896.3L221.2 896.9L222.1 895.1L221.1 895.3M222.5 885.6L222.1 888L222.2 890.5L222.8 893.1L221.1 895.3M208.1 881.3L210.3 884.5L211.7 888.1L213.2 891.7L215.6 894.9M208.1 881.3L206 879.2L208.8 878.2L208.9 876.7L209.4 875.2M209.4 875.2L209.7 874.6L209.6 873.9L210.3 873.5L210.4 872.9M246.9 894.9L241 896.6L234.7 894.4L228.8 896.3L222.8 896.9M196.7 883.2L197.9 883L197.1 881.9L198.2 881.6L197.9 880.7M197.9 880.7L195.9 877.6L193.1 875.2L190.8 872.3L187.9 870M191.6 887.1L188.9 886.5L190.2 883.7L189 882.3L188.2 880.6M205.1 884.6L203.3 882.7L200.9 884L198.9 882.7L196.7 883.2M205.1 884.6L206.6 884.4L207.3 883.6L205.7 880.6L208.1 881.3M209.4 875.2L205.7 874.7L203.9 878.3L200.5 878.8L197.9 880.7M187.4 866.6L189 866.6L190.3 866L191.7 865.2L193.1 864.6M168.2 864.1L168.5 863.3L169.5 863.5L169.3 861.8L170.6 862.5M172.2 852.1L173.1 852.2L172.5 852.1L173.5 852.2L172.2 852M172.2 852.1L172.6 852.1L172 852.1L172.2 852.2L172.2 852.2M172.2 852.2L175.9 848.1L181.5 849.6L185.7 846.8L190.6 846.1M190.6 846.1L190.1 843.3L189.9 840.5L188.3 837.8L189.7 834.9M189.7 834.9L188.9 836.2L188.4 836.4L188.2 835.2L187.9 834.5M153.8 839.7L158.5 842.8L163.3 845.6L167.3 849.5L172.2 852.1M170.6 862.5L170.9 859.9L171.5 857.3L172.1 854.8L172.2 852.2M192.1 847.4L193.2 845.3L191.5 846.5L191 846.4L190.6 846.1M215 819L211.5 818.4L208.6 820.1L205.9 822.4L202.5 822.3M204 840.5L202.4 838.2L200.6 836.3L198.2 835.1L195.9 833.7M202.5 822.3L199.8 824.5L198.7 827.7L196.7 830.3L195.9 833.7M195.9 833.7L195.3 833.6L194.7 833.5L194.1 834.6L193.4 833.9M165.6 793.7L166.2 800.8L168.7 807.5L169.1 814.6L170.7 821.5M191.5 816L191.6 816.5L191.4 816.9L191.8 817.7L190.5 817.2M190.5 817.2L187.8 819.7L185.7 823L182.2 824.5L179.2 826.6M170.7 821.5L170.4 821.7L170.6 821.7L171.4 821.6L170.8 821.9M170.8 821.9L171.9 823L173.8 823.3L175.4 823.8L175.5 826.1M175.5 826.1L176.4 826.3L177.3 826.6L178.1 827.2L179.2 826.6M146.2 822.8L152.3 821.9L158.5 823L164.5 820.8L170.7 821.5M146.2 822.8L150.4 815.1L155.4 808L160.4 800.8L165.6 793.7M146.2 822.8L145.8 823.4L144.5 823.2L144.7 824.3L144.3 824.9M193.4 833.9L191.5 829.9L193.2 825.3L190.9 821.4L190.5 817.2M187.9 834.5L184.7 833.7L182.3 831.8L181.1 828.8L179.2 826.6M163.3 828.1L165.4 826.8L167.3 825.3L168.7 823.2L170.8 821.9M186.9 893.7L187.9 892.1L188.4 890.1L190.1 889.2L191.7 888.2M186.9 893.7L188.7 897.6L191 901.3L191.9 905.7L195.4 908.6M191.7 888.2L194 889.3L196.4 890L198.8 890.8L200.9 892.3M200.9 892.3L201 894L202.8 895L202.1 897L203.5 898.1M180.8 894.2L182.4 894.3L183.9 893.9L185.4 893.8L186.9 893.7M191.6 887.1L191.2 887.4L190.7 887.7L192.8 887.8L191.7 888.2M183 963.1L184.5 949.1L189.9 936L192.9 922.4L195.4 908.6M205.1 884.6L204.2 886.6L202.2 888L203.1 891L200.9 892.3M207.8 898.1L206.8 898.8L205.7 898.1L204.6 899.1L203.5 898.1" fill="none" stroke="#B79BB8" stroke-width="0.45" stroke-opacity="0.5" stroke-dasharray="1.1 0.5 0.5 0.5"/>
<g fill="#F7F5F3"><ellipse cx="162.6" cy="829.9" rx="0.8" ry="0.6" transform="rotate(178 162.6 829.9)"/><ellipse cx="166.3" cy="878" rx="0.9" ry="0.6" transform="rotate(32 166.3 878)"/><ellipse cx="167.8" cy="871.9" rx="2.6" ry="1.3" transform="rotate(115 167.8 871.9)"/><ellipse cx="236.9" cy="875.9" rx="1.2" ry="0.7" transform="rotate(148 236.9 875.9)"/><ellipse cx="163.3" cy="837" rx="2.2" ry="1.2" transform="rotate(87 163.3 837)"/><ellipse cx="170.7" cy="842.9" rx="2" ry="1.1" transform="rotate(174 170.7 842.9)"/><ellipse cx="160.6" cy="831.1" rx="1.9" ry="1" transform="rotate(117 160.6 831.1)"/><ellipse cx="155.6" cy="838.9" rx="2" ry="1.1" transform="rotate(115 155.6 838.9)"/><ellipse cx="153.8" cy="839.7" rx="1.5" ry="0.8" transform="rotate(164 153.8 839.7)"/><ellipse cx="146.2" cy="822.8" rx="0.7" ry="0.5" transform="rotate(133 146.2 822.8)"/><ellipse cx="239" cy="865.3" rx="1.2" ry="0.7" transform="rotate(177 239 865.3)"/><ellipse cx="204" cy="840.5" rx="2.6" ry="1.4" transform="rotate(156 204 840.5)"/><ellipse cx="231.6" cy="837.3" rx="1" ry="0.6" transform="rotate(42 231.6 837.3)"/><ellipse cx="170.5" cy="887.2" rx="0.8" ry="0.6" transform="rotate(38 170.5 887.2)"/><ellipse cx="205.1" cy="884.6" rx="2.6" ry="1.4" transform="rotate(111 205.1 884.6)"/><ellipse cx="222.5" cy="885.6" rx="2.6" ry="1.4" transform="rotate(155 222.5 885.6)"/><ellipse cx="208.1" cy="881.3" rx="1.7" ry="1" transform="rotate(148 208.1 881.3)"/><ellipse cx="210.4" cy="866.1" rx="2.4" ry="1.3" transform="rotate(67 210.4 866.1)"/><ellipse cx="209.4" cy="875.2" rx="0.9" ry="0.6" transform="rotate(138 209.4 875.2)"/><ellipse cx="210.4" cy="872.9" rx="1.7" ry="1" transform="rotate(21 210.4 872.9)"/><ellipse cx="199.5" cy="846" rx="1.1" ry="0.7" transform="rotate(152 199.5 846)"/><ellipse cx="187.4" cy="866.6" rx="2.5" ry="1.3" transform="rotate(156 187.4 866.6)"/><ellipse cx="192.1" cy="847.4" rx="1.3" ry="0.8" transform="rotate(167 192.1 847.4)"/><ellipse cx="180.8" cy="894.2" rx="1.5" ry="0.9" transform="rotate(85 180.8 894.2)"/><ellipse cx="180.2" cy="884.8" rx="2.6" ry="1.3" transform="rotate(178 180.2 884.8)"/><ellipse cx="180" cy="885.7" rx="2" ry="1.1" transform="rotate(50 180 885.7)"/><ellipse cx="221.1" cy="895.3" rx="1.4" ry="0.8" transform="rotate(56 221.1 895.3)"/><ellipse cx="191.6" cy="887.1" rx="1.5" ry="0.9" transform="rotate(83 191.6 887.1)"/><ellipse cx="172.2" cy="852.1" rx="1" ry="0.6" transform="rotate(144 172.2 852.1)"/><ellipse cx="172.2" cy="852.2" rx="2.4" ry="1.3" transform="rotate(91 172.2 852.2)"/><ellipse cx="172.2" cy="852" rx="2.3" ry="1.2" transform="rotate(175 172.2 852)"/><ellipse cx="190.6" cy="846.1" rx="0.8" ry="0.6" transform="rotate(158 190.6 846.1)"/><ellipse cx="189.7" cy="834.9" rx="1.6" ry="0.9" transform="rotate(120 189.7 834.9)"/><ellipse cx="187.9" cy="834.5" rx="2" ry="1.1" transform="rotate(148 187.9 834.5)"/><ellipse cx="202.5" cy="822.3" rx="2.4" ry="1.3" transform="rotate(33 202.5 822.3)"/><ellipse cx="193.4" cy="833.9" rx="2.2" ry="1.2" transform="rotate(23 193.4 833.9)"/><ellipse cx="170.8" cy="821.9" rx="2.5" ry="1.3" transform="rotate(26 170.8 821.9)"/><ellipse cx="175.5" cy="826.1" rx="2.4" ry="1.3" transform="rotate(16 175.5 826.1)"/><ellipse cx="186.9" cy="893.7" rx="2.9" ry="1.5" transform="rotate(12 186.9 893.7)"/><ellipse cx="200.9" cy="892.3" rx="2.7" ry="1.4" transform="rotate(60 200.9 892.3)"/><circle cx="231.9" cy="892.6" r="0.4"/><circle cx="163.6" cy="886.8" r="0.6"/><circle cx="150.1" cy="892.1" r="0.5"/><circle cx="192.8" cy="838.8" r="0.5"/><circle cx="206.8" cy="874.3" r="0.7"/><circle cx="173.3" cy="862.1" r="0.8"/><circle cx="231.7" cy="824.1" r="0.8"/><circle cx="164.2" cy="857.7" r="0.4"/><circle cx="159.6" cy="869.9" r="0.7"/><circle cx="156.4" cy="851.8" r="0.4"/><circle cx="205.6" cy="886.4" r="0.4"/><circle cx="157.3" cy="863" r="0.4"/><circle cx="153.5" cy="837.2" r="0.4"/><circle cx="203.1" cy="850.8" r="0.8"/><circle cx="175.6" cy="822.5" r="0.6"/><circle cx="227.2" cy="864.9" r="0.6"/><circle cx="232.9" cy="888" r="0.6"/><circle cx="196.3" cy="865.7" r="0.7"/></g>
</g>
<text x="231" y="891.8" font-size="2.9" text-anchor="middle" fill="#222">20μm</text>
<rect x="228.2" y="892.4" width="5.6" height="0.9" fill="#111"/>
<defs><clipPath id="tj107"><rect x="243.3" y="819.6" width="95.2" height="75.8"/></clipPath></defs>
<g clip-path="url(#tj107)">
<rect x="243.3" y="819.6" width="95.2" height="75.8" fill="#E6E4EF"/>
<ellipse cx="258.8" cy="876.8" rx="15.9" ry="8.3" fill="#E0DCEA" opacity="0.18"/>
<ellipse cx="275.8" cy="831.2" rx="12.8" ry="6.4" fill="#E0DCEA" opacity="0.18"/>
<ellipse cx="266.9" cy="865.1" rx="21.6" ry="13" fill="#E0DCEA" opacity="0.18"/>
<ellipse cx="311.8" cy="834.6" rx="14.9" ry="8.1" fill="#E0DCEA" opacity="0.18"/>
<ellipse cx="318.5" cy="881.6" rx="9.9" ry="15.3" fill="#E0DCEA" opacity="0.18"/>
<path d="M347.1 890.1L343.3 900.2L341.2 910.7L340.8 921.7L336.5 931.7M283.5 824.6L286.3 825.5L289.1 824.8L291.9 826.1L294.7 824.7M355 824.9L349.9 823.9L344.7 824.2L339.7 822.9L334.5 822.7M355 824.9L350.2 821.3L344.3 819.9L339.4 816.4L334.4 813.2M334.4 813.2L334.7 815.6L336 818L334.8 820.4L334.5 822.7M327.8 792.3L328.8 797.7L332.3 802.4L332.4 808.1L334.4 813.2M355.2 824.9L351 825.9L349.3 830.8L345.9 833L341.5 833.9M334.5 822.7L334 825L330.6 826.8L332.9 829.5L332.9 831.9M341.5 833.9L339.1 834.6L337.1 833.3L335.1 832.2L332.9 831.9M341.5 833.9L344.1 840.6L346 847.7L351 853.2L354.5 859.5M347.1 890.1L346.1 889.7L345.1 889.7L344 889.7L343 889.4M343 889.4L342.2 882.3L338.8 875.8L337.8 868.7L336.1 861.8M246.7 814.5L243.4 817.2L238.6 818.1L236.9 822.8L233.4 825.3M252.6 830.8L247.6 829.9L242.8 828.5L237.6 828.6L233.4 825.3M259.4 811.8L259.8 813.6L259.8 815.6L262 816.8L261.9 818.9M259.9 823.1L259.7 821.7L260.3 820.7L260.4 819.4L261.9 818.9M283.5 824.6L283.3 824.5L283 824.5L282.7 824.2L282.7 824.9M261.9 818.9L267.1 820.2L272.2 822.1L277.5 823.2L282.7 824.9M252.6 830.8L253.2 834.7L251.9 838.2L250 841.7L249.8 845.4M143.4 841.2L134.6 842.6L126.4 837.9L117.7 837.9L109 837.3M216.6 847.7L224.6 847.1L232.7 848.9L240.6 846.9L248.7 846.5M216.6 847.7L225.3 855.1L235.8 859.5L244.9 866.3L254.9 871.4M248.7 846.5L250.5 852.7L251.8 859L253.7 865.1L254.9 871.4M255.6 872.8L255.2 872.6L253.9 872.8L254.8 871.9L254.9 871.4M343 889.4L339.7 889.6L336.3 889.5L333 889.9L329.8 891.2M333.9 861.8L334.4 862.5L335 861.8L335.5 862.7L336.1 861.8M333.9 861.8L332.2 866.1L328.3 869.1L326.5 873.4L324.5 877.6M324.5 877.6L325.3 881.1L327.5 884.2L328.6 887.7L329.8 891.2M336.5 931.7L332.9 923.6L331.4 915L329.9 906.3L327.3 898M327.3 898L327.6 896.2L328.5 894.6L329.8 893.1L329.8 891.2M327.8 792.3L324.3 800.3L319.8 807.7L316.7 815.9L312.4 823.4M332.9 831.9L331.8 833.5L329.7 833.7L329.2 836.3L326.7 835.8M312.4 823.4L316.6 825.8L320.2 828.8L322.8 833L326.7 835.8M329.2 857.2L328.7 854.3L326.9 851.9L324.7 849.8L324.6 846.7M329.2 857.2L329.3 859.4L330.7 860.4L332.2 861.2L333.9 861.8M324.6 846.7L324.3 843.8L324.7 841.1L326.9 838.6L326.7 835.8M259.9 823.1L262.5 826.2L262.9 830.5L265.2 833.9L266.9 837.6M249.8 845.4L250.5 843.6L250.8 846.2L251.4 845.9L251.9 845.6M266.9 837.6L263.1 839.5L258.8 840.5L255.7 843.6L251.9 845.6M282.7 824.9L282 828.1L280.8 831.1L279.2 834L278.7 837.2M266.9 837.6L267.4 838.7L269.4 838.2L268.5 840.7L270.1 840.7M278.7 837.2L276.2 837.1L274.8 839.7L273.1 841.8L270.1 840.7M251.9 845.6L255.3 847.8L259.5 846.4L263.2 847.6L266.7 849M266.7 849L267.4 849.4L266.6 848.2L267 848.3L267.4 848.4M267.4 848.4L266.7 846L267 843.9L268.8 842.4L270.1 840.7M255.6 872.8L254.7 873.5L254.5 873.7L255.9 872.9L255.8 873.1M266.7 849L267.3 853.3L267.3 857.7L267.7 862L269.4 866.2M255.8 873.1L256.1 874.5L257.5 872.2L257.6 874.5L258.5 873.8M269.4 866.2L266.5 867.9L263.5 869.5L259.5 869.5L258.5 873.8M282.6 872.2L279.7 870.8L281.6 868.7L280.5 867.1L281.4 865.1M282.6 872.2L283.4 875.5L285.2 878.2L288.2 880.3L289.1 883.6M281.4 865.1L286.7 866.6L291.4 869.4L296.4 871.6L301.3 873.9M301.3 873.9L298 876L294 877.2L293.5 882.9L289.1 883.6M329.2 857.2L324.3 857.6L319.8 859.5L315 860L310.4 861.2M324.5 877.6L320.5 878.1L316.4 877.6L312.4 877.5L308.5 879.2M308.5 879.2L308.2 876.9L306.5 876L304.5 875.3L303.3 873.8M310.4 861.2L309.6 864.8L306.4 866.9L304.4 869.8L303.4 873.2M303.8 826.2L303.8 831.9L307.6 836L309.1 841.1L312 845.6M303.8 826.2L302.1 825.5L300.4 827.3L298.7 825.3L297 826.2M296.8 830.5L296.4 831.9L297.1 833.2L297.5 834.4L298 835.7M298 835.7L297.8 839.7L300.3 843L301.7 846.6L302.1 850.4M312 845.6L309.4 846.5L307.4 848.6L304.5 849L302.2 850.4M302.2 850.4L302.2 850L302.1 851.6L302.1 850.7L302.1 850.4M312.4 823.4L310.4 824.6L308.2 825.2L305.9 825.2L303.8 826.2M324.6 846.7L321.5 845L318.3 845.4L315.2 844.6L312 845.6M294.7 824.7L294.8 825.8L297 823.7L296 826.5L297 826.2M310.4 861.2L308.1 858.7L305.4 856.5L304.3 853.1L302.2 850.4M303.4 873.2L302 868.1L298.6 863.8L298.4 858.2L295.9 853.6M295.9 853.6L298.1 853.9L299 851.9L301.1 852.3L302.1 850.4M278.1 849.1L278.5 847.3L278.6 845.4L280 844L281.1 842.5M278.1 849.1L277.6 852.9L282 854.7L283.2 857.9L282.9 861.5M281.1 842.5L282.8 843.5L284.8 843.9L286.6 844.5L288.3 845.7M288.3 845.7L288.3 847.2L288.7 848.5L292.3 848.1L290.9 850.4M282.9 861.5L286.1 860.6L287.7 857.7L289.4 854.8L292.4 853.7M290.9 850.4L290.4 851.7L292 851.9L292.3 852.7L292.4 853.7M278.7 837.2L279.5 838.5L279.3 840.2L281.4 840.8L281.1 842.5M267.4 848.4L270.1 848.2L272.8 847.8L275.4 848.7L278.1 849.1M281.2 864.8L278.3 865.7L275.1 864.4L272.5 867.3L269.4 866.2M281.2 864.8L282.2 864.3L283.3 863.9L283.4 862.9L282.9 861.5M298 835.7L296.3 839.4L294.6 843.1L293.3 847L290.9 850.4M281.2 864.8L281.5 864.6L280.7 865.4L279.6 866.4L281.4 865.1M303.3 873.8L302.8 873.6L302.2 871.8L301.7 873L301.3 873.9M295.9 853.6L295.1 854.1L294.2 853.4L293.4 856.6L292.4 853.7M262.7 893.3L265.9 893.8L269.2 892.1L272.4 893.6L275.6 893.3M262.7 893.3L261.6 893.2L263.2 892.3L262 892.2L262.2 891.8M262.2 891.8L261.2 888.9L261.8 886L263.1 883.1L261.6 880.3M275.6 893.3L274.4 892L276.4 890L275.7 888.5L274.3 887.2M261.6 880.3L264.5 880.2L267 881.2L269.4 882.7L272.1 883.3M272.1 883.3L271.1 885.1L273 885.4L273.3 886.5L274.3 887.2M264.5 924.7L263.1 916.9L264.6 908.9L263.1 901.1L262.7 893.3M264.5 924.7L267.9 916.7L273.4 910L278.8 903.2L283 895.7M283 895.7L281.4 894.2L278.8 895.9L277.8 892.9L275.6 893.3M202.5 907L217.2 902.4L231.9 897.8L247 894.6L262.2 891.8M283.7 895.2L281.3 893.2L279 891.2L275.7 890.4L274.3 887.2M278.5 883.4L276.9 882.5L275.3 883L273.7 882.4L272.1 883.3M305.9 896.8L307.1 893.7L305.4 890.3L307.5 887.3L307.4 884M305.9 896.8L304.1 897.5L304.3 900.1L301.5 899.9L301.2 902M301.2 902L297.2 900.6L293.6 898.5L290.5 895.8L287.2 893.2M287 889.2L287.2 888.8L286.2 887.9L288.4 888.6L287.7 887.8M327.3 898L321.9 899L316.6 897.9L311.3 896.4L305.9 896.8M308.5 879.2L310.5 881L307.7 881.6L307.6 882.8L307.4 884M289.1 883.6L288.4 884.5L287.9 885.5L288.2 886.8L287.7 887.8M283.7 895.2L284.3 894.4L285.4 894.1L286.4 893.9L287.2 893.2M278.5 883.4L280.4 885.1L283.5 885.2L284.1 888.9L287 889.2" fill="none" stroke="#B79BB8" stroke-width="0.45" stroke-opacity="0.5" stroke-dasharray="1.1 0.5 0.5 0.5"/>
<g fill="#F7F5F3"><ellipse cx="252.6" cy="830.8" rx="2.5" ry="1.3" transform="rotate(41 252.6 830.8)"/><ellipse cx="332.9" cy="831.9" rx="2.1" ry="1.1" transform="rotate(101 332.9 831.9)"/><ellipse cx="336.1" cy="861.8" rx="2.5" ry="1.3" transform="rotate(130 336.1 861.8)"/><ellipse cx="259.9" cy="823.1" rx="1.6" ry="0.9" transform="rotate(124 259.9 823.1)"/><ellipse cx="282.7" cy="824.9" rx="2.7" ry="1.4" transform="rotate(129 282.7 824.9)"/><ellipse cx="255.6" cy="872.8" rx="1.9" ry="1.1" transform="rotate(23 255.6 872.8)"/><ellipse cx="254.9" cy="871.4" rx="2.3" ry="1.2" transform="rotate(115 254.9 871.4)"/><ellipse cx="329.8" cy="891.2" rx="2.9" ry="1.5" transform="rotate(171 329.8 891.2)"/><ellipse cx="312.4" cy="823.4" rx="0.8" ry="0.5" transform="rotate(79 312.4 823.4)"/><ellipse cx="324.6" cy="846.7" rx="1.7" ry="0.9" transform="rotate(96 324.6 846.7)"/><ellipse cx="266.9" cy="837.6" rx="2.3" ry="1.2" transform="rotate(33 266.9 837.6)"/><ellipse cx="251.9" cy="845.6" rx="1.3" ry="0.8" transform="rotate(143 251.9 845.6)"/><ellipse cx="267.4" cy="848.4" rx="0.7" ry="0.5" transform="rotate(128 267.4 848.4)"/><ellipse cx="255.8" cy="873.1" rx="2.2" ry="1.2" transform="rotate(16 255.8 873.1)"/><ellipse cx="281.2" cy="864.8" rx="1.7" ry="1" transform="rotate(151 281.2 864.8)"/><ellipse cx="281.4" cy="865.1" rx="0.9" ry="0.6" transform="rotate(2 281.4 865.1)"/><ellipse cx="278.5" cy="883.4" rx="2.7" ry="1.4" transform="rotate(52 278.5 883.4)"/><ellipse cx="258.5" cy="873.8" rx="1" ry="0.6" transform="rotate(97 258.5 873.8)"/><ellipse cx="301.3" cy="873.9" rx="1.1" ry="0.7" transform="rotate(78 301.3 873.9)"/><ellipse cx="310.4" cy="861.2" rx="2.3" ry="1.2" transform="rotate(163 310.4 861.2)"/><ellipse cx="303.8" cy="826.2" rx="0.8" ry="0.5" transform="rotate(40 303.8 826.2)"/><ellipse cx="297" cy="826.2" rx="1.6" ry="0.9" transform="rotate(122 297 826.2)"/><ellipse cx="312" cy="845.6" rx="1.8" ry="1" transform="rotate(140 312 845.6)"/><ellipse cx="302.2" cy="850.4" rx="2.8" ry="1.5" transform="rotate(25 302.2 850.4)"/><ellipse cx="302.1" cy="850.4" rx="2" ry="1.1" transform="rotate(88 302.1 850.4)"/><ellipse cx="281.1" cy="842.5" rx="2.6" ry="1.4" transform="rotate(179 281.1 842.5)"/><ellipse cx="282.9" cy="861.5" rx="2.6" ry="1.4" transform="rotate(26 282.9 861.5)"/><ellipse cx="283.7" cy="895.2" rx="1.9" ry="1" transform="rotate(141 283.7 895.2)"/><ellipse cx="262.7" cy="893.3" rx="2.3" ry="1.2" transform="rotate(91 262.7 893.3)"/><ellipse cx="262.2" cy="891.8" rx="1.7" ry="1" transform="rotate(63 262.2 891.8)"/><ellipse cx="275.6" cy="893.3" rx="2.5" ry="1.3" transform="rotate(161 275.6 893.3)"/><ellipse cx="261.6" cy="880.3" rx="1.8" ry="1" transform="rotate(29 261.6 880.3)"/><ellipse cx="272.1" cy="883.3" rx="1.6" ry="0.9" transform="rotate(135 272.1 883.3)"/><ellipse cx="274.3" cy="887.2" rx="1.3" ry="0.8" transform="rotate(153 274.3 887.2)"/><ellipse cx="287.2" cy="893.2" rx="1.3" ry="0.8" transform="rotate(62 287.2 893.2)"/><ellipse cx="287.7" cy="887.8" rx="1.1" ry="0.7" transform="rotate(158 287.7 887.8)"/><circle cx="268" cy="859.9" r="0.6"/><circle cx="335" cy="858.4" r="0.6"/><circle cx="256.9" cy="857" r="0.8"/><circle cx="337.1" cy="831.8" r="0.8"/><circle cx="306.7" cy="843.8" r="0.6"/><circle cx="274.5" cy="857.8" r="0.5"/><circle cx="249.5" cy="872.1" r="0.9"/><circle cx="264.2" cy="856.5" r="0.6"/><circle cx="260.6" cy="839.2" r="0.9"/><circle cx="323.8" cy="853.4" r="0.5"/><circle cx="245.1" cy="819.7" r="0.8"/><circle cx="248.4" cy="894.2" r="0.7"/><circle cx="268.8" cy="836.8" r="0.6"/><circle cx="327.2" cy="837.7" r="0.5"/><circle cx="265.9" cy="833.7" r="0.7"/><circle cx="263.5" cy="877.2" r="0.4"/><circle cx="304.7" cy="853.5" r="0.6"/><circle cx="268.1" cy="881.9" r="0.7"/></g>
</g>
<text x="330" y="891.8" font-size="2.9" text-anchor="middle" fill="#222">20μm</text>
<rect x="327.2" y="892.4" width="5.6" height="0.9" fill="#111"/>
<defs><clipPath id="tj108"><rect x="342.5" y="819.6" width="95.7" height="75.8"/></clipPath></defs>
<g clip-path="url(#tj108)">
<rect x="342.5" y="819.6" width="95.7" height="75.8" fill="#E6E4EF"/>
<ellipse cx="364.9" cy="822.2" rx="16.1" ry="7.3" fill="#E0DCEA" opacity="0.18"/>
<ellipse cx="408.2" cy="871.4" rx="20.2" ry="7.3" fill="#E0DCEA" opacity="0.18"/>
<ellipse cx="398.9" cy="823.6" rx="12.5" ry="10.6" fill="#E0DCEA" opacity="0.18"/>
<ellipse cx="429.1" cy="860.6" rx="8.5" ry="13" fill="#E0DCEA" opacity="0.18"/>
<ellipse cx="437.6" cy="834.8" rx="17" ry="13.4" fill="#E0DCEA" opacity="0.18"/>
<path d="M342.8 853.4L341 856.4L339.2 859.5L336.6 862L334.5 864.9M342.8 853.4L344.2 856.1L342.8 859.2L343.4 862.1L344.6 864.8M344.6 864.8L342.1 865L339.6 864.4L337 865.8L334.5 864.9M417.3 870.1L415.2 871.1L417.3 871.7L418.1 872.4L417.7 873.2M417.3 870.1L421.2 871.5L425.4 869.7L429.2 873.1L433.4 871.4M432.4 882.2L431.8 883L431 882.1L430.3 882.4L429.5 882.5M432.4 882.2L434 881.1L435.2 879.7L435.6 877.6L437.4 876.8M433.4 871.4L434 873L435.5 874L436.9 875.1L437.4 876.8M429.5 882.5L425.9 881L424.2 877.1L420.1 876.2L417.7 873.2M435.5 898.3L433.8 896.2L434.7 893.8L434.1 891.6L434.4 889.2M461.1 874.1L456.5 874.4L451.8 874.7L447.2 874.1L442.6 875.5M432.4 882.2L432.8 884L433.7 885.6L432.4 887.9L434.4 889.2M437.4 876.8L438.7 876.3L439.6 874.7L441.1 874.9L442.6 875.5M435.5 898.3L432.8 902.6L429 906.1L425.8 910L423.1 914.3M417.3 870.1L417.1 868L416.7 866.1L416.3 864.1L414.8 862.5M407.6 864.2L408.5 867.4L409.9 870.6L410.9 873.8L410.6 877.3M407.6 864.2L408.5 864.8L408.4 864.7L407.3 863.8L407.7 864M410.6 877.3L411.4 877.3L412 879.1L412.8 878.8L413.8 877.8M417.7 873.2L416.5 874.2L416 875.7L414.2 876.2L413.8 877.8M390.4 878.4L392.4 879L394.3 879.8L396.5 880.2L397.7 882.4M401.6 870.6L400.4 872.5L401.7 874.9L399.5 876.5L399.9 878.7M401.6 870.6L397.7 868.4L394.8 864.2L388.2 866.8L385.7 862M385.7 862L385.5 863.5L384.3 864.5L385 866.4L383.3 867.3M397.7 882.4L399 882L399.3 880.9L399.3 879.6L399.9 878.7M407.6 864.2L405.3 865L404.7 867.5L403.1 869L401.6 870.6M386.3 853.4L388.2 852.6L390.6 854.1L392.4 852.9L394.2 851.5M386.3 853.4L385.4 855.5L387 857.7L387.7 859.9L385.7 862M394.2 851.5L397.6 854.6L400 858.8L403.8 861.4L407.7 864M390.4 878.4L386.8 881.3L382.4 882.6L378 883.8L374.2 886.3M374.2 886.3L375.3 882.7L374.7 879L372.8 875.3L375 871.8M386.3 853.4L384.4 852.1L382.3 851.2L381.2 849.1L379.2 847.9M379.2 847.9L374.7 850.2L369.6 851.2L365.7 855L360.7 856.3M360.7 856.3L360.7 858.9L360.7 861.5L362.6 863.7L362.9 866.3M375 871.8L372.5 869.2L368.6 869.9L366.6 866.3L362.9 866.3M404 897.8L407.1 896.8L409.9 894.8L413.4 894.9L416.4 893.7M404 897.8L401.3 897.1L398.7 896.3L396.3 894.7L393.5 894.7M393.5 894.7L394.6 892.1L394.5 889L397.7 887.3L398 884.4M398 884.4L402.1 886L406.3 886.8L410.7 887.3L414.7 889.2M414.7 889.2L414.5 890.4L415.3 890.4L416 890.3L416.4 890.8M416.4 890.8L414.9 891.5L415.4 892.2L417 892.9L416.4 893.7M420.7 929.1L417.3 920.9L410.2 914.6L407.9 905.8L404 897.8M423.1 914.3L422 909L418.9 904.3L418.4 898.7L416.4 893.7M376 912.5L380.9 908.6L384.5 903.4L389.1 899.2L393.5 894.7M376 912.5L374.4 909.1L370.4 907.1L370.7 902.7L368.8 899.5M397.7 882.4L399.6 882.6L396.5 883.6L398.9 883.7L398 884.4M368.8 899.5L371 896.5L370.5 892.5L373.2 889.7L374.2 886.3M413.8 877.8L413.3 880.7L415.1 883.5L414 886.4L414.7 889.2M429.5 882.5L426.7 885.3L422.2 885.3L419 887.6L416.4 890.8M324.3 870.6L327 869.5L329.8 868.5L331.4 865.3L334.5 864.9M342.8 853.4L343.6 851.2L345 849.2L344.5 846.5L346.2 844.7M341 838.5L341.7 840.6L342.7 842.3L345.7 842.4L346.2 844.7M344.6 864.8L345.2 864.9L346.2 863.8L345.5 866.4L346.4 865.7M346.4 865.7L349.4 863L352.7 860.6L355.5 857.5L358.9 855.3M358.9 855.3L356.2 854.4L356.1 851L354.3 849.3L352 848M346.2 844.7L347.2 846.2L348.9 846.7L350.5 847.3L352 848M379.2 847.9L377.5 844.2L378.5 840.2L377.6 836.4L377.2 832.5M358.9 855.3L359.6 855L360.3 854.9L360.9 854.9L360.7 856.3M352 848L356.2 843.8L362.4 842L366.5 837.7L370.3 833M377.2 832.5L375.4 831.3L373.8 833L371.9 831.4L370.3 833M343.3 834.3L347.5 834.8L350.2 831.5L353.3 829.2L357.1 828.8M370.3 833L367 831.8L363.7 830.7L360.7 829L357.1 828.8M343.2 823.5L345.9 823L346.8 819.8L349 818.5L351.6 817.9M351.6 817.9L353.7 817.7L355.8 818.9L357.9 818.9L360 818.3M357.1 828.8L358.3 826.3L358.3 823.4L358.8 820.7L360 818.3M377.2 832.5L378 832L378.3 831.2L377.5 829.9L378.7 829.6M360 818.3L360.3 816.8L362 816.7L362.7 815.7L363.6 814.8M363.6 814.8L365.6 820L372.1 820.4L375 824.6L378.5 828.4M363.6 814.8L363.8 808.4L361.8 802.2L362.6 795.8L363 789.5M352.9 748.6L354.4 759.1L358.2 769L359.8 779.4L363 789.5M461.1 874.1L455.2 868.4L448.4 863.6L442.7 857.8L437.4 851.4M450.8 820.3L448.5 822.1L446.3 824.1L444.3 826.2L442.5 828.5M442.5 828.5L440.2 834L440.9 840.2L438.4 845.6L437.4 851.4M437.4 851.4L436.6 851.4L437.8 853.1L436.3 852.6L436.1 853.1M433.4 871.4L431.4 868.7L430.3 865.6L429.5 862.3L427.3 859.8M340.2 895.9L346.4 896.7L352.7 895.7L358.9 895.7L365.1 897M340.2 895.9L338.9 891.8L338.7 887.7L338.8 883.5L339.6 879.3M365.1 897L360.6 893.2L360.3 887.3L357.4 882.8L355.5 877.7M355.5 877.7L353.6 877.7L351.8 876.6L349.8 876.9L347.9 876.5M339.6 879.3L341.5 878.2L343.7 877.9L345.9 877.3L347.9 876.5M368.8 899.5L367.6 899.2L367 898.2L364.4 899.9L365.1 897M362.9 866.3L360.9 869.1L360.4 872.7L357 874.6L355.5 877.7M402.6 828.8L405.2 827.6L406.4 824.8L407.8 822.2L410.6 821.2M402.6 828.8L402.2 828.6L401.6 828.8L401.7 828L401.3 827.8M397.8 805.2L401.7 808.1L405 811.5L409.5 813.7L412.6 817.5M412.6 817.5L411.3 817.9L410.4 818.6L410.6 820L410.6 821.2M394.2 851.5L395.4 851.4L394.4 849L396 849.2L396.9 848.7M396.9 848.7L398.6 844.4L400.6 840.2L402.3 835.8L404.6 831.8M404.6 831.8L402 832.4L404 830L404.6 828.6L402.6 828.8M378.7 829.6L384.3 828.8L389.9 827.7L395.7 829L401.3 827.8M397.7 804.6L397.4 804.8L396.6 805.1L397.9 805L397.8 805.2M380.2 821.2L384.5 817.2L388.1 812.5L393.4 809.7L397 805M377.9 811.2L382.8 810.2L387.3 807.8L391.8 805.3L397 805M363 789.5L366.9 794.8L368.5 801.7L375 805.2L377.9 811.2M417.8 836.7L418.6 837.2L419.3 834.7L420.2 836.6L421 836.6M417.8 836.7L416.3 840.2L414.6 843.7L412.6 847L411.5 850.7M421 836.6L421.6 842.3L421.2 848L422.1 853.6L422.7 859.3M411.5 850.7L412.5 853.6L414 856.3L414.9 859.2L414.9 862.4M414.9 862.4L416.7 861.2L418.6 860.3L420.4 859.3L422.7 859.3M404.6 831.8L408.8 830.5L411 834.7L414.3 835.9L417.8 836.7M442.5 828.5L437.4 831.4L431.6 832.3L426.6 835.3L421 836.6M396.9 848.7L400.6 848.5L404.1 850.3L407.9 850.1L411.5 850.7M427.3 859.8L426.1 860.2L425.1 858.7L423.8 859.9L422.7 859.3M414.8 862.5L415.5 863L415.5 863L414.8 862.4L414.9 862.4" fill="none" stroke="#B79BB8" stroke-width="0.45" stroke-opacity="0.5" stroke-dasharray="1.1 0.5 0.5 0.5"/>
<g fill="#F7F5F3"><ellipse cx="343.2" cy="823.5" rx="2.2" ry="1.2" transform="rotate(174 343.2 823.5)"/><ellipse cx="386.3" cy="853.4" rx="2.8" ry="1.5" transform="rotate(109 386.3 853.4)"/><ellipse cx="417.3" cy="870.1" rx="2.5" ry="1.3" transform="rotate(29 417.3 870.1)"/><ellipse cx="379.2" cy="847.9" rx="2.8" ry="1.5" transform="rotate(171 379.2 847.9)"/><ellipse cx="342.8" cy="853.4" rx="0.8" ry="0.6" transform="rotate(149 342.8 853.4)"/><ellipse cx="346.4" cy="865.7" rx="1.3" ry="0.8" transform="rotate(165 346.4 865.7)"/><ellipse cx="358.9" cy="855.3" rx="1.7" ry="0.9" transform="rotate(12 358.9 855.3)"/><ellipse cx="360.7" cy="856.3" rx="2.4" ry="1.3" transform="rotate(20 360.7 856.3)"/><ellipse cx="433.4" cy="871.4" rx="1.7" ry="1" transform="rotate(38 433.4 871.4)"/><ellipse cx="437.4" cy="876.8" rx="2.5" ry="1.3" transform="rotate(108 437.4 876.8)"/><ellipse cx="410.6" cy="877.3" rx="2" ry="1.1" transform="rotate(124 410.6 877.3)"/><ellipse cx="429.5" cy="882.5" rx="1.1" ry="0.7" transform="rotate(62 429.5 882.5)"/><ellipse cx="417.7" cy="873.2" rx="1.4" ry="0.8" transform="rotate(146 417.7 873.2)"/><ellipse cx="434.4" cy="889.2" rx="2.6" ry="1.4" transform="rotate(125 434.4 889.2)"/><ellipse cx="394.2" cy="851.5" rx="2.2" ry="1.2" transform="rotate(22 394.2 851.5)"/><ellipse cx="414.8" cy="862.5" rx="1.4" ry="0.8" transform="rotate(91 414.8 862.5)"/><ellipse cx="404.6" cy="831.8" rx="2.8" ry="1.5" transform="rotate(61 404.6 831.8)"/><ellipse cx="390.4" cy="878.4" rx="1.4" ry="0.8" transform="rotate(149 390.4 878.4)"/><ellipse cx="385.7" cy="862" rx="2.1" ry="1.1" transform="rotate(101 385.7 862)"/><ellipse cx="383.3" cy="867.3" rx="1.7" ry="1" transform="rotate(120 383.3 867.3)"/><ellipse cx="397.7" cy="882.4" rx="1" ry="0.6" transform="rotate(72 397.7 882.4)"/><ellipse cx="374.2" cy="886.3" rx="2.8" ry="1.5" transform="rotate(41 374.2 886.3)"/><ellipse cx="375" cy="871.8" rx="2.8" ry="1.5" transform="rotate(45 375 871.8)"/><ellipse cx="362.9" cy="866.3" rx="2.7" ry="1.4" transform="rotate(69 362.9 866.3)"/><ellipse cx="393.5" cy="894.7" rx="1" ry="0.6" transform="rotate(63 393.5 894.7)"/><ellipse cx="414.7" cy="889.2" rx="2.8" ry="1.5" transform="rotate(56 414.7 889.2)"/><ellipse cx="416.4" cy="890.8" rx="1.3" ry="0.8" transform="rotate(87 416.4 890.8)"/><ellipse cx="346.2" cy="844.7" rx="1.4" ry="0.8" transform="rotate(66 346.2 844.7)"/><ellipse cx="377.2" cy="832.5" rx="1" ry="0.7" transform="rotate(124 377.2 832.5)"/><ellipse cx="370.3" cy="833" rx="2.2" ry="1.2" transform="rotate(59 370.3 833)"/><ellipse cx="357.1" cy="828.8" rx="2.2" ry="1.2" transform="rotate(178 357.1 828.8)"/><ellipse cx="378.5" cy="828.4" rx="0.9" ry="0.6" transform="rotate(135 378.5 828.4)"/><ellipse cx="436.1" cy="853.1" rx="1.2" ry="0.7" transform="rotate(110 436.1 853.1)"/><ellipse cx="427.3" cy="859.8" rx="1.5" ry="0.9" transform="rotate(72 427.3 859.8)"/><ellipse cx="355.5" cy="877.7" rx="2.2" ry="1.2" transform="rotate(91 355.5 877.7)"/><ellipse cx="347.9" cy="876.5" rx="2.2" ry="1.2" transform="rotate(15 347.9 876.5)"/><ellipse cx="410.6" cy="821.2" rx="2.6" ry="1.4" transform="rotate(76 410.6 821.2)"/><ellipse cx="417.8" cy="836.7" rx="1.7" ry="1" transform="rotate(7 417.8 836.7)"/><ellipse cx="421" cy="836.6" rx="0.9" ry="0.6" transform="rotate(158 421 836.6)"/><ellipse cx="411.5" cy="850.7" rx="1.6" ry="0.9" transform="rotate(128 411.5 850.7)"/><ellipse cx="414.9" cy="862.4" rx="1" ry="0.6" transform="rotate(122 414.9 862.4)"/><ellipse cx="422.7" cy="859.3" rx="1.9" ry="1.1" transform="rotate(32 422.7 859.3)"/><circle cx="355.2" cy="868" r="0.9"/><circle cx="362.6" cy="858.7" r="0.6"/><circle cx="380.9" cy="871.8" r="0.5"/><circle cx="383.3" cy="844" r="0.8"/><circle cx="369.8" cy="832.8" r="0.9"/><circle cx="402.1" cy="870.4" r="0.6"/><circle cx="353.2" cy="873.6" r="0.5"/><circle cx="345.7" cy="837.5" r="0.6"/><circle cx="402" cy="880.4" r="0.7"/><circle cx="351.9" cy="879.2" r="0.9"/><circle cx="411.9" cy="895" r="0.5"/><circle cx="379.1" cy="861.8" r="0.5"/><circle cx="353.3" cy="823.3" r="0.9"/><circle cx="437.3" cy="850.5" r="0.5"/><circle cx="349.2" cy="839.2" r="0.8"/><circle cx="404.4" cy="837.6" r="0.7"/><circle cx="360.7" cy="872.5" r="0.5"/><circle cx="403.8" cy="878" r="0.7"/></g>
</g>
<text x="429.7" y="891.8" font-size="2.9" text-anchor="middle" fill="#222">20μm</text>
<rect x="426.9" y="892.4" width="5.6" height="0.9" fill="#111"/>
<defs><clipPath id="tj109"><rect x="44.4" y="909" width="95.6" height="76"/></clipPath></defs>
<g clip-path="url(#tj109)">
<rect x="44.4" y="909" width="95.6" height="76" fill="#E6E4EF"/>
<ellipse cx="102.9" cy="946.3" rx="17.8" ry="7.9" fill="#E0DCEA" opacity="0.18"/>
<ellipse cx="118.5" cy="962.8" rx="13.1" ry="15.7" fill="#E0DCEA" opacity="0.18"/>
<ellipse cx="53.3" cy="940.4" rx="8.9" ry="9" fill="#E0DCEA" opacity="0.18"/>
<ellipse cx="139.6" cy="979" rx="14.3" ry="15.2" fill="#E0DCEA" opacity="0.18"/>
<ellipse cx="72.3" cy="951.6" rx="14.4" ry="6.2" fill="#E0DCEA" opacity="0.18"/>
<path d="M46.3 920.9L35.5 926.2L25.6 932.9L16.1 940.5L5.3 945.9M46.3 920.7L46.2 917.6L44 915.5L43.2 912.8L41.7 910.3M-28.5 942.3L-20 942.2L-11.7 945L-3.2 945.5L5.3 945.9M46.3 920.7L51 919.6L55.1 917.1L60 916.3L63.7 913M41.7 910.3L45.8 904.9L50.7 900.1L54.4 894.4L58.4 888.9M63.7 913L63.1 910.2L62.2 907.3L62 904.4L61.7 901.5M5.3 945.9L12.2 945.6L18.3 949.5L25.1 949.6L31.8 950.2M31.8 950.2L34.9 956.3L37.8 962.4L39.8 969L42.4 975.3M68.6 1007.6L66.2 1001.4L64.1 995.2L61.3 989.2L58.8 983.1M42.4 975.3L46.8 976.7L50.5 979.4L53.8 983L58.8 983.1M115.5 920.8L113.8 918.5L112.4 915.9L111.2 913.3L109.4 911M115.5 920.8L119.3 919.5L122.9 917L127.4 918.2L131.1 916.3M127.4 907.6L123.6 905.8L120.9 902.3L117.6 899.8L113.4 898.8M109.4 911L111.5 908.3L112.3 905.2L112.9 902L113.4 898.8M131.6 905.2L130.5 905.7L129.3 906.1L128.1 906.5L127.4 907.6M144.5 901.7L141.9 905.3L140.4 909.4L138.9 913.5L137.5 917.6M137.5 917.6L148.1 916.1L158.8 916.2L169.5 916.2L180.1 915.8M134.9 919.4L135.6 919L136.9 919.5L137 918.2L137.5 917.6M134.9 919.4L134 918.5L132.5 918.4L132.4 916.6L131.1 916.3M131.6 905.2L134.8 904.3L137.6 901.9L141.3 902.8L144.5 901.7M81.9 964.6L81.7 966.4L81.6 968.1L83.4 969.3L83.5 971M81.9 964.6L79.4 962.3L75.9 962.2L71.9 963.1L70.2 959.2M83.5 971L77.6 969.3L71.7 967.1L65.4 970.3L59.5 968.8M70.2 959.2L67.1 959.8L64.1 960.5L61.3 962.4L58 961.9M59.5 968.8L59.4 967L59.2 965.3L59.5 963.4L58 961.9M83.5 971L85.3 972.8L84.6 975.7L84.8 978.3L87.5 979.6M83.6 987.2L85.3 985.7L84.7 982.9L85.9 981.2L87.5 979.6M83.6 987.2L91.4 989L99.7 989.5L106.5 994.4L114.2 996.6M125.2 984.5L125.9 981.7L125.9 978.7L125.5 975.7L126.4 972.9M125.2 984.5L130.3 988.9L133.7 994.9L138.4 999.7L143.2 1004.4M126.4 972.9L128 975.8L131.3 977.2L132.6 980.4L135.1 982.4M143.2 1004.4L142.1 998.5L138.9 993.5L138 987.6L135.1 982.4M142.5 977.5L142 976.9L141.6 976.1L140.5 977.3L140.1 976.6M140.1 976.6L139.4 978.5L137.7 979.6L136.7 981.2L135.1 982.4M126.2 972.5L125.9 972.8L126.8 972.5L127.6 972.3L126.4 972.9M126.2 972.5L126.7 970.6L127.6 968.9L129 967.7L130.5 966.5M140.1 976.6L138.9 975.2L138.2 973.6L137.2 972.1L136.7 970.5M130.5 966.5L131.9 967.7L133.3 969L135.1 969.4L136.7 970.5M142.5 977.5L144.3 976.4L143.8 973.6L146.1 973L147.1 971.5M136.7 970.5L139.3 970.4L141.9 971.3L144.5 970.9L147.1 971.5M147.1 971.5L153.5 970.9L158.8 967L165 965.8L170.8 963.3M61.7 901.5L65.7 904.9L70.4 907.3L75.9 908.1L79.8 911.8M79.8 911.8L81.4 912L83 912.5L84.5 913.7L86.2 912.5M86.7 899.9L87.1 903.1L87 906.2L86.1 909.3L86.2 912.5M63.7 913L62.9 914.8L65 915.8L64.9 917.4L65.4 918.8M79.8 911.8L76.8 913.5L74.2 915.7L72 918.3L69.4 920.5M124 972.8L119.2 973.1L114.4 972.3L109.6 972.6L104.8 973.3M104.8 973.3L103.6 972.4L103.9 972.8L104.7 973.5L104.6 973.5M104.6 973.5L107.6 977.5L109.3 982.1L111.3 986.6L113.9 990.8M117.5 988.2L116.5 988.7L115.8 989.6L114.9 990.3L113.9 990.8M126.2 972.5L125.7 972.5L125.1 972.8L124.5 972.2L124 972.8M125.2 984.5L123.9 986.7L122.2 988.2L119.8 988L117.5 988.2M91.2 942.1L91 948.6L87.8 953.9L85.1 959.4L81.9 964.6M91.2 942.1L91.9 941L92.2 941.2L91.9 943.1L92.4 942.5M92.4 942.5L95 948.9L99.2 954.3L102.3 960.4L105.5 966.4M105.5 966.4L105.5 968.1L105.1 969.9L104.7 971.6L104.8 973.3M114.2 996.6L112.4 995.3L115.6 993.6L112.8 992.3L113.9 990.8M115.5 920.8L114.8 921.8L115.9 922.8L117.2 923.7L115.8 924.7M115.8 924.7L116.8 927.8L120.6 928.7L120.8 932.4L123.3 934.3M134.9 919.4L134.5 921.7L133.7 924L134.5 926.2L135.2 928.5M123.3 934.3L126.4 933.1L129.3 931.4L132.9 931.3L135.2 928.5M180.1 915.8L170.1 920.1L159.9 923.7L150.4 929.2L139.6 931.5M135.2 928.5L136.7 928.7L137.4 929.9L137.9 931.6L139.6 931.5M139.6 931.5L139.4 933.7L139.6 935.7L142 937L142.3 938.9M170.8 963.3L166.4 962.1L162.4 959.3L157.8 958.6L153.3 957.7M153.3 957.7L151.3 953.2L147.7 949.9L145.9 945.1L141.8 942.2M142.3 938.9L142.1 939.7L141.8 940.5L142.4 941.4L141.8 942.2M131.1 963.1L132.6 963.3L132 961.4L132.9 961.1L133.7 960.5M131.1 963.1L127.4 961.3L124.4 958.4L121.1 956L117.3 954.4M133.7 960.5L134.9 957.4L133.8 954.3L132.7 951.2L133.3 948.1M133.3 948.1L130.9 945L127.8 943.2L123.7 943L121 940.6M117.3 954.4L116.4 952L115.1 949.6L116.6 946.8L116.2 944.3M116.2 944.3L117.3 943.3L118.6 942.4L120 941.8L121 940.6M130.5 966.5L131 965.7L132 965L129.3 963.7L131.1 963.1M153.3 957.7L148.4 958.4L143.5 959.1L138.9 961.9L133.7 960.5M105.5 966.4L108.5 963.4L111.3 960.3L115.4 958.4L117.3 954.4M141.8 942.2L139.5 943.4L136.6 943.8L135.8 947.2L133.3 948.1M123.3 934.3L124.1 936.3L122 937.4L121.2 938.9L121 940.6M101.6 941.4L105.3 941.8L108.9 943L112.4 944.3L116.2 944.3M101.6 941.4L99.3 941.6L97.1 942.6L94.6 941.6L92.4 942.5M109.7 928.1L111.7 928.1L113.1 927.1L114.5 926.1L115.8 924.7M109.7 928.1L107.2 931.1L106.1 935L103.6 938L101.6 941.4M88.1 938.6L84.7 938.1L82.1 939.9L79 940.1L76.3 942M71.8 951.1L71.4 948L73.1 946L75.5 944.4L76.3 942M87.4 932.3L89.7 929L93.7 927.8L96.4 925L99.6 922.8M84.9 928.3L87.6 925.5L85.9 922L86.3 918.8L87 915.7M87 915.7L90.3 915.8L92.7 912.8L95.8 912L99.1 911.9M99.6 922.8L99.8 919.5L102.4 917.8L104.5 915.7L105.7 913.1M105.7 913.1L104.2 911.9L102.4 912.6L100.4 913.9L99.1 911.9M109.7 928.1L106.8 927.5L104.5 925.7L102 924.2L99.6 922.8M86.2 912.5L88.1 912.9L87.2 913.9L86.4 915L87 915.7M69.4 920.5L73.7 921.6L77.4 923.8L81 926.5L84.9 928.3M86.7 899.9L88.4 904.4L92.5 906.4L95.2 909.7L99.1 911.9M109.4 911L109.7 913.7L107.5 911.9L105.9 911.4L105.7 913.1M66.9 940.5L63.5 941.9L63.4 945.3L62.2 948.1L60.6 950.5M66.9 940.5L65.4 937.2L61 937.1L60.3 932.9L56.9 931.7M54.1 932.5L48.1 936.2L43 941L38.2 946.2L32.4 950.1M54.1 932.5L55 933L55.2 931.2L56.2 932L56.9 931.7M53.4 957.7L54.8 955.4L55.6 952.7L59.8 953.3L60.6 950.5M71.8 951.1L69.1 949.6L66.2 950.7L63.4 951.1L60.6 950.5M76.3 942L73.9 942.1L71.7 940.6L69.3 940.4L66.9 940.5M65.4 918.8L63 921.9L60.1 924.6L57.5 927.5L56.9 931.7M46.3 920.9L48.3 923.8L50.7 926.4L52.7 929.3L54.1 932.5M31.8 950.2L32.1 951L32.3 951.8L32.3 950.8L32.4 950.1M58 961.9L57.8 959.9L56.4 959.1L54.6 958.8L53.4 957.7" fill="none" stroke="#B79BB8" stroke-width="0.45" stroke-opacity="0.5" stroke-dasharray="1.1 0.5 0.5 0.5"/>
<g fill="#F7F5F3"><ellipse cx="46.3" cy="920.9" rx="2.5" ry="1.3" transform="rotate(24 46.3 920.9)"/><ellipse cx="115.5" cy="920.8" rx="0.8" ry="0.5" transform="rotate(83 115.5 920.8)"/><ellipse cx="109.7" cy="928.1" rx="2.8" ry="1.5" transform="rotate(58 109.7 928.1)"/><ellipse cx="134.9" cy="919.4" rx="1.5" ry="0.8" transform="rotate(108 134.9 919.4)"/><ellipse cx="91.2" cy="942.1" rx="2.8" ry="1.5" transform="rotate(6 91.2 942.1)"/><ellipse cx="58.8" cy="983.1" rx="1.8" ry="1" transform="rotate(113 58.8 983.1)"/><ellipse cx="109.4" cy="911" rx="1.6" ry="0.9" transform="rotate(144 109.4 911)"/><ellipse cx="79.8" cy="911.8" rx="2.5" ry="1.3" transform="rotate(4 79.8 911.8)"/><ellipse cx="70.2" cy="959.2" rx="1.9" ry="1" transform="rotate(81 70.2 959.2)"/><ellipse cx="59.5" cy="968.8" rx="2.8" ry="1.4" transform="rotate(15 59.5 968.8)"/><ellipse cx="58" cy="961.9" rx="1.8" ry="1" transform="rotate(17 58 961.9)"/><ellipse cx="92.4" cy="942.5" rx="1.9" ry="1" transform="rotate(20 92.4 942.5)"/><ellipse cx="126.4" cy="972.9" rx="2.6" ry="1.4" transform="rotate(127 126.4 972.9)"/><ellipse cx="135.1" cy="982.4" rx="2.3" ry="1.2" transform="rotate(95 135.1 982.4)"/><ellipse cx="130.5" cy="966.5" rx="1" ry="0.6" transform="rotate(170 130.5 966.5)"/><ellipse cx="86.2" cy="912.5" rx="2.6" ry="1.3" transform="rotate(173 86.2 912.5)"/><ellipse cx="65.4" cy="918.8" rx="0.9" ry="0.6" transform="rotate(116 65.4 918.8)"/><ellipse cx="104.8" cy="973.3" rx="2.4" ry="1.3" transform="rotate(166 104.8 973.3)"/><ellipse cx="135.2" cy="928.5" rx="2.2" ry="1.2" transform="rotate(178 135.2 928.5)"/><ellipse cx="139.6" cy="931.5" rx="2.6" ry="1.4" transform="rotate(107 139.6 931.5)"/><ellipse cx="133.3" cy="948.1" rx="2.4" ry="1.3" transform="rotate(85 133.3 948.1)"/><ellipse cx="117.3" cy="954.4" rx="1.4" ry="0.8" transform="rotate(161 117.3 954.4)"/><ellipse cx="121" cy="940.6" rx="0.7" ry="0.5" transform="rotate(26 121 940.6)"/><ellipse cx="76.3" cy="942" rx="1.4" ry="0.8" transform="rotate(8 76.3 942)"/><ellipse cx="84.9" cy="928.3" rx="2.7" ry="1.4" transform="rotate(30 84.9 928.3)"/><ellipse cx="87" cy="915.7" rx="2.1" ry="1.1" transform="rotate(71 87 915.7)"/><ellipse cx="99.6" cy="922.8" rx="1.6" ry="0.9" transform="rotate(94 99.6 922.8)"/><ellipse cx="99.1" cy="911.9" rx="1.7" ry="1" transform="rotate(155 99.1 911.9)"/><ellipse cx="66.9" cy="940.5" rx="1" ry="0.6" transform="rotate(136 66.9 940.5)"/><ellipse cx="54.1" cy="932.5" rx="1.7" ry="0.9" transform="rotate(85 54.1 932.5)"/><ellipse cx="53.4" cy="957.7" rx="1.8" ry="1" transform="rotate(100 53.4 957.7)"/><circle cx="105.8" cy="969.9" r="0.5"/><circle cx="105.4" cy="969.8" r="0.8"/><circle cx="99" cy="976.3" r="0.9"/><circle cx="52.5" cy="956.4" r="0.7"/><circle cx="118" cy="950.7" r="0.7"/><circle cx="119.9" cy="928.1" r="0.7"/><circle cx="104.8" cy="927" r="0.7"/><circle cx="96" cy="946.8" r="0.5"/><circle cx="107.2" cy="922.2" r="0.6"/><circle cx="93.3" cy="978.5" r="0.6"/><circle cx="124.2" cy="929.3" r="0.7"/><circle cx="68.3" cy="974.9" r="0.6"/><circle cx="74.5" cy="940" r="0.8"/><circle cx="57.5" cy="952.6" r="0.4"/><circle cx="53.8" cy="929.9" r="0.4"/><circle cx="128.6" cy="913" r="0.8"/><circle cx="58.4" cy="975.8" r="0.7"/><circle cx="117.6" cy="951.5" r="0.5"/></g>
</g>
<text x="131.5" y="981.4" font-size="2.9" text-anchor="middle" fill="#222">20μm</text>
<rect x="128.7" y="982" width="5.6" height="0.9" fill="#111"/>
<defs><clipPath id="tj110"><rect x="144.5" y="909" width="95" height="76"/></clipPath></defs>
<g clip-path="url(#tj110)">
<rect x="144.5" y="909" width="95" height="76" fill="#E6E4EF"/>
<ellipse cx="155.5" cy="959" rx="13.3" ry="12.1" fill="#E0DCEA" opacity="0.18"/>
<ellipse cx="209.1" cy="960.9" rx="21.4" ry="12.4" fill="#E0DCEA" opacity="0.18"/>
<ellipse cx="193.2" cy="915.5" rx="13.4" ry="8.9" fill="#E0DCEA" opacity="0.18"/>
<ellipse cx="157.4" cy="909.8" rx="13.8" ry="10.9" fill="#E0DCEA" opacity="0.18"/>
<ellipse cx="146.5" cy="951.5" rx="9.1" ry="10.1" fill="#E0DCEA" opacity="0.18"/>
<path d="M250 907.4L246.9 910L246.1 914.4L243.2 917.1L240.2 919.6M240.2 919.6L240.2 921.5L239.4 923.3L241 925.2L239.8 927M239.8 927L250.4 931.1L260.7 935.9L270.5 941.5L280.9 946M151.9 910L148.9 912L146.5 914.8L143.1 916.3L140.2 918.5M214.2 943.7L210.6 939.6L207.4 935.3L203.6 931.4L200.3 927.1M214.2 943.7L215.7 940.9L218.9 940.4L220.6 938L223.1 936.5M200.3 927.1L205.4 927.9L210.5 928.9L215.6 927.7L220.7 928.1M220.7 928.1L221.4 930.2L221.1 932.6L220.9 934.9L223.1 936.5M280.9 946L275.1 947.3L269.3 949.1L263.8 951.5L257.9 952.7M257.9 952.7L252.8 958.2L250.7 965.4L247.3 971.9L243.1 977.9M243.1 977.9L244.7 979.9L243.9 983.1L246.8 984.4L247.8 986.6M214.2 943.7L213.2 944.7L214.3 945.6L212.6 946.7L214.5 947.6M230.3 937.9L228.6 937.1L226.6 937.7L225.1 935.9L223.1 936.5M230.3 937.9L232.4 940.1L231.7 943.7L235.9 944.9L235.6 948.3M214.5 947.6L219.7 948.1L225.1 946.4L230.3 949.1L235.6 948.3M239.8 927L238.8 928L237.5 927.1L236.3 927.1L235.2 927.9M257.9 952.7L255.9 953.3L253.8 953.2L251.8 953.3L249.7 953.2M249.7 953.2L246.7 954.1L244.3 952.4L241.7 951L238.9 951M235.2 927.9L234.1 930.5L232.4 932.7L230.1 934.7L230.3 937.9M235.6 948.3L235.8 949.8L238 948.8L238 950.5L238.9 951M151.9 910L153.7 910.6L155.3 908.8L157.1 909.6L158.9 909.3M158.9 909.3L159.1 909L160.4 909.3L159.2 908.4L159.3 908.1M159.2 906.7L158.1 907.2L158.9 907.5L158.4 907.9L159.3 908.1M178.7 868.2L177.8 874.7L175.2 880.9L173.9 887.4L173.4 894M250 907.4L245.5 906.8L241.7 909.6L237.4 909.5L233.3 910.9M233.3 910.9L234 911.7L232.6 912L233.5 912.7L232.8 913.2M229.3 924L227.3 924L225.6 925.1L223.8 926L222 926.7M222 926.7L221.5 923.1L218.6 920.2L219.1 916.2L217.6 912.9M235.2 927.9L233.7 927.1L233.1 924.8L231.4 924.2L229.3 924M220.7 928.1L220.8 927.5L221 927.1L221.6 927L222 926.7M232.8 913.2L232.7 915.2L231.2 915.8L228.8 915.5L228.7 917.5M216.5 881.1L213.1 886.7L213.1 893.3L210 899L208.8 905.2M172.2 1008.5L179 1003.7L186.3 999.5L192.7 993.9L199 988.5M199 988.5L203.9 991.1L208.7 993.6L213.5 996.4L218.6 998.5M176.9 968.5L174.2 969.6L173.7 973.1L171.2 974.3L168.8 975.7M168.8 975.7L170.6 978.8L173 981.5L173.8 985.1L176.1 987.9M176.1 987.9L178.8 984.8L181.9 982.3L185.7 980.7L188.5 977.7M186.9 959.6L185.7 962.3L185.1 965.1L184.9 968L185.1 971M186.9 959.6L184 958.6L181.4 961.1L178.6 960L175.8 960.3M175.8 960.3L176.1 962.4L177.6 964.3L176.9 966.4L176.9 968.5M166.8 974.5L166.8 970.5L166 966.6L164.6 962.8L164.9 958.7M166.8 974.5L167.4 974.8L167.4 975.7L167.7 976.4L168.8 975.7M175.8 960.3L175.2 958.4L173.4 958.4L171.8 958.1L170.7 957M170.7 957L169.3 957.6L167.7 957.4L166.4 958.6L164.9 958.7M193.8 977.7L192.5 976.2L191.1 977.7L189.8 977.5L188.5 977.7M249.7 953.2L249.1 956.2L247.3 958L243.8 958.3L242.7 960.9M243.1 977.9L240.5 978.2L237.9 978L235.4 977.3L232.9 976.5M242.7 960.9L239.6 964.4L237.9 968.8L236 973L232.9 976.5M166.8 974.5L163.2 975.3L159.7 977.4L155.6 976L152 977.1M164.9 958.7L163.9 957.7L162 959.2L161.4 957.1L160.1 956.9M160.1 956.9L158.2 962L155.3 966.7L153.9 972L152 977.1M143.6 973.6L144.2 972.9L144.2 973.8L144.7 973.4L144.7 974M144.7 974L146.7 974.5L147.2 976L147.6 977.6L148.4 979M148.4 979L149.8 979.5L150.2 978.1L150.9 977.3L152 977.1M143.6 973.6L138.2 970.1L132.4 967.4L126.7 964.4L121.2 961.2M150 931.9L147.8 934.2L146.8 937.3L145.2 940L143.4 942.5M150 931.9L153.3 932.3L156.7 932.2L159.9 933.2L163.1 934M163.1 934L161.3 939.1L159.8 944.3L158.4 949.6L157.8 955M143.4 942.5L144.1 945.1L145.3 947.6L145.6 950.3L145.6 953M157.8 955L155.4 957L153 956.6L150.7 955.2L148.3 954.9M148.3 954.9L147.3 954.9L147.3 953.5L145.1 955.2L145.6 953M140.2 918.5L143.5 921.2L145.4 925L148.4 927.9L150 931.9M121.2 961.2L127.2 958.8L133.4 957.2L139.5 955.3L145.6 953M160.1 956.9L159.2 956.8L158.5 956.5L158.9 954.8L157.8 955M144.7 974L147.3 969.6L145.4 964.3L147.9 959.8L148.3 954.9M168.3 917.2L167.6 920.9L166.8 924.6L168.5 928.2L169.1 931.8M169.1 931.8L172.1 932.9L174.8 934.6L177.9 935.5L180.7 937.1M177.9 910.3L180.6 911.3L183.4 910.6L186.1 910.6L188.8 911.5M186.7 937.1L189.8 934.6L192.4 931.4L196.9 930.2L198.5 926M186.7 937.1L185.2 933.6L183.7 936.8L182.2 937.9L180.7 937.1M188.8 911.5L192.4 910.8L193.5 915L196.6 915.3L199.1 916.8M158.9 909.3L162.2 910L163.3 913.6L166.3 914.8L168.3 917.2M173.4 894L174.4 898.1L175.4 902.2L178 905.9L177.9 910.3M163.1 934L165 934.6L165.9 932.3L167.6 932.4L169.1 931.8M170.7 957L172.8 951.9L176.5 947.5L178.7 942.3L180.7 937.1M178.7 868.2L180.1 879.3L183.4 889.9L187.2 900.5L188.8 911.5M200.3 957.4L198.1 957.3L196.6 956L195.3 954.5L193.6 953.6M200.3 927.1L199.2 928L199.4 926.6L199.1 926L198.5 926M214.5 947.6L214.4 949.9L212 951.2L212.2 953.6L211.3 955.5M193.6 953.6L192.8 956L190 956.3L188.8 958.4L186.9 959.6M208.8 905.2L205.9 907.7L204 911.1L202.3 914.5L199.1 916.8M200.3 957.4L199.5 961.3L200.9 965.3L200.7 969.2L199.1 973M193.8 977.7L195.7 977.3L196.1 975.2L197.8 974.5L199 973.3M199.1 973L199.1 973.1L197.4 972.6L199.5 973.4L199 973.3M242.7 960.9L239 963.1L235.2 965.2L231.4 967.4L227.4 969.1M232.9 976.5L232.4 975.4L232.2 975.7L232.2 976.5L232 976.8M227.4 969.1L229.2 970.6L231 972.2L230.2 975.3L232 976.8M238.9 951L234.5 954.1L229.8 956.9L225.2 959.7L221.1 963.4M227.4 969.1L227 966.4L224.5 966L222.3 965.3L221.1 963.4M247.8 986.6L242.2 987.6L236.6 987.4L231.1 988.4L225.5 988.5M232 976.8L231.3 980.2L228.4 982.4L226.9 985.4L225.5 988.5M218.6 998.5L220.7 997.8L218.5 996L219.3 995L219.8 993.9M199 973.3L202.6 976.3L207 978.1L211 980.4L215.2 982.4M215.2 982.4L216 985.5L217.8 988.1L218.3 991.2L219.8 993.9M225.5 988.5L224.9 990.7L222 990.6L221.5 992.8L219.8 993.9M218.1 962.5L215.9 964.6L213.5 966.4L211.8 969L209.2 970.5M209.2 970.5L209.5 974.1L210.5 977.2L214 979.1L215.2 982.2M221.1 963.4L220.7 962.1L220.2 963.2L219.8 962.1L219.2 963.3M199.1 973L201.5 972L204.5 973.3L206.7 971.2L209.2 970.5M215.2 982.4L213.7 982.2L215 982.3L216.2 982.3L215.2 982.2" fill="none" stroke="#B79BB8" stroke-width="0.45" stroke-opacity="0.5" stroke-dasharray="1.1 0.5 0.5 0.5"/>
<g fill="#F7F5F3"><ellipse cx="151.9" cy="910" rx="0.8" ry="0.5" transform="rotate(41 151.9 910)"/><ellipse cx="166.8" cy="974.5" rx="0.9" ry="0.6" transform="rotate(6 166.8 974.5)"/><ellipse cx="214.2" cy="943.7" rx="2" ry="1.1" transform="rotate(153 214.2 943.7)"/><ellipse cx="193.6" cy="953.6" rx="1.3" ry="0.8" transform="rotate(110 193.6 953.6)"/><ellipse cx="200.3" cy="927.1" rx="2.4" ry="1.3" transform="rotate(171 200.3 927.1)"/><ellipse cx="235.2" cy="927.9" rx="2.2" ry="1.2" transform="rotate(21 235.2 927.9)"/><ellipse cx="220.7" cy="928.1" rx="0.8" ry="0.5" transform="rotate(155 220.7 928.1)"/><ellipse cx="223.1" cy="936.5" rx="2.3" ry="1.2" transform="rotate(177 223.1 936.5)"/><ellipse cx="175.8" cy="960.3" rx="1.7" ry="0.9" transform="rotate(134 175.8 960.3)"/><ellipse cx="235.6" cy="948.3" rx="2" ry="1.1" transform="rotate(148 235.6 948.3)"/><ellipse cx="238.9" cy="951" rx="0.8" ry="0.6" transform="rotate(117 238.9 951)"/><ellipse cx="170.7" cy="957" rx="1.8" ry="1" transform="rotate(151 170.7 957)"/><ellipse cx="229.3" cy="924" rx="1.2" ry="0.7" transform="rotate(53 229.3 924)"/><ellipse cx="222" cy="926.7" rx="1.3" ry="0.8" transform="rotate(36 222 926.7)"/><ellipse cx="228.7" cy="917.5" rx="0.8" ry="0.6" transform="rotate(23 228.7 917.5)"/><ellipse cx="188.5" cy="977.7" rx="2.6" ry="1.4" transform="rotate(137 188.5 977.7)"/><ellipse cx="144.7" cy="974" rx="1.6" ry="0.9" transform="rotate(177 144.7 974)"/><ellipse cx="163.1" cy="934" rx="1.2" ry="0.7" transform="rotate(3 163.1 934)"/><ellipse cx="157.8" cy="955" rx="2.4" ry="1.3" transform="rotate(97 157.8 955)"/><ellipse cx="145.6" cy="953" rx="1.9" ry="1" transform="rotate(79 145.6 953)"/><ellipse cx="168.3" cy="917.2" rx="1.1" ry="0.7" transform="rotate(77 168.3 917.2)"/><ellipse cx="169.1" cy="931.8" rx="1.7" ry="1" transform="rotate(51 169.1 931.8)"/><ellipse cx="177.9" cy="910.3" rx="0.7" ry="0.5" transform="rotate(48 177.9 910.3)"/><ellipse cx="186.7" cy="937.1" rx="1.4" ry="0.8" transform="rotate(123 186.7 937.1)"/><ellipse cx="180.7" cy="937.1" rx="1.2" ry="0.7" transform="rotate(97 180.7 937.1)"/><ellipse cx="199.1" cy="916.8" rx="1.8" ry="1" transform="rotate(138 199.1 916.8)"/><ellipse cx="199.1" cy="973" rx="1.8" ry="1" transform="rotate(116 199.1 973)"/><ellipse cx="199" cy="973.3" rx="1.8" ry="1" transform="rotate(93 199 973.3)"/><ellipse cx="215.2" cy="982.4" rx="2.2" ry="1.2" transform="rotate(103 215.2 982.4)"/><circle cx="237.5" cy="954.6" r="0.4"/><circle cx="154.4" cy="944.5" r="0.7"/><circle cx="225.8" cy="981.4" r="0.4"/><circle cx="237.4" cy="978.3" r="0.6"/><circle cx="221.9" cy="936.8" r="0.4"/><circle cx="224.7" cy="941.5" r="0.8"/><circle cx="172" cy="950.4" r="0.5"/><circle cx="147.7" cy="982.8" r="0.5"/><circle cx="154" cy="976.3" r="0.4"/><circle cx="152.5" cy="927.9" r="0.9"/><circle cx="172.2" cy="912.5" r="0.4"/><circle cx="155.6" cy="915.5" r="0.5"/><circle cx="227.5" cy="933" r="0.8"/><circle cx="158.8" cy="983.3" r="0.5"/><circle cx="172.7" cy="958.1" r="0.6"/><circle cx="173.7" cy="976.9" r="0.6"/><circle cx="212.1" cy="923.7" r="0.5"/><circle cx="146" cy="970.2" r="0.4"/></g>
</g>
<text x="231" y="981.4" font-size="2.9" text-anchor="middle" fill="#222">20μm</text>
<rect x="228.2" y="982" width="5.6" height="0.9" fill="#111"/>
<defs><clipPath id="tj111"><rect x="243.3" y="909" width="95.2" height="76"/></clipPath></defs>
<g clip-path="url(#tj111)">
<rect x="243.3" y="909" width="95.2" height="76" fill="#E6E4EF"/>
<ellipse cx="301.6" cy="921.8" rx="14.1" ry="13.7" fill="#E0DCEA" opacity="0.18"/>
<ellipse cx="271.4" cy="920.3" rx="8.3" ry="10.2" fill="#E0DCEA" opacity="0.18"/>
<ellipse cx="266" cy="934.7" rx="21.9" ry="8.4" fill="#E0DCEA" opacity="0.18"/>
<ellipse cx="251" cy="959.9" rx="16.7" ry="8.7" fill="#E0DCEA" opacity="0.18"/>
<ellipse cx="287.7" cy="918" rx="9" ry="15" fill="#E0DCEA" opacity="0.18"/>
<path d="M241.5 986.1L244.5 990.6L250.8 990.8L252.8 996.6L257.6 998.8M241.5 986.1L240.5 984.5L240.8 983L241.8 981.6L242.1 980.1M204.8 940.5L214.7 943.7L224.5 947.3L233.5 952.8L243.3 956.3M243.3 956.3L242.9 959.4L245.3 962.2L244.1 965.4L244.9 968.3M242.1 980.1L243.6 978.9L245 977.5L246.5 976.3L248.4 975.6M-38.1 946.5L-33 946.1L-27.8 947.1L-22.6 947.4L-17.5 946.2M341.5 905.5L343.4 909.8L346.2 913.6L348.5 917.7L350.4 922M341.9 943L341.5 940.7L339.4 939.6L337.1 938.8L336.9 936.4M350.4 922L347.4 923.5L344 923.2L340.6 922.8L337.6 924.5M336.9 936.4L337.1 933.4L337.4 930.4L336.9 927.5L337.6 924.5M341.5 905.5L339.8 905.2L341 907.5L339.5 907.3L339.2 908.2M339.2 908.2L338.3 911L336.3 913.5L334.8 916.1L334.8 919.3M334.8 919.3L336.9 919.9L336.3 921.8L337.2 923.1L337.6 924.5M266.3 930.7L264.6 927.8L261.6 926L259.3 923.6L257.9 920.5M266.3 930.7L263.2 933.4L259 934.9L256.8 938.7L253.8 941.5M257.9 920.5L253.5 920.7L249.4 922.1L245.4 923.7L241.3 925.4M253.8 941.5L250 937.9L245 936.4L241.4 932.5L236.4 930.8M204.8 940.5L212.6 938L220.8 936.2L228.3 932.6L236.4 930.8M233.5 910.3L235.7 910.7L238.2 910.4L239.2 913.3L241.2 914.1M301.5 915.4L299.5 916.6L297.5 917.8L294.5 917.6L293.9 920.8M301.5 915.4L296.9 913.5L292.8 910.4L287.9 908.9L283.7 906.1M280.7 914L280.8 911.8L282.7 910.3L282.7 908L283.7 906.1M274.7 932.4L275.6 928.1L274.3 923.7L276.2 919.5L275.2 915.1M274.7 932.4L276.4 933L276.7 935.7L279.5 934.6L280.5 936.1M293.9 920.8L290.7 924.8L285.4 926.9L283.3 931.8L280.5 936.1M280.7 914L279.2 913.7L277.9 914.2L276.5 914.2L275.2 915.1M282 945.9L280.8 946.2L279.6 946.6L280.7 948.7L279.6 949.2M282 945.9L286.6 948.8L290.8 952.1L295.4 954.9L299.6 958.2M279.6 949.2L282.3 953.6L282.8 958.8L286.2 963L286.9 968.1M299.6 958.2L299.8 961.3L300.7 964.4L300.6 967.6L301.7 970.6M286.9 968.1L290.9 967.1L294.1 970.5L297.9 970.4L301.7 970.6M331.2 984.8L326 983.4L322 979.6L317.1 977.7L312.2 975.6M331.2 984.8L330 987.5L327.3 989L327 992.4L324.2 993.8M324.2 993.8L320.8 989.5L317.6 985.1L313.6 981.2L312.2 975.6M316.5 1023L318.8 1015.8L319 1008.1L323.4 1001.4L324.2 993.8M341.5 994L339.4 991.8L338.2 988.8L335.9 986.7L334.4 984M334.4 984L333.6 984.1L332.8 984.2L332.2 985.6L331.2 984.8M316.5 1023L313.8 1011.3L313.3 999.2L311.2 987.4L308.9 975.7M243.3 956.3L245.8 956.1L247.4 953.9L249.6 953L251.7 952M253.8 941.5L254.2 943.5L254.5 945.5L255.3 947.5L254.2 949.6M254.2 949.6L253 949.6L251.8 949.6L252.4 951.4L251.7 952M274.7 932.4L272.6 932L270.7 930.7L268.3 931.6L266.3 930.7M282 945.9L280.6 944.8L282.3 943.8L280.2 942.7L282.3 941.8M279.6 949.2L278.1 951.4L275.2 952.1L272.3 952.7L271.5 955.8M282.3 941.8L282 940.3L281 939.1L280.9 937.6L280.5 936.1M308.6 907.2L316.2 908.9L323.9 907.7L331.5 907.4L339.2 908.2M334.8 919.3L330.1 920.9L325.4 920.3L320.7 919.7L316 919.1M307.2 913.4L309.4 914.9L311 917.3L314 917.4L316 919.1M336.9 936.4L333.6 935.7L330.2 935L327 933.8L323.5 934.4M316 919.1L317.7 923L318.8 927.2L322.1 930.4L323.5 934.4M283.6 906.1L280.1 905.8L276.7 906L273.3 906.7L269.8 907M255.7 888.1L255.8 888.4L256.1 888.6L254.8 889.1L255.9 889.3M260.5 901L262.9 902.4L266.1 902.5L267.8 905.1L269.8 907M275.2 915.1L274.8 912.5L272.1 911.4L270.9 909.2L269.8 907M283.7 906.1L283.6 906.2L283.3 906.4L283.2 906.5L283.6 906.1M307.2 913.4L307 913.3L307 913.4L307.7 914.4L307 913.6M233.5 910.3L239.9 905.6L244.4 899L250.2 893.7L255.7 888.1M241.2 914.1L243.8 907.3L249.4 902.2L252.8 895.8L255.9 889.3M308 975.5L306.4 975.6L305.4 974.7L303.5 975.1L303.1 972.9M308 975.5L303 984.6L297.9 993.6L293.3 1003L288.2 1012.1M303.1 972.9L300.9 975.2L297.8 976.2L295.6 978.6L292.7 980M292.7 980L290 984.9L289.4 990.5L287.1 995.6L285.3 1000.7M308.9 975.7L308.5 976.6L308.3 976.6L308.1 976.5L308 975.5M268.6 968.1L266.9 969.9L265.4 972.2L262.1 971.2L260.2 972.7M268.6 968.1L271 969.4L273.2 970.9L275.5 972.4L277.2 974.5M276.8 988L277.2 985.3L278.1 982.7L279.8 980.2L278.3 977.3M276.8 988L272.7 986.3L268.5 987.5L264.4 986.1L260.3 987.4M260.3 987.4L258.3 985L259.3 981.4L257.6 979L255.9 976.5M255.9 976.5L256.4 974.9L257.8 974.4L259 973.4L260.2 972.7M251.7 952L253.8 957.1L257.7 961.6L257.2 967.8L260.2 972.7M271.5 955.8L271.5 959.1L269.4 961.8L270.4 965.3L268.6 968.1M286.9 968.1L284.7 970L282.2 971.6L279.8 973.2L277.2 974.5M285.3 1000.7L283.1 997.6L280.2 994.9L279.3 990.9L276.8 988M248.4 975.6L250.5 973.7L252 977.1L253.8 977.7L255.9 976.5M301.7 970.6L303 970.6L303 971.4L304.2 971.4L303.1 972.9M335.9 958.2L336.6 961.8L332.5 962.1L332.1 964.9L330.3 966.8M335.9 958.2L341.5 962L347.9 964.1L353.6 967.5L359.5 970.7M330.3 966.8L333.4 967.8L333.6 971.6L337.4 971.9L338.2 975.1M338.2 975.1L342.9 975.6L346.9 972.3L351.6 973.1L356 972M359.5 970.7L358.3 970.2L357.8 971.6L356.8 971.5L356 972M337.7 947.8L333.3 950.6L327.8 947.9L323.4 950.3L318.6 951.2M337.7 947.8L337.9 950.5L336 952.9L335.5 955.5L335.9 958.2M318.6 951.2L319.5 955L321.1 958.6L319.2 962.9L321.1 966.5M321.1 966.5L323.3 968L325.7 967.2L328 967.3L330.3 966.8M341.9 943L341.2 944.6L340.1 945.7L339.5 947.3L337.7 947.8M334.4 984L336.8 982.4L336.8 979.7L336.4 976.9L338.2 975.1M311.5 975.1L314 973.1L317.2 971.8L319.3 969.3L321.1 966.5M282.3 941.8L286.2 941.1L290.1 939.7L294 938.6L298.1 940.1M307 913.6L306.5 914.4L307.9 915.2L305.9 915.9L306.9 916.7M298.1 940.1L299.6 934L302.9 928.5L303.9 922.2L306.9 916.7M307.5 941.7L306.4 936.9L305.8 932L308.1 927L307.4 922.1M307.4 922.1L310.2 926.8L311.1 932.5L315.8 936.2L317.6 941.5M312.5 946.7L312.8 947.5L313.3 946.2L313.6 946.3L314 946.9M314 946.9L315.4 945.8L315.2 943.8L315.6 942.1L317.6 941.5M299.6 958.2L303.3 955.8L306.5 953L309.2 949.5L312.5 946.7M323.5 934.4L322.1 936.3L320.5 937.9L319.8 940.4L317.6 941.5M318.6 951.2L316.9 950.8L316.5 948.8L316.2 946.8L314 946.9" fill="none" stroke="#B79BB8" stroke-width="0.45" stroke-opacity="0.5" stroke-dasharray="1.1 0.5 0.5 0.5"/>
<g fill="#F7F5F3"><ellipse cx="274.7" cy="932.4" rx="2.3" ry="1.2" transform="rotate(85 274.7 932.4)"/><ellipse cx="279.6" cy="949.2" rx="2.2" ry="1.2" transform="rotate(169 279.6 949.2)"/><ellipse cx="334.4" cy="984" rx="1.1" ry="0.7" transform="rotate(131 334.4 984)"/><ellipse cx="248.4" cy="975.6" rx="2" ry="1.1" transform="rotate(85 248.4 975.6)"/><ellipse cx="244.9" cy="968.3" rx="2.4" ry="1.3" transform="rotate(61 244.9 968.3)"/><ellipse cx="308.9" cy="975.7" rx="2.8" ry="1.4" transform="rotate(53 308.9 975.7)"/><ellipse cx="311.5" cy="975.1" rx="1.3" ry="0.8" transform="rotate(142 311.5 975.1)"/><ellipse cx="336.9" cy="936.4" rx="2.4" ry="1.3" transform="rotate(154 336.9 936.4)"/><ellipse cx="337.6" cy="924.5" rx="1.4" ry="0.8" transform="rotate(0 337.6 924.5)"/><ellipse cx="280.5" cy="936.1" rx="1.4" ry="0.8" transform="rotate(154 280.5 936.1)"/><ellipse cx="253.8" cy="941.5" rx="0.8" ry="0.6" transform="rotate(126 253.8 941.5)"/><ellipse cx="280.7" cy="914" rx="1" ry="0.6" transform="rotate(165 280.7 914)"/><ellipse cx="275.2" cy="915.1" rx="1.8" ry="1" transform="rotate(96 275.2 915.1)"/><ellipse cx="301.7" cy="970.6" rx="1.5" ry="0.9" transform="rotate(14 301.7 970.6)"/><ellipse cx="254.2" cy="949.6" rx="1.6" ry="0.9" transform="rotate(169 254.2 949.6)"/><ellipse cx="251.7" cy="952" rx="1.9" ry="1.1" transform="rotate(101 251.7 952)"/><ellipse cx="271.5" cy="955.8" rx="2.6" ry="1.4" transform="rotate(158 271.5 955.8)"/><ellipse cx="321.1" cy="966.5" rx="2.8" ry="1.5" transform="rotate(111 321.1 966.5)"/><ellipse cx="307" cy="913.6" rx="1.7" ry="0.9" transform="rotate(31 307 913.6)"/><ellipse cx="316" cy="919.1" rx="1.1" ry="0.7" transform="rotate(162 316 919.1)"/><ellipse cx="323.5" cy="934.4" rx="2.8" ry="1.4" transform="rotate(22 323.5 934.4)"/><ellipse cx="268.6" cy="968.1" rx="1.4" ry="0.8" transform="rotate(22 268.6 968.1)"/><ellipse cx="255.9" cy="976.5" rx="1.1" ry="0.7" transform="rotate(164 255.9 976.5)"/><ellipse cx="330.3" cy="966.8" rx="2" ry="1.1" transform="rotate(60 330.3 966.8)"/><ellipse cx="338.2" cy="975.1" rx="2.7" ry="1.4" transform="rotate(44 338.2 975.1)"/><ellipse cx="298.1" cy="940.1" rx="1.2" ry="0.7" transform="rotate(141 298.1 940.1)"/><ellipse cx="307.5" cy="941.7" rx="2.6" ry="1.3" transform="rotate(59 307.5 941.7)"/><ellipse cx="307.4" cy="922.1" rx="0.9" ry="0.6" transform="rotate(134 307.4 922.1)"/><ellipse cx="314" cy="946.9" rx="1.1" ry="0.7" transform="rotate(24 314 946.9)"/><circle cx="293.6" cy="933.6" r="0.5"/><circle cx="311" cy="912.9" r="0.4"/><circle cx="278.1" cy="954.3" r="0.4"/><circle cx="286.8" cy="946.7" r="0.5"/><circle cx="331.4" cy="932" r="0.6"/><circle cx="285.6" cy="936" r="0.9"/><circle cx="302.5" cy="916.6" r="0.5"/><circle cx="261.2" cy="984.5" r="0.6"/><circle cx="296" cy="967.3" r="0.4"/><circle cx="317" cy="926.8" r="0.5"/><circle cx="312.8" cy="935.5" r="0.4"/><circle cx="299.4" cy="982.9" r="0.6"/><circle cx="270.4" cy="967.2" r="0.7"/><circle cx="285.4" cy="928.6" r="0.5"/><circle cx="262.2" cy="956.1" r="0.6"/><circle cx="286.6" cy="972.8" r="0.8"/><circle cx="299.1" cy="948.5" r="0.8"/><circle cx="279.3" cy="965.2" r="0.8"/></g>
</g>
<text x="330" y="981.4" font-size="2.9" text-anchor="middle" fill="#222">20μm</text>
<rect x="327.2" y="982" width="5.6" height="0.9" fill="#111"/>
<defs><clipPath id="tj112"><rect x="342.5" y="909" width="95.7" height="76"/></clipPath></defs>
<g clip-path="url(#tj112)">
<rect x="342.5" y="909" width="95.7" height="76" fill="#E6E4EF"/>
<ellipse cx="378.4" cy="957.7" rx="21.3" ry="6.8" fill="#E0DCEA" opacity="0.18"/>
<ellipse cx="416.9" cy="972.3" rx="8.8" ry="14.2" fill="#E0DCEA" opacity="0.18"/>
<ellipse cx="427.2" cy="963.9" rx="8" ry="15.8" fill="#E0DCEA" opacity="0.18"/>
<ellipse cx="375.4" cy="916.2" rx="13.5" ry="6" fill="#E0DCEA" opacity="0.18"/>
<ellipse cx="413" cy="981.6" rx="19.5" ry="9.4" fill="#E0DCEA" opacity="0.18"/>
<path d="M346 972.3L346.9 973.1L348.2 972.9L348.9 974L350.1 974.1M329.7 925.4L333.1 925.3L336.2 926.1L339.4 926.6L342.6 927.4M329.7 925.4L332 921.8L334.1 918.1L336.2 914.5L339.8 911.9M342.6 927.4L343.5 923.2L342.3 919.1L341.5 915L341.9 910.8M346 972.3L345.9 971.4L347 970.5L347.1 969.6L345.9 968.7M345.9 968.7L343.5 964.3L339.9 960.6L337.8 956L334.7 951.9M345.9 968.7L345.7 965.3L346.1 961.9L346.5 958.6L348.2 955.5M334.7 951.9L335 951.7L334.9 949.7L335.5 950.9L335.9 951.7M335.9 951.7L338.4 954.1L341.4 954.8L345 953.6L347.7 955.2M350.1 974.1L354.4 972.9L356.7 969.1L360.4 967L363.2 963.8M348.2 955.5L351.1 957.3L354.9 955L357.5 958.1L360.7 958.3M363.2 963.8L361.8 962.8L361.3 961.4L362.3 959.2L360.7 958.3M422.4 949.2L418.1 950.2L414.1 951.8L410 953L406 954.6M422.4 949.2L425.8 951L429.3 952.6L433.4 952.5L436.9 954M406 954.6L412.4 959.4L417.4 965.9L425.8 968.4L430.9 974.7M431.9 982.3L426.8 981.1L422.1 978L416.7 978.2L411.5 977.4M431.9 982.3L431.1 980.4L432.4 978.4L431.7 976.6L430.9 974.7M411.5 977.4L408.2 972L402.2 969.3L398 964.7L393.9 960M396.8 953L398.9 954.5L401.5 953L403.7 954.1L406 954.6M396.4 953.6L395.7 955.2L395.2 956.8L395.4 958.8L393.9 960M445.8 946L443.7 948.1L441.1 949.7L438.4 951.1L436.9 954M396.3 944.2L394.8 944.1L394.1 943.2L394 941.8L393 941.1M364.5 947.6L362.4 946L364.3 944.1L362.6 942.4L363.9 940.5M393 941.1L385.8 940.8L378.5 939.9L371.2 939.8L363.9 940.5M401.7 985.1L397 982.2L393.4 977.8L387.8 976.3L384 972.2M402.8 988.7L396.1 990.3L389 990L382.2 991.7L375.4 993M384 972.2L382 971.5L382.3 974.3L380.6 974L379.7 975M379.7 975L378.6 978.6L378.4 982.6L376.3 985.9L375.1 989.6M375.1 989.6L374.6 990.5L377.1 991.2L375 992.2L375.4 993M411.5 977.4L408.9 979.1L406.1 980.6L403.8 982.7L401.7 985.1M393.9 960L390.9 962.7L389.5 966.6L385.8 968.6L384 972.2M363.2 963.8L367.7 966L372 968.6L374.8 973.3L379.7 975M364.5 947.6L363.1 950.1L362.9 953.1L361.7 955.6L360.7 958.3M351 983.3L357 984.9L363 986.6L369.3 987.4L375.1 989.6M383.5 904.7L380.2 904.8L377.5 906.5L374.6 907.5L371.8 909.1M386.6 907.4L384.7 909.9L385.2 912.7L384.7 915.4L384.8 918.2M384.8 918.2L382.4 919.1L379.5 919.3L379.1 923L376.8 924M371.8 909.1L372.1 909.8L370.8 908.8L371.8 910.5L370.9 909.8M370.9 909.8L373.7 912.8L374.3 916.7L375.3 920.5L376.8 924M391.8 939.1L387.5 935.9L384 931.9L380.9 927.5L376.8 924.1M391.8 939.1L392.3 934L390.8 928.8L392.5 923.7L393.1 918.6M393.1 918.6L391 918.6L389 917.5L386.9 918.6L384.8 918.2M393 941.1L393.7 940L391.5 940.6L391.6 939.9L391.8 939.1M363.9 940.5L362.9 938.9L362 937.2L362.6 934.9L360.8 933.7M376.8 924.1L373.5 927.7L368.7 928.7L364.9 931.4L360.8 933.7M347.7 955.2L349.6 949.2L354.5 944.5L355.7 938.3L357.5 932.2M357.5 932.2L358.5 932L359.3 932.6L359.3 934.8L360.8 933.7M441.7 940.1L437.2 938.8L432.4 938.8L427.8 937.9L423.6 935.5M441.7 940.1L441.7 936.7L440.1 933.7L439.9 930.3L438.7 927.2M438.7 927.2L437 926L434.3 926.5L433.6 923.7L431.7 923M431.7 923L432 926.5L429.4 922.9L428.4 923.2L427.9 924.5M427.9 924.5L426.8 927.2L426.1 930.2L423.9 932.5L423.6 935.5M445.8 946L445.4 944.1L444 942.9L442.6 941.7L441.7 940.1M422.4 949.2L421.8 946L422.2 942.7L422.9 939.4L421.6 936.3M421.6 936.3L421.8 935.1L422.7 936.1L423.5 936.6L423.6 935.5M425.5 907.7L420.8 896.1L415.9 884.6L412.1 872.7L407.8 860.9M425.5 907.7L424.1 908.5L421.6 907.5L421.3 910.1L420.1 911.2M420.1 911.2L417.8 910.6L415.5 911.8L413.1 911.5L410.8 911.5M407.8 860.9L406 872.2L404.8 883.6L403.6 894.9L402.7 906.3M386.6 907.4L390 907.9L393.4 909L396.9 908.4L400.4 908.4M399.4 752.5L399.2 760.9L395.6 768.8L395.8 777.2L395.2 785.6M400.4 908.4L401.1 908L401.9 907.7L402.5 907.2L402.7 906.3M441.4 924.3L441.6 919.6L439.5 915L440.3 910.4L440.5 905.7M430.8 909.4L434.1 910.6L436.1 908.7L438.1 906.7L440.5 905.7M430.8 909.4L430.7 912.8L432.9 916.1L432.5 919.5L431.7 923M438.7 927.2L440.2 927.3L440 925.7L440.9 925.2L441.4 924.3M430.8 909.4L430.2 906.9L427.8 909.6L426.8 908.1L425.5 907.7M405.2 934.5L407.1 935.3L406.9 933.6L407.7 933.1L408.1 932.1M405.2 934.5L403.2 930L400.7 925.6L395.8 922.7L394.8 917.5M408.1 932.1L406.9 926.7L402.9 922.4L401.9 916.8L399.3 911.9M396.3 944.2L399.6 942.8L400.8 939.4L403 937L405.2 934.5M421.6 936.3L418.5 934.9L415 934.6L412 933L408.8 931.8M408.8 931.8L409 932.8L408.4 931.7L408 931.3L408.1 932.1M393.1 918.6L393.5 918.3L393.6 917.5L394.3 917.7L394.8 917.5M400.4 908.4L400 909.2L400.6 910.4L399.3 911L399.3 911.9M408.8 931.8L410.8 931.6L409.4 929.4L411 928.9L411.4 927.8M411.4 927.8L411.5 923.7L412.5 919.6L412 915.5L410.8 911.5M420.1 913.8L417.1 916.3L417 920.5L414.1 923.1L413.1 926.8M420.1 913.8L421.2 916L421.6 918.4L423.2 920.5L422.7 923.2M422.7 923.2L420 923.4L417.8 924.9L415.8 926.8L413.1 926.8M411.4 927.8L411.6 927.2L411.9 926.6L413 927.7L413.1 926.8M427.9 924.5L426.4 924.8L425.3 923.8L423.9 923.6L422.7 923.2M335.9 951.7L339.3 945.9L344.5 941.7L346.5 935L351.7 930.6M357.5 932.2L357.2 931.6L356.2 932.1L355.4 932.3L355.4 931.1M355.4 931.1L354.3 932.6L353.5 931.3L352.6 931.2L351.7 930.6M342.6 927.4L344.9 927L346.7 928L348.2 930.3L350.5 929.7M351.7 930.6L351.4 930.3L351 930.4L350.3 930.6L350.5 929.7M370.9 909.8L370.1 910.1L369.4 909.7L369 908.5L368.1 909.1M355.4 931.1L357.1 926.6L358 921.9L359.3 917.3L360.7 912.7M368.1 909.1L366.6 910.7L364.6 911.4L362.7 912.2L360.7 912.7M355.4 873.7L357.5 879.8L359 886L361.6 891.9L362.4 898.3M368.1 909.1L367.4 906.1L365.7 903.5L363 901.5L362.4 898.3M348 913.4L346.8 912.4L344.2 913.6L344.7 909.7L342.6 910.2M342.6 910.2L341.3 909L343.5 907.6L342 906.3L342.4 905M354.1 907.8L354.7 908.2L354.8 908.7L354.6 909.3L354.7 909.8M350.5 929.7L349.2 925.7L349.7 921.5L349.9 917.3L348 913.4M360.7 912.7L358.8 912.8L357.4 911.7L355.8 911.2L354.7 909.8M341.9 910.8L343.2 911.9L342.4 910.6L342.5 910.5L342.6 910.2M362.4 898.3L360.5 900.8L358.3 903.1L356.4 905.6L354.1 907.8M355.4 873.7L353.6 880L351.5 886.1L349.8 892.4L348.4 898.7" fill="none" stroke="#B79BB8" stroke-width="0.45" stroke-opacity="0.5" stroke-dasharray="1.1 0.5 0.5 0.5"/>
<g fill="#F7F5F3"><ellipse cx="351" cy="983.3" rx="1.8" ry="1" transform="rotate(100 351 983.3)"/><ellipse cx="346" cy="972.3" rx="2.1" ry="1.2" transform="rotate(96 346 972.3)"/><ellipse cx="411.5" cy="977.4" rx="1.4" ry="0.8" transform="rotate(93 411.5 977.4)"/><ellipse cx="342.6" cy="927.4" rx="0.8" ry="0.5" transform="rotate(154 342.6 927.4)"/><ellipse cx="345.9" cy="968.7" rx="1.5" ry="0.9" transform="rotate(2 345.9 968.7)"/><ellipse cx="347.7" cy="955.2" rx="2.4" ry="1.3" transform="rotate(156 347.7 955.2)"/><ellipse cx="348.2" cy="955.5" rx="2.6" ry="1.4" transform="rotate(19 348.2 955.5)"/><ellipse cx="396.3" cy="944.2" rx="1.3" ry="0.8" transform="rotate(124 396.3 944.2)"/><ellipse cx="363.2" cy="963.8" rx="2.3" ry="1.2" transform="rotate(8 363.2 963.8)"/><ellipse cx="393.9" cy="960" rx="1.9" ry="1" transform="rotate(5 393.9 960)"/><ellipse cx="436.9" cy="954" rx="2.8" ry="1.4" transform="rotate(75 436.9 954)"/><ellipse cx="430.9" cy="974.7" rx="0.7" ry="0.5" transform="rotate(141 430.9 974.7)"/><ellipse cx="393" cy="941.1" rx="2.2" ry="1.2" transform="rotate(57 393 941.1)"/><ellipse cx="363.9" cy="940.5" rx="2.2" ry="1.2" transform="rotate(42 363.9 940.5)"/><ellipse cx="379.7" cy="975" rx="0.8" ry="0.5" transform="rotate(68 379.7 975)"/><ellipse cx="393.1" cy="918.6" rx="1.6" ry="0.9" transform="rotate(150 393.1 918.6)"/><ellipse cx="384.8" cy="918.2" rx="2" ry="1.1" transform="rotate(171 384.8 918.2)"/><ellipse cx="370.9" cy="909.8" rx="1.7" ry="1" transform="rotate(45 370.9 909.8)"/><ellipse cx="376.8" cy="924.1" rx="2.6" ry="1.3" transform="rotate(16 376.8 924.1)"/><ellipse cx="360.8" cy="933.7" rx="2.2" ry="1.2" transform="rotate(60 360.8 933.7)"/><ellipse cx="430.8" cy="909.4" rx="1.2" ry="0.7" transform="rotate(18 430.8 909.4)"/><ellipse cx="421.6" cy="936.3" rx="2.2" ry="1.2" transform="rotate(134 421.6 936.3)"/><ellipse cx="423.6" cy="935.5" rx="1.3" ry="0.8" transform="rotate(135 423.6 935.5)"/><ellipse cx="408.8" cy="931.8" rx="1.8" ry="1" transform="rotate(22 408.8 931.8)"/><ellipse cx="408.1" cy="932.1" rx="2.2" ry="1.2" transform="rotate(61 408.1 932.1)"/><ellipse cx="394.8" cy="917.5" rx="2.9" ry="1.5" transform="rotate(124 394.8 917.5)"/><ellipse cx="420.1" cy="913.8" rx="2.5" ry="1.3" transform="rotate(133 420.1 913.8)"/><ellipse cx="355.4" cy="931.1" rx="1.3" ry="0.8" transform="rotate(130 355.4 931.1)"/><ellipse cx="351.7" cy="930.6" rx="1.3" ry="0.8" transform="rotate(21 351.7 930.6)"/><ellipse cx="368.1" cy="909.1" rx="2.4" ry="1.3" transform="rotate(81 368.1 909.1)"/><ellipse cx="360.7" cy="912.7" rx="1.1" ry="0.7" transform="rotate(105 360.7 912.7)"/><ellipse cx="348" cy="913.4" rx="0.8" ry="0.5" transform="rotate(20 348 913.4)"/><ellipse cx="342.6" cy="910.2" rx="0.7" ry="0.5" transform="rotate(61 342.6 910.2)"/><circle cx="391.4" cy="970.9" r="0.5"/><circle cx="371.2" cy="940.5" r="0.7"/><circle cx="414" cy="931.7" r="0.4"/><circle cx="402.7" cy="928.7" r="0.4"/><circle cx="402.1" cy="947" r="0.9"/><circle cx="390.3" cy="983.4" r="0.4"/><circle cx="384.3" cy="981.6" r="0.7"/><circle cx="344.7" cy="964.7" r="0.8"/><circle cx="411.1" cy="958.3" r="0.9"/><circle cx="408" cy="914.9" r="0.7"/><circle cx="414" cy="975.5" r="0.7"/><circle cx="357" cy="920.9" r="0.9"/><circle cx="381.1" cy="971.4" r="0.8"/><circle cx="343.1" cy="952.6" r="0.6"/><circle cx="356.7" cy="925.6" r="0.5"/><circle cx="416.3" cy="978.8" r="0.9"/><circle cx="413.7" cy="929.3" r="0.8"/><circle cx="345.7" cy="935.4" r="0.5"/></g>
</g>
<text x="429.7" y="981.4" font-size="2.9" text-anchor="middle" fill="#222">20μm</text>
<rect x="426.9" y="982" width="5.6" height="0.9" fill="#111"/>
<path d="M44.4 795 Q47 803 52 807.5 L44.4 807.5Z" fill="#F8F6EE"/>
<line x1="461.7" y1="725.1" x2="461.7" y2="781.3" stroke="#222" stroke-width="0.8"/>
<line x1="461.7" y1="781.3" x2="518.5" y2="781.3" stroke="#222" stroke-width="0.8"/>
<line x1="460.4" y1="725.1" x2="461.7" y2="725.1" stroke="#222" stroke-width="0.72"/>
<text x="459.8" y="726.72" font-size="4.5" text-anchor="end" fill="#222">0.05</text>
<line x1="460.4" y1="736.4" x2="461.7" y2="736.4" stroke="#222" stroke-width="0.72"/>
<text x="459.8" y="738.02" font-size="4.5" text-anchor="end" fill="#222">0.04</text>
<line x1="460.4" y1="747.4" x2="461.7" y2="747.4" stroke="#222" stroke-width="0.72"/>
<text x="459.8" y="749.02" font-size="4.5" text-anchor="end" fill="#222">0.03</text>
<line x1="460.4" y1="758.8" x2="461.7" y2="758.8" stroke="#222" stroke-width="0.72"/>
<text x="459.8" y="760.42" font-size="4.5" text-anchor="end" fill="#222">0.02</text>
<line x1="460.4" y1="770.2" x2="461.7" y2="770.2" stroke="#222" stroke-width="0.72"/>
<text x="459.8" y="771.82" font-size="4.5" text-anchor="end" fill="#222">0.01</text>
<line x1="460.4" y1="781.3" x2="461.7" y2="781.3" stroke="#222" stroke-width="0.72"/>
<text x="459.8" y="782.92" font-size="4.5" text-anchor="end" fill="#222">0.00</text>
<rect x="466.35" y="744.45" width="8" height="36.85" fill="none" stroke="#8C8C8C" stroke-width="0.7"/>
<line x1="470.35" y1="738.7" x2="470.35" y2="750.7" stroke="#8C8C8C" stroke-width="0.7"/>
<line x1="468.44" y1="738.7" x2="472.26" y2="738.7" stroke="#8C8C8C" stroke-width="0.7"/>
<line x1="468.44" y1="750.7" x2="472.26" y2="750.7" stroke="#8C8C8C" stroke-width="0.7"/>
<circle cx="468.85" cy="739.5" r="0.9" fill="#8C8C8C"/>
<circle cx="472.15" cy="739.9" r="0.9" fill="#8C8C8C"/>
<circle cx="470.35" cy="745.5" r="0.9" fill="#8C8C8C"/>
<circle cx="470.35" cy="754.5" r="0.9" fill="#8C8C8C"/>
<line x1="470.35" y1="781.3" x2="470.35" y2="782.7" stroke="#222" stroke-width="0.5"/>
<rect x="479.45" y="760.05" width="8" height="21.25" fill="none" stroke="#3D3DF0" stroke-width="0.7"/>
<line x1="483.45" y1="758.2" x2="483.45" y2="762" stroke="#3D3DF0" stroke-width="0.7"/>
<line x1="481.54" y1="758.2" x2="485.36" y2="758.2" stroke="#3D3DF0" stroke-width="0.7"/>
<line x1="481.54" y1="762" x2="485.36" y2="762" stroke="#3D3DF0" stroke-width="0.7"/>
<rect x="480.55" y="757.6" width="1.8" height="1.8" fill="#3D3DF0"/>
<rect x="484.55" y="757.8" width="1.8" height="1.8" fill="#3D3DF0"/>
<rect x="482.55" y="761.4" width="1.8" height="1.8" fill="#3D3DF0"/>
<rect x="481.05" y="762.7" width="1.8" height="1.8" fill="#3D3DF0"/>
<rect x="484.05" y="762.3" width="1.8" height="1.8" fill="#3D3DF0"/>
<line x1="483.45" y1="781.3" x2="483.45" y2="782.7" stroke="#222" stroke-width="0.5"/>
<rect x="492.55" y="762.35" width="8.1" height="18.95" fill="none" stroke="#FF9326" stroke-width="0.7"/>
<line x1="496.6" y1="758.5" x2="496.6" y2="765" stroke="#FF9326" stroke-width="0.7"/>
<line x1="494.66" y1="758.5" x2="498.54" y2="758.5" stroke="#FF9326" stroke-width="0.7"/>
<line x1="494.66" y1="765" x2="498.54" y2="765" stroke="#FF9326" stroke-width="0.7"/>
<path d="M496.6 756.81L497.5 758.52L495.7 758.52z" fill="#FF9326"/>
<path d="M494.6 764.21L495.5 765.92L493.7 765.92z" fill="#FF9326"/>
<path d="M498.8 761.81L499.7 763.52L497.9 763.52z" fill="#FF9326"/>
<path d="M496.6 763.51L497.5 765.22L495.7 765.22z" fill="#FF9326"/>
<line x1="496.6" y1="781.3" x2="496.6" y2="782.7" stroke="#222" stroke-width="0.5"/>
<rect x="505.75" y="760.05" width="8" height="21.25" fill="none" stroke="#FF6464" stroke-width="0.7"/>
<line x1="509.75" y1="756.5" x2="509.75" y2="762.5" stroke="#FF6464" stroke-width="0.7"/>
<line x1="507.84" y1="756.5" x2="511.66" y2="756.5" stroke="#FF6464" stroke-width="0.7"/>
<line x1="507.84" y1="762.5" x2="511.66" y2="762.5" stroke="#FF6464" stroke-width="0.7"/>
<path d="M509.75 755.79L510.65 754.08L508.85 754.08z" fill="#FF6464"/>
<path d="M507.55 760.19L508.45 758.48L506.65 758.48z" fill="#FF6464"/>
<path d="M511.95 760.59L512.85 758.88L511.05 758.88z" fill="#FF6464"/>
<path d="M509.75 764.69L510.65 762.98L508.85 762.98z" fill="#FF6464"/>
<line x1="509.75" y1="781.3" x2="509.75" y2="782.7" stroke="#222" stroke-width="0.5"/>
<line x1="470" y1="725.1" x2="495.6" y2="725.1" stroke="#555" stroke-width="1"/>
<text x="482.8" y="726.3" font-size="8" text-anchor="middle" fill="#555" font-weight="bold">***</text>
<line x1="498.1" y1="725.1" x2="510.9" y2="725.1" stroke="#888" stroke-width="1"/>
<text x="504.5" y="723.5" font-size="5" text-anchor="middle" fill="#888">ns</text>
<text x="471.75" y="784.9" font-size="4.1" text-anchor="end" fill="#222" transform="rotate(-45 471.75 784.9)">CCl<tspan font-size="0.62em">4</tspan></text>
<text x="484.85" y="784.9" font-size="4.1" text-anchor="end" fill="#222" transform="rotate(-45 484.85 784.9)">CCl<tspan font-size="0.62em">4</tspan>+IPA</text>
<text x="498" y="784.9" font-size="4.1" text-anchor="end" fill="#222" transform="rotate(-45 498 784.9)">Sh-S100A8/A9</text>
<text x="511.15" y="784.9" font-size="4.1" text-anchor="end" fill="#222" transform="rotate(-45 511.15 784.9)">Sh-S100A8/A9+IPA</text>
<text x="447.1" y="755" font-size="4.6" text-anchor="middle" fill="#222" transform="rotate(-90 447.1 755)">Sirius Red Staining Area</text>
<line x1="461.7" y1="816.4" x2="461.7" y2="873.2" stroke="#222" stroke-width="0.8"/>
<line x1="461.7" y1="873.2" x2="518.5" y2="873.2" stroke="#222" stroke-width="0.8"/>
<line x1="460.4" y1="816.4" x2="461.7" y2="816.4" stroke="#222" stroke-width="0.72"/>
<text x="459.8" y="818.02" font-size="4.5" text-anchor="end" fill="#222">0.03</text>
<line x1="460.4" y1="835.4" x2="461.7" y2="835.4" stroke="#222" stroke-width="0.72"/>
<text x="459.8" y="837.02" font-size="4.5" text-anchor="end" fill="#222">0.02</text>
<line x1="460.4" y1="854.3" x2="461.7" y2="854.3" stroke="#222" stroke-width="0.72"/>
<text x="459.8" y="855.92" font-size="4.5" text-anchor="end" fill="#222">0.01</text>
<line x1="460.4" y1="873.2" x2="461.7" y2="873.2" stroke="#222" stroke-width="0.72"/>
<text x="459.8" y="874.82" font-size="4.5" text-anchor="end" fill="#222">0.00</text>
<rect x="466.35" y="830.85" width="8" height="42.35" fill="none" stroke="#8C8C8C" stroke-width="0.7"/>
<line x1="470.35" y1="824.2" x2="470.35" y2="837.7" stroke="#8C8C8C" stroke-width="0.7"/>
<line x1="468.44" y1="824.2" x2="472.26" y2="824.2" stroke="#8C8C8C" stroke-width="0.7"/>
<line x1="468.44" y1="837.7" x2="472.26" y2="837.7" stroke="#8C8C8C" stroke-width="0.7"/>
<circle cx="470.35" cy="820.8" r="0.9" fill="#8C8C8C"/>
<circle cx="468.85" cy="832.6" r="0.9" fill="#8C8C8C"/>
<circle cx="472.15" cy="834.8" r="0.9" fill="#8C8C8C"/>
<circle cx="470.35" cy="840.8" r="0.9" fill="#8C8C8C"/>
<line x1="470.35" y1="873.2" x2="470.35" y2="874.6" stroke="#222" stroke-width="0.5"/>
<rect x="479.45" y="844.45" width="8" height="28.75" fill="none" stroke="#3D3DF0" stroke-width="0.7"/>
<line x1="483.45" y1="839.6" x2="483.45" y2="849.1" stroke="#3D3DF0" stroke-width="0.7"/>
<line x1="481.54" y1="839.6" x2="485.36" y2="839.6" stroke="#3D3DF0" stroke-width="0.7"/>
<line x1="481.54" y1="849.1" x2="485.36" y2="849.1" stroke="#3D3DF0" stroke-width="0.7"/>
<rect x="482.55" y="837.6" width="1.8" height="1.8" fill="#3D3DF0"/>
<rect x="480.55" y="842.7" width="1.8" height="1.8" fill="#3D3DF0"/>
<rect x="484.55" y="843.1" width="1.8" height="1.8" fill="#3D3DF0"/>
<rect x="482.55" y="847.5" width="1.8" height="1.8" fill="#3D3DF0"/>
<line x1="483.45" y1="873.2" x2="483.45" y2="874.6" stroke="#222" stroke-width="0.5"/>
<rect x="492.55" y="846.65" width="8.1" height="26.55" fill="none" stroke="#FF9326" stroke-width="0.7"/>
<line x1="496.6" y1="839.8" x2="496.6" y2="850.4" stroke="#FF9326" stroke-width="0.7"/>
<line x1="494.66" y1="839.8" x2="498.54" y2="839.8" stroke="#FF9326" stroke-width="0.7"/>
<line x1="494.66" y1="850.4" x2="498.54" y2="850.4" stroke="#FF9326" stroke-width="0.7"/>
<path d="M496.6 838.61L497.5 840.32L495.7 840.32z" fill="#FF9326"/>
<path d="M494.6 846.51L495.5 848.22L493.7 848.22z" fill="#FF9326"/>
<path d="M498.6 845.51L499.5 847.22L497.7 847.22z" fill="#FF9326"/>
<path d="M496.6 844.41L497.5 846.12L495.7 846.12z" fill="#FF9326"/>
<line x1="496.6" y1="873.2" x2="496.6" y2="874.6" stroke="#222" stroke-width="0.5"/>
<rect x="505.75" y="845.05" width="8" height="28.15" fill="none" stroke="#FF6464" stroke-width="0.7"/>
<line x1="509.75" y1="838.8" x2="509.75" y2="850.2" stroke="#FF6464" stroke-width="0.7"/>
<line x1="507.84" y1="838.8" x2="511.66" y2="838.8" stroke="#FF6464" stroke-width="0.7"/>
<line x1="507.84" y1="850.2" x2="511.66" y2="850.2" stroke="#FF6464" stroke-width="0.7"/>
<path d="M509.75 837.59L510.65 835.88L508.85 835.88z" fill="#FF6464"/>
<path d="M507.75 850.99L508.65 849.28L506.85 849.28z" fill="#FF6464"/>
<path d="M512.15 847.49L513.05 845.78L511.25 845.78z" fill="#FF6464"/>
<path d="M509.75 849.19L510.65 847.48L508.85 847.48z" fill="#FF6464"/>
<line x1="509.75" y1="873.2" x2="509.75" y2="874.6" stroke="#222" stroke-width="0.5"/>
<line x1="470" y1="816.4" x2="495.6" y2="816.4" stroke="#555" stroke-width="1"/>
<text x="482.8" y="817.6" font-size="8" text-anchor="middle" fill="#555" font-weight="bold">**</text>
<line x1="498.1" y1="816.4" x2="510.9" y2="816.4" stroke="#888" stroke-width="1"/>
<text x="504.5" y="814.8" font-size="5" text-anchor="middle" fill="#888">ns</text>
<text x="471.75" y="876.8" font-size="4.1" text-anchor="end" fill="#222" transform="rotate(-45 471.75 876.8)">CCl<tspan font-size="0.62em">4</tspan></text>
<text x="484.85" y="876.8" font-size="4.1" text-anchor="end" fill="#222" transform="rotate(-45 484.85 876.8)">CCl<tspan font-size="0.62em">4</tspan>+IPA</text>
<text x="498" y="876.8" font-size="4.1" text-anchor="end" fill="#222" transform="rotate(-45 498 876.8)">Sh-S100A8/A9</text>
<text x="511.15" y="876.8" font-size="4.1" text-anchor="end" fill="#222" transform="rotate(-45 511.15 876.8)">Sh-S100A8/A9+IPA</text>
<text x="446.8" y="845" font-size="4.6" text-anchor="middle" fill="#222" transform="rotate(-90 446.8 845)">COL1A1 Staining Area</text>
<line x1="462.4" y1="906.3" x2="462.4" y2="961.4" stroke="#222" stroke-width="0.8"/>
<line x1="462.4" y1="961.4" x2="519.2" y2="961.4" stroke="#222" stroke-width="0.8"/>
<line x1="461.1" y1="906.3" x2="462.4" y2="906.3" stroke="#222" stroke-width="0.72"/>
<text x="460.5" y="907.92" font-size="4.5" text-anchor="end" fill="#222">0.025</text>
<line x1="461.1" y1="917.7" x2="462.4" y2="917.7" stroke="#222" stroke-width="0.72"/>
<text x="460.5" y="919.32" font-size="4.5" text-anchor="end" fill="#222">0.020</text>
<line x1="461.1" y1="928.7" x2="462.4" y2="928.7" stroke="#222" stroke-width="0.72"/>
<text x="460.5" y="930.32" font-size="4.5" text-anchor="end" fill="#222">0.015</text>
<line x1="461.1" y1="939.6" x2="462.4" y2="939.6" stroke="#222" stroke-width="0.72"/>
<text x="460.5" y="941.22" font-size="4.5" text-anchor="end" fill="#222">0.010</text>
<line x1="461.1" y1="950.6" x2="462.4" y2="950.6" stroke="#222" stroke-width="0.72"/>
<text x="460.5" y="952.22" font-size="4.5" text-anchor="end" fill="#222">0.005</text>
<line x1="461.1" y1="961.4" x2="462.4" y2="961.4" stroke="#222" stroke-width="0.72"/>
<text x="460.5" y="963.02" font-size="4.5" text-anchor="end" fill="#222">0.000</text>
<rect x="466.35" y="919.05" width="8" height="42.35" fill="none" stroke="#8C8C8C" stroke-width="0.7"/>
<line x1="470.35" y1="913.5" x2="470.35" y2="925" stroke="#8C8C8C" stroke-width="0.7"/>
<line x1="468.44" y1="913.5" x2="472.26" y2="913.5" stroke="#8C8C8C" stroke-width="0.7"/>
<line x1="468.44" y1="925" x2="472.26" y2="925" stroke="#8C8C8C" stroke-width="0.7"/>
<circle cx="470.35" cy="912.5" r="0.9" fill="#8C8C8C"/>
<circle cx="468.55" cy="917.2" r="0.9" fill="#8C8C8C"/>
<circle cx="472.35" cy="917.3" r="0.9" fill="#8C8C8C"/>
<circle cx="470.35" cy="923.6" r="0.9" fill="#8C8C8C"/>
<line x1="470.35" y1="961.4" x2="470.35" y2="962.8" stroke="#222" stroke-width="0.5"/>
<rect x="479.45" y="927.45" width="8" height="33.95" fill="none" stroke="#3D3DF0" stroke-width="0.7"/>
<line x1="483.45" y1="924.3" x2="483.45" y2="934.8" stroke="#3D3DF0" stroke-width="0.7"/>
<line x1="481.54" y1="924.3" x2="485.36" y2="924.3" stroke="#3D3DF0" stroke-width="0.7"/>
<line x1="481.54" y1="934.8" x2="485.36" y2="934.8" stroke="#3D3DF0" stroke-width="0.7"/>
<rect x="482.55" y="923.8" width="1.8" height="1.8" fill="#3D3DF0"/>
<rect x="480.55" y="927.2" width="1.8" height="1.8" fill="#3D3DF0"/>
<rect x="484.55" y="928.2" width="1.8" height="1.8" fill="#3D3DF0"/>
<rect x="482.55" y="936.9" width="1.8" height="1.8" fill="#3D3DF0"/>
<line x1="483.45" y1="961.4" x2="483.45" y2="962.8" stroke="#222" stroke-width="0.5"/>
<rect x="492.55" y="929.05" width="8.1" height="32.35" fill="none" stroke="#FF9326" stroke-width="0.7"/>
<line x1="496.6" y1="925.5" x2="496.6" y2="931" stroke="#FF9326" stroke-width="0.7"/>
<line x1="494.66" y1="925.5" x2="498.54" y2="925.5" stroke="#FF9326" stroke-width="0.7"/>
<line x1="494.66" y1="931" x2="498.54" y2="931" stroke="#FF9326" stroke-width="0.7"/>
<path d="M496.6 923.91L497.5 925.62L495.7 925.62z" fill="#FF9326"/>
<path d="M494.6 927.91L495.5 929.62L493.7 929.62z" fill="#FF9326"/>
<path d="M498.6 927.91L499.5 929.62L497.7 929.62z" fill="#FF9326"/>
<path d="M496.6 926.31L497.5 928.02L495.7 928.02z" fill="#FF9326"/>
<line x1="496.6" y1="961.4" x2="496.6" y2="962.8" stroke="#222" stroke-width="0.5"/>
<rect x="505.75" y="930.45" width="8" height="30.95" fill="none" stroke="#FF6464" stroke-width="0.7"/>
<line x1="509.75" y1="926" x2="509.75" y2="932.5" stroke="#FF6464" stroke-width="0.7"/>
<line x1="507.84" y1="926" x2="511.66" y2="926" stroke="#FF6464" stroke-width="0.7"/>
<line x1="507.84" y1="932.5" x2="511.66" y2="932.5" stroke="#FF6464" stroke-width="0.7"/>
<path d="M509.75 926.59L510.65 924.88L508.85 924.88z" fill="#FF6464"/>
<path d="M507.65 930.99L508.55 929.28L506.75 929.28z" fill="#FF6464"/>
<path d="M511.85 930.99L512.75 929.28L510.95 929.28z" fill="#FF6464"/>
<path d="M509.75 934.29L510.65 932.58L508.85 932.58z" fill="#FF6464"/>
<line x1="509.75" y1="961.4" x2="509.75" y2="962.8" stroke="#222" stroke-width="0.5"/>
<line x1="470" y1="906.3" x2="495.6" y2="906.3" stroke="#555" stroke-width="1"/>
<text x="482.8" y="907.5" font-size="8" text-anchor="middle" fill="#555" font-weight="bold">**</text>
<line x1="498.1" y1="906.3" x2="510.9" y2="906.3" stroke="#888" stroke-width="1"/>
<text x="504.5" y="904.7" font-size="5" text-anchor="middle" fill="#888">ns</text>
<text x="471.75" y="965" font-size="4.1" text-anchor="end" fill="#222" transform="rotate(-45 471.75 965)">CCl<tspan font-size="0.62em">4</tspan></text>
<text x="484.85" y="965" font-size="4.1" text-anchor="end" fill="#222" transform="rotate(-45 484.85 965)">CCl<tspan font-size="0.62em">4</tspan>+IPA</text>
<text x="498" y="965" font-size="4.1" text-anchor="end" fill="#222" transform="rotate(-45 498 965)">Sh-S100A8/A9</text>
<text x="511.15" y="965" font-size="4.1" text-anchor="end" fill="#222" transform="rotate(-45 511.15 965)">Sh-S100A8/A9+IPA</text>
<text x="446.8" y="935" font-size="4.6" text-anchor="middle" fill="#222" transform="rotate(-90 446.8 935)">α-SMA Staining Area</text>
<text x="538.2" y="739.8" font-size="19.5" font-weight="bold">K</text>
<text x="629.6" y="733.2" font-size="9.2" text-anchor="middle" fill="#111">S1P</text>
<line x1="593" y1="744.5" x2="593" y2="827.3" stroke="#333" stroke-width="0.9"/>
<line x1="593" y1="827.3" x2="676.2" y2="827.3" stroke="#333" stroke-width="0.9"/>
<line x1="591.7" y1="744.5" x2="593" y2="744.5" stroke="#333" stroke-width="0.81"/>
<text x="590.7" y="746.73" font-size="6.2" text-anchor="end" fill="#333">6000</text>
<line x1="591.7" y1="765.3" x2="593" y2="765.3" stroke="#333" stroke-width="0.81"/>
<text x="590.7" y="767.53" font-size="6.2" text-anchor="end" fill="#333">5000</text>
<line x1="591.7" y1="785.7" x2="593" y2="785.7" stroke="#333" stroke-width="0.81"/>
<text x="590.7" y="787.93" font-size="6.2" text-anchor="end" fill="#333">4000</text>
<line x1="591.7" y1="806.5" x2="593" y2="806.5" stroke="#333" stroke-width="0.81"/>
<text x="590.7" y="808.73" font-size="6.2" text-anchor="end" fill="#333">3000</text>
<line x1="591.7" y1="827.3" x2="593" y2="827.3" stroke="#333" stroke-width="0.81"/>
<text x="590.7" y="829.53" font-size="6.2" text-anchor="end" fill="#333">2000</text>
<rect x="599.6" y="778.4" width="12.3" height="48.9" fill="none" stroke="#D0D0D0" stroke-width="0.8"/>
<line x1="605.75" y1="776.3" x2="605.75" y2="778" stroke="#D0D0D0" stroke-width="0.8"/>
<line x1="602.87" y1="776.3" x2="608.63" y2="776.3" stroke="#D0D0D0" stroke-width="0.8"/>
<line x1="605.75" y1="827.3" x2="605.75" y2="829.2" stroke="#333" stroke-width="0.5"/>
<rect x="618.6" y="794.2" width="12.3" height="33.1" fill="none" stroke="#A9A9F2" stroke-width="0.8"/>
<line x1="624.75" y1="787.4" x2="624.75" y2="800" stroke="#A9A9F2" stroke-width="0.8"/>
<line x1="621.87" y1="787.4" x2="627.63" y2="787.4" stroke="#A9A9F2" stroke-width="0.8"/>
<line x1="621.87" y1="800" x2="627.63" y2="800" stroke="#A9A9F2" stroke-width="0.8"/>
<line x1="624.75" y1="827.3" x2="624.75" y2="829.2" stroke="#333" stroke-width="0.5"/>
<rect x="637.7" y="760.3" width="12.3" height="67" fill="none" stroke="#FFC58A" stroke-width="0.8"/>
<line x1="643.85" y1="755.5" x2="643.85" y2="759.9" stroke="#FFC58A" stroke-width="0.8"/>
<line x1="640.97" y1="755.5" x2="646.73" y2="755.5" stroke="#FFC58A" stroke-width="0.8"/>
<line x1="643.85" y1="827.3" x2="643.85" y2="829.2" stroke="#333" stroke-width="0.5"/>
<rect x="656.9" y="761.6" width="11.9" height="65.7" fill="none" stroke="#FFB3B3" stroke-width="0.8"/>
<line x1="662.85" y1="758.3" x2="662.85" y2="761.2" stroke="#FFB3B3" stroke-width="0.8"/>
<line x1="660.06" y1="758.3" x2="665.64" y2="758.3" stroke="#FFB3B3" stroke-width="0.8"/>
<line x1="662.85" y1="827.3" x2="662.85" y2="829.2" stroke="#333" stroke-width="0.5"/>
<line x1="607.9" y1="745.8" x2="625.4" y2="745.8" stroke="#444" stroke-width="0.9"/>
<text x="616.65" y="745.2" font-size="8.5" text-anchor="middle" fill="#444" font-weight="bold">*</text>
<line x1="641.2" y1="745.8" x2="658.7" y2="745.8" stroke="#444" stroke-width="0.9"/>
<text x="649.95" y="741.8" font-size="6.6" text-anchor="middle" fill="#444">ns</text>
<text x="588.6" y="839.8" font-size="6.8" text-anchor="end" fill="#222">IPA</text>
<text x="595.2" y="850.7" font-size="6.8" text-anchor="end" fill="#222" textLength="33.9" lengthAdjust="spacingAndGlyphs">CH223191</text>
<text x="605.1" y="839.8" font-size="6.8" text-anchor="middle" fill="#222">-</text>
<text x="605.1" y="850.7" font-size="6.8" text-anchor="middle" fill="#222">-</text>
<text x="624.1" y="839.8" font-size="6.8" text-anchor="middle" fill="#222">+</text>
<text x="624.1" y="850.7" font-size="6.8" text-anchor="middle" fill="#222">-</text>
<text x="645.6" y="839.8" font-size="6.8" text-anchor="middle" fill="#222">-</text>
<text x="645.6" y="850.7" font-size="6.8" text-anchor="middle" fill="#222">+</text>
<text x="664.2" y="839.8" font-size="6.8" text-anchor="middle" fill="#222">+</text>
<text x="664.2" y="850.7" font-size="6.8" text-anchor="middle" fill="#222">+</text>
<text x="570.3" y="785.7" font-size="7.1" text-anchor="middle" fill="#222" transform="rotate(-90 570.3 785.7)">S1P (nmol/L)</text>
<text x="537" y="871.6" font-size="19.5" font-weight="bold">L</text>
<text x="632.4" y="871.6" font-size="8.4" text-anchor="middle" fill="#111">SPHK2</text>
<line x1="603.3" y1="882.8" x2="603.3" y2="970" stroke="#333" stroke-width="0.9"/>
<line x1="603.3" y1="970" x2="662" y2="970" stroke="#333" stroke-width="0.9"/>
<line x1="602" y1="882.8" x2="603.3" y2="882.8" stroke="#333" stroke-width="0.81"/>
<text x="601" y="885.03" font-size="6.2" text-anchor="end" fill="#333">5</text>
<line x1="602" y1="900.3" x2="603.3" y2="900.3" stroke="#333" stroke-width="0.81"/>
<text x="601" y="902.53" font-size="6.2" text-anchor="end" fill="#333">4</text>
<line x1="602" y1="917.8" x2="603.3" y2="917.8" stroke="#333" stroke-width="0.81"/>
<text x="601" y="920.03" font-size="6.2" text-anchor="end" fill="#333">3</text>
<line x1="602" y1="935.4" x2="603.3" y2="935.4" stroke="#333" stroke-width="0.81"/>
<text x="601" y="937.63" font-size="6.2" text-anchor="end" fill="#333">2</text>
<line x1="602" y1="952.9" x2="603.3" y2="952.9" stroke="#333" stroke-width="0.81"/>
<text x="601" y="955.13" font-size="6.2" text-anchor="end" fill="#333">1</text>
<line x1="602" y1="970" x2="603.3" y2="970" stroke="#333" stroke-width="0.81"/>
<text x="601" y="972.23" font-size="6.2" text-anchor="end" fill="#333">0</text>
<rect x="611.6" y="952.9" width="16.9" height="17.1" fill="#9A9A9A"/>
<line x1="620.05" y1="949.2" x2="620.05" y2="952.9" stroke="#9A9A9A" stroke-width="0.7"/>
<line x1="616.33" y1="949.2" x2="623.77" y2="949.2" stroke="#9A9A9A" stroke-width="0.7"/>
<rect x="636.8" y="905.8" width="16.4" height="64.2" fill="#5252F2"/>
<line x1="645" y1="891.1" x2="645" y2="905.8" stroke="#5252F2" stroke-width="0.7"/>
<line x1="641.39" y1="891.1" x2="648.61" y2="891.1" stroke="#5252F2" stroke-width="0.7"/>
<line x1="620" y1="970" x2="620" y2="971.8" stroke="#333" stroke-width="0.5"/>
<line x1="645" y1="970" x2="645" y2="971.8" stroke="#333" stroke-width="0.5"/>
<line x1="620" y1="888.9" x2="640.8" y2="888.9" stroke="#222" stroke-width="1"/>
<text x="630.4" y="890.2" font-size="11" text-anchor="middle" fill="#222" font-weight="bold">**</text>
<text x="620" y="980.6" font-size="6.4" text-anchor="middle" fill="#222">IgG</text>
<text x="644.5" y="980.6" font-size="6.4" text-anchor="middle" fill="#222">AhR</text>
<text x="587.3" y="926.7" font-size="6.9" text-anchor="middle" fill="#222" transform="rotate(-90 587.3 926.7)">Relative DNA expression</text>
</svg></body></html>
